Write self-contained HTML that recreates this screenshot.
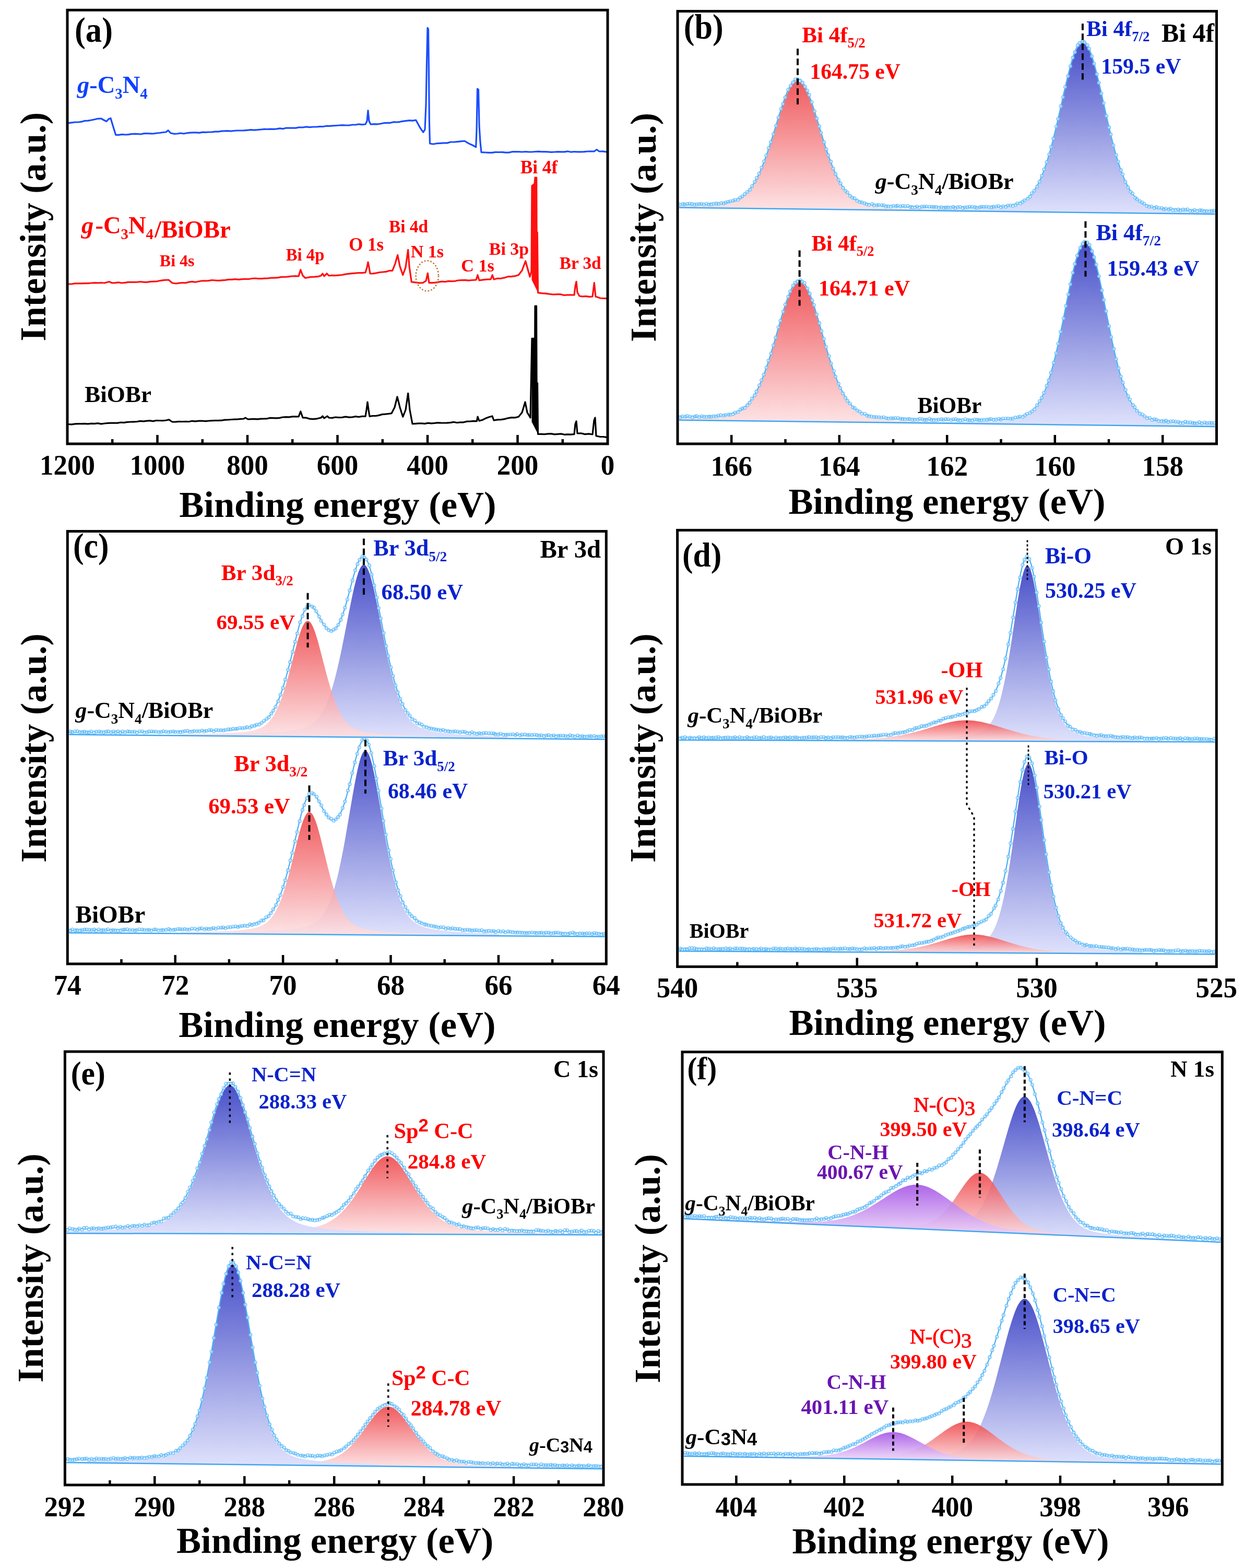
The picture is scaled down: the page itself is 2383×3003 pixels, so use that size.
<!DOCTYPE html><html><head><meta charset="utf-8"><style>html,body{margin:0;padding:0;background:#fff;}svg{display:block;} text{font-family:"Liberation Serif","Times New Roman",serif;font-weight:bold;}</style></head><body><svg width="2383" height="3003" viewBox="0 0 2383 3003"><rect width="2383" height="3003" fill="#fff"/><defs><linearGradient id="g1" x1="0" y1="0" x2="0" y2="1"><stop offset="0" stop-color="#3f47c6"/><stop offset="1" stop-color="#dde0fb"/></linearGradient><linearGradient id="g2" x1="0" y1="0" x2="0" y2="1"><stop offset="0" stop-color="#ee4448"/><stop offset="1" stop-color="#fde0e2"/></linearGradient><linearGradient id="g3" x1="0" y1="0" x2="0" y2="1"><stop offset="0" stop-color="#ee4448"/><stop offset="1" stop-color="#fde0e2"/></linearGradient><linearGradient id="g4" x1="0" y1="0" x2="0" y2="1"><stop offset="0" stop-color="#3f47c6"/><stop offset="1" stop-color="#dde0fb"/></linearGradient><linearGradient id="g5" x1="0" y1="0" x2="0" y2="1"><stop offset="0" stop-color="#3f47c6"/><stop offset="1" stop-color="#dde0fb"/></linearGradient><linearGradient id="g6" x1="0" y1="0" x2="0" y2="1"><stop offset="0" stop-color="#ee4448"/><stop offset="1" stop-color="#fde0e2"/></linearGradient><linearGradient id="g7" x1="0" y1="0" x2="0" y2="1"><stop offset="0" stop-color="#3f47c6"/><stop offset="1" stop-color="#dde0fb"/></linearGradient><linearGradient id="g8" x1="0" y1="0" x2="0" y2="1"><stop offset="0" stop-color="#ee4448"/><stop offset="1" stop-color="#fde0e2"/></linearGradient><linearGradient id="g9" x1="0" y1="0" x2="0" y2="1"><stop offset="0" stop-color="#3f47c6"/><stop offset="1" stop-color="#dde0fb"/></linearGradient><linearGradient id="g10" x1="0" y1="0" x2="0" y2="1"><stop offset="0" stop-color="#ee4448"/><stop offset="1" stop-color="#fde0e2"/></linearGradient><linearGradient id="g11" x1="0" y1="0" x2="0" y2="1"><stop offset="0" stop-color="#3f47c6"/><stop offset="1" stop-color="#dde0fb"/></linearGradient><linearGradient id="g12" x1="0" y1="0" x2="0" y2="1"><stop offset="0" stop-color="#ee4448"/><stop offset="1" stop-color="#fde0e2"/></linearGradient><linearGradient id="g13" x1="0" y1="0" x2="0" y2="1"><stop offset="0" stop-color="#ee4448"/><stop offset="1" stop-color="#fde0e2"/></linearGradient><linearGradient id="g14" x1="0" y1="0" x2="0" y2="1"><stop offset="0" stop-color="#3f47c6"/><stop offset="1" stop-color="#dde0fb"/></linearGradient><linearGradient id="g15" x1="0" y1="0" x2="0" y2="1"><stop offset="0" stop-color="#ee4448"/><stop offset="1" stop-color="#fde0e2"/></linearGradient><linearGradient id="g16" x1="0" y1="0" x2="0" y2="1"><stop offset="0" stop-color="#3f47c6"/><stop offset="1" stop-color="#dde0fb"/></linearGradient><linearGradient id="g17" x1="0" y1="0" x2="0" y2="1"><stop offset="0" stop-color="#3f47c6"/><stop offset="1" stop-color="#dde0fb"/></linearGradient><linearGradient id="g18" x1="0" y1="0" x2="0" y2="1"><stop offset="0" stop-color="#ee4448"/><stop offset="1" stop-color="#fde0e2"/></linearGradient><linearGradient id="g19" x1="0" y1="0" x2="0" y2="1"><stop offset="0" stop-color="#a655e6"/><stop offset="1" stop-color="#f3e2fb"/></linearGradient><linearGradient id="g20" x1="0" y1="0" x2="0" y2="1"><stop offset="0" stop-color="#3f47c6"/><stop offset="1" stop-color="#dde0fb"/></linearGradient><linearGradient id="g21" x1="0" y1="0" x2="0" y2="1"><stop offset="0" stop-color="#ee4448"/><stop offset="1" stop-color="#fde0e2"/></linearGradient><linearGradient id="g22" x1="0" y1="0" x2="0" y2="1"><stop offset="0" stop-color="#a655e6"/><stop offset="1" stop-color="#f3e2fb"/></linearGradient></defs><path d="M1018.5,536 L1019,356 L1024,352 L1025,340 L1027.7,340 L1028,445 L1029.3,445 L1030.5,560.6 Z" fill="#ff1010"/>
<path d="M1018.5,808 L1019,648.3 L1024.7,648.3 L1025,586 L1027.5,586 L1028,733.5 L1029.5,733.5 L1030.5,831.3 Z" fill="#000"/>
<path d="M131.0,235.6 L137.3,234.8 L143.7,234.0 L150.0,234.0 L156.2,233.2 L162.5,231.3 L168.8,231.1 L175.0,230.0 L181.2,228.8 L187.4,227.3 L193.6,227.0 L199.0,230.0 L204.0,232.5 L208.0,228.0 L212.0,226.5 L216.0,240.0 L221.7,258.4 L227.8,258.3 L233.9,257.4 L240.0,258.0 L246.0,257.6 L252.0,256.7 L258.0,256.4 L264.0,256.7 L270.0,257.0 L276.0,255.6 L282.0,255.5 L288.0,255.8 L294.0,256.0 L300.0,255.0 L306.0,254.5 L312.0,253.5 L318.0,253.0 L322.0,249.7 L327.0,255.0 L333.5,256.3 L340.0,256.0 L346.0,255.0 L352.0,256.0 L358.0,254.8 L364.0,254.2 L370.0,253.9 L376.0,253.9 L382.0,254.4 L388.0,253.1 L394.0,253.4 L400.0,253.0 L406.0,252.9 L412.0,252.2 L418.0,252.2 L424.0,251.1 L430.0,250.8 L436.0,250.7 L442.0,251.2 L448.0,250.5 L454.0,250.0 L460.0,250.0 L466.7,249.8 L473.3,249.3 L480.0,248.7 L486.7,249.1 L493.3,248.7 L500.0,248.0 L506.0,247.3 L512.0,247.5 L518.0,247.1 L524.0,247.4 L530.0,246.9 L536.0,245.9 L542.0,246.7 L548.0,245.0 L554.0,245.2 L560.0,245.0 L566.7,245.1 L573.3,243.8 L580.0,244.0 L586.7,242.9 L593.3,243.6 L600.0,243.0 L606.2,243.0 L612.5,242.4 L618.8,242.5 L625.0,241.2 L631.2,241.4 L637.5,240.9 L643.8,240.5 L650.0,240.0 L656.2,239.7 L662.5,240.0 L668.8,240.0 L675.0,239.0 L681.2,239.0 L687.5,237.8 L693.8,238.6 L700.0,238.0 L703.0,232.0 L705.0,211.7 L707.0,232.0 L710.0,238.0 L716.2,237.7 L722.5,237.8 L728.8,237.0 L735.0,235.7 L741.2,235.3 L747.5,235.3 L753.8,233.7 L760.0,234.0 L766.1,233.3 L772.2,232.1 L778.4,231.4 L784.5,230.6 L790.6,231.1 L796.7,230.0 L805.0,245.0 L810.7,253.3 L814.0,248.0 L816.0,200.0 L817.5,120.0 L819.0,53.3 L820.5,56.0 L821.5,140.0 L822.3,230.0 L823.5,275.0 L830.0,276.0 L836.7,274.7 L843.3,274.3 L850.0,273.8 L856.7,273.9 L863.3,272.0 L870.0,272.0 L876.7,271.3 L883.3,270.7 L890.0,270.0 L897.5,274.6 L905.0,278.0 L911.7,281.7 L913.0,250.0 L914.5,170.0 L916.5,172.0 L918.0,240.0 L920.0,272.0 L922.0,291.7 L930.0,292.0 L936.4,292.4 L942.7,292.4 L949.1,291.4 L955.5,291.5 L961.8,291.3 L968.2,292.1 L974.5,292.1 L980.9,290.7 L987.3,290.7 L993.6,290.7 L1000.0,291.0 L1006.2,290.5 L1012.5,290.9 L1018.8,291.0 L1025.0,290.5 L1031.2,290.1 L1037.5,290.7 L1043.8,290.6 L1050.0,290.9 L1056.2,291.4 L1062.5,291.0 L1068.8,290.7 L1075.0,290.8 L1081.2,290.9 L1087.5,289.8 L1093.8,291.2 L1100.0,290.5 L1106.3,290.9 L1112.7,290.9 L1119.0,290.7 L1125.3,290.0 L1131.7,289.9 L1138.0,290.0 L1143.0,286.5 L1148.0,290.0 L1155.0,289.9 L1162.0,291.0" fill="none" stroke="#1a4cff" stroke-width="3.2" stroke-linejoin="round"/>
<path d="M131.0,544.0 L137.3,544.0 L143.5,542.9 L149.8,542.8 L156.1,542.8 L162.4,542.6 L168.6,542.7 L174.9,542.0 L181.2,541.7 L187.5,541.8 L193.7,541.5 L200.0,542.0 L209.0,539.5 L215.0,542.0 L221.1,541.6 L227.1,540.8 L233.2,542.0 L239.3,541.3 L245.4,540.4 L251.4,540.3 L257.5,540.3 L263.6,540.1 L269.6,539.5 L275.7,540.4 L281.8,540.4 L287.9,539.4 L293.9,539.2 L300.0,539.0 L307.7,537.3 L315.3,536.4 L323.0,536.0 L330.0,542.0 L337.0,543.0 L343.2,542.2 L349.4,541.5 L355.7,541.8 L361.9,540.1 L368.1,539.3 L374.3,540.3 L380.6,539.0 L386.8,537.8 L393.0,537.8 L399.4,537.6 L405.8,536.5 L412.2,537.0 L418.7,537.4 L425.1,536.9 L431.5,536.4 L437.9,535.4 L444.3,535.3 L450.8,534.6 L457.2,535.3 L463.6,534.6 L470.0,534.3 L476.2,534.5 L482.5,533.5 L488.8,533.0 L495.0,533.6 L501.2,533.6 L507.5,533.1 L513.8,532.8 L520.0,532.0 L526.5,532.1 L533.0,531.6 L539.5,530.4 L546.0,530.5 L552.5,529.9 L559.0,529.0 L565.5,528.6 L572.0,529.0 L575.8,516.7 L580.0,528.0 L585.0,532.5 L591.0,531.2 L597.0,530.3 L603.0,530.1 L609.0,529.6 L615.0,528.0 L618.0,524.0 L621.0,529.0 L626.0,523.8 L630.0,528.0 L636.4,527.4 L642.7,527.6 L649.1,527.1 L655.5,526.5 L661.8,525.1 L668.2,524.3 L674.5,523.7 L680.9,523.2 L687.3,522.6 L693.6,522.7 L700.0,522.0 L703.0,512.0 L705.0,502.0 L707.0,512.0 L709.0,524.0 L715.1,523.8 L721.2,522.9 L727.3,521.5 L733.4,521.0 L739.5,520.4 L745.6,518.4 L751.7,518.3 L757.0,505.0 L761.7,488.3 L766.0,510.0 L771.7,526.7 L777.0,512.0 L781.7,478.3 L784.0,510.0 L788.3,540.0 L795.5,540.8 L802.8,541.8 L810.0,541.7 L816.0,538.0 L819.3,523.3 L822.0,541.7 L828.1,541.7 L834.3,541.1 L840.4,540.2 L846.5,539.2 L852.6,539.7 L858.8,538.4 L864.9,538.7 L871.0,538.5 L877.2,537.0 L883.3,536.7 L890.5,536.4 L897.6,537.1 L904.8,536.5 L912.0,536.0 L915.0,526.7 L918.0,537.0 L925.3,535.8 L932.7,535.1 L940.0,535.0 L943.3,526.7 L946.0,535.0 L952.8,533.3 L959.5,533.3 L966.3,531.9 L973.0,529.7 L979.8,529.6 L986.5,528.7 L993.3,526.7 L1000.0,518.0 L1006.7,500.0 L1010.0,512.0 L1015.0,530.0 L1018.0,520.0 L1019.0,356.0 L1024.0,352.0 L1025.0,340.0 L1027.7,340.0 L1028.0,445.0 L1029.3,445.0 L1030.5,560.6 L1037.9,561.7 L1045.2,562.1 L1052.6,563.2 L1060.0,564.0 L1066.7,563.6 L1073.3,563.6 L1080.0,565.3 L1086.7,564.9 L1093.3,564.9 L1100.0,565.0 L1102.0,548.0 L1104.0,539.3 L1106.0,560.0 L1110.0,567.0 L1116.2,567.9 L1122.5,567.4 L1128.8,568.3 L1135.0,568.0 L1138.3,541.7 L1141.0,568.0 L1150.0,571.0 L1162.0,571.7" fill="none" stroke="#ff1010" stroke-width="3.2" stroke-linejoin="round"/>
<path d="M131.0,812.5 L137.3,812.9 L143.5,811.8 L149.8,811.7 L156.1,811.6 L162.4,811.4 L168.6,811.8 L174.9,811.2 L181.2,811.3 L187.5,810.7 L193.7,811.8 L200.0,811.0 L206.2,810.4 L212.5,810.2 L218.8,810.0 L225.0,810.1 L231.2,809.0 L237.5,809.4 L243.8,808.4 L250.0,808.0 L256.2,807.8 L262.4,807.5 L268.5,806.4 L274.7,806.8 L280.9,806.1 L287.1,805.6 L293.3,806.6 L299.5,805.3 L305.6,805.5 L311.8,805.6 L318.0,805.0 L323.4,803.7 L330.0,808.0 L336.4,807.9 L342.7,807.4 L349.1,807.5 L355.5,807.4 L361.8,807.5 L368.2,806.3 L374.5,806.8 L380.9,806.1 L387.3,806.0 L393.6,806.6 L400.0,806.0 L406.1,805.6 L412.2,805.4 L418.3,805.3 L424.4,805.2 L430.5,804.1 L436.5,804.0 L442.6,803.5 L448.7,803.1 L454.8,803.0 L460.9,802.3 L467.0,802.0 L470.0,800.0 L475.0,803.0 L481.1,802.7 L487.1,802.3 L493.2,802.8 L499.2,802.1 L505.3,802.0 L511.4,801.8 L517.4,800.4 L523.5,800.6 L529.6,800.9 L535.6,800.4 L541.7,799.0 L547.8,798.6 L553.8,798.8 L559.9,797.9 L565.9,797.9 L572.0,798.0 L575.8,788.0 L580.0,800.0 L586.7,800.2 L593.3,802.1 L600.0,802.7 L607.5,801.8 L615.0,800.0 L618.0,797.0 L621.0,801.0 L627.0,797.0 L630.0,800.0 L636.4,800.4 L642.7,799.0 L649.1,799.6 L655.5,799.3 L661.8,798.2 L668.2,799.1 L674.5,799.0 L680.9,797.6 L687.3,798.5 L693.6,797.4 L700.0,797.3 L702.0,785.0 L704.0,770.0 L706.0,785.0 L708.0,797.3 L714.0,796.5 L720.0,796.5 L726.0,795.4 L732.0,793.6 L738.0,793.2 L744.0,792.5 L750.0,791.7 L756.0,780.0 L761.0,760.0 L766.0,780.0 L771.7,798.3 L777.0,785.0 L781.7,753.3 L785.0,785.0 L790.0,811.7 L796.0,811.3 L802.0,810.9 L808.0,810.9 L814.0,811.4 L820.0,810.1 L826.0,810.8 L832.0,810.4 L838.0,809.6 L844.0,809.9 L850.0,810.0 L856.3,809.9 L862.7,809.4 L869.0,808.3 L875.3,809.5 L881.6,808.8 L888.0,808.8 L894.3,807.1 L900.6,807.0 L907.0,806.3 L913.3,806.7 L915.0,798.0 L918.0,806.0 L924.2,804.2 L930.5,801.1 L936.8,798.7 L943.0,797.0 L946.0,805.0 L952.8,803.9 L959.5,803.7 L966.3,802.6 L973.0,800.8 L979.8,799.7 L986.5,799.9 L993.3,798.3 L1000.0,790.0 L1006.0,770.0 L1010.0,790.0 L1016.0,800.0 L1019.0,648.3 L1024.7,648.3 L1025.0,586.0 L1027.5,586.0 L1028.0,733.5 L1029.5,733.5 L1030.5,831.3 L1036.8,831.4 L1043.1,831.7 L1049.5,830.8 L1055.8,830.7 L1062.1,831.8 L1068.4,831.4 L1074.7,830.9 L1081.0,832.3 L1087.4,831.8 L1093.7,832.1 L1100.0,831.7 L1102.0,812.0 L1104.0,806.7 L1106.0,830.0 L1113.2,829.8 L1120.5,831.6 L1127.8,830.8 L1135.0,832.0 L1138.0,805.0 L1140.0,800.0 L1142.0,835.0 L1148.7,836.3 L1155.3,836.5 L1162.0,837.3" fill="none" stroke="#000" stroke-width="3.2" stroke-linejoin="round"/>
<ellipse cx="818.3" cy="528.3" rx="21.7" ry="29" fill="none" stroke="#b8732c" stroke-width="2.6" stroke-dasharray="2.6 3.4"/>
<text transform="translate(148.0,178.0)" x="0.0" y="0" font-size="46.5" fill="#1040ff"><tspan font-style="italic">g</tspan><tspan>-C</tspan><tspan dy="11.2" font-size="28.8">3</tspan><tspan dy="-11.2">N</tspan><tspan dy="11.2" font-size="28.8">4</tspan></text>
<text transform="translate(155.9,447.0)" x="0.0" y="0" font-size="46.5" fill="#ff0000"><tspan font-style="italic">g</tspan></text>
<text transform="translate(182.5,447.0)" x="0.0" y="0" font-size="46.5" fill="#ff0000"><tspan>-C</tspan><tspan dy="11.2" font-size="28.8">3</tspan><tspan dy="-11.2">N</tspan><tspan dy="11.2" font-size="28.8">4</tspan></text>
<text transform="translate(296.0,455.0)" x="0.0" y="0" font-size="46.9" fill="#ff0000"><tspan>/BiOBr</tspan></text>
<text transform="translate(305.8,509.7)" x="0.0" y="0" font-size="32.0" fill="#ff0000"><tspan>Bi 4s</tspan></text>
<text transform="translate(547.8,499.2)" x="0.0" y="0" font-size="32.7" fill="#ff0000"><tspan>Bi 4p</tspan></text>
<text transform="translate(668.3,480.0)" x="0.0" y="0" font-size="34.8" fill="#ff0000"><tspan>O 1s</tspan></text>
<text transform="translate(745.0,445.0)" x="0.0" y="0" font-size="33.3" fill="#ff0000"><tspan>Bi 4d</tspan></text>
<text transform="translate(786.7,493.3)" x="0.0" y="0" font-size="34.0" fill="#ff0000"><tspan>N 1s</tspan></text>
<text transform="translate(883.3,520.0)" x="0.0" y="0" font-size="34.1" fill="#ff0000"><tspan>C 1s</tspan></text>
<text transform="translate(936.7,488.3)" x="0.0" y="0" font-size="34.0" fill="#ff0000"><tspan>Bi 3p</tspan></text>
<text transform="translate(1071.7,515.0)" x="0.0" y="0" font-size="33.3" fill="#ff0000"><tspan>Br 3d</tspan></text>
<text transform="translate(996.7,331.7)" x="0.0" y="0" font-size="35.3" fill="#ff0000"><tspan>Bi 4f</tspan></text>
<text transform="translate(162.0,769.7)" x="0.0" y="0" font-size="45.2" fill="#000"><tspan>BiOBr</tspan></text>
<text transform="translate(143.0,79.5) scale(1,1.080)" x="0.0" y="0" font-size="62.6" fill="#000"><tspan>(a)</tspan></text>
<path d="M1753.9,402.0 L1753.9,400.9 L1755.9,400.9 L1757.9,400.9 L1759.9,400.9 L1761.9,400.9 L1763.9,400.9 L1765.9,400.9 L1767.9,400.9 L1769.9,400.9 L1771.9,400.9 L1773.9,400.9 L1775.9,400.9 L1777.9,401.0 L1779.9,401.0 L1781.9,401.0 L1783.9,401.0 L1785.9,401.0 L1787.9,401.0 L1789.9,401.0 L1791.9,401.0 L1793.9,401.0 L1795.9,401.0 L1797.9,401.0 L1799.9,401.0 L1801.9,401.0 L1803.9,401.0 L1805.9,401.0 L1807.9,401.0 L1809.9,401.0 L1811.9,401.0 L1813.9,401.0 L1815.9,401.0 L1817.9,401.0 L1819.9,401.0 L1821.9,401.0 L1823.9,401.0 L1825.8,401.0 L1827.8,401.0 L1829.8,401.0 L1831.8,401.0 L1833.8,401.0 L1835.8,401.0 L1837.8,400.9 L1839.8,400.9 L1841.8,400.9 L1843.8,400.9 L1845.8,400.9 L1847.8,400.9 L1849.8,400.9 L1851.8,400.9 L1853.8,400.8 L1855.8,400.8 L1857.8,400.8 L1859.8,400.8 L1861.8,400.8 L1863.8,400.7 L1865.8,400.7 L1867.8,400.7 L1869.8,400.7 L1871.8,400.6 L1873.8,400.6 L1875.8,400.6 L1877.8,400.5 L1879.8,400.5 L1881.8,400.5 L1883.8,400.4 L1885.8,400.4 L1887.8,400.3 L1889.8,400.3 L1891.8,400.3 L1893.8,400.2 L1895.8,400.1 L1897.8,400.1 L1899.8,400.0 L1901.8,400.0 L1903.8,399.9 L1905.8,399.8 L1907.8,399.7 L1909.8,399.6 L1911.8,399.5 L1913.8,399.4 L1915.8,399.3 L1917.8,399.2 L1919.8,399.0 L1921.8,398.9 L1923.8,398.7 L1925.8,398.5 L1927.8,398.3 L1929.8,398.1 L1931.8,397.8 L1933.8,397.5 L1935.8,397.2 L1937.8,396.9 L1939.8,396.5 L1941.8,396.0 L1943.8,395.6 L1945.8,395.0 L1947.8,394.4 L1949.8,393.8 L1951.8,393.0 L1953.8,392.2 L1955.8,391.4 L1957.8,390.4 L1959.8,389.3 L1961.8,388.1 L1963.8,386.7 L1965.8,385.3 L1967.8,383.7 L1969.7,382.0 L1971.7,380.0 L1973.7,378.0 L1975.7,375.7 L1977.7,373.2 L1979.7,370.5 L1981.7,367.6 L1983.7,364.5 L1985.7,361.1 L1987.7,357.5 L1989.7,353.6 L1991.7,349.5 L1993.7,345.0 L1995.7,340.3 L1997.7,335.3 L1999.7,330.0 L2001.7,324.4 L2003.7,318.5 L2005.7,312.3 L2007.7,305.8 L2009.7,299.0 L2011.7,291.9 L2013.7,284.6 L2015.7,277.0 L2017.7,269.2 L2019.7,261.1 L2021.7,252.8 L2023.7,244.3 L2025.7,235.7 L2027.7,227.0 L2029.7,218.1 L2031.7,209.2 L2033.7,200.2 L2035.7,191.3 L2037.7,182.4 L2039.7,173.6 L2041.7,164.9 L2043.7,156.4 L2045.7,148.2 L2047.7,140.2 L2049.7,132.5 L2051.7,125.3 L2053.7,118.4 L2055.7,112.0 L2057.7,106.1 L2059.7,100.8 L2061.7,96.1 L2063.7,92.1 L2065.7,88.7 L2067.7,86.0 L2069.7,84.0 L2071.7,82.8 L2073.7,82.4 L2075.7,82.7 L2077.7,83.8 L2079.7,85.6 L2081.7,88.2 L2083.7,91.5 L2085.7,95.4 L2087.7,100.1 L2089.7,105.3 L2091.7,111.1 L2093.7,117.4 L2095.7,124.2 L2097.7,131.5 L2099.7,139.1 L2101.7,147.1 L2103.7,155.3 L2105.7,163.8 L2107.7,172.5 L2109.7,181.3 L2111.7,190.2 L2113.6,199.2 L2115.6,208.2 L2117.6,217.2 L2119.6,226.1 L2121.6,234.9 L2123.6,243.6 L2125.6,252.2 L2127.6,260.6 L2129.6,268.7 L2131.6,276.7 L2133.6,284.4 L2135.6,291.8 L2137.6,299.0 L2139.6,305.9 L2141.6,312.5 L2143.6,318.8 L2145.6,324.9 L2147.6,330.6 L2149.6,336.0 L2151.6,341.1 L2153.6,346.0 L2155.6,350.5 L2157.6,354.8 L2159.6,358.8 L2161.6,362.5 L2163.6,366.0 L2165.6,369.2 L2167.6,372.2 L2169.6,375.0 L2171.6,377.5 L2173.6,379.9 L2175.6,382.1 L2177.6,384.1 L2179.6,385.9 L2181.6,387.6 L2183.6,389.1 L2185.6,390.5 L2187.6,391.8 L2189.6,392.9 L2191.6,394.0 L2193.6,395.0 L2195.6,395.8 L2197.6,396.6 L2199.6,397.3 L2201.6,398.0 L2203.6,398.6 L2205.6,399.1 L2207.6,399.6 L2209.6,400.1 L2211.6,400.5 L2213.6,400.8 L2215.6,401.2 L2217.6,401.5 L2219.6,401.8 L2221.6,402.0 L2223.6,402.3 L2225.6,402.5 L2227.6,402.7 L2229.6,402.9 L2231.6,403.1 L2233.6,403.3 L2235.6,403.4 L2237.6,403.6 L2239.6,403.7 L2241.6,403.9 L2243.6,404.0 L2245.6,404.1 L2247.6,404.2 L2249.6,404.3 L2251.6,404.4 L2253.6,404.5 L2255.6,404.6 L2257.5,404.7 L2259.5,404.8 L2261.5,404.9 L2263.5,405.0 L2265.5,405.1 L2267.5,405.2 L2269.5,405.3 L2271.5,405.4 L2273.5,405.4 L2275.5,405.5 L2277.5,405.6 L2279.5,405.7 L2281.5,405.8 L2283.5,405.8 L2285.5,405.9 L2287.5,406.0 L2289.5,406.0 L2291.5,406.1 L2293.5,406.2 L2295.5,406.2 L2297.5,406.3 L2299.5,406.4 L2301.5,406.4 L2303.5,406.5 L2305.5,406.5 L2307.5,406.6 L2309.5,406.7 L2311.5,406.7 L2313.5,406.8 L2315.5,406.8 L2317.5,406.9 L2319.5,406.9 L2321.5,407.0 L2323.5,407.0 L2325.5,407.1 L2327.5,407.2 L2327.5,409.0Z" fill="url(#g1)" fill-opacity="0.95"/>
<path d="M1301.0,396.5 L1301.0,394.7 L1303.0,394.7 L1305.0,394.7 L1307.0,394.7 L1309.0,394.7 L1311.0,394.7 L1313.0,394.7 L1315.0,394.7 L1317.0,394.6 L1318.9,394.6 L1320.9,394.6 L1322.9,394.6 L1324.9,394.6 L1326.9,394.6 L1328.9,394.5 L1330.9,394.5 L1332.9,394.5 L1334.9,394.5 L1336.9,394.4 L1338.9,394.4 L1340.9,394.4 L1342.9,394.4 L1344.9,394.3 L1346.9,394.3 L1348.9,394.2 L1350.8,394.2 L1352.8,394.1 L1354.8,394.1 L1356.8,394.0 L1358.8,394.0 L1360.8,393.9 L1362.8,393.8 L1364.8,393.8 L1366.8,393.7 L1368.8,393.6 L1370.8,393.5 L1372.8,393.3 L1374.8,393.2 L1376.8,393.1 L1378.8,392.9 L1380.8,392.7 L1382.8,392.5 L1384.7,392.3 L1386.7,392.1 L1388.7,391.8 L1390.7,391.5 L1392.7,391.2 L1394.7,390.8 L1396.7,390.4 L1398.7,390.0 L1400.7,389.5 L1402.7,388.9 L1404.7,388.3 L1406.7,387.7 L1408.7,386.9 L1410.7,386.1 L1412.7,385.2 L1414.7,384.3 L1416.6,383.2 L1418.6,382.0 L1420.6,380.7 L1422.6,379.3 L1424.6,377.8 L1426.6,376.1 L1428.6,374.3 L1430.6,372.4 L1432.6,370.3 L1434.6,368.0 L1436.6,365.6 L1438.6,363.0 L1440.6,360.2 L1442.6,357.2 L1444.6,354.0 L1446.6,350.7 L1448.5,347.1 L1450.5,343.3 L1452.5,339.3 L1454.5,335.1 L1456.5,330.6 L1458.5,326.0 L1460.5,321.2 L1462.5,316.1 L1464.5,310.9 L1466.5,305.4 L1468.5,299.8 L1470.5,294.0 L1472.5,288.1 L1474.5,282.0 L1476.5,275.8 L1478.5,269.5 L1480.5,263.1 L1482.4,256.6 L1484.4,250.1 L1486.4,243.6 L1488.4,237.0 L1490.4,230.6 L1492.4,224.1 L1494.4,217.8 L1496.4,211.6 L1498.4,205.5 L1500.4,199.7 L1502.4,194.1 L1504.4,188.7 L1506.4,183.6 L1508.4,178.9 L1510.4,174.5 L1512.4,170.4 L1514.3,166.8 L1516.3,163.7 L1518.3,161.0 L1520.3,158.8 L1522.3,157.2 L1524.3,156.0 L1526.3,155.4 L1528.3,155.3 L1530.3,155.8 L1532.3,156.7 L1534.3,158.3 L1536.3,160.3 L1538.3,162.8 L1540.3,165.9 L1542.3,169.3 L1544.3,173.2 L1546.3,177.5 L1548.2,182.2 L1550.2,187.2 L1552.2,192.5 L1554.2,198.1 L1556.2,203.9 L1558.2,209.9 L1560.2,216.1 L1562.2,222.5 L1564.2,228.9 L1566.2,235.4 L1568.2,242.0 L1570.2,248.6 L1572.2,255.1 L1574.2,261.7 L1576.2,268.2 L1578.2,274.6 L1580.1,280.9 L1582.1,287.0 L1584.1,293.1 L1586.1,299.0 L1588.1,304.7 L1590.1,310.3 L1592.1,315.6 L1594.1,320.8 L1596.1,325.8 L1598.1,330.5 L1600.1,335.1 L1602.1,339.5 L1604.1,343.6 L1606.1,347.5 L1608.1,351.2 L1610.1,354.7 L1612.0,358.0 L1614.0,361.2 L1616.0,364.1 L1618.0,366.8 L1620.0,369.3 L1622.0,371.7 L1624.0,373.9 L1626.0,376.0 L1628.0,377.9 L1630.0,379.6 L1632.0,381.3 L1634.0,382.8 L1636.0,384.1 L1638.0,385.4 L1640.0,386.6 L1642.0,387.6 L1644.0,388.6 L1645.9,389.5 L1647.9,390.3 L1649.9,391.1 L1651.9,391.7 L1653.9,392.3 L1655.9,392.9 L1657.9,393.4 L1659.9,393.9 L1661.9,394.3 L1663.9,394.7 L1665.9,395.1 L1667.9,395.4 L1669.9,395.7 L1671.9,396.0 L1673.9,396.2 L1675.9,396.4 L1677.8,396.7 L1679.8,396.9 L1681.8,397.0 L1683.8,397.2 L1685.8,397.4 L1687.8,397.5 L1689.8,397.7 L1691.8,397.8 L1693.8,397.9 L1695.8,398.0 L1697.8,398.1 L1699.8,398.3 L1701.8,398.4 L1703.8,398.5 L1705.8,398.5 L1707.8,398.6 L1709.8,398.7 L1711.7,398.8 L1713.7,398.9 L1715.7,399.0 L1717.7,399.0 L1719.7,399.1 L1721.7,399.2 L1723.7,399.3 L1725.7,399.3 L1727.7,399.4 L1729.7,399.5 L1731.7,399.5 L1733.7,399.6 L1735.7,399.7 L1737.7,399.7 L1739.7,399.8 L1741.7,399.9 L1743.6,399.9 L1745.6,400.0 L1747.6,400.0 L1749.6,400.1 L1751.6,400.1 L1753.6,400.2 L1755.6,400.3 L1757.6,400.3 L1759.6,400.4 L1761.6,400.4 L1763.6,400.5 L1765.6,400.5 L1767.6,400.6 L1769.6,400.6 L1771.6,400.7 L1773.6,400.7 L1775.5,400.8 L1777.5,400.8 L1779.5,400.9 L1781.5,400.9 L1783.5,400.9 L1785.5,401.0 L1787.5,401.0 L1789.5,401.1 L1791.5,401.1 L1793.5,401.2 L1795.5,401.2 L1797.5,401.3 L1799.5,401.3 L1801.5,401.3 L1803.5,401.4 L1805.5,401.4 L1807.5,401.5 L1809.4,401.5 L1811.4,401.5 L1813.4,401.6 L1815.4,401.6 L1817.4,401.7 L1819.4,401.7 L1821.4,401.7 L1823.4,401.8 L1825.4,401.8 L1827.4,401.9 L1829.4,401.9 L1831.4,401.9 L1833.4,402.0 L1835.4,402.0 L1837.4,402.0 L1839.4,402.1 L1841.3,402.1 L1843.3,402.1 L1845.3,402.2 L1847.3,402.2 L1849.3,402.3 L1851.3,402.3 L1853.3,402.3 L1855.3,402.4 L1857.3,402.4 L1857.3,403.3Z" fill="url(#g2)" fill-opacity="0.88"/>
<path d="M1301.0,397.5 L2327.5,410.0" stroke="#3ea6f2" stroke-width="2.5"/>
<path d="M1301.0,391.5 L1303.0,391.5 L1305.0,391.5 L1307.0,391.5 L1309.0,391.5 L1311.0,391.5 L1313.0,391.5 L1315.0,391.4 L1317.0,391.4 L1319.0,391.4 L1321.0,391.4 L1323.0,391.4 L1325.0,391.4 L1327.0,391.3 L1329.0,391.3 L1331.0,391.3 L1333.0,391.3 L1335.0,391.3 L1337.0,391.2 L1339.0,391.2 L1341.0,391.2 L1343.0,391.1 L1345.0,391.1 L1347.0,391.1 L1349.0,391.0 L1351.0,391.0 L1353.0,390.9 L1355.0,390.9 L1357.0,390.8 L1359.0,390.7 L1361.0,390.7 L1363.0,390.6 L1365.0,390.5 L1367.0,390.4 L1369.0,390.3 L1371.0,390.2 L1373.0,390.1 L1375.0,390.0 L1377.0,389.8 L1379.0,389.6 L1381.0,389.5 L1383.0,389.3 L1385.0,389.0 L1387.0,388.8 L1389.0,388.5 L1391.0,388.2 L1393.0,387.9 L1395.0,387.5 L1397.0,387.1 L1399.0,386.6 L1401.0,386.1 L1403.0,385.6 L1405.1,385.0 L1407.1,384.3 L1409.1,383.5 L1411.1,382.7 L1413.1,381.8 L1415.1,380.8 L1417.1,379.7 L1419.1,378.5 L1421.1,377.1 L1423.1,375.7 L1425.1,374.2 L1427.1,372.5 L1429.1,370.6 L1431.1,368.6 L1433.1,366.5 L1435.1,364.2 L1437.1,361.7 L1439.1,359.0 L1441.1,356.2 L1443.1,353.1 L1445.1,349.9 L1447.1,346.4 L1449.1,342.8 L1451.1,338.9 L1453.1,334.9 L1455.1,330.6 L1457.1,326.1 L1459.1,321.3 L1461.1,316.4 L1463.1,311.3 L1465.1,306.0 L1467.1,300.5 L1469.1,294.8 L1471.1,288.9 L1473.1,282.9 L1475.1,276.8 L1477.1,270.5 L1479.1,264.1 L1481.1,257.7 L1483.1,251.2 L1485.1,244.6 L1487.1,238.1 L1489.1,231.5 L1491.1,225.0 L1493.1,218.6 L1495.1,212.3 L1497.1,206.1 L1499.1,200.1 L1501.1,194.3 L1503.1,188.7 L1505.1,183.4 L1507.1,178.5 L1509.1,173.8 L1511.1,169.5 L1513.1,165.7 L1515.1,162.2 L1517.1,159.2 L1519.1,156.7 L1521.1,154.7 L1523.1,153.2 L1525.1,152.3 L1527.1,151.9 L1529.1,152.0 L1531.1,152.7 L1533.1,153.9 L1535.1,155.6 L1537.1,157.9 L1539.1,160.6 L1541.1,163.9 L1543.1,167.5 L1545.1,171.6 L1547.1,176.1 L1549.1,180.9 L1551.1,186.1 L1553.1,191.5 L1555.1,197.2 L1557.1,203.2 L1559.1,209.3 L1561.1,215.6 L1563.1,222.0 L1565.1,228.5 L1567.1,235.0 L1569.1,241.6 L1571.1,248.2 L1573.1,254.8 L1575.1,261.4 L1577.1,267.8 L1579.1,274.2 L1581.1,280.5 L1583.1,286.6 L1585.1,292.6 L1587.1,298.4 L1589.1,304.1 L1591.1,309.5 L1593.1,314.8 L1595.1,319.9 L1597.1,324.8 L1599.1,329.5 L1601.1,333.9 L1603.1,338.2 L1605.1,342.2 L1607.1,346.0 L1609.2,349.6 L1611.2,353.0 L1613.2,356.2 L1615.2,359.2 L1617.2,362.0 L1619.2,364.7 L1621.2,367.1 L1623.2,369.4 L1625.2,371.5 L1627.2,373.5 L1629.2,375.3 L1631.2,377.0 L1633.2,378.5 L1635.2,380.0 L1637.2,381.3 L1639.2,382.5 L1641.2,383.6 L1643.2,384.6 L1645.2,385.5 L1647.2,386.3 L1649.2,387.1 L1651.2,387.8 L1653.2,388.4 L1655.2,389.0 L1657.2,389.6 L1659.2,390.0 L1661.2,390.5 L1663.2,390.9 L1665.2,391.2 L1667.2,391.6 L1669.2,391.9 L1671.2,392.1 L1673.2,392.4 L1675.2,392.6 L1677.2,392.8 L1679.2,393.0 L1681.2,393.2 L1683.2,393.4 L1685.2,393.5 L1687.2,393.7 L1689.2,393.8 L1691.2,393.9 L1693.2,394.1 L1695.2,394.2 L1697.2,394.3 L1699.2,394.4 L1701.2,394.5 L1703.2,394.6 L1705.2,394.6 L1707.2,394.7 L1709.2,394.8 L1711.2,394.9 L1713.2,395.0 L1715.2,395.0 L1717.2,395.1 L1719.2,395.2 L1721.2,395.2 L1723.2,395.3 L1725.2,395.3 L1727.2,395.4 L1729.2,395.5 L1731.2,395.5 L1733.2,395.6 L1735.2,395.6 L1737.2,395.7 L1739.2,395.7 L1741.2,395.8 L1743.2,395.8 L1745.2,395.9 L1747.2,395.9 L1749.2,396.0 L1751.2,396.0 L1753.2,396.0 L1755.2,396.1 L1757.2,396.1 L1759.2,396.2 L1761.2,396.2 L1763.2,396.2 L1765.2,396.3 L1767.2,396.3 L1769.2,396.3 L1771.2,396.4 L1773.2,396.4 L1775.2,396.4 L1777.2,396.5 L1779.2,396.5 L1781.2,396.5 L1783.2,396.5 L1785.2,396.6 L1787.2,396.6 L1789.2,396.6 L1791.2,396.6 L1793.2,396.7 L1795.2,396.7 L1797.2,396.7 L1799.2,396.7 L1801.2,396.8 L1803.2,396.8 L1805.2,396.8 L1807.2,396.8 L1809.2,396.8 L1811.2,396.8 L1813.2,396.9 L1815.3,396.9 L1817.3,396.9 L1819.3,396.9 L1821.3,396.9 L1823.3,396.9 L1825.3,396.9 L1827.3,396.9 L1829.3,396.9 L1831.3,396.9 L1833.3,397.0 L1835.3,397.0 L1837.3,397.0 L1839.3,397.0 L1841.3,397.0 L1843.3,397.0 L1845.3,397.0 L1847.3,397.0 L1849.3,397.0 L1851.3,397.0 L1853.3,397.0 L1855.3,396.9 L1857.3,396.9 L1859.3,396.9 L1861.3,396.9 L1863.3,396.9 L1865.3,396.9 L1867.3,396.9 L1869.3,396.9 L1871.3,396.8 L1873.3,396.8 L1875.3,396.8 L1877.3,396.8 L1879.3,396.7 L1881.3,396.7 L1883.3,396.7 L1885.3,396.7 L1887.3,396.6 L1889.3,396.6 L1891.3,396.5 L1893.3,396.5 L1895.3,396.5 L1897.3,396.4 L1899.3,396.3 L1901.3,396.3 L1903.3,396.2 L1905.3,396.2 L1907.3,396.1 L1909.3,396.0 L1911.3,395.9 L1913.3,395.8 L1915.3,395.7 L1917.3,395.6 L1919.3,395.4 L1921.3,395.3 L1923.3,395.1 L1925.3,394.9 L1927.3,394.7 L1929.3,394.5 L1931.3,394.3 L1933.3,394.0 L1935.3,393.7 L1937.3,393.4 L1939.3,393.0 L1941.3,392.6 L1943.3,392.1 L1945.3,391.6 L1947.3,391.0 L1949.3,390.4 L1951.3,389.7 L1953.3,388.9 L1955.3,388.0 L1957.3,387.1 L1959.3,386.0 L1961.3,384.8 L1963.3,383.5 L1965.3,382.1 L1967.3,380.6 L1969.3,378.8 L1971.3,377.0 L1973.3,374.9 L1975.3,372.7 L1977.3,370.3 L1979.3,367.6 L1981.3,364.8 L1983.3,361.7 L1985.3,358.4 L1987.3,354.8 L1989.3,351.0 L1991.3,346.9 L1993.3,342.5 L1995.3,337.8 L1997.3,332.9 L1999.3,327.6 L2001.3,322.1 L2003.3,316.2 L2005.3,310.1 L2007.3,303.6 L2009.3,296.9 L2011.3,289.9 L2013.3,282.6 L2015.3,275.0 L2017.3,267.2 L2019.3,259.2 L2021.4,250.9 L2023.4,242.5 L2025.4,233.9 L2027.4,225.1 L2029.4,216.3 L2031.4,207.4 L2033.4,198.4 L2035.4,189.5 L2037.4,180.6 L2039.4,171.7 L2041.4,163.0 L2043.4,154.5 L2045.4,146.2 L2047.4,138.1 L2049.4,130.4 L2051.4,123.1 L2053.4,116.1 L2055.4,109.7 L2057.4,103.7 L2059.4,98.3 L2061.4,93.5 L2063.4,89.3 L2065.4,85.8 L2067.4,83.0 L2069.4,81.0 L2071.4,79.6 L2073.4,79.1 L2075.4,79.3 L2077.4,80.3 L2079.4,82.0 L2081.4,84.5 L2083.4,87.6 L2085.4,91.5 L2087.4,96.1 L2089.4,101.2 L2091.4,106.9 L2093.4,113.2 L2095.4,120.0 L2097.4,127.2 L2099.4,134.7 L2101.4,142.7 L2103.4,150.9 L2105.4,159.4 L2107.4,168.0 L2109.4,176.9 L2111.4,185.8 L2113.4,194.8 L2115.4,203.8 L2117.4,212.8 L2119.4,221.7 L2121.4,230.6 L2123.4,239.3 L2125.4,247.9 L2127.4,256.3 L2129.4,264.5 L2131.4,272.5 L2133.4,280.2 L2135.4,287.7 L2137.4,295.0 L2139.4,301.9 L2141.4,308.5 L2143.4,314.9 L2145.4,321.0 L2147.4,326.7 L2149.4,332.2 L2151.4,337.4 L2153.4,342.2 L2155.4,346.8 L2157.4,351.1 L2159.4,355.1 L2161.4,358.9 L2163.4,362.4 L2165.4,365.7 L2167.4,368.7 L2169.4,371.5 L2171.4,374.1 L2173.4,376.4 L2175.4,378.6 L2177.4,380.7 L2179.4,382.5 L2181.4,384.2 L2183.4,385.7 L2185.4,387.2 L2187.4,388.5 L2189.4,389.6 L2191.4,390.7 L2193.4,391.7 L2195.4,392.5 L2197.4,393.3 L2199.4,394.1 L2201.4,394.7 L2203.4,395.3 L2205.4,395.9 L2207.4,396.4 L2209.4,396.8 L2211.4,397.2 L2213.4,397.6 L2215.4,398.0 L2217.4,398.3 L2219.4,398.6 L2221.4,398.8 L2223.4,399.1 L2225.5,399.3 L2227.5,399.5 L2229.5,399.7 L2231.5,399.9 L2233.5,400.1 L2235.5,400.2 L2237.5,400.4 L2239.5,400.5 L2241.5,400.7 L2243.5,400.8 L2245.5,400.9 L2247.5,401.0 L2249.5,401.1 L2251.5,401.3 L2253.5,401.4 L2255.5,401.5 L2257.5,401.6 L2259.5,401.7 L2261.5,401.8 L2263.5,401.8 L2265.5,401.9 L2267.5,402.0 L2269.5,402.1 L2271.5,402.2 L2273.5,402.3 L2275.5,402.3 L2277.5,402.4 L2279.5,402.5 L2281.5,402.6 L2283.5,402.7 L2285.5,402.7 L2287.5,402.8 L2289.5,402.9 L2291.5,402.9 L2293.5,403.0 L2295.5,403.1 L2297.5,403.1 L2299.5,403.2 L2301.5,403.3 L2303.5,403.3 L2305.5,403.4 L2307.5,403.4 L2309.5,403.5 L2311.5,403.6 L2313.5,403.6 L2315.5,403.7 L2317.5,403.7 L2319.5,403.8 L2321.5,403.8 L2323.5,403.9 L2325.5,403.9 L2327.5,404.0" fill="none" stroke="#4aaef5" stroke-width="2.2" stroke-linejoin="round"/>
<path d="M1299.8,391.6a2.9,2.9 0 1,0 5.8,0a2.9,2.9 0 1,0 -5.8,0M1305.4,390.9a2.9,2.9 0 1,0 5.8,0a2.9,2.9 0 1,0 -5.8,0M1308.7,391.5a2.9,2.9 0 1,0 5.8,0a2.9,2.9 0 1,0 -5.8,0M1313.4,390.5a2.9,2.9 0 1,0 5.8,0a2.9,2.9 0 1,0 -5.8,0M1317.9,390.3a2.9,2.9 0 1,0 5.8,0a2.9,2.9 0 1,0 -5.8,0M1322.5,390.9a2.9,2.9 0 1,0 5.8,0a2.9,2.9 0 1,0 -5.8,0M1327.3,391.9a2.9,2.9 0 1,0 5.8,0a2.9,2.9 0 1,0 -5.8,0M1331.9,391.3a2.9,2.9 0 1,0 5.8,0a2.9,2.9 0 1,0 -5.8,0M1336.3,390.8a2.9,2.9 0 1,0 5.8,0a2.9,2.9 0 1,0 -5.8,0M1340.6,390.5a2.9,2.9 0 1,0 5.8,0a2.9,2.9 0 1,0 -5.8,0M1345.2,391.6a2.9,2.9 0 1,0 5.8,0a2.9,2.9 0 1,0 -5.8,0M1350.6,390.2a2.9,2.9 0 1,0 5.8,0a2.9,2.9 0 1,0 -5.8,0M1355.1,391.8a2.9,2.9 0 1,0 5.8,0a2.9,2.9 0 1,0 -5.8,0M1359.1,391.4a2.9,2.9 0 1,0 5.8,0a2.9,2.9 0 1,0 -5.8,0M1364.2,390.4a2.9,2.9 0 1,0 5.8,0a2.9,2.9 0 1,0 -5.8,0M1369.4,389.9a2.9,2.9 0 1,0 5.8,0a2.9,2.9 0 1,0 -5.8,0M1373.5,390.3a2.9,2.9 0 1,0 5.8,0a2.9,2.9 0 1,0 -5.8,0M1378.8,389.0a2.9,2.9 0 1,0 5.8,0a2.9,2.9 0 1,0 -5.8,0M1383.2,389.4a2.9,2.9 0 1,0 5.8,0a2.9,2.9 0 1,0 -5.8,0M1387.4,388.1a2.9,2.9 0 1,0 5.8,0a2.9,2.9 0 1,0 -5.8,0M1391.6,386.6a2.9,2.9 0 1,0 5.8,0a2.9,2.9 0 1,0 -5.8,0M1395.8,385.7a2.9,2.9 0 1,0 5.8,0a2.9,2.9 0 1,0 -5.8,0M1401.4,384.6a2.9,2.9 0 1,0 5.8,0a2.9,2.9 0 1,0 -5.8,0M1405.0,383.0a2.9,2.9 0 1,0 5.8,0a2.9,2.9 0 1,0 -5.8,0M1410.7,382.4a2.9,2.9 0 1,0 5.8,0a2.9,2.9 0 1,0 -5.8,0M1415.0,378.6a2.9,2.9 0 1,0 5.8,0a2.9,2.9 0 1,0 -5.8,0M1418.9,376.1a2.9,2.9 0 1,0 5.8,0a2.9,2.9 0 1,0 -5.8,0M1423.8,371.9a2.9,2.9 0 1,0 5.8,0a2.9,2.9 0 1,0 -5.8,0M1428.4,367.8a2.9,2.9 0 1,0 5.8,0a2.9,2.9 0 1,0 -5.8,0M1433.8,363.3a2.9,2.9 0 1,0 5.8,0a2.9,2.9 0 1,0 -5.8,0M1437.7,356.2a2.9,2.9 0 1,0 5.8,0a2.9,2.9 0 1,0 -5.8,0M1443.0,348.1a2.9,2.9 0 1,0 5.8,0a2.9,2.9 0 1,0 -5.8,0M1446.6,340.8a2.9,2.9 0 1,0 5.8,0a2.9,2.9 0 1,0 -5.8,0M1451.2,332.6a2.9,2.9 0 1,0 5.8,0a2.9,2.9 0 1,0 -5.8,0M1456.0,321.1a2.9,2.9 0 1,0 5.8,0a2.9,2.9 0 1,0 -5.8,0M1460.6,309.0a2.9,2.9 0 1,0 5.8,0a2.9,2.9 0 1,0 -5.8,0M1464.8,297.8a2.9,2.9 0 1,0 5.8,0a2.9,2.9 0 1,0 -5.8,0M1469.6,283.6a2.9,2.9 0 1,0 5.8,0a2.9,2.9 0 1,0 -5.8,0M1473.6,272.0a2.9,2.9 0 1,0 5.8,0a2.9,2.9 0 1,0 -5.8,0M1478.5,256.9a2.9,2.9 0 1,0 5.8,0a2.9,2.9 0 1,0 -5.8,0M1483.6,240.8a2.9,2.9 0 1,0 5.8,0a2.9,2.9 0 1,0 -5.8,0M1488.3,225.1a2.9,2.9 0 1,0 5.8,0a2.9,2.9 0 1,0 -5.8,0M1493.3,208.6a2.9,2.9 0 1,0 5.8,0a2.9,2.9 0 1,0 -5.8,0M1497.0,199.0a2.9,2.9 0 1,0 5.8,0a2.9,2.9 0 1,0 -5.8,0M1501.3,186.4a2.9,2.9 0 1,0 5.8,0a2.9,2.9 0 1,0 -5.8,0M1506.7,171.7a2.9,2.9 0 1,0 5.8,0a2.9,2.9 0 1,0 -5.8,0M1511.6,164.2a2.9,2.9 0 1,0 5.8,0a2.9,2.9 0 1,0 -5.8,0M1515.8,157.7a2.9,2.9 0 1,0 5.8,0a2.9,2.9 0 1,0 -5.8,0M1520.7,152.1a2.9,2.9 0 1,0 5.8,0a2.9,2.9 0 1,0 -5.8,0M1524.8,151.9a2.9,2.9 0 1,0 5.8,0a2.9,2.9 0 1,0 -5.8,0M1529.9,154.4a2.9,2.9 0 1,0 5.8,0a2.9,2.9 0 1,0 -5.8,0M1534.5,158.4a2.9,2.9 0 1,0 5.8,0a2.9,2.9 0 1,0 -5.8,0M1539.2,166.0a2.9,2.9 0 1,0 5.8,0a2.9,2.9 0 1,0 -5.8,0M1543.4,173.6a2.9,2.9 0 1,0 5.8,0a2.9,2.9 0 1,0 -5.8,0M1547.0,181.9a2.9,2.9 0 1,0 5.8,0a2.9,2.9 0 1,0 -5.8,0M1552.1,195.8a2.9,2.9 0 1,0 5.8,0a2.9,2.9 0 1,0 -5.8,0M1557.4,213.1a2.9,2.9 0 1,0 5.8,0a2.9,2.9 0 1,0 -5.8,0M1561.7,226.9a2.9,2.9 0 1,0 5.8,0a2.9,2.9 0 1,0 -5.8,0M1566.3,241.9a2.9,2.9 0 1,0 5.8,0a2.9,2.9 0 1,0 -5.8,0M1569.8,254.2a2.9,2.9 0 1,0 5.8,0a2.9,2.9 0 1,0 -5.8,0M1575.6,272.2a2.9,2.9 0 1,0 5.8,0a2.9,2.9 0 1,0 -5.8,0M1579.9,285.8a2.9,2.9 0 1,0 5.8,0a2.9,2.9 0 1,0 -5.8,0M1583.7,297.4a2.9,2.9 0 1,0 5.8,0a2.9,2.9 0 1,0 -5.8,0M1588.6,309.4a2.9,2.9 0 1,0 5.8,0a2.9,2.9 0 1,0 -5.8,0M1593.2,322.8a2.9,2.9 0 1,0 5.8,0a2.9,2.9 0 1,0 -5.8,0M1597.7,333.2a2.9,2.9 0 1,0 5.8,0a2.9,2.9 0 1,0 -5.8,0M1603.5,344.6a2.9,2.9 0 1,0 5.8,0a2.9,2.9 0 1,0 -5.8,0M1607.1,351.1a2.9,2.9 0 1,0 5.8,0a2.9,2.9 0 1,0 -5.8,0M1612.2,359.8a2.9,2.9 0 1,0 5.8,0a2.9,2.9 0 1,0 -5.8,0M1616.7,365.5a2.9,2.9 0 1,0 5.8,0a2.9,2.9 0 1,0 -5.8,0M1620.4,368.7a2.9,2.9 0 1,0 5.8,0a2.9,2.9 0 1,0 -5.8,0M1625.3,375.0a2.9,2.9 0 1,0 5.8,0a2.9,2.9 0 1,0 -5.8,0M1629.9,378.5a2.9,2.9 0 1,0 5.8,0a2.9,2.9 0 1,0 -5.8,0M1634.0,380.1a2.9,2.9 0 1,0 5.8,0a2.9,2.9 0 1,0 -5.8,0M1639.0,384.4a2.9,2.9 0 1,0 5.8,0a2.9,2.9 0 1,0 -5.8,0M1644.3,386.8a2.9,2.9 0 1,0 5.8,0a2.9,2.9 0 1,0 -5.8,0M1648.2,387.8a2.9,2.9 0 1,0 5.8,0a2.9,2.9 0 1,0 -5.8,0M1653.1,389.2a2.9,2.9 0 1,0 5.8,0a2.9,2.9 0 1,0 -5.8,0M1657.1,391.2a2.9,2.9 0 1,0 5.8,0a2.9,2.9 0 1,0 -5.8,0M1661.8,392.3a2.9,2.9 0 1,0 5.8,0a2.9,2.9 0 1,0 -5.8,0M1667.6,390.9a2.9,2.9 0 1,0 5.8,0a2.9,2.9 0 1,0 -5.8,0M1671.4,393.3a2.9,2.9 0 1,0 5.8,0a2.9,2.9 0 1,0 -5.8,0M1676.8,393.0a2.9,2.9 0 1,0 5.8,0a2.9,2.9 0 1,0 -5.8,0M1680.3,392.7a2.9,2.9 0 1,0 5.8,0a2.9,2.9 0 1,0 -5.8,0M1686.0,393.1a2.9,2.9 0 1,0 5.8,0a2.9,2.9 0 1,0 -5.8,0M1690.0,393.2a2.9,2.9 0 1,0 5.8,0a2.9,2.9 0 1,0 -5.8,0M1694.5,395.4a2.9,2.9 0 1,0 5.8,0a2.9,2.9 0 1,0 -5.8,0M1698.4,395.2a2.9,2.9 0 1,0 5.8,0a2.9,2.9 0 1,0 -5.8,0M1703.6,395.6a2.9,2.9 0 1,0 5.8,0a2.9,2.9 0 1,0 -5.8,0M1708.5,394.2a2.9,2.9 0 1,0 5.8,0a2.9,2.9 0 1,0 -5.8,0M1713.4,395.0a2.9,2.9 0 1,0 5.8,0a2.9,2.9 0 1,0 -5.8,0M1716.6,394.0a2.9,2.9 0 1,0 5.8,0a2.9,2.9 0 1,0 -5.8,0M1721.9,395.2a2.9,2.9 0 1,0 5.8,0a2.9,2.9 0 1,0 -5.8,0M1726.2,394.6a2.9,2.9 0 1,0 5.8,0a2.9,2.9 0 1,0 -5.8,0M1730.9,395.1a2.9,2.9 0 1,0 5.8,0a2.9,2.9 0 1,0 -5.8,0M1736.2,394.5a2.9,2.9 0 1,0 5.8,0a2.9,2.9 0 1,0 -5.8,0M1740.7,396.6a2.9,2.9 0 1,0 5.8,0a2.9,2.9 0 1,0 -5.8,0M1744.3,396.9a2.9,2.9 0 1,0 5.8,0a2.9,2.9 0 1,0 -5.8,0M1749.8,397.0a2.9,2.9 0 1,0 5.8,0a2.9,2.9 0 1,0 -5.8,0M1753.7,395.8a2.9,2.9 0 1,0 5.8,0a2.9,2.9 0 1,0 -5.8,0M1758.4,397.4a2.9,2.9 0 1,0 5.8,0a2.9,2.9 0 1,0 -5.8,0M1763.3,395.9a2.9,2.9 0 1,0 5.8,0a2.9,2.9 0 1,0 -5.8,0M1767.7,395.8a2.9,2.9 0 1,0 5.8,0a2.9,2.9 0 1,0 -5.8,0M1771.7,395.5a2.9,2.9 0 1,0 5.8,0a2.9,2.9 0 1,0 -5.8,0M1777.5,396.0a2.9,2.9 0 1,0 5.8,0a2.9,2.9 0 1,0 -5.8,0M1782.2,396.0a2.9,2.9 0 1,0 5.8,0a2.9,2.9 0 1,0 -5.8,0M1785.8,396.6a2.9,2.9 0 1,0 5.8,0a2.9,2.9 0 1,0 -5.8,0M1790.2,396.4a2.9,2.9 0 1,0 5.8,0a2.9,2.9 0 1,0 -5.8,0M1796.0,397.7a2.9,2.9 0 1,0 5.8,0a2.9,2.9 0 1,0 -5.8,0M1800.4,397.1a2.9,2.9 0 1,0 5.8,0a2.9,2.9 0 1,0 -5.8,0M1805.1,397.9a2.9,2.9 0 1,0 5.8,0a2.9,2.9 0 1,0 -5.8,0M1809.1,397.4a2.9,2.9 0 1,0 5.8,0a2.9,2.9 0 1,0 -5.8,0M1812.9,397.4a2.9,2.9 0 1,0 5.8,0a2.9,2.9 0 1,0 -5.8,0M1818.1,397.5a2.9,2.9 0 1,0 5.8,0a2.9,2.9 0 1,0 -5.8,0M1823.0,396.4a2.9,2.9 0 1,0 5.8,0a2.9,2.9 0 1,0 -5.8,0M1826.7,398.0a2.9,2.9 0 1,0 5.8,0a2.9,2.9 0 1,0 -5.8,0M1831.4,396.9a2.9,2.9 0 1,0 5.8,0a2.9,2.9 0 1,0 -5.8,0M1836.3,396.5a2.9,2.9 0 1,0 5.8,0a2.9,2.9 0 1,0 -5.8,0M1841.5,398.1a2.9,2.9 0 1,0 5.8,0a2.9,2.9 0 1,0 -5.8,0M1845.4,397.3a2.9,2.9 0 1,0 5.8,0a2.9,2.9 0 1,0 -5.8,0M1850.0,397.1a2.9,2.9 0 1,0 5.8,0a2.9,2.9 0 1,0 -5.8,0M1854.7,396.1a2.9,2.9 0 1,0 5.8,0a2.9,2.9 0 1,0 -5.8,0M1859.0,396.2a2.9,2.9 0 1,0 5.8,0a2.9,2.9 0 1,0 -5.8,0M1864.7,396.9a2.9,2.9 0 1,0 5.8,0a2.9,2.9 0 1,0 -5.8,0M1868.2,397.8a2.9,2.9 0 1,0 5.8,0a2.9,2.9 0 1,0 -5.8,0M1874.0,396.7a2.9,2.9 0 1,0 5.8,0a2.9,2.9 0 1,0 -5.8,0M1877.3,396.0a2.9,2.9 0 1,0 5.8,0a2.9,2.9 0 1,0 -5.8,0M1881.8,396.3a2.9,2.9 0 1,0 5.8,0a2.9,2.9 0 1,0 -5.8,0M1886.4,396.0a2.9,2.9 0 1,0 5.8,0a2.9,2.9 0 1,0 -5.8,0M1891.2,396.6a2.9,2.9 0 1,0 5.8,0a2.9,2.9 0 1,0 -5.8,0M1896.8,396.9a2.9,2.9 0 1,0 5.8,0a2.9,2.9 0 1,0 -5.8,0M1900.6,396.0a2.9,2.9 0 1,0 5.8,0a2.9,2.9 0 1,0 -5.8,0M1905.4,395.7a2.9,2.9 0 1,0 5.8,0a2.9,2.9 0 1,0 -5.8,0M1909.7,394.8a2.9,2.9 0 1,0 5.8,0a2.9,2.9 0 1,0 -5.8,0M1914.2,396.7a2.9,2.9 0 1,0 5.8,0a2.9,2.9 0 1,0 -5.8,0M1918.5,395.3a2.9,2.9 0 1,0 5.8,0a2.9,2.9 0 1,0 -5.8,0M1923.9,395.7a2.9,2.9 0 1,0 5.8,0a2.9,2.9 0 1,0 -5.8,0M1927.8,393.8a2.9,2.9 0 1,0 5.8,0a2.9,2.9 0 1,0 -5.8,0M1932.5,393.5a2.9,2.9 0 1,0 5.8,0a2.9,2.9 0 1,0 -5.8,0M1937.4,393.9a2.9,2.9 0 1,0 5.8,0a2.9,2.9 0 1,0 -5.8,0M1942.6,392.5a2.9,2.9 0 1,0 5.8,0a2.9,2.9 0 1,0 -5.8,0M1945.8,389.5a2.9,2.9 0 1,0 5.8,0a2.9,2.9 0 1,0 -5.8,0M1951.5,389.4a2.9,2.9 0 1,0 5.8,0a2.9,2.9 0 1,0 -5.8,0M1955.7,386.6a2.9,2.9 0 1,0 5.8,0a2.9,2.9 0 1,0 -5.8,0M1959.6,383.8a2.9,2.9 0 1,0 5.8,0a2.9,2.9 0 1,0 -5.8,0M1965.6,380.3a2.9,2.9 0 1,0 5.8,0a2.9,2.9 0 1,0 -5.8,0M1970.1,376.4a2.9,2.9 0 1,0 5.8,0a2.9,2.9 0 1,0 -5.8,0M1973.7,370.2a2.9,2.9 0 1,0 5.8,0a2.9,2.9 0 1,0 -5.8,0M1978.2,365.2a2.9,2.9 0 1,0 5.8,0a2.9,2.9 0 1,0 -5.8,0M1983.6,357.4a2.9,2.9 0 1,0 5.8,0a2.9,2.9 0 1,0 -5.8,0M1988.2,347.7a2.9,2.9 0 1,0 5.8,0a2.9,2.9 0 1,0 -5.8,0M1992.9,336.6a2.9,2.9 0 1,0 5.8,0a2.9,2.9 0 1,0 -5.8,0M1997.1,324.6a2.9,2.9 0 1,0 5.8,0a2.9,2.9 0 1,0 -5.8,0M2002.1,310.6a2.9,2.9 0 1,0 5.8,0a2.9,2.9 0 1,0 -5.8,0M2006.9,295.7a2.9,2.9 0 1,0 5.8,0a2.9,2.9 0 1,0 -5.8,0M2010.5,281.5a2.9,2.9 0 1,0 5.8,0a2.9,2.9 0 1,0 -5.8,0M2015.0,265.4a2.9,2.9 0 1,0 5.8,0a2.9,2.9 0 1,0 -5.8,0M2020.3,242.2a2.9,2.9 0 1,0 5.8,0a2.9,2.9 0 1,0 -5.8,0M2023.9,227.7a2.9,2.9 0 1,0 5.8,0a2.9,2.9 0 1,0 -5.8,0M2029.3,203.4a2.9,2.9 0 1,0 5.8,0a2.9,2.9 0 1,0 -5.8,0M2033.3,186.0a2.9,2.9 0 1,0 5.8,0a2.9,2.9 0 1,0 -5.8,0M2037.5,166.6a2.9,2.9 0 1,0 5.8,0a2.9,2.9 0 1,0 -5.8,0M2042.8,145.8a2.9,2.9 0 1,0 5.8,0a2.9,2.9 0 1,0 -5.8,0M2047.7,126.7a2.9,2.9 0 1,0 5.8,0a2.9,2.9 0 1,0 -5.8,0M2052.0,110.4a2.9,2.9 0 1,0 5.8,0a2.9,2.9 0 1,0 -5.8,0M2056.3,99.9a2.9,2.9 0 1,0 5.8,0a2.9,2.9 0 1,0 -5.8,0M2061.6,86.8a2.9,2.9 0 1,0 5.8,0a2.9,2.9 0 1,0 -5.8,0M2065.1,82.3a2.9,2.9 0 1,0 5.8,0a2.9,2.9 0 1,0 -5.8,0M2070.7,78.9a2.9,2.9 0 1,0 5.8,0a2.9,2.9 0 1,0 -5.8,0M2074.6,80.8a2.9,2.9 0 1,0 5.8,0a2.9,2.9 0 1,0 -5.8,0M2080.3,86.6a2.9,2.9 0 1,0 5.8,0a2.9,2.9 0 1,0 -5.8,0M2083.4,93.2a2.9,2.9 0 1,0 5.8,0a2.9,2.9 0 1,0 -5.8,0M2088.6,107.8a2.9,2.9 0 1,0 5.8,0a2.9,2.9 0 1,0 -5.8,0M2092.9,122.0a2.9,2.9 0 1,0 5.8,0a2.9,2.9 0 1,0 -5.8,0M2098.3,142.0a2.9,2.9 0 1,0 5.8,0a2.9,2.9 0 1,0 -5.8,0M2102.0,158.6a2.9,2.9 0 1,0 5.8,0a2.9,2.9 0 1,0 -5.8,0M2106.8,179.0a2.9,2.9 0 1,0 5.8,0a2.9,2.9 0 1,0 -5.8,0M2111.3,197.5a2.9,2.9 0 1,0 5.8,0a2.9,2.9 0 1,0 -5.8,0M2116.7,222.1a2.9,2.9 0 1,0 5.8,0a2.9,2.9 0 1,0 -5.8,0M2121.6,243.9a2.9,2.9 0 1,0 5.8,0a2.9,2.9 0 1,0 -5.8,0M2124.9,257.4a2.9,2.9 0 1,0 5.8,0a2.9,2.9 0 1,0 -5.8,0M2129.9,278.3a2.9,2.9 0 1,0 5.8,0a2.9,2.9 0 1,0 -5.8,0M2135.3,297.0a2.9,2.9 0 1,0 5.8,0a2.9,2.9 0 1,0 -5.8,0M2139.0,309.5a2.9,2.9 0 1,0 5.8,0a2.9,2.9 0 1,0 -5.8,0M2144.5,325.9a2.9,2.9 0 1,0 5.8,0a2.9,2.9 0 1,0 -5.8,0M2147.6,334.1a2.9,2.9 0 1,0 5.8,0a2.9,2.9 0 1,0 -5.8,0M2152.8,348.3a2.9,2.9 0 1,0 5.8,0a2.9,2.9 0 1,0 -5.8,0M2158.1,358.8a2.9,2.9 0 1,0 5.8,0a2.9,2.9 0 1,0 -5.8,0M2162.9,367.3a2.9,2.9 0 1,0 5.8,0a2.9,2.9 0 1,0 -5.8,0M2166.4,370.6a2.9,2.9 0 1,0 5.8,0a2.9,2.9 0 1,0 -5.8,0M2172.0,378.7a2.9,2.9 0 1,0 5.8,0a2.9,2.9 0 1,0 -5.8,0M2175.1,381.6a2.9,2.9 0 1,0 5.8,0a2.9,2.9 0 1,0 -5.8,0M2180.3,385.2a2.9,2.9 0 1,0 5.8,0a2.9,2.9 0 1,0 -5.8,0M2184.8,387.8a2.9,2.9 0 1,0 5.8,0a2.9,2.9 0 1,0 -5.8,0M2188.8,390.3a2.9,2.9 0 1,0 5.8,0a2.9,2.9 0 1,0 -5.8,0M2194.0,394.2a2.9,2.9 0 1,0 5.8,0a2.9,2.9 0 1,0 -5.8,0M2198.2,395.7a2.9,2.9 0 1,0 5.8,0a2.9,2.9 0 1,0 -5.8,0M2202.9,395.6a2.9,2.9 0 1,0 5.8,0a2.9,2.9 0 1,0 -5.8,0M2208.5,398.0a2.9,2.9 0 1,0 5.8,0a2.9,2.9 0 1,0 -5.8,0M2212.4,396.9a2.9,2.9 0 1,0 5.8,0a2.9,2.9 0 1,0 -5.8,0M2217.1,398.3a2.9,2.9 0 1,0 5.8,0a2.9,2.9 0 1,0 -5.8,0M2222.4,398.5a2.9,2.9 0 1,0 5.8,0a2.9,2.9 0 1,0 -5.8,0M2226.1,400.6a2.9,2.9 0 1,0 5.8,0a2.9,2.9 0 1,0 -5.8,0M2230.1,399.8a2.9,2.9 0 1,0 5.8,0a2.9,2.9 0 1,0 -5.8,0M2236.0,401.1a2.9,2.9 0 1,0 5.8,0a2.9,2.9 0 1,0 -5.8,0M2239.3,399.6a2.9,2.9 0 1,0 5.8,0a2.9,2.9 0 1,0 -5.8,0M2244.0,402.0a2.9,2.9 0 1,0 5.8,0a2.9,2.9 0 1,0 -5.8,0M2248.8,401.9a2.9,2.9 0 1,0 5.8,0a2.9,2.9 0 1,0 -5.8,0M2254.5,401.2a2.9,2.9 0 1,0 5.8,0a2.9,2.9 0 1,0 -5.8,0M2258.0,402.8a2.9,2.9 0 1,0 5.8,0a2.9,2.9 0 1,0 -5.8,0M2263.2,401.4a2.9,2.9 0 1,0 5.8,0a2.9,2.9 0 1,0 -5.8,0M2267.9,401.7a2.9,2.9 0 1,0 5.8,0a2.9,2.9 0 1,0 -5.8,0M2271.8,401.1a2.9,2.9 0 1,0 5.8,0a2.9,2.9 0 1,0 -5.8,0M2277.2,403.5a2.9,2.9 0 1,0 5.8,0a2.9,2.9 0 1,0 -5.8,0M2281.5,403.8a2.9,2.9 0 1,0 5.8,0a2.9,2.9 0 1,0 -5.8,0M2285.2,402.2a2.9,2.9 0 1,0 5.8,0a2.9,2.9 0 1,0 -5.8,0M2290.5,404.1a2.9,2.9 0 1,0 5.8,0a2.9,2.9 0 1,0 -5.8,0M2295.8,402.9a2.9,2.9 0 1,0 5.8,0a2.9,2.9 0 1,0 -5.8,0M2299.3,403.1a2.9,2.9 0 1,0 5.8,0a2.9,2.9 0 1,0 -5.8,0M2304.2,404.5a2.9,2.9 0 1,0 5.8,0a2.9,2.9 0 1,0 -5.8,0M2308.3,404.3a2.9,2.9 0 1,0 5.8,0a2.9,2.9 0 1,0 -5.8,0M2313.8,404.5a2.9,2.9 0 1,0 5.8,0a2.9,2.9 0 1,0 -5.8,0M2318.5,404.1a2.9,2.9 0 1,0 5.8,0a2.9,2.9 0 1,0 -5.8,0M2322.3,403.5a2.9,2.9 0 1,0 5.8,0a2.9,2.9 0 1,0 -5.8,0" fill="#fff" fill-opacity="0.5" stroke="#62bcf8" stroke-width="1.3"/>
<path d="M1301.0,803.5 L1301.0,801.5 L1303.0,801.5 L1305.0,801.5 L1307.0,801.5 L1309.0,801.5 L1311.0,801.5 L1313.0,801.5 L1315.0,801.5 L1317.0,801.5 L1319.0,801.4 L1321.0,801.4 L1322.9,801.4 L1324.9,801.4 L1326.9,801.4 L1328.9,801.3 L1330.9,801.3 L1332.9,801.3 L1334.9,801.3 L1336.9,801.2 L1338.9,801.2 L1340.9,801.2 L1342.9,801.1 L1344.9,801.1 L1346.9,801.0 L1348.9,801.0 L1350.9,801.0 L1352.9,800.9 L1354.9,800.8 L1356.9,800.8 L1358.9,800.7 L1360.9,800.6 L1362.8,800.6 L1364.8,800.5 L1366.8,800.4 L1368.8,800.3 L1370.8,800.2 L1372.8,800.1 L1374.8,799.9 L1376.8,799.8 L1378.8,799.6 L1380.8,799.4 L1382.8,799.2 L1384.8,799.0 L1386.8,798.8 L1388.8,798.5 L1390.8,798.2 L1392.8,797.9 L1394.8,797.5 L1396.8,797.1 L1398.8,796.6 L1400.8,796.1 L1402.7,795.6 L1404.7,795.0 L1406.7,794.3 L1408.7,793.6 L1410.7,792.8 L1412.7,791.9 L1414.7,790.9 L1416.7,789.8 L1418.7,788.7 L1420.7,787.4 L1422.7,786.0 L1424.7,784.5 L1426.7,782.8 L1428.7,781.1 L1430.7,779.1 L1432.7,777.0 L1434.7,774.8 L1436.7,772.4 L1438.7,769.8 L1440.7,767.0 L1442.7,764.0 L1444.6,760.8 L1446.6,757.4 L1448.6,753.9 L1450.6,750.0 L1452.6,746.0 L1454.6,741.8 L1456.6,737.3 L1458.6,732.6 L1460.6,727.7 L1462.6,722.6 L1464.6,717.2 L1466.6,711.7 L1468.6,705.9 L1470.6,700.0 L1472.6,693.8 L1474.6,687.5 L1476.6,681.1 L1478.6,674.5 L1480.6,667.8 L1482.6,660.9 L1484.5,654.0 L1486.5,647.1 L1488.5,640.1 L1490.5,633.1 L1492.5,626.1 L1494.5,619.2 L1496.5,612.4 L1498.5,605.7 L1500.5,599.1 L1502.5,592.7 L1504.5,586.5 L1506.5,580.6 L1508.5,574.9 L1510.5,569.6 L1512.5,564.6 L1514.5,560.0 L1516.5,555.8 L1518.5,552.1 L1520.5,548.8 L1522.5,546.1 L1524.4,543.8 L1526.4,542.1 L1528.4,541.0 L1530.4,540.4 L1532.4,540.4 L1534.4,540.9 L1536.4,542.0 L1538.4,543.7 L1540.4,545.9 L1542.4,548.6 L1544.4,551.8 L1546.4,555.5 L1548.4,559.7 L1550.4,564.3 L1552.4,569.2 L1554.4,574.6 L1556.4,580.2 L1558.4,586.1 L1560.4,592.3 L1562.4,598.7 L1564.3,605.3 L1566.3,612.1 L1568.3,619.0 L1570.3,625.9 L1572.3,632.9 L1574.3,640.0 L1576.3,647.0 L1578.3,654.0 L1580.3,661.0 L1582.3,667.8 L1584.3,674.6 L1586.3,681.3 L1588.3,687.8 L1590.3,694.2 L1592.3,700.4 L1594.3,706.4 L1596.3,712.3 L1598.3,717.9 L1600.3,723.3 L1602.3,728.5 L1604.3,733.5 L1606.2,738.3 L1608.2,742.9 L1610.2,747.2 L1612.2,751.3 L1614.2,755.2 L1616.2,758.9 L1618.2,762.4 L1620.2,765.6 L1622.2,768.7 L1624.2,771.6 L1626.2,774.2 L1628.2,776.7 L1630.2,779.1 L1632.2,781.2 L1634.2,783.2 L1636.2,785.1 L1638.2,786.8 L1640.2,788.4 L1642.2,789.9 L1644.2,791.2 L1646.1,792.4 L1648.1,793.6 L1650.1,794.6 L1652.1,795.6 L1654.1,796.4 L1656.1,797.2 L1658.1,797.9 L1660.1,798.6 L1662.1,799.2 L1664.1,799.8 L1666.1,800.3 L1668.1,800.7 L1670.1,801.2 L1672.1,801.5 L1674.1,801.9 L1676.1,802.2 L1678.1,802.5 L1680.1,802.8 L1682.1,803.0 L1684.1,803.3 L1686.0,803.5 L1688.0,803.7 L1690.0,803.9 L1692.0,804.0 L1694.0,804.2 L1696.0,804.4 L1698.0,804.5 L1700.0,804.6 L1702.0,804.8 L1704.0,804.9 L1706.0,805.0 L1708.0,805.1 L1710.0,805.2 L1712.0,805.3 L1714.0,805.4 L1716.0,805.5 L1718.0,805.6 L1720.0,805.7 L1722.0,805.8 L1724.0,805.9 L1725.9,805.9 L1727.9,806.0 L1729.9,806.1 L1731.9,806.2 L1733.9,806.2 L1735.9,806.3 L1737.9,806.4 L1739.9,806.5 L1741.9,806.5 L1743.9,806.6 L1745.9,806.7 L1747.9,806.7 L1749.9,806.8 L1751.9,806.8 L1753.9,806.9 L1755.9,807.0 L1757.9,807.0 L1759.9,807.1 L1761.9,807.1 L1763.9,807.2 L1765.9,807.2 L1767.8,807.3 L1769.8,807.4 L1771.8,807.4 L1773.8,807.5 L1775.8,807.5 L1777.8,807.6 L1779.8,807.6 L1781.8,807.7 L1783.8,807.7 L1785.8,807.8 L1787.8,807.8 L1789.8,807.9 L1791.8,807.9 L1793.8,808.0 L1795.8,808.0 L1797.8,808.0 L1799.8,808.1 L1801.8,808.1 L1803.8,808.2 L1805.8,808.2 L1807.7,808.3 L1809.7,808.3 L1811.7,808.4 L1813.7,808.4 L1815.7,808.4 L1817.7,808.5 L1819.7,808.5 L1821.7,808.6 L1823.7,808.6 L1825.7,808.6 L1827.7,808.7 L1829.7,808.7 L1831.7,808.8 L1833.7,808.8 L1835.7,808.8 L1837.7,808.9 L1839.7,808.9 L1841.7,809.0 L1843.7,809.0 L1845.7,809.0 L1847.6,809.1 L1849.6,809.1 L1851.6,809.1 L1853.6,809.2 L1855.6,809.2 L1857.6,809.3 L1859.6,809.3 L1861.6,809.3 L1863.6,809.4 L1865.6,809.4 L1867.6,809.4 L1867.6,810.4Z" fill="url(#g3)" fill-opacity="0.88"/>
<path d="M1775.4,809.3 L1775.4,808.0 L1777.4,808.0 L1779.4,808.0 L1781.4,808.1 L1783.4,808.1 L1785.4,808.1 L1787.4,808.1 L1789.4,808.1 L1791.3,808.1 L1793.3,808.1 L1795.3,808.1 L1797.3,808.1 L1799.3,808.1 L1801.3,808.1 L1803.3,808.1 L1805.3,808.1 L1807.3,808.1 L1809.3,808.1 L1811.3,808.1 L1813.3,808.1 L1815.3,808.1 L1817.3,808.1 L1819.2,808.1 L1821.2,808.1 L1823.2,808.1 L1825.2,808.1 L1827.2,808.1 L1829.2,808.1 L1831.2,808.1 L1833.2,808.1 L1835.2,808.1 L1837.2,808.1 L1839.2,808.1 L1841.2,808.1 L1843.2,808.1 L1845.2,808.1 L1847.2,808.1 L1849.1,808.0 L1851.1,808.0 L1853.1,808.0 L1855.1,808.0 L1857.1,808.0 L1859.1,808.0 L1861.1,808.0 L1863.1,807.9 L1865.1,807.9 L1867.1,807.9 L1869.1,807.9 L1871.1,807.9 L1873.1,807.8 L1875.1,807.8 L1877.1,807.8 L1879.0,807.8 L1881.0,807.7 L1883.0,807.7 L1885.0,807.7 L1887.0,807.6 L1889.0,807.6 L1891.0,807.6 L1893.0,807.5 L1895.0,807.5 L1897.0,807.4 L1899.0,807.4 L1901.0,807.3 L1903.0,807.3 L1905.0,807.2 L1906.9,807.2 L1908.9,807.1 L1910.9,807.0 L1912.9,807.0 L1914.9,806.9 L1916.9,806.8 L1918.9,806.7 L1920.9,806.6 L1922.9,806.5 L1924.9,806.4 L1926.9,806.3 L1928.9,806.1 L1930.9,806.0 L1932.9,805.8 L1934.9,805.7 L1936.8,805.5 L1938.8,805.2 L1940.8,805.0 L1942.8,804.7 L1944.8,804.4 L1946.8,804.1 L1948.8,803.7 L1950.8,803.3 L1952.8,802.9 L1954.8,802.3 L1956.8,801.8 L1958.8,801.1 L1960.8,800.4 L1962.8,799.6 L1964.7,798.7 L1966.7,797.8 L1968.7,796.7 L1970.7,795.5 L1972.7,794.1 L1974.7,792.6 L1976.7,791.0 L1978.7,789.2 L1980.7,787.2 L1982.7,785.0 L1984.7,782.6 L1986.7,780.0 L1988.7,777.1 L1990.7,774.0 L1992.7,770.7 L1994.6,767.0 L1996.6,763.1 L1998.6,758.8 L2000.6,754.3 L2002.6,749.4 L2004.6,744.2 L2006.6,738.6 L2008.6,732.7 L2010.6,726.5 L2012.6,719.8 L2014.6,712.9 L2016.6,705.6 L2018.6,697.9 L2020.6,689.9 L2022.5,681.6 L2024.5,673.0 L2026.5,664.1 L2028.5,654.9 L2030.5,645.5 L2032.5,635.9 L2034.5,626.1 L2036.5,616.2 L2038.5,606.2 L2040.5,596.1 L2042.5,586.0 L2044.5,576.0 L2046.5,566.0 L2048.5,556.2 L2050.5,546.6 L2052.4,537.3 L2054.4,528.3 L2056.4,519.7 L2058.4,511.5 L2060.4,503.8 L2062.4,496.7 L2064.4,490.2 L2066.4,484.4 L2068.4,479.3 L2070.4,474.9 L2072.4,471.4 L2074.4,468.8 L2076.4,467.0 L2078.4,466.1 L2080.4,466.1 L2082.3,467.0 L2084.3,468.8 L2086.3,471.4 L2088.3,475.0 L2090.3,479.3 L2092.3,484.4 L2094.3,490.3 L2096.3,496.8 L2098.3,503.9 L2100.3,511.6 L2102.3,519.8 L2104.3,528.5 L2106.3,537.5 L2108.3,546.9 L2110.2,556.5 L2112.2,566.4 L2114.2,576.4 L2116.2,586.5 L2118.2,596.6 L2120.2,606.7 L2122.2,616.8 L2124.2,626.7 L2126.2,636.6 L2128.2,646.3 L2130.2,655.7 L2132.2,664.9 L2134.2,673.9 L2136.2,682.6 L2138.2,691.0 L2140.1,699.0 L2142.1,706.7 L2144.1,714.1 L2146.1,721.1 L2148.1,727.8 L2150.1,734.2 L2152.1,740.1 L2154.1,745.8 L2156.1,751.0 L2158.1,756.0 L2160.1,760.6 L2162.1,764.9 L2164.1,768.9 L2166.1,772.6 L2168.0,776.0 L2170.0,779.2 L2172.0,782.1 L2174.0,784.8 L2176.0,787.2 L2178.0,789.5 L2180.0,791.5 L2182.0,793.4 L2184.0,795.1 L2186.0,796.6 L2188.0,798.0 L2190.0,799.3 L2192.0,800.4 L2194.0,801.5 L2196.0,802.4 L2197.9,803.3 L2199.9,804.0 L2201.9,804.7 L2203.9,805.3 L2205.9,805.9 L2207.9,806.4 L2209.9,806.9 L2211.9,807.3 L2213.9,807.7 L2215.9,808.0 L2217.9,808.3 L2219.9,808.6 L2221.9,808.9 L2223.9,809.1 L2225.8,809.4 L2227.8,809.6 L2229.8,809.8 L2231.8,810.0 L2233.8,810.1 L2235.8,810.3 L2237.8,810.5 L2239.8,810.6 L2241.8,810.7 L2243.8,810.9 L2245.8,811.0 L2247.8,811.1 L2249.8,811.2 L2251.8,811.3 L2253.8,811.5 L2255.7,811.6 L2257.7,811.7 L2259.7,811.8 L2261.7,811.9 L2263.7,811.9 L2265.7,812.0 L2267.7,812.1 L2269.7,812.2 L2271.7,812.3 L2273.7,812.4 L2275.7,812.5 L2277.7,812.5 L2279.7,812.6 L2281.7,812.7 L2283.7,812.8 L2285.6,812.8 L2287.6,812.9 L2289.6,813.0 L2291.6,813.1 L2293.6,813.1 L2295.6,813.2 L2297.6,813.3 L2299.6,813.3 L2301.6,813.4 L2303.6,813.4 L2305.6,813.5 L2307.6,813.6 L2309.6,813.6 L2311.6,813.7 L2313.5,813.7 L2315.5,813.8 L2317.5,813.9 L2319.5,813.9 L2321.5,814.0 L2323.5,814.0 L2325.5,814.1 L2327.5,814.1 L2327.5,816.0Z" fill="url(#g4)" fill-opacity="0.95"/>
<path d="M1301.0,804.5 L2327.5,817.0" stroke="#3ea6f2" stroke-width="2.5"/>
<path d="M1301.0,798.4 L1303.0,798.3 L1305.0,798.3 L1307.0,798.3 L1309.0,798.3 L1311.0,798.3 L1313.0,798.3 L1315.0,798.3 L1317.0,798.2 L1319.0,798.2 L1321.0,798.2 L1323.0,798.2 L1325.0,798.2 L1327.0,798.2 L1329.0,798.1 L1331.0,798.1 L1333.0,798.1 L1335.0,798.0 L1337.0,798.0 L1339.0,798.0 L1341.0,797.9 L1343.0,797.9 L1345.0,797.9 L1347.0,797.8 L1349.0,797.8 L1351.0,797.7 L1353.0,797.7 L1355.0,797.6 L1357.0,797.6 L1359.0,797.5 L1361.0,797.4 L1363.0,797.3 L1365.0,797.2 L1367.0,797.1 L1369.0,797.0 L1371.0,796.9 L1373.0,796.8 L1375.0,796.7 L1377.0,796.5 L1379.0,796.3 L1381.0,796.2 L1383.0,796.0 L1385.0,795.7 L1387.0,795.5 L1389.0,795.2 L1391.0,794.9 L1393.0,794.6 L1395.0,794.2 L1397.0,793.8 L1399.0,793.3 L1401.0,792.8 L1403.0,792.2 L1405.1,791.6 L1407.1,790.9 L1409.1,790.2 L1411.1,789.4 L1413.1,788.5 L1415.1,787.5 L1417.1,786.4 L1419.1,785.2 L1421.1,783.9 L1423.1,782.5 L1425.1,780.9 L1427.1,779.3 L1429.1,777.4 L1431.1,775.5 L1433.1,773.3 L1435.1,771.0 L1437.1,768.6 L1439.1,765.9 L1441.1,763.1 L1443.1,760.1 L1445.1,756.8 L1447.1,753.4 L1449.1,749.7 L1451.1,745.9 L1453.1,741.8 L1455.1,737.5 L1457.1,732.9 L1459.1,728.2 L1461.1,723.2 L1463.1,718.0 L1465.1,712.6 L1467.1,707.0 L1469.1,701.1 L1471.1,695.1 L1473.1,688.9 L1475.1,682.6 L1477.1,676.0 L1479.1,669.4 L1481.1,662.6 L1483.1,655.8 L1485.1,648.8 L1487.1,641.8 L1489.1,634.8 L1491.1,627.8 L1493.1,620.8 L1495.1,613.9 L1497.1,607.1 L1499.1,600.4 L1501.1,593.8 L1503.1,587.5 L1505.1,581.3 L1507.1,575.5 L1509.1,569.9 L1511.1,564.6 L1513.1,559.8 L1515.1,555.3 L1517.1,551.2 L1519.1,547.6 L1521.1,544.5 L1523.1,541.9 L1525.1,539.8 L1527.1,538.3 L1529.1,537.3 L1531.1,536.9 L1533.1,537.1 L1535.1,537.8 L1537.1,539.1 L1539.1,541.0 L1541.1,543.4 L1543.1,546.3 L1545.1,549.7 L1547.1,553.6 L1549.1,557.9 L1551.1,562.6 L1553.1,567.8 L1555.1,573.2 L1557.1,579.0 L1559.1,585.0 L1561.1,591.3 L1563.1,597.8 L1565.1,604.5 L1567.1,611.3 L1569.1,618.3 L1571.1,625.3 L1573.1,632.3 L1575.1,639.4 L1577.1,646.4 L1579.1,653.4 L1581.1,660.4 L1583.1,667.2 L1585.1,674.0 L1587.1,680.6 L1589.1,687.1 L1591.1,693.4 L1593.1,699.5 L1595.1,705.5 L1597.1,711.3 L1599.1,716.8 L1601.1,722.2 L1603.1,727.3 L1605.1,732.2 L1607.1,736.9 L1609.2,741.4 L1611.2,745.6 L1613.2,749.6 L1615.2,753.4 L1617.2,757.0 L1619.2,760.4 L1621.2,763.6 L1623.2,766.5 L1625.2,769.3 L1627.2,771.9 L1629.2,774.3 L1631.2,776.6 L1633.2,778.7 L1635.2,780.6 L1637.2,782.4 L1639.2,784.0 L1641.2,785.5 L1643.2,786.9 L1645.2,788.2 L1647.2,789.4 L1649.2,790.5 L1651.2,791.5 L1653.2,792.4 L1655.2,793.2 L1657.2,794.0 L1659.2,794.7 L1661.2,795.3 L1663.2,795.9 L1665.2,796.4 L1667.2,796.8 L1669.2,797.3 L1671.2,797.7 L1673.2,798.0 L1675.2,798.4 L1677.2,798.7 L1679.2,799.0 L1681.2,799.2 L1683.2,799.4 L1685.2,799.7 L1687.2,799.9 L1689.2,800.0 L1691.2,800.2 L1693.2,800.4 L1695.2,800.5 L1697.2,800.7 L1699.2,800.8 L1701.2,800.9 L1703.2,801.0 L1705.2,801.1 L1707.2,801.2 L1709.2,801.3 L1711.2,801.4 L1713.2,801.5 L1715.2,801.6 L1717.2,801.7 L1719.2,801.8 L1721.2,801.8 L1723.2,801.9 L1725.2,802.0 L1727.2,802.1 L1729.2,802.1 L1731.2,802.2 L1733.2,802.3 L1735.2,802.3 L1737.2,802.4 L1739.2,802.4 L1741.2,802.5 L1743.2,802.5 L1745.2,802.6 L1747.2,802.6 L1749.2,802.7 L1751.2,802.7 L1753.2,802.8 L1755.2,802.8 L1757.2,802.9 L1759.2,802.9 L1761.2,803.0 L1763.2,803.0 L1765.2,803.1 L1767.2,803.1 L1769.2,803.1 L1771.2,803.2 L1773.2,803.2 L1775.2,803.3 L1777.2,803.3 L1779.2,803.3 L1781.2,803.4 L1783.2,803.4 L1785.2,803.4 L1787.2,803.5 L1789.2,803.5 L1791.2,803.5 L1793.2,803.5 L1795.2,803.6 L1797.2,803.6 L1799.2,803.6 L1801.2,803.7 L1803.2,803.7 L1805.2,803.7 L1807.2,803.7 L1809.2,803.7 L1811.2,803.8 L1813.2,803.8 L1815.3,803.8 L1817.3,803.8 L1819.3,803.8 L1821.3,803.9 L1823.3,803.9 L1825.3,803.9 L1827.3,803.9 L1829.3,803.9 L1831.3,803.9 L1833.3,803.9 L1835.3,803.9 L1837.3,803.9 L1839.3,804.0 L1841.3,804.0 L1843.3,804.0 L1845.3,804.0 L1847.3,804.0 L1849.3,804.0 L1851.3,804.0 L1853.3,804.0 L1855.3,804.0 L1857.3,804.0 L1859.3,804.0 L1861.3,804.0 L1863.3,804.0 L1865.3,804.0 L1867.3,803.9 L1869.3,803.9 L1871.3,803.9 L1873.3,803.9 L1875.3,803.9 L1877.3,803.9 L1879.3,803.9 L1881.3,803.8 L1883.3,803.8 L1885.3,803.8 L1887.3,803.8 L1889.3,803.7 L1891.3,803.7 L1893.3,803.7 L1895.3,803.7 L1897.3,803.6 L1899.3,803.6 L1901.3,803.5 L1903.3,803.5 L1905.3,803.4 L1907.3,803.4 L1909.3,803.3 L1911.3,803.3 L1913.3,803.2 L1915.3,803.1 L1917.3,803.1 L1919.3,803.0 L1921.3,802.9 L1923.3,802.8 L1925.3,802.7 L1927.3,802.6 L1929.3,802.4 L1931.3,802.3 L1933.3,802.1 L1935.3,801.9 L1937.3,801.7 L1939.3,801.5 L1941.3,801.3 L1943.3,801.0 L1945.3,800.7 L1947.3,800.4 L1949.3,800.0 L1951.3,799.6 L1953.3,799.1 L1955.3,798.6 L1957.3,798.0 L1959.3,797.4 L1961.3,796.6 L1963.3,795.8 L1965.3,794.9 L1967.3,793.9 L1969.3,792.8 L1971.3,791.5 L1973.3,790.1 L1975.3,788.6 L1977.3,786.9 L1979.3,785.0 L1981.3,783.0 L1983.3,780.7 L1985.3,778.3 L1987.3,775.6 L1989.3,772.6 L1991.3,769.4 L1993.3,765.9 L1995.3,762.2 L1997.3,758.1 L1999.3,753.8 L2001.3,749.1 L2003.3,744.1 L2005.3,738.7 L2007.3,733.0 L2009.3,726.9 L2011.3,720.5 L2013.3,713.7 L2015.3,706.6 L2017.3,699.1 L2019.3,691.3 L2021.4,683.2 L2023.4,674.7 L2025.4,665.9 L2027.4,656.9 L2029.4,647.6 L2031.4,638.1 L2033.4,628.4 L2035.4,618.5 L2037.4,608.5 L2039.4,598.4 L2041.4,588.3 L2043.4,578.2 L2045.4,568.1 L2047.4,558.2 L2049.4,548.4 L2051.4,538.9 L2053.4,529.7 L2055.4,520.8 L2057.4,512.4 L2059.4,504.4 L2061.4,496.9 L2063.4,490.1 L2065.4,483.9 L2067.4,478.4 L2069.4,473.6 L2071.4,469.7 L2073.4,466.6 L2075.4,464.4 L2077.4,463.0 L2079.4,462.6 L2081.4,463.1 L2083.4,464.4 L2085.4,466.7 L2087.4,469.9 L2089.4,473.8 L2091.4,478.6 L2093.4,484.1 L2095.4,490.4 L2097.4,497.3 L2099.4,504.8 L2101.4,512.8 L2103.4,521.3 L2105.4,530.2 L2107.4,539.5 L2109.4,549.1 L2111.4,558.9 L2113.4,568.8 L2115.4,578.9 L2117.4,589.1 L2119.4,599.3 L2121.4,609.4 L2123.4,619.4 L2125.4,629.4 L2127.4,639.2 L2129.4,648.8 L2131.4,658.1 L2133.4,667.2 L2135.4,676.0 L2137.4,684.6 L2139.4,692.8 L2141.4,700.7 L2143.4,708.2 L2145.4,715.4 L2147.4,722.2 L2149.4,728.7 L2151.4,734.8 L2153.4,740.6 L2155.4,746.0 L2157.4,751.1 L2159.4,755.8 L2161.4,760.3 L2163.4,764.4 L2165.4,768.2 L2167.4,771.7 L2169.4,775.0 L2171.4,778.0 L2173.4,780.7 L2175.4,783.3 L2177.4,785.6 L2179.4,787.7 L2181.4,789.6 L2183.4,791.4 L2185.4,793.0 L2187.4,794.4 L2189.4,795.7 L2191.4,796.9 L2193.4,798.0 L2195.4,798.9 L2197.4,799.8 L2199.4,800.6 L2201.4,801.3 L2203.4,802.0 L2205.4,802.5 L2207.4,803.1 L2209.4,803.5 L2211.4,804.0 L2213.4,804.4 L2215.4,804.7 L2217.4,805.0 L2219.4,805.3 L2221.4,805.6 L2223.4,805.9 L2225.5,806.1 L2227.5,806.3 L2229.5,806.5 L2231.5,806.7 L2233.5,806.9 L2235.5,807.1 L2237.5,807.2 L2239.5,807.4 L2241.5,807.5 L2243.5,807.6 L2245.5,807.8 L2247.5,807.9 L2249.5,808.0 L2251.5,808.1 L2253.5,808.2 L2255.5,808.3 L2257.5,808.4 L2259.5,808.5 L2261.5,808.6 L2263.5,808.7 L2265.5,808.8 L2267.5,808.9 L2269.5,809.0 L2271.5,809.1 L2273.5,809.2 L2275.5,809.3 L2277.5,809.3 L2279.5,809.4 L2281.5,809.5 L2283.5,809.6 L2285.5,809.6 L2287.5,809.7 L2289.5,809.8 L2291.5,809.9 L2293.5,809.9 L2295.5,810.0 L2297.5,810.1 L2299.5,810.1 L2301.5,810.2 L2303.5,810.3 L2305.5,810.3 L2307.5,810.4 L2309.5,810.4 L2311.5,810.5 L2313.5,810.6 L2315.5,810.6 L2317.5,810.7 L2319.5,810.7 L2321.5,810.8 L2323.5,810.8 L2325.5,810.9 L2327.5,811.0" fill="none" stroke="#4aaef5" stroke-width="2.2" stroke-linejoin="round"/>
<path d="M1299.9,799.0a2.9,2.9 0 1,0 5.8,0a2.9,2.9 0 1,0 -5.8,0M1304.0,797.6a2.9,2.9 0 1,0 5.8,0a2.9,2.9 0 1,0 -5.8,0M1309.7,797.7a2.9,2.9 0 1,0 5.8,0a2.9,2.9 0 1,0 -5.8,0M1313.2,797.1a2.9,2.9 0 1,0 5.8,0a2.9,2.9 0 1,0 -5.8,0M1318.5,797.8a2.9,2.9 0 1,0 5.8,0a2.9,2.9 0 1,0 -5.8,0M1323.8,799.1a2.9,2.9 0 1,0 5.8,0a2.9,2.9 0 1,0 -5.8,0M1328.4,797.5a2.9,2.9 0 1,0 5.8,0a2.9,2.9 0 1,0 -5.8,0M1331.5,797.1a2.9,2.9 0 1,0 5.8,0a2.9,2.9 0 1,0 -5.8,0M1336.8,798.5a2.9,2.9 0 1,0 5.8,0a2.9,2.9 0 1,0 -5.8,0M1341.3,797.2a2.9,2.9 0 1,0 5.8,0a2.9,2.9 0 1,0 -5.8,0M1345.8,798.1a2.9,2.9 0 1,0 5.8,0a2.9,2.9 0 1,0 -5.8,0M1350.8,798.2a2.9,2.9 0 1,0 5.8,0a2.9,2.9 0 1,0 -5.8,0M1355.7,797.9a2.9,2.9 0 1,0 5.8,0a2.9,2.9 0 1,0 -5.8,0M1359.1,798.2a2.9,2.9 0 1,0 5.8,0a2.9,2.9 0 1,0 -5.8,0M1364.0,797.3a2.9,2.9 0 1,0 5.8,0a2.9,2.9 0 1,0 -5.8,0M1368.7,797.5a2.9,2.9 0 1,0 5.8,0a2.9,2.9 0 1,0 -5.8,0M1373.0,796.0a2.9,2.9 0 1,0 5.8,0a2.9,2.9 0 1,0 -5.8,0M1377.6,795.4a2.9,2.9 0 1,0 5.8,0a2.9,2.9 0 1,0 -5.8,0M1383.2,795.8a2.9,2.9 0 1,0 5.8,0a2.9,2.9 0 1,0 -5.8,0M1386.9,794.8a2.9,2.9 0 1,0 5.8,0a2.9,2.9 0 1,0 -5.8,0M1392.6,794.1a2.9,2.9 0 1,0 5.8,0a2.9,2.9 0 1,0 -5.8,0M1396.0,794.1a2.9,2.9 0 1,0 5.8,0a2.9,2.9 0 1,0 -5.8,0M1401.2,793.1a2.9,2.9 0 1,0 5.8,0a2.9,2.9 0 1,0 -5.8,0M1404.9,790.6a2.9,2.9 0 1,0 5.8,0a2.9,2.9 0 1,0 -5.8,0M1410.7,789.0a2.9,2.9 0 1,0 5.8,0a2.9,2.9 0 1,0 -5.8,0M1415.4,784.6a2.9,2.9 0 1,0 5.8,0a2.9,2.9 0 1,0 -5.8,0M1419.0,782.4a2.9,2.9 0 1,0 5.8,0a2.9,2.9 0 1,0 -5.8,0M1423.4,781.0a2.9,2.9 0 1,0 5.8,0a2.9,2.9 0 1,0 -5.8,0M1428.6,776.0a2.9,2.9 0 1,0 5.8,0a2.9,2.9 0 1,0 -5.8,0M1432.9,771.1a2.9,2.9 0 1,0 5.8,0a2.9,2.9 0 1,0 -5.8,0M1437.6,763.4a2.9,2.9 0 1,0 5.8,0a2.9,2.9 0 1,0 -5.8,0M1442.7,757.0a2.9,2.9 0 1,0 5.8,0a2.9,2.9 0 1,0 -5.8,0M1446.2,749.9a2.9,2.9 0 1,0 5.8,0a2.9,2.9 0 1,0 -5.8,0M1451.6,738.0a2.9,2.9 0 1,0 5.8,0a2.9,2.9 0 1,0 -5.8,0M1455.8,728.3a2.9,2.9 0 1,0 5.8,0a2.9,2.9 0 1,0 -5.8,0M1460.1,717.6a2.9,2.9 0 1,0 5.8,0a2.9,2.9 0 1,0 -5.8,0M1465.3,704.0a2.9,2.9 0 1,0 5.8,0a2.9,2.9 0 1,0 -5.8,0M1469.3,690.6a2.9,2.9 0 1,0 5.8,0a2.9,2.9 0 1,0 -5.8,0M1474.1,676.9a2.9,2.9 0 1,0 5.8,0a2.9,2.9 0 1,0 -5.8,0M1478.4,661.4a2.9,2.9 0 1,0 5.8,0a2.9,2.9 0 1,0 -5.8,0M1483.0,646.6a2.9,2.9 0 1,0 5.8,0a2.9,2.9 0 1,0 -5.8,0M1488.2,626.8a2.9,2.9 0 1,0 5.8,0a2.9,2.9 0 1,0 -5.8,0M1492.0,614.2a2.9,2.9 0 1,0 5.8,0a2.9,2.9 0 1,0 -5.8,0M1497.3,596.9a2.9,2.9 0 1,0 5.8,0a2.9,2.9 0 1,0 -5.8,0M1501.2,583.6a2.9,2.9 0 1,0 5.8,0a2.9,2.9 0 1,0 -5.8,0M1506.7,568.2a2.9,2.9 0 1,0 5.8,0a2.9,2.9 0 1,0 -5.8,0M1510.7,558.2a2.9,2.9 0 1,0 5.8,0a2.9,2.9 0 1,0 -5.8,0M1516.3,547.0a2.9,2.9 0 1,0 5.8,0a2.9,2.9 0 1,0 -5.8,0M1520.3,541.5a2.9,2.9 0 1,0 5.8,0a2.9,2.9 0 1,0 -5.8,0M1524.6,538.9a2.9,2.9 0 1,0 5.8,0a2.9,2.9 0 1,0 -5.8,0M1530.2,536.8a2.9,2.9 0 1,0 5.8,0a2.9,2.9 0 1,0 -5.8,0M1533.5,539.1a2.9,2.9 0 1,0 5.8,0a2.9,2.9 0 1,0 -5.8,0M1538.1,542.0a2.9,2.9 0 1,0 5.8,0a2.9,2.9 0 1,0 -5.8,0M1543.8,552.5a2.9,2.9 0 1,0 5.8,0a2.9,2.9 0 1,0 -5.8,0M1548.2,562.4a2.9,2.9 0 1,0 5.8,0a2.9,2.9 0 1,0 -5.8,0M1552.9,575.0a2.9,2.9 0 1,0 5.8,0a2.9,2.9 0 1,0 -5.8,0M1556.3,584.2a2.9,2.9 0 1,0 5.8,0a2.9,2.9 0 1,0 -5.8,0M1561.5,602.5a2.9,2.9 0 1,0 5.8,0a2.9,2.9 0 1,0 -5.8,0M1566.7,618.9a2.9,2.9 0 1,0 5.8,0a2.9,2.9 0 1,0 -5.8,0M1570.8,634.1a2.9,2.9 0 1,0 5.8,0a2.9,2.9 0 1,0 -5.8,0M1575.2,649.0a2.9,2.9 0 1,0 5.8,0a2.9,2.9 0 1,0 -5.8,0M1579.5,664.6a2.9,2.9 0 1,0 5.8,0a2.9,2.9 0 1,0 -5.8,0M1585.1,682.3a2.9,2.9 0 1,0 5.8,0a2.9,2.9 0 1,0 -5.8,0M1589.0,696.3a2.9,2.9 0 1,0 5.8,0a2.9,2.9 0 1,0 -5.8,0M1594.3,710.7a2.9,2.9 0 1,0 5.8,0a2.9,2.9 0 1,0 -5.8,0M1597.5,721.4a2.9,2.9 0 1,0 5.8,0a2.9,2.9 0 1,0 -5.8,0M1603.5,735.1a2.9,2.9 0 1,0 5.8,0a2.9,2.9 0 1,0 -5.8,0M1606.6,743.1a2.9,2.9 0 1,0 5.8,0a2.9,2.9 0 1,0 -5.8,0M1611.7,753.4a2.9,2.9 0 1,0 5.8,0a2.9,2.9 0 1,0 -5.8,0M1616.7,761.8a2.9,2.9 0 1,0 5.8,0a2.9,2.9 0 1,0 -5.8,0M1620.5,767.6a2.9,2.9 0 1,0 5.8,0a2.9,2.9 0 1,0 -5.8,0M1625.2,772.8a2.9,2.9 0 1,0 5.8,0a2.9,2.9 0 1,0 -5.8,0M1630.8,780.0a2.9,2.9 0 1,0 5.8,0a2.9,2.9 0 1,0 -5.8,0M1634.3,781.7a2.9,2.9 0 1,0 5.8,0a2.9,2.9 0 1,0 -5.8,0M1639.2,786.3a2.9,2.9 0 1,0 5.8,0a2.9,2.9 0 1,0 -5.8,0M1643.8,788.2a2.9,2.9 0 1,0 5.8,0a2.9,2.9 0 1,0 -5.8,0M1648.2,792.0a2.9,2.9 0 1,0 5.8,0a2.9,2.9 0 1,0 -5.8,0M1653.8,792.7a2.9,2.9 0 1,0 5.8,0a2.9,2.9 0 1,0 -5.8,0M1657.8,795.8a2.9,2.9 0 1,0 5.8,0a2.9,2.9 0 1,0 -5.8,0M1661.6,797.0a2.9,2.9 0 1,0 5.8,0a2.9,2.9 0 1,0 -5.8,0M1666.3,797.5a2.9,2.9 0 1,0 5.8,0a2.9,2.9 0 1,0 -5.8,0M1671.6,798.6a2.9,2.9 0 1,0 5.8,0a2.9,2.9 0 1,0 -5.8,0M1675.8,798.7a2.9,2.9 0 1,0 5.8,0a2.9,2.9 0 1,0 -5.8,0M1680.8,799.3a2.9,2.9 0 1,0 5.8,0a2.9,2.9 0 1,0 -5.8,0M1685.5,799.8a2.9,2.9 0 1,0 5.8,0a2.9,2.9 0 1,0 -5.8,0M1689.7,799.2a2.9,2.9 0 1,0 5.8,0a2.9,2.9 0 1,0 -5.8,0M1694.6,800.7a2.9,2.9 0 1,0 5.8,0a2.9,2.9 0 1,0 -5.8,0M1698.6,801.6a2.9,2.9 0 1,0 5.8,0a2.9,2.9 0 1,0 -5.8,0M1704.0,801.1a2.9,2.9 0 1,0 5.8,0a2.9,2.9 0 1,0 -5.8,0M1707.7,801.3a2.9,2.9 0 1,0 5.8,0a2.9,2.9 0 1,0 -5.8,0M1712.1,800.7a2.9,2.9 0 1,0 5.8,0a2.9,2.9 0 1,0 -5.8,0M1717.2,800.8a2.9,2.9 0 1,0 5.8,0a2.9,2.9 0 1,0 -5.8,0M1721.8,802.0a2.9,2.9 0 1,0 5.8,0a2.9,2.9 0 1,0 -5.8,0M1725.8,802.4a2.9,2.9 0 1,0 5.8,0a2.9,2.9 0 1,0 -5.8,0M1730.4,802.8a2.9,2.9 0 1,0 5.8,0a2.9,2.9 0 1,0 -5.8,0M1736.1,802.5a2.9,2.9 0 1,0 5.8,0a2.9,2.9 0 1,0 -5.8,0M1739.6,802.5a2.9,2.9 0 1,0 5.8,0a2.9,2.9 0 1,0 -5.8,0M1744.7,803.7a2.9,2.9 0 1,0 5.8,0a2.9,2.9 0 1,0 -5.8,0M1748.9,803.6a2.9,2.9 0 1,0 5.8,0a2.9,2.9 0 1,0 -5.8,0M1754.8,803.5a2.9,2.9 0 1,0 5.8,0a2.9,2.9 0 1,0 -5.8,0M1759.1,802.3a2.9,2.9 0 1,0 5.8,0a2.9,2.9 0 1,0 -5.8,0M1764.0,803.1a2.9,2.9 0 1,0 5.8,0a2.9,2.9 0 1,0 -5.8,0M1768.5,804.2a2.9,2.9 0 1,0 5.8,0a2.9,2.9 0 1,0 -5.8,0M1771.8,803.9a2.9,2.9 0 1,0 5.8,0a2.9,2.9 0 1,0 -5.8,0M1777.6,802.3a2.9,2.9 0 1,0 5.8,0a2.9,2.9 0 1,0 -5.8,0M1781.3,804.0a2.9,2.9 0 1,0 5.8,0a2.9,2.9 0 1,0 -5.8,0M1785.6,804.4a2.9,2.9 0 1,0 5.8,0a2.9,2.9 0 1,0 -5.8,0M1790.4,804.3a2.9,2.9 0 1,0 5.8,0a2.9,2.9 0 1,0 -5.8,0M1794.7,803.6a2.9,2.9 0 1,0 5.8,0a2.9,2.9 0 1,0 -5.8,0M1800.6,803.0a2.9,2.9 0 1,0 5.8,0a2.9,2.9 0 1,0 -5.8,0M1804.1,803.7a2.9,2.9 0 1,0 5.8,0a2.9,2.9 0 1,0 -5.8,0M1808.8,802.7a2.9,2.9 0 1,0 5.8,0a2.9,2.9 0 1,0 -5.8,0M1813.1,803.0a2.9,2.9 0 1,0 5.8,0a2.9,2.9 0 1,0 -5.8,0M1818.9,804.3a2.9,2.9 0 1,0 5.8,0a2.9,2.9 0 1,0 -5.8,0M1823.4,803.1a2.9,2.9 0 1,0 5.8,0a2.9,2.9 0 1,0 -5.8,0M1827.9,803.0a2.9,2.9 0 1,0 5.8,0a2.9,2.9 0 1,0 -5.8,0M1832.0,804.3a2.9,2.9 0 1,0 5.8,0a2.9,2.9 0 1,0 -5.8,0M1836.3,804.9a2.9,2.9 0 1,0 5.8,0a2.9,2.9 0 1,0 -5.8,0M1841.2,804.2a2.9,2.9 0 1,0 5.8,0a2.9,2.9 0 1,0 -5.8,0M1846.4,803.0a2.9,2.9 0 1,0 5.8,0a2.9,2.9 0 1,0 -5.8,0M1851.1,804.3a2.9,2.9 0 1,0 5.8,0a2.9,2.9 0 1,0 -5.8,0M1854.7,804.7a2.9,2.9 0 1,0 5.8,0a2.9,2.9 0 1,0 -5.8,0M1859.1,805.1a2.9,2.9 0 1,0 5.8,0a2.9,2.9 0 1,0 -5.8,0M1864.2,803.6a2.9,2.9 0 1,0 5.8,0a2.9,2.9 0 1,0 -5.8,0M1869.1,803.8a2.9,2.9 0 1,0 5.8,0a2.9,2.9 0 1,0 -5.8,0M1872.7,804.5a2.9,2.9 0 1,0 5.8,0a2.9,2.9 0 1,0 -5.8,0M1877.1,804.6a2.9,2.9 0 1,0 5.8,0a2.9,2.9 0 1,0 -5.8,0M1882.0,804.1a2.9,2.9 0 1,0 5.8,0a2.9,2.9 0 1,0 -5.8,0M1887.8,803.9a2.9,2.9 0 1,0 5.8,0a2.9,2.9 0 1,0 -5.8,0M1891.9,803.2a2.9,2.9 0 1,0 5.8,0a2.9,2.9 0 1,0 -5.8,0M1895.4,802.5a2.9,2.9 0 1,0 5.8,0a2.9,2.9 0 1,0 -5.8,0M1900.2,803.8a2.9,2.9 0 1,0 5.8,0a2.9,2.9 0 1,0 -5.8,0M1905.2,803.4a2.9,2.9 0 1,0 5.8,0a2.9,2.9 0 1,0 -5.8,0M1910.6,802.3a2.9,2.9 0 1,0 5.8,0a2.9,2.9 0 1,0 -5.8,0M1914.1,803.4a2.9,2.9 0 1,0 5.8,0a2.9,2.9 0 1,0 -5.8,0M1918.3,801.7a2.9,2.9 0 1,0 5.8,0a2.9,2.9 0 1,0 -5.8,0M1923.5,801.7a2.9,2.9 0 1,0 5.8,0a2.9,2.9 0 1,0 -5.8,0M1928.0,801.6a2.9,2.9 0 1,0 5.8,0a2.9,2.9 0 1,0 -5.8,0M1933.0,802.1a2.9,2.9 0 1,0 5.8,0a2.9,2.9 0 1,0 -5.8,0M1937.0,801.8a2.9,2.9 0 1,0 5.8,0a2.9,2.9 0 1,0 -5.8,0M1942.0,799.9a2.9,2.9 0 1,0 5.8,0a2.9,2.9 0 1,0 -5.8,0M1947.3,799.2a2.9,2.9 0 1,0 5.8,0a2.9,2.9 0 1,0 -5.8,0M1950.6,798.1a2.9,2.9 0 1,0 5.8,0a2.9,2.9 0 1,0 -5.8,0M1956.0,798.4a2.9,2.9 0 1,0 5.8,0a2.9,2.9 0 1,0 -5.8,0M1960.8,795.4a2.9,2.9 0 1,0 5.8,0a2.9,2.9 0 1,0 -5.8,0M1964.6,792.6a2.9,2.9 0 1,0 5.8,0a2.9,2.9 0 1,0 -5.8,0M1969.8,790.7a2.9,2.9 0 1,0 5.8,0a2.9,2.9 0 1,0 -5.8,0M1973.9,787.7a2.9,2.9 0 1,0 5.8,0a2.9,2.9 0 1,0 -5.8,0M1978.6,783.8a2.9,2.9 0 1,0 5.8,0a2.9,2.9 0 1,0 -5.8,0M1983.7,776.0a2.9,2.9 0 1,0 5.8,0a2.9,2.9 0 1,0 -5.8,0M1988.5,768.2a2.9,2.9 0 1,0 5.8,0a2.9,2.9 0 1,0 -5.8,0M1992.5,761.8a2.9,2.9 0 1,0 5.8,0a2.9,2.9 0 1,0 -5.8,0M1996.6,752.3a2.9,2.9 0 1,0 5.8,0a2.9,2.9 0 1,0 -5.8,0M2002.1,738.5a2.9,2.9 0 1,0 5.8,0a2.9,2.9 0 1,0 -5.8,0M2006.3,728.4a2.9,2.9 0 1,0 5.8,0a2.9,2.9 0 1,0 -5.8,0M2010.2,713.8a2.9,2.9 0 1,0 5.8,0a2.9,2.9 0 1,0 -5.8,0M2015.6,694.8a2.9,2.9 0 1,0 5.8,0a2.9,2.9 0 1,0 -5.8,0M2020.2,676.5a2.9,2.9 0 1,0 5.8,0a2.9,2.9 0 1,0 -5.8,0M2024.0,658.3a2.9,2.9 0 1,0 5.8,0a2.9,2.9 0 1,0 -5.8,0M2028.8,635.2a2.9,2.9 0 1,0 5.8,0a2.9,2.9 0 1,0 -5.8,0M2034.4,609.7a2.9,2.9 0 1,0 5.8,0a2.9,2.9 0 1,0 -5.8,0M2038.7,586.1a2.9,2.9 0 1,0 5.8,0a2.9,2.9 0 1,0 -5.8,0M2043.5,563.8a2.9,2.9 0 1,0 5.8,0a2.9,2.9 0 1,0 -5.8,0M2047.4,544.4a2.9,2.9 0 1,0 5.8,0a2.9,2.9 0 1,0 -5.8,0M2052.0,522.2a2.9,2.9 0 1,0 5.8,0a2.9,2.9 0 1,0 -5.8,0M2056.0,505.5a2.9,2.9 0 1,0 5.8,0a2.9,2.9 0 1,0 -5.8,0M2060.5,489.6a2.9,2.9 0 1,0 5.8,0a2.9,2.9 0 1,0 -5.8,0M2066.2,474.7a2.9,2.9 0 1,0 5.8,0a2.9,2.9 0 1,0 -5.8,0M2071.0,466.5a2.9,2.9 0 1,0 5.8,0a2.9,2.9 0 1,0 -5.8,0M2074.6,463.1a2.9,2.9 0 1,0 5.8,0a2.9,2.9 0 1,0 -5.8,0M2079.5,464.3a2.9,2.9 0 1,0 5.8,0a2.9,2.9 0 1,0 -5.8,0M2084.2,468.8a2.9,2.9 0 1,0 5.8,0a2.9,2.9 0 1,0 -5.8,0M2089.0,481.0a2.9,2.9 0 1,0 5.8,0a2.9,2.9 0 1,0 -5.8,0M2092.9,492.6a2.9,2.9 0 1,0 5.8,0a2.9,2.9 0 1,0 -5.8,0M2097.1,506.8a2.9,2.9 0 1,0 5.8,0a2.9,2.9 0 1,0 -5.8,0M2102.1,529.0a2.9,2.9 0 1,0 5.8,0a2.9,2.9 0 1,0 -5.8,0M2107.8,556.1a2.9,2.9 0 1,0 5.8,0a2.9,2.9 0 1,0 -5.8,0M2111.4,574.3a2.9,2.9 0 1,0 5.8,0a2.9,2.9 0 1,0 -5.8,0M2116.0,596.0a2.9,2.9 0 1,0 5.8,0a2.9,2.9 0 1,0 -5.8,0M2121.5,624.8a2.9,2.9 0 1,0 5.8,0a2.9,2.9 0 1,0 -5.8,0M2125.7,645.5a2.9,2.9 0 1,0 5.8,0a2.9,2.9 0 1,0 -5.8,0M2130.8,668.4a2.9,2.9 0 1,0 5.8,0a2.9,2.9 0 1,0 -5.8,0M2135.2,687.7a2.9,2.9 0 1,0 5.8,0a2.9,2.9 0 1,0 -5.8,0M2139.8,705.3a2.9,2.9 0 1,0 5.8,0a2.9,2.9 0 1,0 -5.8,0M2144.1,721.1a2.9,2.9 0 1,0 5.8,0a2.9,2.9 0 1,0 -5.8,0M2148.1,732.7a2.9,2.9 0 1,0 5.8,0a2.9,2.9 0 1,0 -5.8,0M2153.1,746.6a2.9,2.9 0 1,0 5.8,0a2.9,2.9 0 1,0 -5.8,0M2158.2,758.7a2.9,2.9 0 1,0 5.8,0a2.9,2.9 0 1,0 -5.8,0M2161.4,765.1a2.9,2.9 0 1,0 5.8,0a2.9,2.9 0 1,0 -5.8,0M2167.4,775.9a2.9,2.9 0 1,0 5.8,0a2.9,2.9 0 1,0 -5.8,0M2170.7,779.9a2.9,2.9 0 1,0 5.8,0a2.9,2.9 0 1,0 -5.8,0M2175.1,786.7a2.9,2.9 0 1,0 5.8,0a2.9,2.9 0 1,0 -5.8,0M2180.7,792.0a2.9,2.9 0 1,0 5.8,0a2.9,2.9 0 1,0 -5.8,0M2185.4,794.0a2.9,2.9 0 1,0 5.8,0a2.9,2.9 0 1,0 -5.8,0M2189.8,797.2a2.9,2.9 0 1,0 5.8,0a2.9,2.9 0 1,0 -5.8,0M2194.7,800.7a2.9,2.9 0 1,0 5.8,0a2.9,2.9 0 1,0 -5.8,0M2199.4,800.6a2.9,2.9 0 1,0 5.8,0a2.9,2.9 0 1,0 -5.8,0M2204.0,803.9a2.9,2.9 0 1,0 5.8,0a2.9,2.9 0 1,0 -5.8,0M2208.7,803.1a2.9,2.9 0 1,0 5.8,0a2.9,2.9 0 1,0 -5.8,0M2212.1,803.7a2.9,2.9 0 1,0 5.8,0a2.9,2.9 0 1,0 -5.8,0M2216.4,806.2a2.9,2.9 0 1,0 5.8,0a2.9,2.9 0 1,0 -5.8,0M2222.2,806.4a2.9,2.9 0 1,0 5.8,0a2.9,2.9 0 1,0 -5.8,0M2226.8,806.9a2.9,2.9 0 1,0 5.8,0a2.9,2.9 0 1,0 -5.8,0M2230.6,805.9a2.9,2.9 0 1,0 5.8,0a2.9,2.9 0 1,0 -5.8,0M2234.8,807.8a2.9,2.9 0 1,0 5.8,0a2.9,2.9 0 1,0 -5.8,0M2239.6,807.1a2.9,2.9 0 1,0 5.8,0a2.9,2.9 0 1,0 -5.8,0M2244.5,806.7a2.9,2.9 0 1,0 5.8,0a2.9,2.9 0 1,0 -5.8,0M2248.8,807.6a2.9,2.9 0 1,0 5.8,0a2.9,2.9 0 1,0 -5.8,0M2254.2,808.1a2.9,2.9 0 1,0 5.8,0a2.9,2.9 0 1,0 -5.8,0M2258.1,809.7a2.9,2.9 0 1,0 5.8,0a2.9,2.9 0 1,0 -5.8,0M2263.0,809.7a2.9,2.9 0 1,0 5.8,0a2.9,2.9 0 1,0 -5.8,0M2267.8,807.9a2.9,2.9 0 1,0 5.8,0a2.9,2.9 0 1,0 -5.8,0M2272.0,809.1a2.9,2.9 0 1,0 5.8,0a2.9,2.9 0 1,0 -5.8,0M2277.2,809.1a2.9,2.9 0 1,0 5.8,0a2.9,2.9 0 1,0 -5.8,0M2281.7,809.7a2.9,2.9 0 1,0 5.8,0a2.9,2.9 0 1,0 -5.8,0M2285.5,810.6a2.9,2.9 0 1,0 5.8,0a2.9,2.9 0 1,0 -5.8,0M2289.8,810.7a2.9,2.9 0 1,0 5.8,0a2.9,2.9 0 1,0 -5.8,0M2294.6,808.9a2.9,2.9 0 1,0 5.8,0a2.9,2.9 0 1,0 -5.8,0M2299.2,810.8a2.9,2.9 0 1,0 5.8,0a2.9,2.9 0 1,0 -5.8,0M2305.0,809.2a2.9,2.9 0 1,0 5.8,0a2.9,2.9 0 1,0 -5.8,0M2308.8,810.5a2.9,2.9 0 1,0 5.8,0a2.9,2.9 0 1,0 -5.8,0M2313.9,809.9a2.9,2.9 0 1,0 5.8,0a2.9,2.9 0 1,0 -5.8,0M2318.0,810.4a2.9,2.9 0 1,0 5.8,0a2.9,2.9 0 1,0 -5.8,0M2323.1,810.3a2.9,2.9 0 1,0 5.8,0a2.9,2.9 0 1,0 -5.8,0" fill="#fff" fill-opacity="0.5" stroke="#62bcf8" stroke-width="1.3"/>
<path d="M1528.0,93.3V200.0" stroke="#000" stroke-width="4.0" stroke-dasharray="12.5 6.5"/>
<path d="M2073.9,45.2V152.5" stroke="#000" stroke-width="4.0" stroke-dasharray="12.5 6.5"/>
<path d="M1531.6,479.6V585.4" stroke="#000" stroke-width="4.0" stroke-dasharray="12.5 6.5"/>
<path d="M2079.4,423.8V529.7" stroke="#000" stroke-width="4.0" stroke-dasharray="12.5 6.5"/>
<text transform="translate(1309.8,74.1) scale(1,1.080)" x="0.0" y="0" font-size="62.1" fill="#000"><tspan>(b)</tspan></text>
<text transform="translate(2225.0,80.0)" x="0.0" y="0" font-size="49.8" fill="#000"><tspan>Bi 4f</tspan></text>
<text transform="translate(2080.9,68.9)" x="0.0" y="0" font-size="43.1" fill="#0a22cc"><tspan>Bi 4f</tspan><tspan dy="10.3" font-size="26.7">7/2</tspan></text>
<text transform="translate(2109.3,141.2)" x="0.0" y="0" font-size="41.8" fill="#0a22cc"><tspan>159.5 eV</tspan></text>
<text transform="translate(1536.2,80.8)" x="0.0" y="0" font-size="43.1" fill="#ff0000"><tspan>Bi 4f</tspan><tspan dy="10.3" font-size="26.7">5/2</tspan></text>
<text transform="translate(1551.4,150.7)" x="0.0" y="0" font-size="41.6" fill="#ff0000"><tspan>164.75 eV</tspan></text>
<text transform="translate(1676.7,362.0)" x="0.0" y="0" font-size="44.1" fill="#000"><tspan font-style="italic">g</tspan><tspan>-C</tspan><tspan dy="10.6" font-size="27.3">3</tspan><tspan dy="-10.6">N</tspan><tspan dy="10.6" font-size="27.3">4</tspan><tspan dy="-10.6">/BiOBr</tspan></text>
<text transform="translate(1554.4,479.6)" x="0.0" y="0" font-size="42.6" fill="#ff0000"><tspan>Bi 4f</tspan><tspan dy="10.2" font-size="26.4">5/2</tspan></text>
<text transform="translate(1568.1,565.7)" x="0.0" y="0" font-size="42.0" fill="#ff0000"><tspan>164.71 eV</tspan></text>
<text transform="translate(2099.4,459.6)" x="0.0" y="0" font-size="44.1" fill="#0a22cc"><tspan>Bi 4f</tspan><tspan dy="10.6" font-size="27.4">7/2</tspan></text>
<text transform="translate(2120.4,528.0)" x="0.0" y="0" font-size="42.5" fill="#0a22cc"><tspan>159.43 eV</tspan></text>
<text transform="translate(1757.5,791.0)" x="0.0" y="0" font-size="43.3" fill="#000"><tspan>BiOBr</tspan></text>
<path d="M422.0,1408.4 L422.0,1405.7 L424.0,1405.6 L426.0,1405.6 L428.0,1405.6 L430.0,1405.6 L432.0,1405.5 L434.0,1405.5 L436.0,1405.5 L438.0,1405.5 L440.0,1405.4 L442.0,1405.4 L444.0,1405.4 L446.0,1405.3 L448.0,1405.3 L450.0,1405.3 L452.0,1405.2 L454.0,1405.2 L456.0,1405.2 L458.0,1405.1 L460.0,1405.1 L462.0,1405.0 L464.0,1405.0 L466.0,1404.9 L468.0,1404.9 L470.0,1404.8 L472.0,1404.8 L474.0,1404.7 L476.0,1404.7 L478.0,1404.6 L480.0,1404.6 L482.0,1404.5 L484.0,1404.4 L486.0,1404.4 L488.0,1404.3 L490.0,1404.2 L492.0,1404.2 L494.0,1404.1 L496.0,1404.0 L498.0,1403.9 L500.0,1403.9 L502.0,1403.8 L504.0,1403.7 L506.0,1403.6 L508.0,1403.5 L510.0,1403.4 L512.0,1403.3 L514.0,1403.2 L516.0,1403.1 L518.0,1403.0 L520.0,1402.9 L522.0,1402.7 L524.0,1402.6 L526.0,1402.5 L528.0,1402.3 L530.0,1402.2 L532.0,1402.1 L534.0,1401.9 L536.0,1401.7 L538.0,1401.6 L540.0,1401.4 L542.0,1401.2 L544.0,1401.0 L546.0,1400.8 L548.0,1400.6 L550.0,1400.4 L552.0,1400.2 L554.0,1399.9 L556.0,1399.7 L558.0,1399.4 L560.0,1399.1 L562.0,1398.8 L564.0,1398.5 L566.0,1398.1 L568.0,1397.8 L570.0,1397.4 L572.0,1396.9 L574.0,1396.5 L576.0,1396.0 L578.0,1395.4 L580.0,1394.9 L582.0,1394.2 L583.9,1393.5 L585.9,1392.7 L587.9,1391.9 L589.9,1391.0 L591.9,1390.0 L593.9,1388.9 L595.9,1387.6 L597.9,1386.3 L599.9,1384.8 L601.9,1383.2 L603.9,1381.4 L605.9,1379.5 L607.9,1377.3 L609.9,1375.0 L611.9,1372.4 L613.9,1369.6 L615.9,1366.6 L617.9,1363.3 L619.9,1359.7 L621.9,1355.8 L623.9,1351.6 L625.9,1347.0 L627.9,1342.2 L629.9,1337.0 L631.9,1331.4 L633.9,1325.4 L635.9,1319.1 L637.9,1312.4 L639.9,1305.3 L641.9,1297.9 L643.9,1290.1 L645.9,1281.9 L647.9,1273.4 L649.9,1264.5 L651.9,1255.4 L653.9,1245.9 L655.9,1236.2 L657.9,1226.3 L659.9,1216.3 L661.9,1206.1 L663.9,1195.8 L665.9,1185.5 L667.9,1175.2 L669.9,1165.1 L671.9,1155.2 L673.9,1145.5 L675.9,1136.2 L677.9,1127.3 L679.9,1118.9 L681.9,1111.2 L683.9,1104.2 L685.9,1098.0 L687.9,1092.6 L689.9,1088.3 L691.9,1085.0 L693.9,1082.7 L695.9,1081.6 L697.9,1081.6 L699.9,1082.8 L701.9,1085.0 L703.9,1088.4 L705.9,1092.8 L707.9,1098.2 L709.9,1104.4 L711.9,1111.5 L713.9,1119.2 L715.9,1127.6 L717.9,1136.5 L719.9,1145.9 L721.9,1155.6 L723.9,1165.6 L725.9,1175.8 L727.9,1186.0 L729.9,1196.4 L731.9,1206.7 L733.9,1216.9 L735.9,1227.0 L737.9,1237.0 L739.9,1246.7 L741.9,1256.2 L743.9,1265.4 L745.9,1274.2 L747.9,1282.8 L749.9,1291.0 L751.9,1298.9 L753.9,1306.4 L755.9,1313.5 L757.9,1320.2 L759.9,1326.6 L761.9,1332.5 L763.9,1338.2 L765.9,1343.4 L767.9,1348.3 L769.9,1352.9 L771.9,1357.1 L773.9,1361.0 L775.9,1364.7 L777.9,1368.0 L779.9,1371.1 L781.9,1373.9 L783.9,1376.5 L785.9,1378.9 L787.9,1381.1 L789.9,1383.1 L791.9,1384.9 L793.9,1386.5 L795.9,1388.1 L797.9,1389.4 L799.9,1390.7 L801.9,1391.8 L803.9,1392.9 L805.9,1393.8 L807.9,1394.7 L809.9,1395.5 L811.8,1396.3 L813.8,1396.9 L815.8,1397.6 L817.8,1398.1 L819.8,1398.7 L821.8,1399.2 L823.8,1399.6 L825.8,1400.1 L827.8,1400.5 L829.8,1400.9 L831.8,1401.2 L833.8,1401.6 L835.8,1401.9 L837.8,1402.2 L839.8,1402.5 L841.8,1402.8 L843.8,1403.0 L845.8,1403.3 L847.8,1403.5 L849.8,1403.8 L851.8,1404.0 L853.8,1404.2 L855.8,1404.4 L857.8,1404.6 L859.8,1404.8 L861.8,1405.0 L863.8,1405.2 L865.8,1405.4 L867.8,1405.5 L869.8,1405.7 L871.8,1405.9 L873.8,1406.0 L875.8,1406.2 L877.8,1406.3 L879.8,1406.5 L881.8,1406.6 L883.8,1406.7 L885.8,1406.9 L887.8,1407.0 L889.8,1407.1 L891.8,1407.3 L893.8,1407.4 L895.8,1407.5 L897.8,1407.6 L899.8,1407.7 L901.8,1407.8 L903.8,1407.9 L905.8,1408.0 L907.8,1408.1 L909.8,1408.2 L911.8,1408.3 L913.8,1408.4 L915.8,1408.5 L917.8,1408.6 L919.8,1408.7 L921.8,1408.8 L923.8,1408.9 L925.8,1409.0 L927.8,1409.1 L929.8,1409.1 L931.8,1409.2 L933.8,1409.3 L935.8,1409.4 L937.8,1409.5 L939.8,1409.5 L941.8,1409.6 L943.8,1409.7 L945.8,1409.7 L947.8,1409.8 L949.8,1409.9 L951.8,1409.9 L953.8,1410.0 L955.8,1410.1 L957.8,1410.1 L959.8,1410.2 L961.8,1410.3 L963.8,1410.3 L965.8,1410.4 L967.8,1410.4 L969.8,1410.5 L971.8,1410.6 L971.8,1413.3Z" fill="url(#g5)" fill-opacity="0.95"/>
<path d="M344.1,1407.7 L344.1,1405.9 L346.1,1405.8 L348.1,1405.8 L350.0,1405.8 L352.0,1405.8 L354.0,1405.8 L356.0,1405.8 L358.0,1405.8 L360.0,1405.7 L362.0,1405.7 L364.0,1405.7 L366.0,1405.7 L368.0,1405.7 L370.0,1405.6 L372.0,1405.6 L374.0,1405.6 L376.0,1405.6 L378.0,1405.5 L380.0,1405.5 L382.0,1405.5 L384.0,1405.5 L386.0,1405.4 L388.0,1405.4 L390.0,1405.4 L392.0,1405.3 L393.9,1405.3 L395.9,1405.2 L397.9,1405.2 L399.9,1405.2 L401.9,1405.1 L403.9,1405.1 L405.9,1405.0 L407.9,1405.0 L409.9,1404.9 L411.9,1404.9 L413.9,1404.8 L415.9,1404.7 L417.9,1404.7 L419.9,1404.6 L421.9,1404.6 L423.9,1404.5 L425.9,1404.4 L427.9,1404.3 L429.9,1404.2 L431.9,1404.2 L433.9,1404.1 L435.9,1404.0 L437.8,1403.9 L439.8,1403.8 L441.8,1403.7 L443.8,1403.6 L445.8,1403.5 L447.8,1403.3 L449.8,1403.2 L451.8,1403.1 L453.8,1402.9 L455.8,1402.8 L457.8,1402.6 L459.8,1402.5 L461.8,1402.3 L463.8,1402.1 L465.8,1401.9 L467.8,1401.7 L469.8,1401.5 L471.8,1401.2 L473.8,1400.9 L475.8,1400.7 L477.8,1400.3 L479.8,1400.0 L481.7,1399.6 L483.7,1399.2 L485.7,1398.8 L487.7,1398.3 L489.7,1397.7 L491.7,1397.1 L493.7,1396.4 L495.7,1395.7 L497.7,1394.9 L499.7,1393.9 L501.7,1392.9 L503.7,1391.8 L505.7,1390.5 L507.7,1389.1 L509.7,1387.5 L511.7,1385.8 L513.7,1383.9 L515.7,1381.8 L517.7,1379.5 L519.7,1376.9 L521.7,1374.1 L523.7,1371.1 L525.6,1367.8 L527.6,1364.2 L529.6,1360.3 L531.6,1356.1 L533.6,1351.6 L535.6,1346.8 L537.6,1341.7 L539.6,1336.3 L541.6,1330.5 L543.6,1324.5 L545.6,1318.1 L547.6,1311.5 L549.6,1304.6 L551.6,1297.5 L553.6,1290.2 L555.6,1282.7 L557.6,1275.1 L559.6,1267.4 L561.6,1259.7 L563.6,1252.0 L565.6,1244.4 L567.6,1237.0 L569.5,1229.8 L571.5,1222.9 L573.5,1216.4 L575.5,1210.5 L577.5,1205.0 L579.5,1200.3 L581.5,1196.3 L583.5,1193.1 L585.5,1190.8 L587.5,1189.4 L589.5,1188.9 L591.5,1189.4 L593.5,1190.8 L595.5,1193.2 L597.5,1196.4 L599.5,1200.5 L601.5,1205.3 L603.5,1210.7 L605.5,1216.7 L607.5,1223.2 L609.5,1230.1 L611.4,1237.4 L613.4,1244.8 L615.4,1252.4 L617.4,1260.2 L619.4,1267.9 L621.4,1275.6 L623.4,1283.3 L625.4,1290.8 L627.4,1298.2 L629.4,1305.3 L631.4,1312.2 L633.4,1318.9 L635.4,1325.3 L637.4,1331.4 L639.4,1337.2 L641.4,1342.6 L643.4,1347.8 L645.4,1352.6 L647.4,1357.2 L649.4,1361.4 L651.4,1365.3 L653.4,1368.9 L655.3,1372.3 L657.3,1375.4 L659.3,1378.2 L661.3,1380.8 L663.3,1383.1 L665.3,1385.3 L667.3,1387.2 L669.3,1389.0 L671.3,1390.6 L673.3,1392.0 L675.3,1393.3 L677.3,1394.5 L679.3,1395.6 L681.3,1396.5 L683.3,1397.4 L685.3,1398.2 L687.3,1398.9 L689.3,1399.5 L691.3,1400.1 L693.3,1400.6 L695.3,1401.1 L697.3,1401.6 L699.2,1402.0 L701.2,1402.3 L703.2,1402.7 L705.2,1403.0 L707.2,1403.3 L709.2,1403.6 L711.2,1403.9 L713.2,1404.1 L715.2,1404.3 L717.2,1404.6 L719.2,1404.8 L721.2,1405.0 L723.2,1405.2 L725.2,1405.4 L727.2,1405.5 L729.2,1405.7 L731.2,1405.9 L733.2,1406.0 L735.2,1406.2 L737.2,1406.3 L739.2,1406.5 L741.2,1406.6 L743.1,1406.7 L745.1,1406.9 L747.1,1407.0 L749.1,1407.1 L751.1,1407.2 L753.1,1407.3 L755.1,1407.4 L757.1,1407.5 L759.1,1407.6 L761.1,1407.7 L763.1,1407.8 L765.1,1407.9 L767.1,1408.0 L769.1,1408.1 L771.1,1408.2 L773.1,1408.3 L775.1,1408.4 L777.1,1408.5 L779.1,1408.5 L781.1,1408.6 L783.1,1408.7 L785.1,1408.8 L787.0,1408.9 L789.0,1408.9 L791.0,1409.0 L793.0,1409.1 L795.0,1409.1 L797.0,1409.2 L799.0,1409.3 L801.0,1409.3 L803.0,1409.4 L805.0,1409.4 L807.0,1409.5 L809.0,1409.6 L811.0,1409.6 L813.0,1409.7 L815.0,1409.7 L817.0,1409.8 L819.0,1409.8 L821.0,1409.9 L823.0,1409.9 L825.0,1410.0 L827.0,1410.1 L829.0,1410.1 L830.9,1410.1 L832.9,1410.2 L834.9,1410.2 L834.9,1412.1Z" fill="url(#g6)" fill-opacity="0.88"/>
<path d="M132.3,1406.8 L1158.3,1416.0" stroke="#3ea6f2" stroke-width="2.5"/>
<path d="M132.3,1401.6 L134.3,1401.6 L136.3,1401.6 L138.3,1401.6 L140.3,1401.6 L142.3,1401.6 L144.3,1401.6 L146.3,1401.6 L148.3,1401.6 L150.3,1401.6 L152.3,1401.6 L154.3,1401.6 L156.3,1401.7 L158.3,1401.7 L160.3,1401.7 L162.3,1401.7 L164.3,1401.7 L166.3,1401.7 L168.3,1401.7 L170.3,1401.7 L172.3,1401.7 L174.3,1401.7 L176.3,1401.7 L178.3,1401.7 L180.3,1401.7 L182.3,1401.7 L184.3,1401.7 L186.3,1401.7 L188.3,1401.7 L190.3,1401.7 L192.3,1401.7 L194.3,1401.8 L196.3,1401.8 L198.3,1401.8 L200.3,1401.8 L202.3,1401.8 L204.3,1401.8 L206.3,1401.8 L208.3,1401.8 L210.3,1401.8 L212.3,1401.8 L214.3,1401.8 L216.3,1401.8 L218.3,1401.8 L220.3,1401.8 L222.3,1401.8 L224.3,1401.8 L226.3,1401.8 L228.3,1401.8 L230.3,1401.8 L232.3,1401.8 L234.3,1401.8 L236.3,1401.8 L238.3,1401.8 L240.3,1401.8 L242.3,1401.8 L244.3,1401.8 L246.3,1401.8 L248.3,1401.8 L250.3,1401.8 L252.3,1401.8 L254.3,1401.7 L256.3,1401.7 L258.3,1401.7 L260.3,1401.7 L262.3,1401.7 L264.3,1401.7 L266.3,1401.7 L268.3,1401.7 L270.3,1401.7 L272.3,1401.7 L274.3,1401.7 L276.3,1401.7 L278.3,1401.7 L280.3,1401.7 L282.3,1401.7 L284.3,1401.6 L286.3,1401.6 L288.3,1401.6 L290.3,1401.6 L292.3,1401.6 L294.3,1401.6 L296.3,1401.6 L298.3,1401.6 L300.3,1401.5 L302.3,1401.5 L304.3,1401.5 L306.3,1401.5 L308.3,1401.5 L310.3,1401.5 L312.3,1401.4 L314.3,1401.4 L316.3,1401.4 L318.3,1401.4 L320.3,1401.4 L322.3,1401.3 L324.3,1401.3 L326.3,1401.3 L328.3,1401.3 L330.3,1401.2 L332.3,1401.2 L334.3,1401.2 L336.3,1401.2 L338.3,1401.1 L340.3,1401.1 L342.3,1401.1 L344.3,1401.0 L346.3,1401.0 L348.3,1401.0 L350.3,1400.9 L352.3,1400.9 L354.3,1400.9 L356.3,1400.8 L358.3,1400.8 L360.3,1400.7 L362.3,1400.7 L364.3,1400.7 L366.3,1400.6 L368.3,1400.6 L370.3,1400.5 L372.3,1400.5 L374.3,1400.4 L376.3,1400.4 L378.3,1400.3 L380.3,1400.3 L382.3,1400.2 L384.3,1400.1 L386.3,1400.1 L388.3,1400.0 L390.3,1399.9 L392.3,1399.9 L394.3,1399.8 L396.3,1399.7 L398.3,1399.7 L400.3,1399.6 L402.3,1399.5 L404.3,1399.4 L406.3,1399.3 L408.3,1399.2 L410.3,1399.2 L412.3,1399.1 L414.3,1399.0 L416.3,1398.9 L418.3,1398.8 L420.3,1398.7 L422.3,1398.5 L424.3,1398.4 L426.3,1398.3 L428.3,1398.2 L430.3,1398.1 L432.3,1397.9 L434.3,1397.8 L436.3,1397.6 L438.3,1397.5 L440.3,1397.3 L442.3,1397.2 L444.3,1397.0 L446.3,1396.8 L448.3,1396.7 L450.3,1396.5 L452.3,1396.3 L454.3,1396.1 L456.3,1395.8 L458.3,1395.6 L460.3,1395.4 L462.3,1395.1 L464.3,1394.9 L466.3,1394.6 L468.3,1394.3 L470.3,1394.0 L472.3,1393.7 L474.3,1393.3 L476.3,1392.9 L478.3,1392.5 L480.3,1392.1 L482.3,1391.6 L484.3,1391.1 L486.3,1390.5 L488.3,1389.9 L490.3,1389.3 L492.3,1388.5 L494.3,1387.7 L496.3,1386.9 L498.3,1385.9 L500.3,1384.8 L502.3,1383.6 L504.3,1382.3 L506.3,1380.9 L508.3,1379.3 L510.3,1377.5 L512.3,1375.6 L514.3,1373.5 L516.3,1371.2 L518.3,1368.6 L520.3,1365.8 L522.3,1362.8 L524.3,1359.5 L526.3,1355.9 L528.3,1352.0 L530.3,1347.8 L532.3,1343.3 L534.3,1338.5 L536.3,1333.4 L538.3,1327.9 L540.3,1322.1 L542.3,1316.0 L544.3,1309.5 L546.3,1302.8 L548.3,1295.8 L550.3,1288.5 L552.3,1280.9 L554.3,1273.2 L556.3,1265.3 L558.3,1257.2 L560.3,1249.1 L562.3,1240.9 L564.3,1232.7 L566.3,1224.7 L568.3,1216.7 L570.3,1209.0 L572.3,1201.6 L574.3,1194.5 L576.3,1187.9 L578.3,1181.9 L580.3,1176.4 L582.3,1171.7 L584.3,1167.6 L586.3,1164.4 L588.3,1161.9 L590.3,1160.3 L592.3,1159.5 L594.3,1159.5 L596.3,1160.2 L598.3,1161.6 L600.3,1163.6 L602.3,1166.1 L604.3,1169.0 L606.3,1172.3 L608.3,1175.8 L610.3,1179.3 L612.3,1183.0 L614.3,1186.6 L616.3,1190.1 L618.3,1193.4 L620.3,1196.4 L622.3,1199.2 L624.3,1201.6 L626.3,1203.7 L628.3,1205.4 L630.3,1206.6 L632.3,1207.4 L634.3,1207.8 L636.3,1207.7 L638.3,1207.1 L640.3,1206.0 L642.3,1204.3 L644.3,1202.1 L646.3,1199.4 L648.3,1196.1 L650.3,1192.3 L652.3,1187.9 L654.3,1182.9 L656.3,1177.5 L658.3,1171.6 L660.3,1165.3 L662.3,1158.6 L664.3,1151.6 L666.3,1144.3 L668.3,1136.8 L670.3,1129.3 L672.3,1121.7 L674.3,1114.3 L676.3,1107.0 L678.3,1099.9 L680.3,1093.3 L682.3,1087.2 L684.3,1081.6 L686.3,1076.8 L688.3,1072.7 L690.3,1069.5 L692.3,1067.3 L694.3,1066.1 L696.3,1065.9 L698.3,1066.8 L700.3,1068.8 L702.3,1071.8 L704.3,1075.9 L706.3,1080.9 L708.3,1086.9 L710.3,1093.7 L712.3,1101.2 L714.3,1109.5 L716.3,1118.3 L718.3,1127.6 L720.3,1137.3 L722.3,1147.3 L724.3,1157.6 L726.3,1168.0 L728.3,1178.5 L730.3,1189.0 L732.3,1199.5 L734.3,1209.9 L736.3,1220.2 L738.3,1230.2 L740.3,1240.1 L742.3,1249.6 L744.3,1258.9 L746.3,1267.9 L748.3,1276.5 L750.3,1284.8 L752.3,1292.7 L754.3,1300.2 L756.3,1307.3 L758.3,1314.1 L760.3,1320.5 L762.3,1326.5 L764.3,1332.1 L766.3,1337.4 L768.3,1342.3 L770.3,1346.9 L772.3,1351.2 L774.3,1355.1 L776.3,1358.8 L778.3,1362.1 L780.3,1365.2 L782.3,1368.1 L784.3,1370.7 L786.3,1373.1 L788.3,1375.3 L790.3,1377.3 L792.3,1379.2 L794.3,1380.8 L796.3,1382.4 L798.3,1383.8 L800.3,1385.1 L802.3,1386.3 L804.3,1387.3 L806.3,1388.3 L808.3,1389.2 L810.3,1390.1 L812.3,1390.8 L814.3,1391.6 L816.3,1392.2 L818.3,1392.8 L820.3,1393.4 L822.3,1393.9 L824.3,1394.4 L826.3,1394.9 L828.3,1395.3 L830.3,1395.7 L832.3,1396.1 L834.3,1396.5 L836.3,1396.9 L838.3,1397.2 L840.3,1397.5 L842.3,1397.8 L844.3,1398.1 L846.3,1398.4 L848.3,1398.7 L850.3,1398.9 L852.3,1399.2 L854.3,1399.4 L856.3,1399.7 L858.3,1399.9 L860.3,1400.1 L862.3,1400.3 L864.3,1400.5 L866.3,1400.7 L868.3,1400.9 L870.3,1401.1 L872.3,1401.3 L874.3,1401.5 L876.3,1401.7 L878.3,1401.8 L880.3,1402.0 L882.3,1402.2 L884.3,1402.3 L886.3,1402.5 L888.3,1402.6 L890.3,1402.8 L892.3,1402.9 L894.3,1403.0 L896.3,1403.2 L898.3,1403.3 L900.3,1403.4 L902.3,1403.6 L904.3,1403.7 L906.3,1403.8 L908.3,1403.9 L910.3,1404.0 L912.3,1404.1 L914.3,1404.3 L916.3,1404.4 L918.3,1404.5 L920.3,1404.6 L922.3,1404.7 L924.3,1404.8 L926.3,1404.9 L928.3,1405.0 L930.3,1405.1 L932.3,1405.2 L934.3,1405.3 L936.3,1405.3 L938.3,1405.4 L940.3,1405.5 L942.3,1405.6 L944.3,1405.7 L946.3,1405.8 L948.3,1405.8 L950.3,1405.9 L952.3,1406.0 L954.3,1406.1 L956.3,1406.2 L958.3,1406.2 L960.3,1406.3 L962.3,1406.4 L964.3,1406.4 L966.3,1406.5 L968.3,1406.6 L970.3,1406.6 L972.3,1406.7 L974.3,1406.8 L976.3,1406.8 L978.3,1406.9 L980.3,1407.0 L982.3,1407.0 L984.3,1407.1 L986.3,1407.1 L988.3,1407.2 L990.3,1407.3 L992.3,1407.3 L994.3,1407.4 L996.3,1407.4 L998.3,1407.5 L1000.3,1407.5 L1002.3,1407.6 L1004.3,1407.7 L1006.3,1407.7 L1008.3,1407.8 L1010.3,1407.8 L1012.3,1407.9 L1014.3,1407.9 L1016.3,1408.0 L1018.3,1408.0 L1020.3,1408.1 L1022.3,1408.1 L1024.3,1408.2 L1026.3,1408.2 L1028.3,1408.3 L1030.3,1408.3 L1032.3,1408.3 L1034.3,1408.4 L1036.3,1408.4 L1038.3,1408.5 L1040.3,1408.5 L1042.3,1408.6 L1044.3,1408.6 L1046.3,1408.7 L1048.3,1408.7 L1050.3,1408.7 L1052.3,1408.8 L1054.3,1408.8 L1056.3,1408.9 L1058.3,1408.9 L1060.3,1408.9 L1062.3,1409.0 L1064.3,1409.0 L1066.3,1409.1 L1068.3,1409.1 L1070.3,1409.1 L1072.3,1409.2 L1074.3,1409.2 L1076.3,1409.3 L1078.3,1409.3 L1080.3,1409.3 L1082.3,1409.4 L1084.3,1409.4 L1086.3,1409.4 L1088.3,1409.5 L1090.3,1409.5 L1092.3,1409.5 L1094.3,1409.6 L1096.3,1409.6 L1098.3,1409.6 L1100.3,1409.7 L1102.3,1409.7 L1104.3,1409.7 L1106.3,1409.8 L1108.3,1409.8 L1110.3,1409.8 L1112.3,1409.9 L1114.3,1409.9 L1116.3,1409.9 L1118.3,1410.0 L1120.3,1410.0 L1122.3,1410.0 L1124.3,1410.1 L1126.3,1410.1 L1128.3,1410.1 L1130.3,1410.2 L1132.3,1410.2 L1134.3,1410.2 L1136.3,1410.3 L1138.3,1410.3 L1140.3,1410.3 L1142.3,1410.4 L1144.3,1410.4 L1146.3,1410.4 L1148.3,1410.4 L1150.3,1410.5 L1152.3,1410.5 L1154.3,1410.5 L1156.3,1410.6 L1158.3,1410.6" fill="none" stroke="#4aaef5" stroke-width="2.2" stroke-linejoin="round"/>
<path d="M132.1,1401.1a2.9,2.9 0 1,0 5.8,0a2.9,2.9 0 1,0 -5.8,0M135.5,1402.1a2.9,2.9 0 1,0 5.8,0a2.9,2.9 0 1,0 -5.8,0M140.6,1400.7a2.9,2.9 0 1,0 5.8,0a2.9,2.9 0 1,0 -5.8,0M145.4,1400.6a2.9,2.9 0 1,0 5.8,0a2.9,2.9 0 1,0 -5.8,0M150.2,1402.1a2.9,2.9 0 1,0 5.8,0a2.9,2.9 0 1,0 -5.8,0M154.8,1402.0a2.9,2.9 0 1,0 5.8,0a2.9,2.9 0 1,0 -5.8,0M158.7,1401.4a2.9,2.9 0 1,0 5.8,0a2.9,2.9 0 1,0 -5.8,0M163.3,1402.6a2.9,2.9 0 1,0 5.8,0a2.9,2.9 0 1,0 -5.8,0M167.4,1402.6a2.9,2.9 0 1,0 5.8,0a2.9,2.9 0 1,0 -5.8,0M171.9,1401.0a2.9,2.9 0 1,0 5.8,0a2.9,2.9 0 1,0 -5.8,0M176.9,1402.7a2.9,2.9 0 1,0 5.8,0a2.9,2.9 0 1,0 -5.8,0M181.8,1401.4a2.9,2.9 0 1,0 5.8,0a2.9,2.9 0 1,0 -5.8,0M187.0,1401.1a2.9,2.9 0 1,0 5.8,0a2.9,2.9 0 1,0 -5.8,0M190.9,1401.8a2.9,2.9 0 1,0 5.8,0a2.9,2.9 0 1,0 -5.8,0M196.0,1402.4a2.9,2.9 0 1,0 5.8,0a2.9,2.9 0 1,0 -5.8,0M200.4,1401.4a2.9,2.9 0 1,0 5.8,0a2.9,2.9 0 1,0 -5.8,0M204.5,1400.9a2.9,2.9 0 1,0 5.8,0a2.9,2.9 0 1,0 -5.8,0M209.9,1402.2a2.9,2.9 0 1,0 5.8,0a2.9,2.9 0 1,0 -5.8,0M214.3,1401.0a2.9,2.9 0 1,0 5.8,0a2.9,2.9 0 1,0 -5.8,0M218.4,1402.4a2.9,2.9 0 1,0 5.8,0a2.9,2.9 0 1,0 -5.8,0M223.2,1400.9a2.9,2.9 0 1,0 5.8,0a2.9,2.9 0 1,0 -5.8,0M227.6,1402.7a2.9,2.9 0 1,0 5.8,0a2.9,2.9 0 1,0 -5.8,0M231.8,1401.0a2.9,2.9 0 1,0 5.8,0a2.9,2.9 0 1,0 -5.8,0M236.5,1402.3a2.9,2.9 0 1,0 5.8,0a2.9,2.9 0 1,0 -5.8,0M241.9,1400.9a2.9,2.9 0 1,0 5.8,0a2.9,2.9 0 1,0 -5.8,0M245.4,1401.2a2.9,2.9 0 1,0 5.8,0a2.9,2.9 0 1,0 -5.8,0M250.3,1401.8a2.9,2.9 0 1,0 5.8,0a2.9,2.9 0 1,0 -5.8,0M254.6,1401.3a2.9,2.9 0 1,0 5.8,0a2.9,2.9 0 1,0 -5.8,0M259.2,1402.9a2.9,2.9 0 1,0 5.8,0a2.9,2.9 0 1,0 -5.8,0M264.7,1400.8a2.9,2.9 0 1,0 5.8,0a2.9,2.9 0 1,0 -5.8,0M269.6,1400.7a2.9,2.9 0 1,0 5.8,0a2.9,2.9 0 1,0 -5.8,0M273.3,1402.8a2.9,2.9 0 1,0 5.8,0a2.9,2.9 0 1,0 -5.8,0M278.5,1402.2a2.9,2.9 0 1,0 5.8,0a2.9,2.9 0 1,0 -5.8,0M282.5,1400.9a2.9,2.9 0 1,0 5.8,0a2.9,2.9 0 1,0 -5.8,0M287.4,1400.7a2.9,2.9 0 1,0 5.8,0a2.9,2.9 0 1,0 -5.8,0M291.3,1401.3a2.9,2.9 0 1,0 5.8,0a2.9,2.9 0 1,0 -5.8,0M295.6,1401.3a2.9,2.9 0 1,0 5.8,0a2.9,2.9 0 1,0 -5.8,0M301.4,1402.0a2.9,2.9 0 1,0 5.8,0a2.9,2.9 0 1,0 -5.8,0M305.6,1401.8a2.9,2.9 0 1,0 5.8,0a2.9,2.9 0 1,0 -5.8,0M310.1,1400.6a2.9,2.9 0 1,0 5.8,0a2.9,2.9 0 1,0 -5.8,0M314.9,1401.2a2.9,2.9 0 1,0 5.8,0a2.9,2.9 0 1,0 -5.8,0M319.7,1402.3a2.9,2.9 0 1,0 5.8,0a2.9,2.9 0 1,0 -5.8,0M323.8,1401.5a2.9,2.9 0 1,0 5.8,0a2.9,2.9 0 1,0 -5.8,0M328.9,1401.0a2.9,2.9 0 1,0 5.8,0a2.9,2.9 0 1,0 -5.8,0M332.6,1401.7a2.9,2.9 0 1,0 5.8,0a2.9,2.9 0 1,0 -5.8,0M338.2,1401.7a2.9,2.9 0 1,0 5.8,0a2.9,2.9 0 1,0 -5.8,0M342.5,1401.9a2.9,2.9 0 1,0 5.8,0a2.9,2.9 0 1,0 -5.8,0M347.1,1401.3a2.9,2.9 0 1,0 5.8,0a2.9,2.9 0 1,0 -5.8,0M351.3,1400.4a2.9,2.9 0 1,0 5.8,0a2.9,2.9 0 1,0 -5.8,0M356.2,1399.8a2.9,2.9 0 1,0 5.8,0a2.9,2.9 0 1,0 -5.8,0M360.4,1401.4a2.9,2.9 0 1,0 5.8,0a2.9,2.9 0 1,0 -5.8,0M365.5,1400.9a2.9,2.9 0 1,0 5.8,0a2.9,2.9 0 1,0 -5.8,0M369.3,1400.3a2.9,2.9 0 1,0 5.8,0a2.9,2.9 0 1,0 -5.8,0M374.2,1400.6a2.9,2.9 0 1,0 5.8,0a2.9,2.9 0 1,0 -5.8,0M378.7,1400.6a2.9,2.9 0 1,0 5.8,0a2.9,2.9 0 1,0 -5.8,0M384.2,1399.3a2.9,2.9 0 1,0 5.8,0a2.9,2.9 0 1,0 -5.8,0M388.3,1400.6a2.9,2.9 0 1,0 5.8,0a2.9,2.9 0 1,0 -5.8,0M392.5,1399.7a2.9,2.9 0 1,0 5.8,0a2.9,2.9 0 1,0 -5.8,0M398.0,1398.5a2.9,2.9 0 1,0 5.8,0a2.9,2.9 0 1,0 -5.8,0M401.9,1398.6a2.9,2.9 0 1,0 5.8,0a2.9,2.9 0 1,0 -5.8,0M406.8,1400.2a2.9,2.9 0 1,0 5.8,0a2.9,2.9 0 1,0 -5.8,0M411.0,1398.0a2.9,2.9 0 1,0 5.8,0a2.9,2.9 0 1,0 -5.8,0M415.7,1398.8a2.9,2.9 0 1,0 5.8,0a2.9,2.9 0 1,0 -5.8,0M420.5,1398.5a2.9,2.9 0 1,0 5.8,0a2.9,2.9 0 1,0 -5.8,0M424.9,1399.0a2.9,2.9 0 1,0 5.8,0a2.9,2.9 0 1,0 -5.8,0M429.3,1397.7a2.9,2.9 0 1,0 5.8,0a2.9,2.9 0 1,0 -5.8,0M434.6,1396.9a2.9,2.9 0 1,0 5.8,0a2.9,2.9 0 1,0 -5.8,0M438.8,1397.0a2.9,2.9 0 1,0 5.8,0a2.9,2.9 0 1,0 -5.8,0M443.5,1395.9a2.9,2.9 0 1,0 5.8,0a2.9,2.9 0 1,0 -5.8,0M448.4,1396.0a2.9,2.9 0 1,0 5.8,0a2.9,2.9 0 1,0 -5.8,0M451.5,1395.5a2.9,2.9 0 1,0 5.8,0a2.9,2.9 0 1,0 -5.8,0M456.6,1394.3a2.9,2.9 0 1,0 5.8,0a2.9,2.9 0 1,0 -5.8,0M461.2,1394.7a2.9,2.9 0 1,0 5.8,0a2.9,2.9 0 1,0 -5.8,0M466.3,1393.8a2.9,2.9 0 1,0 5.8,0a2.9,2.9 0 1,0 -5.8,0M470.2,1392.9a2.9,2.9 0 1,0 5.8,0a2.9,2.9 0 1,0 -5.8,0M475.5,1393.6a2.9,2.9 0 1,0 5.8,0a2.9,2.9 0 1,0 -5.8,0M479.7,1390.9a2.9,2.9 0 1,0 5.8,0a2.9,2.9 0 1,0 -5.8,0M484.8,1389.9a2.9,2.9 0 1,0 5.8,0a2.9,2.9 0 1,0 -5.8,0M488.4,1388.0a2.9,2.9 0 1,0 5.8,0a2.9,2.9 0 1,0 -5.8,0M493.9,1387.4a2.9,2.9 0 1,0 5.8,0a2.9,2.9 0 1,0 -5.8,0M498.3,1384.2a2.9,2.9 0 1,0 5.8,0a2.9,2.9 0 1,0 -5.8,0M502.7,1380.7a2.9,2.9 0 1,0 5.8,0a2.9,2.9 0 1,0 -5.8,0M507.9,1376.7a2.9,2.9 0 1,0 5.8,0a2.9,2.9 0 1,0 -5.8,0M512.0,1373.6a2.9,2.9 0 1,0 5.8,0a2.9,2.9 0 1,0 -5.8,0M516.9,1366.5a2.9,2.9 0 1,0 5.8,0a2.9,2.9 0 1,0 -5.8,0M520.6,1360.9a2.9,2.9 0 1,0 5.8,0a2.9,2.9 0 1,0 -5.8,0M524.9,1353.7a2.9,2.9 0 1,0 5.8,0a2.9,2.9 0 1,0 -5.8,0M529.9,1343.0a2.9,2.9 0 1,0 5.8,0a2.9,2.9 0 1,0 -5.8,0M534.3,1330.6a2.9,2.9 0 1,0 5.8,0a2.9,2.9 0 1,0 -5.8,0M538.9,1317.4a2.9,2.9 0 1,0 5.8,0a2.9,2.9 0 1,0 -5.8,0M543.4,1301.7a2.9,2.9 0 1,0 5.8,0a2.9,2.9 0 1,0 -5.8,0M548.8,1282.7a2.9,2.9 0 1,0 5.8,0a2.9,2.9 0 1,0 -5.8,0M552.6,1267.9a2.9,2.9 0 1,0 5.8,0a2.9,2.9 0 1,0 -5.8,0M557.6,1248.2a2.9,2.9 0 1,0 5.8,0a2.9,2.9 0 1,0 -5.8,0M562.4,1229.0a2.9,2.9 0 1,0 5.8,0a2.9,2.9 0 1,0 -5.8,0M566.6,1213.2a2.9,2.9 0 1,0 5.8,0a2.9,2.9 0 1,0 -5.8,0M571.9,1191.7a2.9,2.9 0 1,0 5.8,0a2.9,2.9 0 1,0 -5.8,0M576.5,1179.9a2.9,2.9 0 1,0 5.8,0a2.9,2.9 0 1,0 -5.8,0M581.0,1167.5a2.9,2.9 0 1,0 5.8,0a2.9,2.9 0 1,0 -5.8,0M585.6,1162.0a2.9,2.9 0 1,0 5.8,0a2.9,2.9 0 1,0 -5.8,0M588.9,1158.5a2.9,2.9 0 1,0 5.8,0a2.9,2.9 0 1,0 -5.8,0M595.0,1161.7a2.9,2.9 0 1,0 5.8,0a2.9,2.9 0 1,0 -5.8,0M598.5,1163.9a2.9,2.9 0 1,0 5.8,0a2.9,2.9 0 1,0 -5.8,0M602.9,1170.8a2.9,2.9 0 1,0 5.8,0a2.9,2.9 0 1,0 -5.8,0M608.5,1180.9a2.9,2.9 0 1,0 5.8,0a2.9,2.9 0 1,0 -5.8,0M612.1,1188.7a2.9,2.9 0 1,0 5.8,0a2.9,2.9 0 1,0 -5.8,0M617.7,1196.0a2.9,2.9 0 1,0 5.8,0a2.9,2.9 0 1,0 -5.8,0M622.4,1203.0a2.9,2.9 0 1,0 5.8,0a2.9,2.9 0 1,0 -5.8,0M626.8,1206.7a2.9,2.9 0 1,0 5.8,0a2.9,2.9 0 1,0 -5.8,0M631.6,1208.5a2.9,2.9 0 1,0 5.8,0a2.9,2.9 0 1,0 -5.8,0M636.1,1206.0a2.9,2.9 0 1,0 5.8,0a2.9,2.9 0 1,0 -5.8,0M640.4,1203.4a2.9,2.9 0 1,0 5.8,0a2.9,2.9 0 1,0 -5.8,0M645.1,1196.5a2.9,2.9 0 1,0 5.8,0a2.9,2.9 0 1,0 -5.8,0M649.9,1186.9a2.9,2.9 0 1,0 5.8,0a2.9,2.9 0 1,0 -5.8,0M653.5,1176.7a2.9,2.9 0 1,0 5.8,0a2.9,2.9 0 1,0 -5.8,0M657.9,1163.8a2.9,2.9 0 1,0 5.8,0a2.9,2.9 0 1,0 -5.8,0M662.3,1148.2a2.9,2.9 0 1,0 5.8,0a2.9,2.9 0 1,0 -5.8,0M667.0,1130.6a2.9,2.9 0 1,0 5.8,0a2.9,2.9 0 1,0 -5.8,0M672.2,1111.5a2.9,2.9 0 1,0 5.8,0a2.9,2.9 0 1,0 -5.8,0M677.4,1092.3a2.9,2.9 0 1,0 5.8,0a2.9,2.9 0 1,0 -5.8,0M681.9,1080.3a2.9,2.9 0 1,0 5.8,0a2.9,2.9 0 1,0 -5.8,0M686.0,1072.0a2.9,2.9 0 1,0 5.8,0a2.9,2.9 0 1,0 -5.8,0M691.1,1065.9a2.9,2.9 0 1,0 5.8,0a2.9,2.9 0 1,0 -5.8,0M695.0,1067.6a2.9,2.9 0 1,0 5.8,0a2.9,2.9 0 1,0 -5.8,0M699.0,1071.5a2.9,2.9 0 1,0 5.8,0a2.9,2.9 0 1,0 -5.8,0M704.5,1082.9a2.9,2.9 0 1,0 5.8,0a2.9,2.9 0 1,0 -5.8,0M709.0,1100.2a2.9,2.9 0 1,0 5.8,0a2.9,2.9 0 1,0 -5.8,0M714.1,1121.2a2.9,2.9 0 1,0 5.8,0a2.9,2.9 0 1,0 -5.8,0M718.8,1144.2a2.9,2.9 0 1,0 5.8,0a2.9,2.9 0 1,0 -5.8,0M722.6,1164.6a2.9,2.9 0 1,0 5.8,0a2.9,2.9 0 1,0 -5.8,0M726.4,1184.5a2.9,2.9 0 1,0 5.8,0a2.9,2.9 0 1,0 -5.8,0M732.0,1212.4a2.9,2.9 0 1,0 5.8,0a2.9,2.9 0 1,0 -5.8,0M736.9,1237.4a2.9,2.9 0 1,0 5.8,0a2.9,2.9 0 1,0 -5.8,0M740.9,1256.6a2.9,2.9 0 1,0 5.8,0a2.9,2.9 0 1,0 -5.8,0M745.9,1278.1a2.9,2.9 0 1,0 5.8,0a2.9,2.9 0 1,0 -5.8,0M750.0,1294.8a2.9,2.9 0 1,0 5.8,0a2.9,2.9 0 1,0 -5.8,0M754.8,1312.8a2.9,2.9 0 1,0 5.8,0a2.9,2.9 0 1,0 -5.8,0M758.9,1325.9a2.9,2.9 0 1,0 5.8,0a2.9,2.9 0 1,0 -5.8,0M763.7,1338.2a2.9,2.9 0 1,0 5.8,0a2.9,2.9 0 1,0 -5.8,0M768.1,1348.4a2.9,2.9 0 1,0 5.8,0a2.9,2.9 0 1,0 -5.8,0M773.8,1359.8a2.9,2.9 0 1,0 5.8,0a2.9,2.9 0 1,0 -5.8,0M778.1,1365.8a2.9,2.9 0 1,0 5.8,0a2.9,2.9 0 1,0 -5.8,0M781.9,1370.8a2.9,2.9 0 1,0 5.8,0a2.9,2.9 0 1,0 -5.8,0M786.9,1377.2a2.9,2.9 0 1,0 5.8,0a2.9,2.9 0 1,0 -5.8,0M791.8,1380.1a2.9,2.9 0 1,0 5.8,0a2.9,2.9 0 1,0 -5.8,0M796.3,1385.3a2.9,2.9 0 1,0 5.8,0a2.9,2.9 0 1,0 -5.8,0M800.6,1385.8a2.9,2.9 0 1,0 5.8,0a2.9,2.9 0 1,0 -5.8,0M804.8,1387.8a2.9,2.9 0 1,0 5.8,0a2.9,2.9 0 1,0 -5.8,0M809.2,1391.8a2.9,2.9 0 1,0 5.8,0a2.9,2.9 0 1,0 -5.8,0M814.4,1392.9a2.9,2.9 0 1,0 5.8,0a2.9,2.9 0 1,0 -5.8,0M819.3,1394.9a2.9,2.9 0 1,0 5.8,0a2.9,2.9 0 1,0 -5.8,0M823.6,1395.2a2.9,2.9 0 1,0 5.8,0a2.9,2.9 0 1,0 -5.8,0M828.2,1396.4a2.9,2.9 0 1,0 5.8,0a2.9,2.9 0 1,0 -5.8,0M832.7,1397.2a2.9,2.9 0 1,0 5.8,0a2.9,2.9 0 1,0 -5.8,0M836.7,1397.8a2.9,2.9 0 1,0 5.8,0a2.9,2.9 0 1,0 -5.8,0M841.7,1398.8a2.9,2.9 0 1,0 5.8,0a2.9,2.9 0 1,0 -5.8,0M845.7,1398.0a2.9,2.9 0 1,0 5.8,0a2.9,2.9 0 1,0 -5.8,0M850.2,1399.9a2.9,2.9 0 1,0 5.8,0a2.9,2.9 0 1,0 -5.8,0M856.2,1400.4a2.9,2.9 0 1,0 5.8,0a2.9,2.9 0 1,0 -5.8,0M859.9,1401.2a2.9,2.9 0 1,0 5.8,0a2.9,2.9 0 1,0 -5.8,0M865.1,1401.1a2.9,2.9 0 1,0 5.8,0a2.9,2.9 0 1,0 -5.8,0M868.9,1400.8a2.9,2.9 0 1,0 5.8,0a2.9,2.9 0 1,0 -5.8,0M873.7,1401.2a2.9,2.9 0 1,0 5.8,0a2.9,2.9 0 1,0 -5.8,0M878.3,1402.4a2.9,2.9 0 1,0 5.8,0a2.9,2.9 0 1,0 -5.8,0M883.7,1401.4a2.9,2.9 0 1,0 5.8,0a2.9,2.9 0 1,0 -5.8,0M887.7,1401.7a2.9,2.9 0 1,0 5.8,0a2.9,2.9 0 1,0 -5.8,0M891.6,1403.8a2.9,2.9 0 1,0 5.8,0a2.9,2.9 0 1,0 -5.8,0M896.9,1404.4a2.9,2.9 0 1,0 5.8,0a2.9,2.9 0 1,0 -5.8,0M901.3,1402.5a2.9,2.9 0 1,0 5.8,0a2.9,2.9 0 1,0 -5.8,0M905.7,1404.2a2.9,2.9 0 1,0 5.8,0a2.9,2.9 0 1,0 -5.8,0M911.2,1405.4a2.9,2.9 0 1,0 5.8,0a2.9,2.9 0 1,0 -5.8,0M915.0,1404.2a2.9,2.9 0 1,0 5.8,0a2.9,2.9 0 1,0 -5.8,0M919.0,1405.0a2.9,2.9 0 1,0 5.8,0a2.9,2.9 0 1,0 -5.8,0M923.8,1404.1a2.9,2.9 0 1,0 5.8,0a2.9,2.9 0 1,0 -5.8,0M928.1,1403.9a2.9,2.9 0 1,0 5.8,0a2.9,2.9 0 1,0 -5.8,0M933.7,1404.4a2.9,2.9 0 1,0 5.8,0a2.9,2.9 0 1,0 -5.8,0M938.7,1404.6a2.9,2.9 0 1,0 5.8,0a2.9,2.9 0 1,0 -5.8,0M943.2,1404.9a2.9,2.9 0 1,0 5.8,0a2.9,2.9 0 1,0 -5.8,0M946.4,1406.4a2.9,2.9 0 1,0 5.8,0a2.9,2.9 0 1,0 -5.8,0M951.3,1406.6a2.9,2.9 0 1,0 5.8,0a2.9,2.9 0 1,0 -5.8,0M955.8,1405.2a2.9,2.9 0 1,0 5.8,0a2.9,2.9 0 1,0 -5.8,0M961.4,1407.0a2.9,2.9 0 1,0 5.8,0a2.9,2.9 0 1,0 -5.8,0M966.1,1407.2a2.9,2.9 0 1,0 5.8,0a2.9,2.9 0 1,0 -5.8,0M969.4,1407.0a2.9,2.9 0 1,0 5.8,0a2.9,2.9 0 1,0 -5.8,0M975.0,1406.8a2.9,2.9 0 1,0 5.8,0a2.9,2.9 0 1,0 -5.8,0M979.9,1406.5a2.9,2.9 0 1,0 5.8,0a2.9,2.9 0 1,0 -5.8,0M984.6,1407.7a2.9,2.9 0 1,0 5.8,0a2.9,2.9 0 1,0 -5.8,0M987.6,1406.1a2.9,2.9 0 1,0 5.8,0a2.9,2.9 0 1,0 -5.8,0M993.2,1408.2a2.9,2.9 0 1,0 5.8,0a2.9,2.9 0 1,0 -5.8,0M996.9,1407.1a2.9,2.9 0 1,0 5.8,0a2.9,2.9 0 1,0 -5.8,0M1002.5,1406.9a2.9,2.9 0 1,0 5.8,0a2.9,2.9 0 1,0 -5.8,0M1007.3,1407.8a2.9,2.9 0 1,0 5.8,0a2.9,2.9 0 1,0 -5.8,0M1010.6,1407.6a2.9,2.9 0 1,0 5.8,0a2.9,2.9 0 1,0 -5.8,0M1016.0,1407.9a2.9,2.9 0 1,0 5.8,0a2.9,2.9 0 1,0 -5.8,0M1020.8,1407.3a2.9,2.9 0 1,0 5.8,0a2.9,2.9 0 1,0 -5.8,0M1025.6,1407.9a2.9,2.9 0 1,0 5.8,0a2.9,2.9 0 1,0 -5.8,0M1029.9,1408.7a2.9,2.9 0 1,0 5.8,0a2.9,2.9 0 1,0 -5.8,0M1034.1,1408.2a2.9,2.9 0 1,0 5.8,0a2.9,2.9 0 1,0 -5.8,0M1039.3,1409.6a2.9,2.9 0 1,0 5.8,0a2.9,2.9 0 1,0 -5.8,0M1043.9,1408.8a2.9,2.9 0 1,0 5.8,0a2.9,2.9 0 1,0 -5.8,0M1047.7,1407.7a2.9,2.9 0 1,0 5.8,0a2.9,2.9 0 1,0 -5.8,0M1053.3,1409.3a2.9,2.9 0 1,0 5.8,0a2.9,2.9 0 1,0 -5.8,0M1057.7,1408.5a2.9,2.9 0 1,0 5.8,0a2.9,2.9 0 1,0 -5.8,0M1061.9,1410.2a2.9,2.9 0 1,0 5.8,0a2.9,2.9 0 1,0 -5.8,0M1066.9,1409.4a2.9,2.9 0 1,0 5.8,0a2.9,2.9 0 1,0 -5.8,0M1070.6,1409.0a2.9,2.9 0 1,0 5.8,0a2.9,2.9 0 1,0 -5.8,0M1076.1,1409.0a2.9,2.9 0 1,0 5.8,0a2.9,2.9 0 1,0 -5.8,0M1080.4,1409.6a2.9,2.9 0 1,0 5.8,0a2.9,2.9 0 1,0 -5.8,0M1085.3,1410.2a2.9,2.9 0 1,0 5.8,0a2.9,2.9 0 1,0 -5.8,0M1088.9,1408.3a2.9,2.9 0 1,0 5.8,0a2.9,2.9 0 1,0 -5.8,0M1093.4,1409.4a2.9,2.9 0 1,0 5.8,0a2.9,2.9 0 1,0 -5.8,0M1098.5,1410.5a2.9,2.9 0 1,0 5.8,0a2.9,2.9 0 1,0 -5.8,0M1103.6,1408.7a2.9,2.9 0 1,0 5.8,0a2.9,2.9 0 1,0 -5.8,0M1108.1,1410.6a2.9,2.9 0 1,0 5.8,0a2.9,2.9 0 1,0 -5.8,0M1112.7,1410.1a2.9,2.9 0 1,0 5.8,0a2.9,2.9 0 1,0 -5.8,0M1116.4,1410.8a2.9,2.9 0 1,0 5.8,0a2.9,2.9 0 1,0 -5.8,0M1121.8,1410.5a2.9,2.9 0 1,0 5.8,0a2.9,2.9 0 1,0 -5.8,0M1126.6,1409.8a2.9,2.9 0 1,0 5.8,0a2.9,2.9 0 1,0 -5.8,0M1129.8,1410.3a2.9,2.9 0 1,0 5.8,0a2.9,2.9 0 1,0 -5.8,0M1135.5,1409.6a2.9,2.9 0 1,0 5.8,0a2.9,2.9 0 1,0 -5.8,0M1140.1,1411.4a2.9,2.9 0 1,0 5.8,0a2.9,2.9 0 1,0 -5.8,0M1143.8,1410.7a2.9,2.9 0 1,0 5.8,0a2.9,2.9 0 1,0 -5.8,0M1149.1,1410.4a2.9,2.9 0 1,0 5.8,0a2.9,2.9 0 1,0 -5.8,0M1152.9,1410.0a2.9,2.9 0 1,0 5.8,0a2.9,2.9 0 1,0 -5.8,0" fill="#fff" fill-opacity="0.5" stroke="#62bcf8" stroke-width="1.3"/>
<path d="M444.0,1787.6 L444.0,1784.7 L446.0,1784.7 L448.0,1784.6 L450.0,1784.6 L452.0,1784.6 L454.0,1784.5 L456.0,1784.5 L457.9,1784.5 L459.9,1784.4 L461.9,1784.4 L463.9,1784.4 L465.9,1784.3 L467.9,1784.3 L469.9,1784.2 L471.9,1784.2 L473.9,1784.1 L475.9,1784.1 L477.9,1784.0 L479.9,1784.0 L481.9,1783.9 L483.8,1783.9 L485.8,1783.8 L487.8,1783.7 L489.8,1783.7 L491.8,1783.6 L493.8,1783.5 L495.8,1783.5 L497.8,1783.4 L499.8,1783.3 L501.8,1783.2 L503.8,1783.2 L505.8,1783.1 L507.8,1783.0 L509.7,1782.9 L511.7,1782.8 L513.7,1782.7 L515.7,1782.6 L517.7,1782.5 L519.7,1782.4 L521.7,1782.3 L523.7,1782.2 L525.7,1782.1 L527.7,1782.0 L529.7,1781.8 L531.7,1781.7 L533.6,1781.6 L535.6,1781.4 L537.6,1781.3 L539.6,1781.1 L541.6,1781.0 L543.6,1780.8 L545.6,1780.6 L547.6,1780.4 L549.6,1780.3 L551.6,1780.1 L553.6,1779.9 L555.6,1779.6 L557.6,1779.4 L559.5,1779.2 L561.5,1778.9 L563.5,1778.7 L565.5,1778.4 L567.5,1778.1 L569.5,1777.8 L571.5,1777.5 L573.5,1777.2 L575.5,1776.8 L577.5,1776.4 L579.5,1776.0 L581.5,1775.5 L583.5,1775.0 L585.4,1774.5 L587.4,1773.9 L589.4,1773.3 L591.4,1772.6 L593.4,1771.8 L595.4,1771.0 L597.4,1770.1 L599.4,1769.1 L601.4,1768.0 L603.4,1766.8 L605.4,1765.4 L607.4,1763.9 L609.4,1762.2 L611.3,1760.4 L613.3,1758.4 L615.3,1756.2 L617.3,1753.7 L619.3,1751.0 L621.3,1748.0 L623.3,1744.7 L625.3,1741.1 L627.3,1737.2 L629.3,1732.9 L631.3,1728.3 L633.3,1723.2 L635.3,1717.8 L637.2,1711.9 L639.2,1705.6 L641.2,1698.8 L643.2,1691.6 L645.2,1683.9 L647.2,1675.8 L649.2,1667.2 L651.2,1658.1 L653.2,1648.6 L655.2,1638.7 L657.2,1628.4 L659.2,1617.8 L661.2,1606.8 L663.1,1595.6 L665.1,1584.1 L667.1,1572.4 L669.1,1560.7 L671.1,1548.9 L673.1,1537.2 L675.1,1525.6 L677.1,1514.3 L679.1,1503.3 L681.1,1492.8 L683.1,1482.8 L685.1,1473.6 L687.1,1465.1 L689.0,1457.6 L691.0,1451.1 L693.0,1445.8 L695.0,1441.8 L697.0,1439.0 L699.0,1437.7 L701.0,1437.7 L703.0,1439.1 L705.0,1441.9 L707.0,1445.9 L709.0,1451.3 L711.0,1457.8 L712.9,1465.3 L714.9,1473.8 L716.9,1483.1 L718.9,1493.0 L720.9,1503.6 L722.9,1514.6 L724.9,1526.0 L726.9,1537.6 L728.9,1549.3 L730.9,1561.1 L732.9,1572.9 L734.9,1584.6 L736.9,1596.1 L738.8,1607.4 L740.8,1618.4 L742.8,1629.1 L744.8,1639.4 L746.8,1649.3 L748.8,1658.8 L750.8,1667.9 L752.8,1676.5 L754.8,1684.7 L756.8,1692.4 L758.8,1699.7 L760.8,1706.5 L762.8,1712.8 L764.7,1718.7 L766.7,1724.2 L768.7,1729.3 L770.7,1733.9 L772.7,1738.2 L774.7,1742.2 L776.7,1745.8 L778.7,1749.1 L780.7,1752.1 L782.7,1754.9 L784.7,1757.4 L786.7,1759.6 L788.7,1761.7 L790.6,1763.5 L792.6,1765.2 L794.6,1766.8 L796.6,1768.1 L798.6,1769.4 L800.6,1770.5 L802.6,1771.6 L804.6,1772.5 L806.6,1773.4 L808.6,1774.2 L810.6,1774.9 L812.6,1775.5 L814.6,1776.1 L816.5,1776.7 L818.5,1777.2 L820.5,1777.7 L822.5,1778.2 L824.5,1778.6 L826.5,1779.0 L828.5,1779.3 L830.5,1779.7 L832.5,1780.0 L834.5,1780.3 L836.5,1780.6 L838.5,1780.9 L840.5,1781.2 L842.4,1781.5 L844.4,1781.7 L846.4,1782.0 L848.4,1782.2 L850.4,1782.4 L852.4,1782.6 L854.4,1782.8 L856.4,1783.0 L858.4,1783.2 L860.4,1783.4 L862.4,1783.6 L864.4,1783.8 L866.4,1783.9 L868.3,1784.1 L870.3,1784.3 L872.3,1784.4 L874.3,1784.6 L876.3,1784.7 L878.3,1784.9 L880.3,1785.0 L882.3,1785.1 L884.3,1785.3 L886.3,1785.4 L888.3,1785.5 L890.3,1785.6 L892.2,1785.8 L894.2,1785.9 L896.2,1786.0 L898.2,1786.1 L900.2,1786.2 L902.2,1786.3 L904.2,1786.4 L906.2,1786.5 L908.2,1786.6 L910.2,1786.7 L912.2,1786.8 L914.2,1786.9 L916.2,1787.0 L918.1,1787.0 L920.1,1787.1 L922.1,1787.2 L924.1,1787.3 L926.1,1787.4 L928.1,1787.5 L930.1,1787.5 L932.1,1787.6 L934.1,1787.7 L936.1,1787.7 L938.1,1787.8 L940.1,1787.9 L942.1,1788.0 L944.0,1788.0 L946.0,1788.1 L948.0,1788.1 L950.0,1788.2 L952.0,1788.3 L954.0,1788.3 L956.0,1788.4 L956.0,1791.3Z" fill="url(#g7)" fill-opacity="0.95"/>
<path d="M347.1,1787.0 L347.1,1785.0 L349.1,1785.0 L351.1,1785.0 L353.0,1785.0 L355.0,1784.9 L357.0,1784.9 L359.0,1784.9 L361.0,1784.9 L363.0,1784.8 L365.0,1784.8 L367.0,1784.8 L369.0,1784.8 L371.0,1784.7 L373.0,1784.7 L375.0,1784.7 L377.0,1784.7 L379.0,1784.6 L381.0,1784.6 L383.0,1784.6 L385.0,1784.5 L387.0,1784.5 L389.0,1784.5 L391.0,1784.4 L393.0,1784.4 L395.0,1784.3 L396.9,1784.3 L398.9,1784.2 L400.9,1784.2 L402.9,1784.1 L404.9,1784.1 L406.9,1784.0 L408.9,1784.0 L410.9,1783.9 L412.9,1783.9 L414.9,1783.8 L416.9,1783.7 L418.9,1783.7 L420.9,1783.6 L422.9,1783.5 L424.9,1783.4 L426.9,1783.4 L428.9,1783.3 L430.9,1783.2 L432.9,1783.1 L434.9,1783.0 L436.9,1782.9 L438.9,1782.8 L440.8,1782.7 L442.8,1782.6 L444.8,1782.5 L446.8,1782.4 L448.8,1782.2 L450.8,1782.1 L452.8,1782.0 L454.8,1781.8 L456.8,1781.7 L458.8,1781.5 L460.8,1781.3 L462.8,1781.2 L464.8,1781.0 L466.8,1780.8 L468.8,1780.5 L470.8,1780.3 L472.8,1780.1 L474.8,1779.8 L476.8,1779.5 L478.8,1779.2 L480.8,1778.9 L482.8,1778.5 L484.7,1778.1 L486.7,1777.7 L488.7,1777.2 L490.7,1776.7 L492.7,1776.1 L494.7,1775.4 L496.7,1774.7 L498.7,1773.9 L500.7,1773.0 L502.7,1772.1 L504.7,1771.0 L506.7,1769.8 L508.7,1768.4 L510.7,1766.9 L512.7,1765.3 L514.7,1763.4 L516.7,1761.4 L518.7,1759.2 L520.7,1756.7 L522.7,1754.0 L524.7,1751.1 L526.7,1747.9 L528.6,1744.4 L530.6,1740.6 L532.6,1736.4 L534.6,1732.0 L536.6,1727.3 L538.6,1722.2 L540.6,1716.8 L542.6,1711.0 L544.6,1704.9 L546.6,1698.5 L548.6,1691.8 L550.6,1684.8 L552.6,1677.5 L554.6,1670.0 L556.6,1662.2 L558.6,1654.3 L560.6,1646.3 L562.6,1638.1 L564.6,1630.0 L566.6,1621.9 L568.6,1613.8 L570.6,1606.0 L572.5,1598.4 L574.5,1591.1 L576.5,1584.3 L578.5,1577.9 L580.5,1572.2 L582.5,1567.2 L584.5,1562.9 L586.5,1559.6 L588.5,1557.1 L590.5,1555.6 L592.5,1555.1 L594.5,1555.6 L596.5,1557.2 L598.5,1559.6 L600.5,1563.1 L602.5,1567.3 L604.5,1572.4 L606.5,1578.1 L608.5,1584.5 L610.5,1591.4 L612.5,1598.7 L614.4,1606.3 L616.4,1614.2 L618.4,1622.2 L620.4,1630.4 L622.4,1638.6 L624.4,1646.7 L626.4,1654.8 L628.4,1662.8 L630.4,1670.5 L632.4,1678.1 L634.4,1685.4 L636.4,1692.4 L638.4,1699.2 L640.4,1705.6 L642.4,1711.7 L644.4,1717.5 L646.4,1722.9 L648.4,1728.1 L650.4,1732.9 L652.4,1737.3 L654.4,1741.4 L656.4,1745.3 L658.3,1748.8 L660.3,1752.1 L662.3,1755.0 L664.3,1757.8 L666.3,1760.2 L668.3,1762.5 L670.3,1764.6 L672.3,1766.4 L674.3,1768.1 L676.3,1769.6 L678.3,1771.0 L680.3,1772.2 L682.3,1773.4 L684.3,1774.4 L686.3,1775.3 L688.3,1776.1 L690.3,1776.8 L692.3,1777.5 L694.3,1778.1 L696.3,1778.7 L698.3,1779.2 L700.3,1779.7 L702.2,1780.1 L704.2,1780.5 L706.2,1780.8 L708.2,1781.2 L710.2,1781.5 L712.2,1781.8 L714.2,1782.1 L716.2,1782.3 L718.2,1782.6 L720.2,1782.8 L722.2,1783.0 L724.2,1783.2 L726.2,1783.4 L728.2,1783.6 L730.2,1783.8 L732.2,1784.0 L734.2,1784.1 L736.2,1784.3 L738.2,1784.5 L740.2,1784.6 L742.2,1784.7 L744.2,1784.9 L746.1,1785.0 L748.1,1785.2 L750.1,1785.3 L752.1,1785.4 L754.1,1785.5 L756.1,1785.6 L758.1,1785.7 L760.1,1785.9 L762.1,1786.0 L764.1,1786.1 L766.1,1786.2 L768.1,1786.3 L770.1,1786.3 L772.1,1786.4 L774.1,1786.5 L776.1,1786.6 L778.1,1786.7 L780.1,1786.8 L782.1,1786.9 L784.1,1786.9 L786.1,1787.0 L788.1,1787.1 L790.0,1787.2 L792.0,1787.2 L794.0,1787.3 L796.0,1787.4 L798.0,1787.4 L800.0,1787.5 L802.0,1787.6 L804.0,1787.6 L806.0,1787.7 L808.0,1787.8 L810.0,1787.8 L812.0,1787.9 L814.0,1787.9 L816.0,1788.0 L818.0,1788.0 L820.0,1788.1 L822.0,1788.1 L824.0,1788.2 L826.0,1788.2 L828.0,1788.3 L830.0,1788.3 L832.0,1788.4 L833.9,1788.4 L835.9,1788.5 L837.9,1788.5 L837.9,1790.5Z" fill="url(#g8)" fill-opacity="0.88"/>
<path d="M132.3,1786.4 L1158.3,1793.8" stroke="#3ea6f2" stroke-width="2.5"/>
<path d="M132.3,1781.1 L134.3,1781.1 L136.3,1781.1 L138.3,1781.1 L140.3,1781.1 L142.3,1781.2 L144.3,1781.2 L146.3,1781.2 L148.3,1781.2 L150.3,1781.2 L152.3,1781.2 L154.3,1781.2 L156.3,1781.2 L158.3,1781.2 L160.3,1781.2 L162.3,1781.2 L164.3,1781.2 L166.3,1781.2 L168.3,1781.2 L170.3,1781.2 L172.3,1781.2 L174.3,1781.2 L176.3,1781.2 L178.3,1781.2 L180.3,1781.2 L182.3,1781.2 L184.3,1781.2 L186.3,1781.2 L188.3,1781.2 L190.3,1781.2 L192.3,1781.2 L194.3,1781.2 L196.3,1781.2 L198.3,1781.2 L200.3,1781.2 L202.3,1781.2 L204.3,1781.2 L206.3,1781.2 L208.3,1781.2 L210.3,1781.2 L212.3,1781.2 L214.3,1781.2 L216.3,1781.2 L218.3,1781.2 L220.3,1781.2 L222.3,1781.2 L224.3,1781.2 L226.3,1781.2 L228.3,1781.2 L230.3,1781.2 L232.3,1781.2 L234.3,1781.1 L236.3,1781.1 L238.3,1781.1 L240.3,1781.1 L242.3,1781.1 L244.3,1781.1 L246.3,1781.1 L248.3,1781.1 L250.3,1781.1 L252.3,1781.1 L254.3,1781.1 L256.3,1781.1 L258.3,1781.1 L260.3,1781.1 L262.3,1781.0 L264.3,1781.0 L266.3,1781.0 L268.3,1781.0 L270.3,1781.0 L272.3,1781.0 L274.3,1781.0 L276.3,1781.0 L278.3,1781.0 L280.3,1780.9 L282.3,1780.9 L284.3,1780.9 L286.3,1780.9 L288.3,1780.9 L290.3,1780.9 L292.3,1780.8 L294.3,1780.8 L296.3,1780.8 L298.3,1780.8 L300.3,1780.8 L302.3,1780.8 L304.3,1780.7 L306.3,1780.7 L308.3,1780.7 L310.3,1780.7 L312.3,1780.6 L314.3,1780.6 L316.3,1780.6 L318.3,1780.6 L320.3,1780.5 L322.3,1780.5 L324.3,1780.5 L326.3,1780.5 L328.3,1780.4 L330.3,1780.4 L332.3,1780.4 L334.3,1780.3 L336.3,1780.3 L338.3,1780.3 L340.3,1780.2 L342.3,1780.2 L344.3,1780.2 L346.3,1780.1 L348.3,1780.1 L350.3,1780.1 L352.3,1780.0 L354.3,1780.0 L356.3,1779.9 L358.3,1779.9 L360.3,1779.8 L362.3,1779.8 L364.3,1779.7 L366.3,1779.7 L368.3,1779.6 L370.3,1779.6 L372.3,1779.5 L374.3,1779.5 L376.3,1779.4 L378.3,1779.4 L380.3,1779.3 L382.3,1779.2 L384.3,1779.2 L386.3,1779.1 L388.3,1779.0 L390.3,1779.0 L392.3,1778.9 L394.3,1778.8 L396.3,1778.7 L398.3,1778.7 L400.3,1778.6 L402.3,1778.5 L404.3,1778.4 L406.3,1778.3 L408.3,1778.2 L410.3,1778.1 L412.3,1778.0 L414.3,1777.9 L416.3,1777.8 L418.3,1777.7 L420.3,1777.6 L422.3,1777.5 L424.3,1777.3 L426.3,1777.2 L428.3,1777.1 L430.3,1777.0 L432.3,1776.8 L434.3,1776.7 L436.3,1776.5 L438.3,1776.4 L440.3,1776.2 L442.3,1776.0 L444.3,1775.9 L446.3,1775.7 L448.3,1775.5 L450.3,1775.3 L452.3,1775.1 L454.3,1774.9 L456.3,1774.7 L458.3,1774.5 L460.3,1774.2 L462.3,1774.0 L464.3,1773.7 L466.3,1773.4 L468.3,1773.1 L470.3,1772.8 L472.3,1772.5 L474.3,1772.2 L476.3,1771.8 L478.3,1771.4 L480.3,1771.0 L482.3,1770.5 L484.3,1770.0 L486.3,1769.5 L488.3,1768.9 L490.3,1768.3 L492.3,1767.6 L494.3,1766.9 L496.3,1766.0 L498.3,1765.1 L500.3,1764.1 L502.3,1763.1 L504.3,1761.9 L506.3,1760.5 L508.3,1759.1 L510.3,1757.5 L512.3,1755.7 L514.3,1753.7 L516.3,1751.6 L518.3,1749.2 L520.3,1746.6 L522.3,1743.8 L524.3,1740.7 L526.3,1737.3 L528.3,1733.6 L530.3,1729.6 L532.3,1725.3 L534.3,1720.7 L536.3,1715.8 L538.3,1710.5 L540.3,1704.8 L542.3,1698.8 L544.3,1692.5 L546.3,1685.8 L548.3,1678.7 L550.3,1671.4 L552.3,1663.8 L554.3,1655.8 L556.3,1647.7 L558.3,1639.3 L560.3,1630.7 L562.3,1622.1 L564.3,1613.3 L566.3,1604.5 L568.3,1595.8 L570.3,1587.1 L572.3,1578.7 L574.3,1570.5 L576.3,1562.6 L578.3,1555.2 L580.3,1548.2 L582.3,1541.9 L584.3,1536.3 L586.3,1531.4 L588.3,1527.3 L590.3,1524.0 L592.3,1521.6 L594.3,1520.1 L596.3,1519.4 L598.3,1519.6 L600.3,1520.5 L602.3,1522.1 L604.3,1524.3 L606.3,1527.0 L608.3,1530.2 L610.3,1533.6 L612.3,1537.3 L614.3,1541.1 L616.3,1544.9 L618.3,1548.7 L620.3,1552.3 L622.3,1555.7 L624.3,1558.9 L626.3,1561.8 L628.3,1564.3 L630.3,1566.4 L632.3,1568.2 L634.3,1569.4 L636.3,1570.2 L638.3,1570.5 L640.3,1570.3 L642.3,1569.5 L644.3,1568.3 L646.3,1566.4 L648.3,1563.9 L650.3,1560.9 L652.3,1557.2 L654.3,1553.0 L656.3,1548.1 L658.3,1542.7 L660.3,1536.7 L662.3,1530.1 L664.3,1523.1 L666.3,1515.7 L668.3,1507.8 L670.3,1499.7 L672.3,1491.4 L674.3,1483.0 L676.3,1474.5 L678.3,1466.2 L680.3,1458.0 L682.3,1450.2 L684.3,1442.9 L686.3,1436.2 L688.3,1430.2 L690.3,1425.1 L692.3,1421.0 L694.3,1417.9 L696.3,1416.1 L698.3,1415.5 L700.3,1416.1 L702.3,1418.1 L704.3,1421.4 L706.3,1426.0 L708.3,1431.7 L710.3,1438.6 L712.3,1446.5 L714.3,1455.4 L716.3,1465.0 L718.3,1475.4 L720.3,1486.3 L722.3,1497.7 L724.3,1509.4 L726.3,1521.4 L728.3,1533.5 L730.3,1545.6 L732.3,1557.8 L734.3,1569.8 L736.3,1581.7 L738.3,1593.4 L740.3,1604.7 L742.3,1615.8 L744.3,1626.5 L746.3,1636.7 L748.3,1646.6 L750.3,1656.0 L752.3,1665.0 L754.3,1673.5 L756.3,1681.5 L758.3,1689.0 L760.3,1696.1 L762.3,1702.7 L764.3,1708.9 L766.3,1714.6 L768.3,1719.9 L770.3,1724.8 L772.3,1729.3 L774.3,1733.5 L776.3,1737.3 L778.3,1740.8 L780.3,1744.0 L782.3,1746.9 L784.3,1749.5 L786.3,1751.9 L788.3,1754.1 L790.3,1756.1 L792.3,1757.9 L794.3,1759.6 L796.3,1761.1 L798.3,1762.4 L800.3,1763.7 L802.3,1764.8 L804.3,1765.8 L806.3,1766.8 L808.3,1767.6 L810.3,1768.4 L812.3,1769.1 L814.3,1769.8 L816.3,1770.5 L818.3,1771.0 L820.3,1771.6 L822.3,1772.1 L824.3,1772.6 L826.3,1773.0 L828.3,1773.5 L830.3,1773.9 L832.3,1774.2 L834.3,1774.6 L836.3,1775.0 L838.3,1775.3 L840.3,1775.6 L842.3,1775.9 L844.3,1776.2 L846.3,1776.5 L848.3,1776.8 L850.3,1777.0 L852.3,1777.3 L854.3,1777.5 L856.3,1777.8 L858.3,1778.0 L860.3,1778.2 L862.3,1778.4 L864.3,1778.6 L866.3,1778.8 L868.3,1779.0 L870.3,1779.2 L872.3,1779.4 L874.3,1779.6 L876.3,1779.8 L878.3,1779.9 L880.3,1780.1 L882.3,1780.3 L884.3,1780.4 L886.3,1780.6 L888.3,1780.7 L890.3,1780.9 L892.3,1781.0 L894.3,1781.2 L896.3,1781.3 L898.3,1781.4 L900.3,1781.6 L902.3,1781.7 L904.3,1781.8 L906.3,1781.9 L908.3,1782.0 L910.3,1782.2 L912.3,1782.3 L914.3,1782.4 L916.3,1782.5 L918.3,1782.6 L920.3,1782.7 L922.3,1782.8 L924.3,1782.9 L926.3,1783.0 L928.3,1783.1 L930.3,1783.2 L932.3,1783.3 L934.3,1783.4 L936.3,1783.4 L938.3,1783.5 L940.3,1783.6 L942.3,1783.7 L944.3,1783.8 L946.3,1783.9 L948.3,1783.9 L950.3,1784.0 L952.3,1784.1 L954.3,1784.2 L956.3,1784.2 L958.3,1784.3 L960.3,1784.4 L962.3,1784.4 L964.3,1784.5 L966.3,1784.6 L968.3,1784.6 L970.3,1784.7 L972.3,1784.8 L974.3,1784.8 L976.3,1784.9 L978.3,1785.0 L980.3,1785.0 L982.3,1785.1 L984.3,1785.1 L986.3,1785.2 L988.3,1785.2 L990.3,1785.3 L992.3,1785.4 L994.3,1785.4 L996.3,1785.5 L998.3,1785.5 L1000.3,1785.6 L1002.3,1785.6 L1004.3,1785.7 L1006.3,1785.7 L1008.3,1785.8 L1010.3,1785.8 L1012.3,1785.9 L1014.3,1785.9 L1016.3,1786.0 L1018.3,1786.0 L1020.3,1786.1 L1022.3,1786.1 L1024.3,1786.1 L1026.3,1786.2 L1028.3,1786.2 L1030.3,1786.3 L1032.3,1786.3 L1034.3,1786.4 L1036.3,1786.4 L1038.3,1786.4 L1040.3,1786.5 L1042.3,1786.5 L1044.3,1786.6 L1046.3,1786.6 L1048.3,1786.6 L1050.3,1786.7 L1052.3,1786.7 L1054.3,1786.8 L1056.3,1786.8 L1058.3,1786.8 L1060.3,1786.9 L1062.3,1786.9 L1064.3,1786.9 L1066.3,1787.0 L1068.3,1787.0 L1070.3,1787.1 L1072.3,1787.1 L1074.3,1787.1 L1076.3,1787.2 L1078.3,1787.2 L1080.3,1787.2 L1082.3,1787.3 L1084.3,1787.3 L1086.3,1787.3 L1088.3,1787.4 L1090.3,1787.4 L1092.3,1787.4 L1094.3,1787.5 L1096.3,1787.5 L1098.3,1787.5 L1100.3,1787.6 L1102.3,1787.6 L1104.3,1787.6 L1106.3,1787.6 L1108.3,1787.7 L1110.3,1787.7 L1112.3,1787.7 L1114.3,1787.8 L1116.3,1787.8 L1118.3,1787.8 L1120.3,1787.9 L1122.3,1787.9 L1124.3,1787.9 L1126.3,1787.9 L1128.3,1788.0 L1130.3,1788.0 L1132.3,1788.0 L1134.3,1788.1 L1136.3,1788.1 L1138.3,1788.1 L1140.3,1788.1 L1142.3,1788.2 L1144.3,1788.2 L1146.3,1788.2 L1148.3,1788.2 L1150.3,1788.3 L1152.3,1788.3 L1154.3,1788.3 L1156.3,1788.3 L1158.3,1788.4" fill="none" stroke="#4aaef5" stroke-width="2.2" stroke-linejoin="round"/>
<path d="M131.8,1781.8a2.9,2.9 0 1,0 5.8,0a2.9,2.9 0 1,0 -5.8,0M135.9,1780.2a2.9,2.9 0 1,0 5.8,0a2.9,2.9 0 1,0 -5.8,0M141.1,1781.8a2.9,2.9 0 1,0 5.8,0a2.9,2.9 0 1,0 -5.8,0M144.7,1781.4a2.9,2.9 0 1,0 5.8,0a2.9,2.9 0 1,0 -5.8,0M150.4,1782.1a2.9,2.9 0 1,0 5.8,0a2.9,2.9 0 1,0 -5.8,0M154.3,1781.1a2.9,2.9 0 1,0 5.8,0a2.9,2.9 0 1,0 -5.8,0M159.0,1780.4a2.9,2.9 0 1,0 5.8,0a2.9,2.9 0 1,0 -5.8,0M163.0,1780.4a2.9,2.9 0 1,0 5.8,0a2.9,2.9 0 1,0 -5.8,0M168.4,1780.9a2.9,2.9 0 1,0 5.8,0a2.9,2.9 0 1,0 -5.8,0M172.7,1781.0a2.9,2.9 0 1,0 5.8,0a2.9,2.9 0 1,0 -5.8,0M177.3,1780.4a2.9,2.9 0 1,0 5.8,0a2.9,2.9 0 1,0 -5.8,0M181.1,1782.4a2.9,2.9 0 1,0 5.8,0a2.9,2.9 0 1,0 -5.8,0M186.2,1780.3a2.9,2.9 0 1,0 5.8,0a2.9,2.9 0 1,0 -5.8,0M191.2,1781.9a2.9,2.9 0 1,0 5.8,0a2.9,2.9 0 1,0 -5.8,0M195.0,1781.4a2.9,2.9 0 1,0 5.8,0a2.9,2.9 0 1,0 -5.8,0M199.9,1781.2a2.9,2.9 0 1,0 5.8,0a2.9,2.9 0 1,0 -5.8,0M204.0,1780.1a2.9,2.9 0 1,0 5.8,0a2.9,2.9 0 1,0 -5.8,0M210.1,1782.1a2.9,2.9 0 1,0 5.8,0a2.9,2.9 0 1,0 -5.8,0M213.9,1781.3a2.9,2.9 0 1,0 5.8,0a2.9,2.9 0 1,0 -5.8,0M218.1,1781.8a2.9,2.9 0 1,0 5.8,0a2.9,2.9 0 1,0 -5.8,0M222.9,1782.2a2.9,2.9 0 1,0 5.8,0a2.9,2.9 0 1,0 -5.8,0M228.1,1781.9a2.9,2.9 0 1,0 5.8,0a2.9,2.9 0 1,0 -5.8,0M233.0,1780.6a2.9,2.9 0 1,0 5.8,0a2.9,2.9 0 1,0 -5.8,0M236.1,1780.4a2.9,2.9 0 1,0 5.8,0a2.9,2.9 0 1,0 -5.8,0M240.9,1780.1a2.9,2.9 0 1,0 5.8,0a2.9,2.9 0 1,0 -5.8,0M245.3,1781.2a2.9,2.9 0 1,0 5.8,0a2.9,2.9 0 1,0 -5.8,0M251.2,1781.0a2.9,2.9 0 1,0 5.8,0a2.9,2.9 0 1,0 -5.8,0M255.9,1782.0a2.9,2.9 0 1,0 5.8,0a2.9,2.9 0 1,0 -5.8,0M259.0,1781.3a2.9,2.9 0 1,0 5.8,0a2.9,2.9 0 1,0 -5.8,0M264.1,1780.1a2.9,2.9 0 1,0 5.8,0a2.9,2.9 0 1,0 -5.8,0M269.6,1780.4a2.9,2.9 0 1,0 5.8,0a2.9,2.9 0 1,0 -5.8,0M273.6,1781.3a2.9,2.9 0 1,0 5.8,0a2.9,2.9 0 1,0 -5.8,0M278.8,1781.3a2.9,2.9 0 1,0 5.8,0a2.9,2.9 0 1,0 -5.8,0M282.5,1780.8a2.9,2.9 0 1,0 5.8,0a2.9,2.9 0 1,0 -5.8,0M286.7,1782.0a2.9,2.9 0 1,0 5.8,0a2.9,2.9 0 1,0 -5.8,0M292.6,1780.2a2.9,2.9 0 1,0 5.8,0a2.9,2.9 0 1,0 -5.8,0M295.6,1780.2a2.9,2.9 0 1,0 5.8,0a2.9,2.9 0 1,0 -5.8,0M300.7,1781.7a2.9,2.9 0 1,0 5.8,0a2.9,2.9 0 1,0 -5.8,0M306.2,1781.5a2.9,2.9 0 1,0 5.8,0a2.9,2.9 0 1,0 -5.8,0M309.4,1781.3a2.9,2.9 0 1,0 5.8,0a2.9,2.9 0 1,0 -5.8,0M315.1,1780.9a2.9,2.9 0 1,0 5.8,0a2.9,2.9 0 1,0 -5.8,0M320.1,1779.4a2.9,2.9 0 1,0 5.8,0a2.9,2.9 0 1,0 -5.8,0M323.3,1781.1a2.9,2.9 0 1,0 5.8,0a2.9,2.9 0 1,0 -5.8,0M329.2,1780.8a2.9,2.9 0 1,0 5.8,0a2.9,2.9 0 1,0 -5.8,0M332.7,1780.5a2.9,2.9 0 1,0 5.8,0a2.9,2.9 0 1,0 -5.8,0M338.0,1779.3a2.9,2.9 0 1,0 5.8,0a2.9,2.9 0 1,0 -5.8,0M341.9,1779.6a2.9,2.9 0 1,0 5.8,0a2.9,2.9 0 1,0 -5.8,0M346.2,1780.0a2.9,2.9 0 1,0 5.8,0a2.9,2.9 0 1,0 -5.8,0M350.9,1779.4a2.9,2.9 0 1,0 5.8,0a2.9,2.9 0 1,0 -5.8,0M355.4,1780.3a2.9,2.9 0 1,0 5.8,0a2.9,2.9 0 1,0 -5.8,0M359.8,1780.3a2.9,2.9 0 1,0 5.8,0a2.9,2.9 0 1,0 -5.8,0M364.6,1778.6a2.9,2.9 0 1,0 5.8,0a2.9,2.9 0 1,0 -5.8,0M370.4,1778.8a2.9,2.9 0 1,0 5.8,0a2.9,2.9 0 1,0 -5.8,0M375.0,1780.3a2.9,2.9 0 1,0 5.8,0a2.9,2.9 0 1,0 -5.8,0M379.5,1778.4a2.9,2.9 0 1,0 5.8,0a2.9,2.9 0 1,0 -5.8,0M383.4,1778.1a2.9,2.9 0 1,0 5.8,0a2.9,2.9 0 1,0 -5.8,0M388.7,1779.7a2.9,2.9 0 1,0 5.8,0a2.9,2.9 0 1,0 -5.8,0M392.8,1778.6a2.9,2.9 0 1,0 5.8,0a2.9,2.9 0 1,0 -5.8,0M397.0,1779.4a2.9,2.9 0 1,0 5.8,0a2.9,2.9 0 1,0 -5.8,0M401.8,1778.7a2.9,2.9 0 1,0 5.8,0a2.9,2.9 0 1,0 -5.8,0M405.8,1777.5a2.9,2.9 0 1,0 5.8,0a2.9,2.9 0 1,0 -5.8,0M410.3,1778.5a2.9,2.9 0 1,0 5.8,0a2.9,2.9 0 1,0 -5.8,0M415.6,1776.8a2.9,2.9 0 1,0 5.8,0a2.9,2.9 0 1,0 -5.8,0M420.7,1776.8a2.9,2.9 0 1,0 5.8,0a2.9,2.9 0 1,0 -5.8,0M424.6,1776.3a2.9,2.9 0 1,0 5.8,0a2.9,2.9 0 1,0 -5.8,0M428.9,1777.7a2.9,2.9 0 1,0 5.8,0a2.9,2.9 0 1,0 -5.8,0M433.6,1775.7a2.9,2.9 0 1,0 5.8,0a2.9,2.9 0 1,0 -5.8,0M438.4,1775.7a2.9,2.9 0 1,0 5.8,0a2.9,2.9 0 1,0 -5.8,0M443.7,1774.7a2.9,2.9 0 1,0 5.8,0a2.9,2.9 0 1,0 -5.8,0M448.4,1774.2a2.9,2.9 0 1,0 5.8,0a2.9,2.9 0 1,0 -5.8,0M452.8,1775.2a2.9,2.9 0 1,0 5.8,0a2.9,2.9 0 1,0 -5.8,0M456.3,1774.3a2.9,2.9 0 1,0 5.8,0a2.9,2.9 0 1,0 -5.8,0M461.0,1773.2a2.9,2.9 0 1,0 5.8,0a2.9,2.9 0 1,0 -5.8,0M465.5,1772.8a2.9,2.9 0 1,0 5.8,0a2.9,2.9 0 1,0 -5.8,0M471.3,1773.4a2.9,2.9 0 1,0 5.8,0a2.9,2.9 0 1,0 -5.8,0M475.8,1770.3a2.9,2.9 0 1,0 5.8,0a2.9,2.9 0 1,0 -5.8,0M479.4,1771.5a2.9,2.9 0 1,0 5.8,0a2.9,2.9 0 1,0 -5.8,0M483.6,1770.0a2.9,2.9 0 1,0 5.8,0a2.9,2.9 0 1,0 -5.8,0M488.5,1769.1a2.9,2.9 0 1,0 5.8,0a2.9,2.9 0 1,0 -5.8,0M492.7,1767.1a2.9,2.9 0 1,0 5.8,0a2.9,2.9 0 1,0 -5.8,0M497.8,1763.1a2.9,2.9 0 1,0 5.8,0a2.9,2.9 0 1,0 -5.8,0M501.8,1762.4a2.9,2.9 0 1,0 5.8,0a2.9,2.9 0 1,0 -5.8,0M507.2,1756.8a2.9,2.9 0 1,0 5.8,0a2.9,2.9 0 1,0 -5.8,0M511.7,1754.4a2.9,2.9 0 1,0 5.8,0a2.9,2.9 0 1,0 -5.8,0M515.9,1748.7a2.9,2.9 0 1,0 5.8,0a2.9,2.9 0 1,0 -5.8,0M520.4,1741.5a2.9,2.9 0 1,0 5.8,0a2.9,2.9 0 1,0 -5.8,0M526.0,1733.0a2.9,2.9 0 1,0 5.8,0a2.9,2.9 0 1,0 -5.8,0M529.6,1723.8a2.9,2.9 0 1,0 5.8,0a2.9,2.9 0 1,0 -5.8,0M534.0,1714.4a2.9,2.9 0 1,0 5.8,0a2.9,2.9 0 1,0 -5.8,0M539.3,1698.7a2.9,2.9 0 1,0 5.8,0a2.9,2.9 0 1,0 -5.8,0M543.4,1686.1a2.9,2.9 0 1,0 5.8,0a2.9,2.9 0 1,0 -5.8,0M548.8,1666.9a2.9,2.9 0 1,0 5.8,0a2.9,2.9 0 1,0 -5.8,0M553.2,1647.9a2.9,2.9 0 1,0 5.8,0a2.9,2.9 0 1,0 -5.8,0M556.9,1633.4a2.9,2.9 0 1,0 5.8,0a2.9,2.9 0 1,0 -5.8,0M562.1,1611.0a2.9,2.9 0 1,0 5.8,0a2.9,2.9 0 1,0 -5.8,0M566.1,1593.6a2.9,2.9 0 1,0 5.8,0a2.9,2.9 0 1,0 -5.8,0M571.1,1572.5a2.9,2.9 0 1,0 5.8,0a2.9,2.9 0 1,0 -5.8,0M576.5,1551.2a2.9,2.9 0 1,0 5.8,0a2.9,2.9 0 1,0 -5.8,0M579.8,1541.8a2.9,2.9 0 1,0 5.8,0a2.9,2.9 0 1,0 -5.8,0M585.1,1528.8a2.9,2.9 0 1,0 5.8,0a2.9,2.9 0 1,0 -5.8,0M589.3,1520.9a2.9,2.9 0 1,0 5.8,0a2.9,2.9 0 1,0 -5.8,0M594.8,1519.1a2.9,2.9 0 1,0 5.8,0a2.9,2.9 0 1,0 -5.8,0M598.3,1520.8a2.9,2.9 0 1,0 5.8,0a2.9,2.9 0 1,0 -5.8,0M603.6,1526.1a2.9,2.9 0 1,0 5.8,0a2.9,2.9 0 1,0 -5.8,0M608.1,1534.7a2.9,2.9 0 1,0 5.8,0a2.9,2.9 0 1,0 -5.8,0M612.6,1542.5a2.9,2.9 0 1,0 5.8,0a2.9,2.9 0 1,0 -5.8,0M617.5,1553.3a2.9,2.9 0 1,0 5.8,0a2.9,2.9 0 1,0 -5.8,0M622.4,1559.9a2.9,2.9 0 1,0 5.8,0a2.9,2.9 0 1,0 -5.8,0M626.7,1565.5a2.9,2.9 0 1,0 5.8,0a2.9,2.9 0 1,0 -5.8,0M631.3,1568.3a2.9,2.9 0 1,0 5.8,0a2.9,2.9 0 1,0 -5.8,0M636.1,1571.6a2.9,2.9 0 1,0 5.8,0a2.9,2.9 0 1,0 -5.8,0M640.1,1569.2a2.9,2.9 0 1,0 5.8,0a2.9,2.9 0 1,0 -5.8,0M644.7,1564.9a2.9,2.9 0 1,0 5.8,0a2.9,2.9 0 1,0 -5.8,0M648.5,1560.1a2.9,2.9 0 1,0 5.8,0a2.9,2.9 0 1,0 -5.8,0M653.4,1547.3a2.9,2.9 0 1,0 5.8,0a2.9,2.9 0 1,0 -5.8,0M657.8,1534.8a2.9,2.9 0 1,0 5.8,0a2.9,2.9 0 1,0 -5.8,0M663.5,1514.0a2.9,2.9 0 1,0 5.8,0a2.9,2.9 0 1,0 -5.8,0M667.0,1502.0a2.9,2.9 0 1,0 5.8,0a2.9,2.9 0 1,0 -5.8,0M671.7,1480.5a2.9,2.9 0 1,0 5.8,0a2.9,2.9 0 1,0 -5.8,0M676.9,1460.1a2.9,2.9 0 1,0 5.8,0a2.9,2.9 0 1,0 -5.8,0M681.4,1443.4a2.9,2.9 0 1,0 5.8,0a2.9,2.9 0 1,0 -5.8,0M685.3,1431.4a2.9,2.9 0 1,0 5.8,0a2.9,2.9 0 1,0 -5.8,0M690.9,1417.5a2.9,2.9 0 1,0 5.8,0a2.9,2.9 0 1,0 -5.8,0M694.5,1415.6a2.9,2.9 0 1,0 5.8,0a2.9,2.9 0 1,0 -5.8,0M699.7,1418.0a2.9,2.9 0 1,0 5.8,0a2.9,2.9 0 1,0 -5.8,0M703.7,1426.4a2.9,2.9 0 1,0 5.8,0a2.9,2.9 0 1,0 -5.8,0M708.3,1442.2a2.9,2.9 0 1,0 5.8,0a2.9,2.9 0 1,0 -5.8,0M714.0,1467.3a2.9,2.9 0 1,0 5.8,0a2.9,2.9 0 1,0 -5.8,0M718.1,1491.0a2.9,2.9 0 1,0 5.8,0a2.9,2.9 0 1,0 -5.8,0M722.1,1514.1a2.9,2.9 0 1,0 5.8,0a2.9,2.9 0 1,0 -5.8,0M727.9,1548.3a2.9,2.9 0 1,0 5.8,0a2.9,2.9 0 1,0 -5.8,0M731.6,1572.1a2.9,2.9 0 1,0 5.8,0a2.9,2.9 0 1,0 -5.8,0M736.4,1598.8a2.9,2.9 0 1,0 5.8,0a2.9,2.9 0 1,0 -5.8,0M741.6,1628.4a2.9,2.9 0 1,0 5.8,0a2.9,2.9 0 1,0 -5.8,0M745.3,1645.3a2.9,2.9 0 1,0 5.8,0a2.9,2.9 0 1,0 -5.8,0M749.8,1666.7a2.9,2.9 0 1,0 5.8,0a2.9,2.9 0 1,0 -5.8,0M755.5,1689.9a2.9,2.9 0 1,0 5.8,0a2.9,2.9 0 1,0 -5.8,0M759.9,1705.1a2.9,2.9 0 1,0 5.8,0a2.9,2.9 0 1,0 -5.8,0M764.4,1716.3a2.9,2.9 0 1,0 5.8,0a2.9,2.9 0 1,0 -5.8,0M768.5,1728.4a2.9,2.9 0 1,0 5.8,0a2.9,2.9 0 1,0 -5.8,0M773.7,1737.3a2.9,2.9 0 1,0 5.8,0a2.9,2.9 0 1,0 -5.8,0M777.5,1744.4a2.9,2.9 0 1,0 5.8,0a2.9,2.9 0 1,0 -5.8,0M782.0,1750.3a2.9,2.9 0 1,0 5.8,0a2.9,2.9 0 1,0 -5.8,0M786.1,1754.7a2.9,2.9 0 1,0 5.8,0a2.9,2.9 0 1,0 -5.8,0M791.4,1758.4a2.9,2.9 0 1,0 5.8,0a2.9,2.9 0 1,0 -5.8,0M795.4,1763.5a2.9,2.9 0 1,0 5.8,0a2.9,2.9 0 1,0 -5.8,0M801.0,1766.6a2.9,2.9 0 1,0 5.8,0a2.9,2.9 0 1,0 -5.8,0M805.3,1768.3a2.9,2.9 0 1,0 5.8,0a2.9,2.9 0 1,0 -5.8,0M810.3,1770.4a2.9,2.9 0 1,0 5.8,0a2.9,2.9 0 1,0 -5.8,0M813.5,1770.8a2.9,2.9 0 1,0 5.8,0a2.9,2.9 0 1,0 -5.8,0M818.5,1772.3a2.9,2.9 0 1,0 5.8,0a2.9,2.9 0 1,0 -5.8,0M823.1,1773.1a2.9,2.9 0 1,0 5.8,0a2.9,2.9 0 1,0 -5.8,0M828.7,1774.4a2.9,2.9 0 1,0 5.8,0a2.9,2.9 0 1,0 -5.8,0M832.2,1774.8a2.9,2.9 0 1,0 5.8,0a2.9,2.9 0 1,0 -5.8,0M837.1,1776.6a2.9,2.9 0 1,0 5.8,0a2.9,2.9 0 1,0 -5.8,0M841.4,1775.7a2.9,2.9 0 1,0 5.8,0a2.9,2.9 0 1,0 -5.8,0M846.6,1776.0a2.9,2.9 0 1,0 5.8,0a2.9,2.9 0 1,0 -5.8,0M851.1,1778.6a2.9,2.9 0 1,0 5.8,0a2.9,2.9 0 1,0 -5.8,0M855.5,1777.5a2.9,2.9 0 1,0 5.8,0a2.9,2.9 0 1,0 -5.8,0M860.0,1778.6a2.9,2.9 0 1,0 5.8,0a2.9,2.9 0 1,0 -5.8,0M864.1,1778.0a2.9,2.9 0 1,0 5.8,0a2.9,2.9 0 1,0 -5.8,0M868.7,1778.9a2.9,2.9 0 1,0 5.8,0a2.9,2.9 0 1,0 -5.8,0M873.7,1779.3a2.9,2.9 0 1,0 5.8,0a2.9,2.9 0 1,0 -5.8,0M878.0,1779.2a2.9,2.9 0 1,0 5.8,0a2.9,2.9 0 1,0 -5.8,0M883.1,1781.4a2.9,2.9 0 1,0 5.8,0a2.9,2.9 0 1,0 -5.8,0M887.8,1781.1a2.9,2.9 0 1,0 5.8,0a2.9,2.9 0 1,0 -5.8,0M892.4,1780.5a2.9,2.9 0 1,0 5.8,0a2.9,2.9 0 1,0 -5.8,0M897.1,1781.4a2.9,2.9 0 1,0 5.8,0a2.9,2.9 0 1,0 -5.8,0M901.4,1782.1a2.9,2.9 0 1,0 5.8,0a2.9,2.9 0 1,0 -5.8,0M905.9,1781.6a2.9,2.9 0 1,0 5.8,0a2.9,2.9 0 1,0 -5.8,0M910.1,1781.6a2.9,2.9 0 1,0 5.8,0a2.9,2.9 0 1,0 -5.8,0M915.1,1782.3a2.9,2.9 0 1,0 5.8,0a2.9,2.9 0 1,0 -5.8,0M919.8,1781.6a2.9,2.9 0 1,0 5.8,0a2.9,2.9 0 1,0 -5.8,0M924.0,1783.9a2.9,2.9 0 1,0 5.8,0a2.9,2.9 0 1,0 -5.8,0M928.4,1783.4a2.9,2.9 0 1,0 5.8,0a2.9,2.9 0 1,0 -5.8,0M933.4,1782.9a2.9,2.9 0 1,0 5.8,0a2.9,2.9 0 1,0 -5.8,0M938.8,1783.2a2.9,2.9 0 1,0 5.8,0a2.9,2.9 0 1,0 -5.8,0M943.0,1783.0a2.9,2.9 0 1,0 5.8,0a2.9,2.9 0 1,0 -5.8,0M946.5,1784.9a2.9,2.9 0 1,0 5.8,0a2.9,2.9 0 1,0 -5.8,0M951.7,1783.1a2.9,2.9 0 1,0 5.8,0a2.9,2.9 0 1,0 -5.8,0M956.2,1784.2a2.9,2.9 0 1,0 5.8,0a2.9,2.9 0 1,0 -5.8,0M961.3,1783.6a2.9,2.9 0 1,0 5.8,0a2.9,2.9 0 1,0 -5.8,0M965.1,1785.7a2.9,2.9 0 1,0 5.8,0a2.9,2.9 0 1,0 -5.8,0M970.5,1784.0a2.9,2.9 0 1,0 5.8,0a2.9,2.9 0 1,0 -5.8,0M974.4,1784.6a2.9,2.9 0 1,0 5.8,0a2.9,2.9 0 1,0 -5.8,0M979.5,1785.4a2.9,2.9 0 1,0 5.8,0a2.9,2.9 0 1,0 -5.8,0M984.4,1786.0a2.9,2.9 0 1,0 5.8,0a2.9,2.9 0 1,0 -5.8,0M988.4,1785.9a2.9,2.9 0 1,0 5.8,0a2.9,2.9 0 1,0 -5.8,0M993.4,1786.1a2.9,2.9 0 1,0 5.8,0a2.9,2.9 0 1,0 -5.8,0M997.5,1786.3a2.9,2.9 0 1,0 5.8,0a2.9,2.9 0 1,0 -5.8,0M1002.5,1786.7a2.9,2.9 0 1,0 5.8,0a2.9,2.9 0 1,0 -5.8,0M1006.1,1786.7a2.9,2.9 0 1,0 5.8,0a2.9,2.9 0 1,0 -5.8,0M1010.5,1786.5a2.9,2.9 0 1,0 5.8,0a2.9,2.9 0 1,0 -5.8,0M1016.0,1786.0a2.9,2.9 0 1,0 5.8,0a2.9,2.9 0 1,0 -5.8,0M1021.2,1786.3a2.9,2.9 0 1,0 5.8,0a2.9,2.9 0 1,0 -5.8,0M1024.9,1786.9a2.9,2.9 0 1,0 5.8,0a2.9,2.9 0 1,0 -5.8,0M1030.3,1786.6a2.9,2.9 0 1,0 5.8,0a2.9,2.9 0 1,0 -5.8,0M1034.1,1786.3a2.9,2.9 0 1,0 5.8,0a2.9,2.9 0 1,0 -5.8,0M1038.8,1787.1a2.9,2.9 0 1,0 5.8,0a2.9,2.9 0 1,0 -5.8,0M1043.1,1786.3a2.9,2.9 0 1,0 5.8,0a2.9,2.9 0 1,0 -5.8,0M1048.1,1786.4a2.9,2.9 0 1,0 5.8,0a2.9,2.9 0 1,0 -5.8,0M1052.3,1787.5a2.9,2.9 0 1,0 5.8,0a2.9,2.9 0 1,0 -5.8,0M1057.7,1786.9a2.9,2.9 0 1,0 5.8,0a2.9,2.9 0 1,0 -5.8,0M1061.7,1786.2a2.9,2.9 0 1,0 5.8,0a2.9,2.9 0 1,0 -5.8,0M1066.0,1786.2a2.9,2.9 0 1,0 5.8,0a2.9,2.9 0 1,0 -5.8,0M1071.0,1787.3a2.9,2.9 0 1,0 5.8,0a2.9,2.9 0 1,0 -5.8,0M1074.8,1788.2a2.9,2.9 0 1,0 5.8,0a2.9,2.9 0 1,0 -5.8,0M1079.8,1788.1a2.9,2.9 0 1,0 5.8,0a2.9,2.9 0 1,0 -5.8,0M1085.2,1788.5a2.9,2.9 0 1,0 5.8,0a2.9,2.9 0 1,0 -5.8,0M1088.8,1787.2a2.9,2.9 0 1,0 5.8,0a2.9,2.9 0 1,0 -5.8,0M1094.5,1786.3a2.9,2.9 0 1,0 5.8,0a2.9,2.9 0 1,0 -5.8,0M1097.7,1787.7a2.9,2.9 0 1,0 5.8,0a2.9,2.9 0 1,0 -5.8,0M1103.0,1788.6a2.9,2.9 0 1,0 5.8,0a2.9,2.9 0 1,0 -5.8,0M1108.0,1787.8a2.9,2.9 0 1,0 5.8,0a2.9,2.9 0 1,0 -5.8,0M1113.0,1787.8a2.9,2.9 0 1,0 5.8,0a2.9,2.9 0 1,0 -5.8,0M1116.8,1788.3a2.9,2.9 0 1,0 5.8,0a2.9,2.9 0 1,0 -5.8,0M1121.1,1787.6a2.9,2.9 0 1,0 5.8,0a2.9,2.9 0 1,0 -5.8,0M1126.1,1787.6a2.9,2.9 0 1,0 5.8,0a2.9,2.9 0 1,0 -5.8,0M1131.2,1788.5a2.9,2.9 0 1,0 5.8,0a2.9,2.9 0 1,0 -5.8,0M1135.1,1787.1a2.9,2.9 0 1,0 5.8,0a2.9,2.9 0 1,0 -5.8,0M1139.5,1787.9a2.9,2.9 0 1,0 5.8,0a2.9,2.9 0 1,0 -5.8,0M1144.3,1788.4a2.9,2.9 0 1,0 5.8,0a2.9,2.9 0 1,0 -5.8,0M1149.4,1789.4a2.9,2.9 0 1,0 5.8,0a2.9,2.9 0 1,0 -5.8,0M1153.4,1788.2a2.9,2.9 0 1,0 5.8,0a2.9,2.9 0 1,0 -5.8,0" fill="#fff" fill-opacity="0.5" stroke="#62bcf8" stroke-width="1.3"/>
<path d="M696.9,1031.5V1138.9" stroke="#000" stroke-width="4.0" stroke-dasharray="12.5 6.5"/>
<path d="M589.5,1135.8V1240.0" stroke="#000" stroke-width="4.0" stroke-dasharray="12.5 6.5"/>
<path d="M700.0,1417.0V1519.7" stroke="#000" stroke-width="4.0" stroke-dasharray="12.5 6.5"/>
<path d="M592.5,1504.3V1608.6" stroke="#000" stroke-width="4.0" stroke-dasharray="12.5 6.5"/>
<text transform="translate(140.0,1068.0) scale(1,1.080)" x="0.0" y="0" font-size="61.8" fill="#000"><tspan>(c)</tspan></text>
<text transform="translate(1034.4,1068.3)" x="0.0" y="0" font-size="48.6" fill="#000"><tspan>Br 3d</tspan></text>
<text transform="translate(715.3,1064.0)" x="0.0" y="0" font-size="44.2" fill="#0a22cc"><tspan>Br 3d</tspan><tspan dy="10.6" font-size="27.4">5/2</tspan></text>
<text transform="translate(730.6,1148.0)" x="0.0" y="0" font-size="42.7" fill="#0a22cc"><tspan>68.50 eV</tspan></text>
<text transform="translate(423.8,1111.0)" x="0.0" y="0" font-size="43.2" fill="#ff0000"><tspan>Br 3d</tspan><tspan dy="10.4" font-size="26.8">3/2</tspan></text>
<text transform="translate(414.6,1205.0)" x="0.0" y="0" font-size="41.0" fill="#ff0000"><tspan>69.55 eV</tspan></text>
<text transform="translate(144.5,1375.0)" x="0.0" y="0" font-size="43.9" fill="#000"><tspan font-style="italic">g</tspan><tspan>-C</tspan><tspan dy="10.5" font-size="27.2">3</tspan><tspan dy="-10.5">N</tspan><tspan dy="10.5" font-size="27.2">4</tspan><tspan dy="-10.5">/BiOBr</tspan></text>
<text transform="translate(448.3,1476.7)" x="0.0" y="0" font-size="44.2" fill="#ff0000"><tspan>Br 3d</tspan><tspan dy="10.6" font-size="27.4">3/2</tspan></text>
<text transform="translate(399.2,1558.3)" x="0.0" y="0" font-size="42.7" fill="#ff0000"><tspan>69.53 eV</tspan></text>
<text transform="translate(733.7,1466.3)" x="0.0" y="0" font-size="43.2" fill="#0a22cc"><tspan>Br 3d</tspan><tspan dy="10.4" font-size="26.8">5/2</tspan></text>
<text transform="translate(742.9,1528.8)" x="0.0" y="0" font-size="41.8" fill="#0a22cc"><tspan>68.46 eV</tspan></text>
<text transform="translate(144.5,1767.0)" x="0.0" y="0" font-size="47.2" fill="#000"><tspan>BiOBr</tspan></text>
<path d="M1750.4,1417.9 L1750.4,1415.1 L1752.4,1415.1 L1754.4,1415.0 L1756.4,1415.0 L1758.4,1414.9 L1760.4,1414.9 L1762.4,1414.8 L1764.4,1414.8 L1766.4,1414.7 L1768.4,1414.7 L1770.4,1414.6 L1772.4,1414.6 L1774.4,1414.5 L1776.4,1414.4 L1778.3,1414.4 L1780.3,1414.3 L1782.3,1414.2 L1784.3,1414.1 L1786.3,1414.1 L1788.3,1414.0 L1790.3,1413.9 L1792.3,1413.8 L1794.3,1413.7 L1796.3,1413.7 L1798.3,1413.6 L1800.3,1413.5 L1802.3,1413.4 L1804.3,1413.3 L1806.3,1413.1 L1808.3,1413.0 L1810.3,1412.9 L1812.3,1412.8 L1814.3,1412.7 L1816.3,1412.5 L1818.3,1412.4 L1820.3,1412.3 L1822.3,1412.1 L1824.3,1412.0 L1826.3,1411.8 L1828.3,1411.6 L1830.3,1411.5 L1832.2,1411.3 L1834.2,1411.1 L1836.2,1410.9 L1838.2,1410.7 L1840.2,1410.5 L1842.2,1410.2 L1844.2,1410.0 L1846.2,1409.7 L1848.2,1409.5 L1850.2,1409.2 L1852.2,1408.9 L1854.2,1408.6 L1856.2,1408.2 L1858.2,1407.9 L1860.2,1407.5 L1862.2,1407.1 L1864.2,1406.6 L1866.2,1406.1 L1868.2,1405.6 L1870.2,1405.0 L1872.2,1404.3 L1874.2,1403.6 L1876.2,1402.8 L1878.2,1401.9 L1880.2,1400.9 L1882.2,1399.8 L1884.2,1398.6 L1886.2,1397.2 L1888.1,1395.6 L1890.1,1393.8 L1892.1,1391.9 L1894.1,1389.6 L1896.1,1387.1 L1898.1,1384.3 L1900.1,1381.1 L1902.1,1377.6 L1904.1,1373.7 L1906.1,1369.3 L1908.1,1364.5 L1910.1,1359.1 L1912.1,1353.3 L1914.1,1346.9 L1916.1,1339.9 L1918.1,1332.3 L1920.1,1324.1 L1922.1,1315.3 L1924.1,1305.9 L1926.1,1295.9 L1928.1,1285.3 L1930.1,1274.2 L1932.1,1262.5 L1934.1,1250.4 L1936.1,1237.9 L1938.1,1225.0 L1940.1,1211.9 L1942.0,1198.7 L1944.0,1185.5 L1946.0,1172.4 L1948.0,1159.5 L1950.0,1147.1 L1952.0,1135.2 L1954.0,1124.1 L1956.0,1114.0 L1958.0,1105.0 L1960.0,1097.4 L1962.0,1091.3 L1964.0,1086.8 L1966.0,1084.0 L1968.0,1083.1 L1970.0,1084.0 L1972.0,1086.8 L1974.0,1091.3 L1976.0,1097.5 L1978.0,1105.1 L1980.0,1114.1 L1982.0,1124.2 L1984.0,1135.3 L1986.0,1147.2 L1988.0,1159.7 L1990.0,1172.5 L1992.0,1185.7 L1994.0,1198.9 L1995.9,1212.1 L1997.9,1225.2 L1999.9,1238.1 L2001.9,1250.6 L2003.9,1262.8 L2005.9,1274.4 L2007.9,1285.6 L2009.9,1296.2 L2011.9,1306.2 L2013.9,1315.6 L2015.9,1324.5 L2017.9,1332.7 L2019.9,1340.2 L2021.9,1347.3 L2023.9,1353.7 L2025.9,1359.5 L2027.9,1364.9 L2029.9,1369.7 L2031.9,1374.1 L2033.9,1378.1 L2035.9,1381.6 L2037.9,1384.8 L2039.9,1387.6 L2041.9,1390.1 L2043.9,1392.4 L2045.9,1394.4 L2047.9,1396.2 L2049.8,1397.8 L2051.8,1399.2 L2053.8,1400.5 L2055.8,1401.6 L2057.8,1402.6 L2059.8,1403.5 L2061.8,1404.3 L2063.8,1405.0 L2065.8,1405.7 L2067.8,1406.3 L2069.8,1406.8 L2071.8,1407.4 L2073.8,1407.8 L2075.8,1408.3 L2077.8,1408.7 L2079.8,1409.0 L2081.8,1409.4 L2083.8,1409.7 L2085.8,1410.0 L2087.8,1410.3 L2089.8,1410.6 L2091.8,1410.9 L2093.8,1411.1 L2095.8,1411.4 L2097.8,1411.6 L2099.8,1411.8 L2101.8,1412.0 L2103.8,1412.3 L2105.7,1412.4 L2107.7,1412.6 L2109.7,1412.8 L2111.7,1413.0 L2113.7,1413.2 L2115.7,1413.3 L2117.7,1413.5 L2119.7,1413.6 L2121.7,1413.8 L2123.7,1413.9 L2125.7,1414.0 L2127.7,1414.2 L2129.7,1414.3 L2131.7,1414.4 L2133.7,1414.5 L2135.7,1414.7 L2137.7,1414.8 L2139.7,1414.9 L2141.7,1415.0 L2143.7,1415.1 L2145.7,1415.2 L2147.7,1415.3 L2149.7,1415.4 L2151.7,1415.5 L2153.7,1415.6 L2155.7,1415.6 L2157.7,1415.7 L2159.6,1415.8 L2161.6,1415.9 L2163.6,1416.0 L2165.6,1416.0 L2167.6,1416.1 L2169.6,1416.2 L2171.6,1416.2 L2173.6,1416.3 L2175.6,1416.4 L2177.6,1416.4 L2179.6,1416.5 L2181.6,1416.6 L2183.6,1416.6 L2185.6,1416.7 L2185.6,1419.5Z" fill="url(#g9)" fill-opacity="0.95"/>
<path d="M1301.1,1416.3 L1301.1,1416.1 L1303.1,1416.1 L1305.1,1416.1 L1307.1,1416.1 L1309.1,1416.1 L1311.1,1416.1 L1313.1,1416.2 L1315.1,1416.2 L1317.1,1416.2 L1319.1,1416.2 L1321.1,1416.2 L1323.1,1416.2 L1325.1,1416.2 L1327.1,1416.2 L1329.1,1416.2 L1331.0,1416.2 L1333.0,1416.2 L1335.0,1416.2 L1337.0,1416.2 L1339.0,1416.2 L1341.0,1416.2 L1343.0,1416.2 L1345.0,1416.2 L1347.0,1416.2 L1349.0,1416.3 L1351.0,1416.3 L1353.0,1416.3 L1355.0,1416.3 L1357.0,1416.3 L1359.0,1416.3 L1361.0,1416.3 L1363.0,1416.3 L1365.0,1416.3 L1367.0,1416.3 L1369.0,1416.3 L1371.0,1416.3 L1373.0,1416.3 L1375.0,1416.3 L1377.0,1416.3 L1379.0,1416.3 L1381.0,1416.3 L1383.0,1416.3 L1385.0,1416.4 L1386.9,1416.4 L1388.9,1416.4 L1390.9,1416.4 L1392.9,1416.4 L1394.9,1416.4 L1396.9,1416.4 L1398.9,1416.4 L1400.9,1416.4 L1402.9,1416.4 L1404.9,1416.4 L1406.9,1416.4 L1408.9,1416.4 L1410.9,1416.4 L1412.9,1416.4 L1414.9,1416.4 L1416.9,1416.4 L1418.9,1416.4 L1420.9,1416.4 L1422.9,1416.4 L1424.9,1416.4 L1426.9,1416.5 L1428.9,1416.5 L1430.9,1416.5 L1432.9,1416.5 L1434.9,1416.5 L1436.9,1416.5 L1438.9,1416.5 L1440.9,1416.5 L1442.9,1416.5 L1444.8,1416.5 L1446.8,1416.5 L1448.8,1416.5 L1450.8,1416.5 L1452.8,1416.5 L1454.8,1416.5 L1456.8,1416.5 L1458.8,1416.5 L1460.8,1416.5 L1462.8,1416.5 L1464.8,1416.5 L1466.8,1416.5 L1468.8,1416.5 L1470.8,1416.5 L1472.8,1416.5 L1474.8,1416.5 L1476.8,1416.5 L1478.8,1416.5 L1480.8,1416.6 L1482.8,1416.6 L1484.8,1416.6 L1486.8,1416.6 L1488.8,1416.6 L1490.8,1416.6 L1492.8,1416.6 L1494.8,1416.6 L1496.8,1416.6 L1498.8,1416.6 L1500.7,1416.6 L1502.7,1416.6 L1504.7,1416.6 L1506.7,1416.6 L1508.7,1416.6 L1510.7,1416.6 L1512.7,1416.6 L1514.7,1416.6 L1516.7,1416.6 L1518.7,1416.6 L1520.7,1416.6 L1522.7,1416.6 L1524.7,1416.6 L1526.7,1416.6 L1528.7,1416.6 L1530.7,1416.6 L1532.7,1416.6 L1534.7,1416.6 L1536.7,1416.6 L1538.7,1416.6 L1540.7,1416.6 L1542.7,1416.6 L1544.7,1416.6 L1546.7,1416.6 L1548.7,1416.6 L1550.7,1416.6 L1552.7,1416.6 L1554.7,1416.6 L1556.7,1416.6 L1558.6,1416.6 L1560.6,1416.6 L1562.6,1416.6 L1564.6,1416.6 L1566.6,1416.6 L1568.6,1416.6 L1570.6,1416.6 L1572.6,1416.6 L1574.6,1416.6 L1576.6,1416.6 L1578.6,1416.6 L1580.6,1416.6 L1582.6,1416.6 L1584.6,1416.6 L1586.6,1416.5 L1588.6,1416.5 L1590.6,1416.5 L1592.6,1416.5 L1594.6,1416.5 L1596.6,1416.5 L1598.6,1416.5 L1600.6,1416.5 L1602.6,1416.5 L1604.6,1416.5 L1606.6,1416.4 L1608.6,1416.4 L1610.6,1416.4 L1612.6,1416.4 L1614.6,1416.4 L1616.5,1416.3 L1618.5,1416.3 L1620.5,1416.3 L1622.5,1416.3 L1624.5,1416.2 L1626.5,1416.2 L1628.5,1416.2 L1630.5,1416.1 L1632.5,1416.1 L1634.5,1416.1 L1636.5,1416.0 L1638.5,1416.0 L1640.5,1415.9 L1642.5,1415.9 L1644.5,1415.8 L1646.5,1415.8 L1648.5,1415.7 L1650.5,1415.7 L1652.5,1415.6 L1654.5,1415.5 L1656.5,1415.4 L1658.5,1415.4 L1660.5,1415.3 L1662.5,1415.2 L1664.5,1415.1 L1666.5,1415.0 L1668.5,1414.9 L1670.5,1414.8 L1672.4,1414.6 L1674.4,1414.5 L1676.4,1414.4 L1678.4,1414.2 L1680.4,1414.1 L1682.4,1413.9 L1684.4,1413.8 L1686.4,1413.6 L1688.4,1413.4 L1690.4,1413.3 L1692.4,1413.1 L1694.4,1412.9 L1696.4,1412.6 L1698.4,1412.4 L1700.4,1412.2 L1702.4,1411.9 L1704.4,1411.7 L1706.4,1411.4 L1708.4,1411.2 L1710.4,1410.9 L1712.4,1410.6 L1714.4,1410.3 L1716.4,1410.0 L1718.4,1409.6 L1720.4,1409.3 L1722.4,1408.9 L1724.4,1408.6 L1726.4,1408.2 L1728.4,1407.8 L1730.3,1407.4 L1732.3,1407.0 L1734.3,1406.6 L1736.3,1406.1 L1738.3,1405.7 L1740.3,1405.2 L1742.3,1404.8 L1744.3,1404.3 L1746.3,1403.8 L1748.3,1403.3 L1750.3,1402.8 L1752.3,1402.3 L1754.3,1401.7 L1756.3,1401.2 L1758.3,1400.6 L1760.3,1400.1 L1762.3,1399.5 L1764.3,1398.9 L1766.3,1398.3 L1768.3,1397.8 L1770.3,1397.2 L1772.3,1396.6 L1774.3,1396.0 L1776.3,1395.4 L1778.3,1394.7 L1780.3,1394.1 L1782.3,1393.5 L1784.3,1392.9 L1786.2,1392.3 L1788.2,1391.7 L1790.2,1391.1 L1792.2,1390.5 L1794.2,1389.9 L1796.2,1389.3 L1798.2,1388.7 L1800.2,1388.1 L1802.2,1387.5 L1804.2,1387.0 L1806.2,1386.4 L1808.2,1385.9 L1810.2,1385.4 L1812.2,1384.9 L1814.2,1384.4 L1816.2,1383.9 L1818.2,1383.4 L1820.2,1383.0 L1822.2,1382.6 L1824.2,1382.2 L1826.2,1381.8 L1828.2,1381.5 L1830.2,1381.1 L1832.2,1380.9 L1834.2,1380.6 L1836.2,1380.3 L1838.2,1380.1 L1840.2,1379.9 L1842.2,1379.8 L1844.1,1379.7 L1846.1,1379.6 L1848.1,1379.5 L1850.1,1379.5 L1852.1,1379.5 L1854.1,1379.5 L1856.1,1379.6 L1858.1,1379.7 L1860.1,1379.8 L1862.1,1380.0 L1864.1,1380.1 L1866.1,1380.4 L1868.1,1380.6 L1870.1,1380.9 L1872.1,1381.2 L1874.1,1381.5 L1876.1,1381.9 L1878.1,1382.2 L1880.1,1382.6 L1882.1,1383.1 L1884.1,1383.5 L1886.1,1384.0 L1888.1,1384.5 L1890.1,1385.0 L1892.1,1385.5 L1894.1,1386.0 L1896.1,1386.6 L1898.1,1387.1 L1900.0,1387.7 L1902.0,1388.3 L1904.0,1388.9 L1906.0,1389.5 L1908.0,1390.1 L1910.0,1390.7 L1912.0,1391.3 L1914.0,1391.9 L1916.0,1392.5 L1918.0,1393.2 L1920.0,1393.8 L1922.0,1394.4 L1924.0,1395.0 L1926.0,1395.7 L1928.0,1396.3 L1930.0,1396.9 L1932.0,1397.5 L1934.0,1398.1 L1936.0,1398.7 L1938.0,1399.3 L1940.0,1399.9 L1942.0,1400.5 L1944.0,1401.1 L1946.0,1401.7 L1948.0,1402.2 L1950.0,1402.8 L1952.0,1403.3 L1954.0,1403.8 L1956.0,1404.4 L1957.9,1404.9 L1959.9,1405.4 L1961.9,1405.9 L1963.9,1406.3 L1965.9,1406.8 L1967.9,1407.2 L1969.9,1407.7 L1971.9,1408.1 L1973.9,1408.5 L1975.9,1408.9 L1977.9,1409.3 L1979.9,1409.7 L1981.9,1410.1 L1983.9,1410.5 L1985.9,1410.8 L1987.9,1411.1 L1989.9,1411.5 L1991.9,1411.8 L1993.9,1412.1 L1995.9,1412.4 L1997.9,1412.6 L1999.9,1412.9 L2001.9,1413.2 L2003.9,1413.4 L2005.9,1413.7 L2007.9,1413.9 L2009.9,1414.1 L2011.9,1414.3 L2013.8,1414.5 L2015.8,1414.7 L2017.8,1414.9 L2019.8,1415.1 L2021.8,1415.3 L2023.8,1415.4 L2025.8,1415.6 L2027.8,1415.7 L2029.8,1415.9 L2031.8,1416.0 L2033.8,1416.1 L2035.8,1416.3 L2037.8,1416.4 L2039.8,1416.5 L2041.8,1416.6 L2043.8,1416.7 L2045.8,1416.8 L2047.8,1416.9 L2049.8,1417.0 L2051.8,1417.1 L2053.8,1417.1 L2055.8,1417.2 L2057.8,1417.3 L2059.8,1417.4 L2061.8,1417.4 L2063.8,1417.5 L2065.8,1417.6 L2067.8,1417.6 L2069.8,1417.7 L2071.7,1417.7 L2073.7,1417.8 L2075.7,1417.8 L2077.7,1417.9 L2079.7,1417.9 L2081.7,1417.9 L2083.7,1418.0 L2085.7,1418.0 L2087.7,1418.1 L2089.7,1418.1 L2091.7,1418.1 L2093.7,1418.2 L2095.7,1418.2 L2097.7,1418.2 L2099.7,1418.2 L2101.7,1418.3 L2103.7,1418.3 L2105.7,1418.3 L2107.7,1418.3 L2109.7,1418.4 L2111.7,1418.4 L2113.7,1418.4 L2115.7,1418.4 L2117.7,1418.5 L2119.7,1418.5 L2121.7,1418.5 L2123.7,1418.5 L2125.7,1418.5 L2127.7,1418.6 L2129.6,1418.6 L2131.6,1418.6 L2133.6,1418.6 L2135.6,1418.6 L2137.6,1418.7 L2139.6,1418.7 L2141.6,1418.7 L2143.6,1418.7 L2145.6,1418.7 L2147.6,1418.7 L2149.6,1418.7 L2151.6,1418.8 L2153.6,1418.8 L2155.6,1418.8 L2157.6,1418.8 L2159.6,1418.8 L2161.6,1418.8 L2163.6,1418.9 L2165.6,1418.9 L2167.6,1418.9 L2169.6,1418.9 L2171.6,1418.9 L2173.6,1418.9 L2175.6,1418.9 L2177.6,1418.9 L2179.6,1419.0 L2181.6,1419.0 L2183.6,1419.0 L2185.5,1419.0 L2187.5,1419.0 L2189.5,1419.0 L2191.5,1419.0 L2193.5,1419.0 L2195.5,1419.1 L2197.5,1419.1 L2199.5,1419.1 L2201.5,1419.1 L2203.5,1419.1 L2205.5,1419.1 L2207.5,1419.1 L2209.5,1419.1 L2211.5,1419.2 L2213.5,1419.2 L2215.5,1419.2 L2217.5,1419.2 L2219.5,1419.2 L2221.5,1419.2 L2223.5,1419.2 L2225.5,1419.2 L2227.5,1419.2 L2229.5,1419.3 L2231.5,1419.3 L2233.5,1419.3 L2235.5,1419.3 L2237.5,1419.3 L2239.5,1419.3 L2241.5,1419.3 L2243.4,1419.3 L2245.4,1419.3 L2247.4,1419.4 L2249.4,1419.4 L2251.4,1419.4 L2253.4,1419.4 L2255.4,1419.4 L2257.4,1419.4 L2259.4,1419.4 L2261.4,1419.4 L2263.4,1419.4 L2265.4,1419.4 L2267.4,1419.5 L2269.4,1419.5 L2271.4,1419.5 L2273.4,1419.5 L2275.4,1419.5 L2277.4,1419.5 L2279.4,1419.5 L2281.4,1419.5 L2283.4,1419.5 L2285.4,1419.5 L2287.4,1419.6 L2289.4,1419.6 L2291.4,1419.6 L2293.4,1419.6 L2295.4,1419.6 L2297.4,1419.6 L2299.3,1419.6 L2301.3,1419.6 L2303.3,1419.6 L2305.3,1419.6 L2307.3,1419.7 L2309.3,1419.7 L2311.3,1419.7 L2313.3,1419.7 L2315.3,1419.7 L2317.3,1419.7 L2319.3,1419.7 L2321.3,1419.7 L2323.3,1419.7 L2325.3,1419.7 L2327.3,1419.7 L2327.3,1420.0Z" fill="url(#g10)" fill-opacity="0.88"/>
<path d="M1300.6,1417.3 L2327.3,1421.0" stroke="#3ea6f2" stroke-width="2.5"/>
<path d="M1300.6,1412.8 L1302.6,1412.8 L1304.6,1412.8 L1306.6,1412.8 L1308.6,1412.8 L1310.6,1412.8 L1312.6,1412.8 L1314.6,1412.8 L1316.6,1412.8 L1318.6,1412.8 L1320.6,1412.8 L1322.6,1412.8 L1324.6,1412.8 L1326.6,1412.8 L1328.6,1412.9 L1330.6,1412.9 L1332.6,1412.9 L1334.6,1412.9 L1336.6,1412.9 L1338.6,1412.9 L1340.6,1412.9 L1342.6,1412.9 L1344.6,1412.9 L1346.6,1412.9 L1348.6,1412.9 L1350.6,1412.9 L1352.6,1412.9 L1354.6,1412.9 L1356.6,1412.9 L1358.6,1412.9 L1360.6,1412.9 L1362.6,1412.9 L1364.6,1412.9 L1366.6,1412.9 L1368.6,1412.9 L1370.6,1412.9 L1372.6,1412.9 L1374.7,1412.9 L1376.7,1412.9 L1378.7,1412.9 L1380.7,1412.9 L1382.7,1412.9 L1384.7,1412.9 L1386.7,1412.9 L1388.7,1412.9 L1390.7,1412.9 L1392.7,1412.9 L1394.7,1412.9 L1396.7,1412.9 L1398.7,1412.9 L1400.7,1412.9 L1402.7,1412.9 L1404.7,1413.0 L1406.7,1413.0 L1408.7,1413.0 L1410.7,1413.0 L1412.7,1413.0 L1414.7,1413.0 L1416.7,1413.0 L1418.7,1413.0 L1420.7,1413.0 L1422.7,1413.0 L1424.7,1413.0 L1426.7,1413.0 L1428.7,1413.0 L1430.7,1413.0 L1432.7,1413.0 L1434.7,1413.0 L1436.7,1413.0 L1438.7,1413.0 L1440.7,1413.0 L1442.7,1413.0 L1444.7,1413.0 L1446.7,1413.0 L1448.7,1413.0 L1450.7,1413.0 L1452.7,1413.0 L1454.7,1413.0 L1456.7,1413.0 L1458.7,1413.0 L1460.7,1413.0 L1462.7,1413.0 L1464.7,1413.0 L1466.7,1413.0 L1468.7,1413.0 L1470.7,1413.0 L1472.7,1413.0 L1474.7,1413.0 L1476.7,1413.0 L1478.7,1413.0 L1480.7,1413.0 L1482.7,1413.0 L1484.7,1413.0 L1486.7,1412.9 L1488.7,1412.9 L1490.7,1412.9 L1492.7,1412.9 L1494.7,1412.9 L1496.7,1412.9 L1498.7,1412.9 L1500.7,1412.9 L1502.7,1412.9 L1504.7,1412.9 L1506.7,1412.9 L1508.7,1412.9 L1510.7,1412.9 L1512.7,1412.9 L1514.7,1412.9 L1516.7,1412.9 L1518.7,1412.9 L1520.8,1412.9 L1522.8,1412.9 L1524.8,1412.9 L1526.8,1412.9 L1528.8,1412.9 L1530.8,1412.9 L1532.8,1412.9 L1534.8,1412.8 L1536.8,1412.8 L1538.8,1412.8 L1540.8,1412.8 L1542.8,1412.8 L1544.8,1412.8 L1546.8,1412.8 L1548.8,1412.8 L1550.8,1412.8 L1552.8,1412.8 L1554.8,1412.8 L1556.8,1412.8 L1558.8,1412.8 L1560.8,1412.7 L1562.8,1412.7 L1564.8,1412.7 L1566.8,1412.7 L1568.8,1412.7 L1570.8,1412.7 L1572.8,1412.7 L1574.8,1412.7 L1576.8,1412.6 L1578.8,1412.6 L1580.8,1412.6 L1582.8,1412.6 L1584.8,1412.6 L1586.8,1412.6 L1588.8,1412.5 L1590.8,1412.5 L1592.8,1412.5 L1594.8,1412.5 L1596.8,1412.5 L1598.8,1412.4 L1600.8,1412.4 L1602.8,1412.4 L1604.8,1412.4 L1606.8,1412.3 L1608.8,1412.3 L1610.8,1412.3 L1612.8,1412.3 L1614.8,1412.2 L1616.8,1412.2 L1618.8,1412.2 L1620.8,1412.1 L1622.8,1412.1 L1624.8,1412.0 L1626.8,1412.0 L1628.8,1411.9 L1630.8,1411.9 L1632.8,1411.8 L1634.8,1411.8 L1636.8,1411.7 L1638.8,1411.7 L1640.8,1411.6 L1642.8,1411.5 L1644.8,1411.5 L1646.8,1411.4 L1648.8,1411.3 L1650.8,1411.2 L1652.8,1411.1 L1654.8,1411.0 L1656.8,1411.0 L1658.8,1410.9 L1660.8,1410.7 L1662.8,1410.6 L1664.8,1410.5 L1666.8,1410.4 L1668.9,1410.3 L1670.9,1410.1 L1672.9,1410.0 L1674.9,1409.8 L1676.9,1409.7 L1678.9,1409.5 L1680.9,1409.3 L1682.9,1409.2 L1684.9,1409.0 L1686.9,1408.8 L1688.9,1408.6 L1690.9,1408.4 L1692.9,1408.1 L1694.9,1407.9 L1696.9,1407.7 L1698.9,1407.4 L1700.9,1407.1 L1702.9,1406.9 L1704.9,1406.6 L1706.9,1406.3 L1708.9,1406.0 L1710.9,1405.6 L1712.9,1405.3 L1714.9,1405.0 L1716.9,1404.6 L1718.9,1404.2 L1720.9,1403.9 L1722.9,1403.5 L1724.9,1403.1 L1726.9,1402.6 L1728.9,1402.2 L1730.9,1401.8 L1732.9,1401.3 L1734.9,1400.8 L1736.9,1400.3 L1738.9,1399.8 L1740.9,1399.3 L1742.9,1398.8 L1744.9,1398.3 L1746.9,1397.7 L1748.9,1397.2 L1750.9,1396.6 L1752.9,1396.0 L1754.9,1395.4 L1756.9,1394.8 L1758.9,1394.2 L1760.9,1393.6 L1762.9,1392.9 L1764.9,1392.3 L1766.9,1391.6 L1768.9,1391.0 L1770.9,1390.3 L1772.9,1389.6 L1774.9,1388.9 L1776.9,1388.2 L1778.9,1387.5 L1780.9,1386.8 L1782.9,1386.1 L1784.9,1385.4 L1786.9,1384.7 L1788.9,1384.0 L1790.9,1383.3 L1792.9,1382.6 L1794.9,1381.9 L1796.9,1381.2 L1798.9,1380.5 L1800.9,1379.8 L1802.9,1379.1 L1804.9,1378.4 L1806.9,1377.7 L1808.9,1377.0 L1810.9,1376.4 L1812.9,1375.7 L1815.0,1375.1 L1817.0,1374.4 L1819.0,1373.8 L1821.0,1373.2 L1823.0,1372.6 L1825.0,1372.0 L1827.0,1371.4 L1829.0,1370.8 L1831.0,1370.3 L1833.0,1369.7 L1835.0,1369.2 L1837.0,1368.7 L1839.0,1368.2 L1841.0,1367.7 L1843.0,1367.2 L1845.0,1366.7 L1847.0,1366.2 L1849.0,1365.7 L1851.0,1365.2 L1853.0,1364.7 L1855.0,1364.2 L1857.0,1363.7 L1859.0,1363.2 L1861.0,1362.6 L1863.0,1362.0 L1865.0,1361.4 L1867.0,1360.8 L1869.0,1360.1 L1871.0,1359.3 L1873.0,1358.5 L1875.0,1357.6 L1877.0,1356.6 L1879.0,1355.6 L1881.0,1354.4 L1883.0,1353.2 L1885.0,1351.8 L1887.0,1350.2 L1889.0,1348.6 L1891.0,1346.7 L1893.0,1344.7 L1895.0,1342.4 L1897.0,1340.0 L1899.0,1337.3 L1901.0,1334.3 L1903.0,1331.0 L1905.0,1327.4 L1907.0,1323.5 L1909.0,1319.2 L1911.0,1314.4 L1913.0,1309.2 L1915.0,1303.5 L1917.0,1297.2 L1919.0,1290.4 L1921.0,1283.1 L1923.0,1275.1 L1925.0,1266.5 L1927.0,1257.3 L1929.0,1247.6 L1931.0,1237.3 L1933.0,1226.5 L1935.0,1215.2 L1937.0,1203.6 L1939.0,1191.6 L1941.0,1179.4 L1943.0,1167.1 L1945.0,1154.8 L1947.0,1142.7 L1949.0,1130.8 L1951.0,1119.4 L1953.0,1108.7 L1955.0,1098.8 L1957.0,1090.0 L1959.0,1082.3 L1961.1,1076.1 L1963.1,1071.4 L1965.1,1068.4 L1967.1,1067.2 L1969.1,1067.8 L1971.1,1070.3 L1973.1,1074.5 L1975.1,1080.4 L1977.1,1087.8 L1979.1,1096.7 L1981.1,1106.8 L1983.1,1117.9 L1985.1,1129.9 L1987.1,1142.5 L1989.1,1155.6 L1991.1,1169.0 L1993.1,1182.6 L1995.1,1196.2 L1997.1,1209.7 L1999.1,1223.0 L2001.1,1236.0 L2003.1,1248.6 L2005.1,1260.8 L2007.1,1272.4 L2009.1,1283.5 L2011.1,1294.1 L2013.1,1304.0 L2015.1,1313.3 L2017.1,1321.9 L2019.1,1330.0 L2021.1,1337.4 L2023.1,1344.3 L2025.1,1350.5 L2027.1,1356.3 L2029.1,1361.5 L2031.1,1366.2 L2033.1,1370.4 L2035.1,1374.3 L2037.1,1377.7 L2039.1,1380.8 L2041.1,1383.6 L2043.1,1386.0 L2045.1,1388.2 L2047.1,1390.2 L2049.1,1391.9 L2051.1,1393.5 L2053.1,1394.9 L2055.1,1396.1 L2057.1,1397.3 L2059.1,1398.3 L2061.1,1399.2 L2063.1,1400.0 L2065.1,1400.7 L2067.1,1401.4 L2069.1,1402.1 L2071.1,1402.6 L2073.1,1403.2 L2075.1,1403.6 L2077.1,1404.1 L2079.1,1404.5 L2081.1,1404.9 L2083.1,1405.3 L2085.1,1405.7 L2087.1,1406.0 L2089.1,1406.3 L2091.1,1406.6 L2093.1,1406.9 L2095.1,1407.2 L2097.1,1407.4 L2099.1,1407.7 L2101.1,1407.9 L2103.1,1408.2 L2105.1,1408.4 L2107.1,1408.6 L2109.2,1408.8 L2111.2,1409.0 L2113.2,1409.2 L2115.2,1409.4 L2117.2,1409.5 L2119.2,1409.7 L2121.2,1409.9 L2123.2,1410.0 L2125.2,1410.2 L2127.2,1410.3 L2129.2,1410.5 L2131.2,1410.6 L2133.2,1410.7 L2135.2,1410.9 L2137.2,1411.0 L2139.2,1411.1 L2141.2,1411.2 L2143.2,1411.3 L2145.2,1411.4 L2147.2,1411.6 L2149.2,1411.7 L2151.2,1411.8 L2153.2,1411.9 L2155.2,1412.0 L2157.2,1412.0 L2159.2,1412.1 L2161.2,1412.2 L2163.2,1412.3 L2165.2,1412.4 L2167.2,1412.5 L2169.2,1412.6 L2171.2,1412.6 L2173.2,1412.7 L2175.2,1412.8 L2177.2,1412.8 L2179.2,1412.9 L2181.2,1413.0 L2183.2,1413.1 L2185.2,1413.1 L2187.2,1413.2 L2189.2,1413.2 L2191.2,1413.3 L2193.2,1413.4 L2195.2,1413.4 L2197.2,1413.5 L2199.2,1413.5 L2201.2,1413.6 L2203.2,1413.6 L2205.2,1413.7 L2207.2,1413.7 L2209.2,1413.8 L2211.2,1413.8 L2213.2,1413.9 L2215.2,1413.9 L2217.2,1414.0 L2219.2,1414.0 L2221.2,1414.1 L2223.2,1414.1 L2225.2,1414.2 L2227.2,1414.2 L2229.2,1414.2 L2231.2,1414.3 L2233.2,1414.3 L2235.2,1414.4 L2237.2,1414.4 L2239.2,1414.4 L2241.2,1414.5 L2243.2,1414.5 L2245.2,1414.6 L2247.2,1414.6 L2249.2,1414.6 L2251.2,1414.7 L2253.2,1414.7 L2255.3,1414.7 L2257.3,1414.8 L2259.3,1414.8 L2261.3,1414.8 L2263.3,1414.9 L2265.3,1414.9 L2267.3,1414.9 L2269.3,1414.9 L2271.3,1415.0 L2273.3,1415.0 L2275.3,1415.0 L2277.3,1415.1 L2279.3,1415.1 L2281.3,1415.1 L2283.3,1415.1 L2285.3,1415.2 L2287.3,1415.2 L2289.3,1415.2 L2291.3,1415.3 L2293.3,1415.3 L2295.3,1415.3 L2297.3,1415.3 L2299.3,1415.4 L2301.3,1415.4 L2303.3,1415.4 L2305.3,1415.4 L2307.3,1415.5 L2309.3,1415.5 L2311.3,1415.5 L2313.3,1415.5 L2315.3,1415.5 L2317.3,1415.6 L2319.3,1415.6 L2321.3,1415.6 L2323.3,1415.6 L2325.3,1415.7 L2327.3,1415.7" fill="none" stroke="#4aaef5" stroke-width="2.2" stroke-linejoin="round"/>
<path d="M1299.9,1414.0a2.9,2.9 0 1,0 5.8,0a2.9,2.9 0 1,0 -5.8,0M1304.0,1412.9a2.9,2.9 0 1,0 5.8,0a2.9,2.9 0 1,0 -5.8,0M1309.4,1412.0a2.9,2.9 0 1,0 5.8,0a2.9,2.9 0 1,0 -5.8,0M1313.2,1414.0a2.9,2.9 0 1,0 5.8,0a2.9,2.9 0 1,0 -5.8,0M1318.6,1412.9a2.9,2.9 0 1,0 5.8,0a2.9,2.9 0 1,0 -5.8,0M1322.0,1413.8a2.9,2.9 0 1,0 5.8,0a2.9,2.9 0 1,0 -5.8,0M1327.5,1413.6a2.9,2.9 0 1,0 5.8,0a2.9,2.9 0 1,0 -5.8,0M1332.6,1413.8a2.9,2.9 0 1,0 5.8,0a2.9,2.9 0 1,0 -5.8,0M1336.3,1412.0a2.9,2.9 0 1,0 5.8,0a2.9,2.9 0 1,0 -5.8,0M1340.6,1412.9a2.9,2.9 0 1,0 5.8,0a2.9,2.9 0 1,0 -5.8,0M1345.6,1412.1a2.9,2.9 0 1,0 5.8,0a2.9,2.9 0 1,0 -5.8,0M1349.6,1413.2a2.9,2.9 0 1,0 5.8,0a2.9,2.9 0 1,0 -5.8,0M1354.9,1412.5a2.9,2.9 0 1,0 5.8,0a2.9,2.9 0 1,0 -5.8,0M1360.1,1413.2a2.9,2.9 0 1,0 5.8,0a2.9,2.9 0 1,0 -5.8,0M1363.2,1412.7a2.9,2.9 0 1,0 5.8,0a2.9,2.9 0 1,0 -5.8,0M1369.0,1412.5a2.9,2.9 0 1,0 5.8,0a2.9,2.9 0 1,0 -5.8,0M1373.4,1411.7a2.9,2.9 0 1,0 5.8,0a2.9,2.9 0 1,0 -5.8,0M1377.4,1413.7a2.9,2.9 0 1,0 5.8,0a2.9,2.9 0 1,0 -5.8,0M1382.4,1413.3a2.9,2.9 0 1,0 5.8,0a2.9,2.9 0 1,0 -5.8,0M1386.4,1412.9a2.9,2.9 0 1,0 5.8,0a2.9,2.9 0 1,0 -5.8,0M1391.5,1412.4a2.9,2.9 0 1,0 5.8,0a2.9,2.9 0 1,0 -5.8,0M1396.2,1413.0a2.9,2.9 0 1,0 5.8,0a2.9,2.9 0 1,0 -5.8,0M1401.4,1413.1a2.9,2.9 0 1,0 5.8,0a2.9,2.9 0 1,0 -5.8,0M1405.0,1412.0a2.9,2.9 0 1,0 5.8,0a2.9,2.9 0 1,0 -5.8,0M1409.2,1413.6a2.9,2.9 0 1,0 5.8,0a2.9,2.9 0 1,0 -5.8,0M1413.7,1412.0a2.9,2.9 0 1,0 5.8,0a2.9,2.9 0 1,0 -5.8,0M1418.4,1413.0a2.9,2.9 0 1,0 5.8,0a2.9,2.9 0 1,0 -5.8,0M1424.0,1413.2a2.9,2.9 0 1,0 5.8,0a2.9,2.9 0 1,0 -5.8,0M1428.6,1411.9a2.9,2.9 0 1,0 5.8,0a2.9,2.9 0 1,0 -5.8,0M1431.9,1413.6a2.9,2.9 0 1,0 5.8,0a2.9,2.9 0 1,0 -5.8,0M1437.0,1413.5a2.9,2.9 0 1,0 5.8,0a2.9,2.9 0 1,0 -5.8,0M1441.6,1412.2a2.9,2.9 0 1,0 5.8,0a2.9,2.9 0 1,0 -5.8,0M1446.1,1412.0a2.9,2.9 0 1,0 5.8,0a2.9,2.9 0 1,0 -5.8,0M1451.7,1413.2a2.9,2.9 0 1,0 5.8,0a2.9,2.9 0 1,0 -5.8,0M1455.4,1412.8a2.9,2.9 0 1,0 5.8,0a2.9,2.9 0 1,0 -5.8,0M1460.0,1411.9a2.9,2.9 0 1,0 5.8,0a2.9,2.9 0 1,0 -5.8,0M1465.4,1413.2a2.9,2.9 0 1,0 5.8,0a2.9,2.9 0 1,0 -5.8,0M1470.1,1412.8a2.9,2.9 0 1,0 5.8,0a2.9,2.9 0 1,0 -5.8,0M1474.2,1412.4a2.9,2.9 0 1,0 5.8,0a2.9,2.9 0 1,0 -5.8,0M1477.8,1414.0a2.9,2.9 0 1,0 5.8,0a2.9,2.9 0 1,0 -5.8,0M1483.7,1412.5a2.9,2.9 0 1,0 5.8,0a2.9,2.9 0 1,0 -5.8,0M1488.4,1413.7a2.9,2.9 0 1,0 5.8,0a2.9,2.9 0 1,0 -5.8,0M1492.0,1413.2a2.9,2.9 0 1,0 5.8,0a2.9,2.9 0 1,0 -5.8,0M1497.6,1412.9a2.9,2.9 0 1,0 5.8,0a2.9,2.9 0 1,0 -5.8,0M1502.2,1412.3a2.9,2.9 0 1,0 5.8,0a2.9,2.9 0 1,0 -5.8,0M1505.9,1413.4a2.9,2.9 0 1,0 5.8,0a2.9,2.9 0 1,0 -5.8,0M1510.2,1412.4a2.9,2.9 0 1,0 5.8,0a2.9,2.9 0 1,0 -5.8,0M1515.8,1412.9a2.9,2.9 0 1,0 5.8,0a2.9,2.9 0 1,0 -5.8,0M1520.3,1412.3a2.9,2.9 0 1,0 5.8,0a2.9,2.9 0 1,0 -5.8,0M1523.9,1412.5a2.9,2.9 0 1,0 5.8,0a2.9,2.9 0 1,0 -5.8,0M1528.5,1414.0a2.9,2.9 0 1,0 5.8,0a2.9,2.9 0 1,0 -5.8,0M1533.3,1413.0a2.9,2.9 0 1,0 5.8,0a2.9,2.9 0 1,0 -5.8,0M1537.6,1412.9a2.9,2.9 0 1,0 5.8,0a2.9,2.9 0 1,0 -5.8,0M1542.6,1412.6a2.9,2.9 0 1,0 5.8,0a2.9,2.9 0 1,0 -5.8,0M1546.7,1411.9a2.9,2.9 0 1,0 5.8,0a2.9,2.9 0 1,0 -5.8,0M1552.5,1412.4a2.9,2.9 0 1,0 5.8,0a2.9,2.9 0 1,0 -5.8,0M1556.1,1412.0a2.9,2.9 0 1,0 5.8,0a2.9,2.9 0 1,0 -5.8,0M1560.8,1412.1a2.9,2.9 0 1,0 5.8,0a2.9,2.9 0 1,0 -5.8,0M1564.9,1413.1a2.9,2.9 0 1,0 5.8,0a2.9,2.9 0 1,0 -5.8,0M1570.0,1411.8a2.9,2.9 0 1,0 5.8,0a2.9,2.9 0 1,0 -5.8,0M1575.2,1411.7a2.9,2.9 0 1,0 5.8,0a2.9,2.9 0 1,0 -5.8,0M1579.1,1413.4a2.9,2.9 0 1,0 5.8,0a2.9,2.9 0 1,0 -5.8,0M1583.4,1412.4a2.9,2.9 0 1,0 5.8,0a2.9,2.9 0 1,0 -5.8,0M1589.2,1413.2a2.9,2.9 0 1,0 5.8,0a2.9,2.9 0 1,0 -5.8,0M1592.7,1412.1a2.9,2.9 0 1,0 5.8,0a2.9,2.9 0 1,0 -5.8,0M1598.2,1412.1a2.9,2.9 0 1,0 5.8,0a2.9,2.9 0 1,0 -5.8,0M1603.1,1411.7a2.9,2.9 0 1,0 5.8,0a2.9,2.9 0 1,0 -5.8,0M1607.7,1412.3a2.9,2.9 0 1,0 5.8,0a2.9,2.9 0 1,0 -5.8,0M1611.1,1412.1a2.9,2.9 0 1,0 5.8,0a2.9,2.9 0 1,0 -5.8,0M1615.6,1412.7a2.9,2.9 0 1,0 5.8,0a2.9,2.9 0 1,0 -5.8,0M1620.3,1413.0a2.9,2.9 0 1,0 5.8,0a2.9,2.9 0 1,0 -5.8,0M1625.5,1411.6a2.9,2.9 0 1,0 5.8,0a2.9,2.9 0 1,0 -5.8,0M1629.5,1412.1a2.9,2.9 0 1,0 5.8,0a2.9,2.9 0 1,0 -5.8,0M1634.0,1412.6a2.9,2.9 0 1,0 5.8,0a2.9,2.9 0 1,0 -5.8,0M1638.5,1411.6a2.9,2.9 0 1,0 5.8,0a2.9,2.9 0 1,0 -5.8,0M1643.7,1410.8a2.9,2.9 0 1,0 5.8,0a2.9,2.9 0 1,0 -5.8,0M1648.7,1410.9a2.9,2.9 0 1,0 5.8,0a2.9,2.9 0 1,0 -5.8,0M1653.1,1411.2a2.9,2.9 0 1,0 5.8,0a2.9,2.9 0 1,0 -5.8,0M1657.1,1410.5a2.9,2.9 0 1,0 5.8,0a2.9,2.9 0 1,0 -5.8,0M1661.3,1409.8a2.9,2.9 0 1,0 5.8,0a2.9,2.9 0 1,0 -5.8,0M1667.1,1409.8a2.9,2.9 0 1,0 5.8,0a2.9,2.9 0 1,0 -5.8,0M1671.4,1408.9a2.9,2.9 0 1,0 5.8,0a2.9,2.9 0 1,0 -5.8,0M1675.9,1409.2a2.9,2.9 0 1,0 5.8,0a2.9,2.9 0 1,0 -5.8,0M1680.3,1408.6a2.9,2.9 0 1,0 5.8,0a2.9,2.9 0 1,0 -5.8,0M1684.2,1408.3a2.9,2.9 0 1,0 5.8,0a2.9,2.9 0 1,0 -5.8,0M1689.1,1407.3a2.9,2.9 0 1,0 5.8,0a2.9,2.9 0 1,0 -5.8,0M1694.5,1407.1a2.9,2.9 0 1,0 5.8,0a2.9,2.9 0 1,0 -5.8,0M1698.5,1408.0a2.9,2.9 0 1,0 5.8,0a2.9,2.9 0 1,0 -5.8,0M1703.7,1407.2a2.9,2.9 0 1,0 5.8,0a2.9,2.9 0 1,0 -5.8,0M1708.4,1404.7a2.9,2.9 0 1,0 5.8,0a2.9,2.9 0 1,0 -5.8,0M1712.1,1403.8a2.9,2.9 0 1,0 5.8,0a2.9,2.9 0 1,0 -5.8,0M1717.3,1404.4a2.9,2.9 0 1,0 5.8,0a2.9,2.9 0 1,0 -5.8,0M1721.4,1403.0a2.9,2.9 0 1,0 5.8,0a2.9,2.9 0 1,0 -5.8,0M1726.5,1402.6a2.9,2.9 0 1,0 5.8,0a2.9,2.9 0 1,0 -5.8,0M1730.4,1402.0a2.9,2.9 0 1,0 5.8,0a2.9,2.9 0 1,0 -5.8,0M1735.1,1400.4a2.9,2.9 0 1,0 5.8,0a2.9,2.9 0 1,0 -5.8,0M1739.5,1398.0a2.9,2.9 0 1,0 5.8,0a2.9,2.9 0 1,0 -5.8,0M1745.2,1397.9a2.9,2.9 0 1,0 5.8,0a2.9,2.9 0 1,0 -5.8,0M1749.5,1395.1a2.9,2.9 0 1,0 5.8,0a2.9,2.9 0 1,0 -5.8,0M1753.0,1394.3a2.9,2.9 0 1,0 5.8,0a2.9,2.9 0 1,0 -5.8,0M1757.8,1393.1a2.9,2.9 0 1,0 5.8,0a2.9,2.9 0 1,0 -5.8,0M1762.7,1390.9a2.9,2.9 0 1,0 5.8,0a2.9,2.9 0 1,0 -5.8,0M1767.2,1390.9a2.9,2.9 0 1,0 5.8,0a2.9,2.9 0 1,0 -5.8,0M1771.6,1389.9a2.9,2.9 0 1,0 5.8,0a2.9,2.9 0 1,0 -5.8,0M1776.8,1387.8a2.9,2.9 0 1,0 5.8,0a2.9,2.9 0 1,0 -5.8,0M1780.8,1385.7a2.9,2.9 0 1,0 5.8,0a2.9,2.9 0 1,0 -5.8,0M1786.1,1383.6a2.9,2.9 0 1,0 5.8,0a2.9,2.9 0 1,0 -5.8,0M1789.6,1383.5a2.9,2.9 0 1,0 5.8,0a2.9,2.9 0 1,0 -5.8,0M1795.4,1380.2a2.9,2.9 0 1,0 5.8,0a2.9,2.9 0 1,0 -5.8,0M1798.9,1380.3a2.9,2.9 0 1,0 5.8,0a2.9,2.9 0 1,0 -5.8,0M1804.3,1376.5a2.9,2.9 0 1,0 5.8,0a2.9,2.9 0 1,0 -5.8,0M1808.3,1375.3a2.9,2.9 0 1,0 5.8,0a2.9,2.9 0 1,0 -5.8,0M1813.8,1373.8a2.9,2.9 0 1,0 5.8,0a2.9,2.9 0 1,0 -5.8,0M1818.6,1373.6a2.9,2.9 0 1,0 5.8,0a2.9,2.9 0 1,0 -5.8,0M1821.9,1372.5a2.9,2.9 0 1,0 5.8,0a2.9,2.9 0 1,0 -5.8,0M1826.9,1371.2a2.9,2.9 0 1,0 5.8,0a2.9,2.9 0 1,0 -5.8,0M1832.2,1368.6a2.9,2.9 0 1,0 5.8,0a2.9,2.9 0 1,0 -5.8,0M1835.6,1369.4a2.9,2.9 0 1,0 5.8,0a2.9,2.9 0 1,0 -5.8,0M1840.7,1368.1a2.9,2.9 0 1,0 5.8,0a2.9,2.9 0 1,0 -5.8,0M1845.8,1366.4a2.9,2.9 0 1,0 5.8,0a2.9,2.9 0 1,0 -5.8,0M1850.6,1364.9a2.9,2.9 0 1,0 5.8,0a2.9,2.9 0 1,0 -5.8,0M1854.5,1362.5a2.9,2.9 0 1,0 5.8,0a2.9,2.9 0 1,0 -5.8,0M1859.5,1362.0a2.9,2.9 0 1,0 5.8,0a2.9,2.9 0 1,0 -5.8,0M1863.8,1361.9a2.9,2.9 0 1,0 5.8,0a2.9,2.9 0 1,0 -5.8,0M1867.8,1360.1a2.9,2.9 0 1,0 5.8,0a2.9,2.9 0 1,0 -5.8,0M1872.2,1358.0a2.9,2.9 0 1,0 5.8,0a2.9,2.9 0 1,0 -5.8,0M1878.0,1353.9a2.9,2.9 0 1,0 5.8,0a2.9,2.9 0 1,0 -5.8,0M1882.2,1352.8a2.9,2.9 0 1,0 5.8,0a2.9,2.9 0 1,0 -5.8,0M1886.9,1347.9a2.9,2.9 0 1,0 5.8,0a2.9,2.9 0 1,0 -5.8,0M1890.9,1342.7a2.9,2.9 0 1,0 5.8,0a2.9,2.9 0 1,0 -5.8,0M1895.7,1337.7a2.9,2.9 0 1,0 5.8,0a2.9,2.9 0 1,0 -5.8,0M1900.0,1330.8a2.9,2.9 0 1,0 5.8,0a2.9,2.9 0 1,0 -5.8,0M1904.5,1323.2a2.9,2.9 0 1,0 5.8,0a2.9,2.9 0 1,0 -5.8,0M1909.9,1309.1a2.9,2.9 0 1,0 5.8,0a2.9,2.9 0 1,0 -5.8,0M1913.8,1298.2a2.9,2.9 0 1,0 5.8,0a2.9,2.9 0 1,0 -5.8,0M1918.7,1281.7a2.9,2.9 0 1,0 5.8,0a2.9,2.9 0 1,0 -5.8,0M1923.2,1261.3a2.9,2.9 0 1,0 5.8,0a2.9,2.9 0 1,0 -5.8,0M1928.6,1233.9a2.9,2.9 0 1,0 5.8,0a2.9,2.9 0 1,0 -5.8,0M1932.7,1211.7a2.9,2.9 0 1,0 5.8,0a2.9,2.9 0 1,0 -5.8,0M1937.7,1182.4a2.9,2.9 0 1,0 5.8,0a2.9,2.9 0 1,0 -5.8,0M1942.2,1153.8a2.9,2.9 0 1,0 5.8,0a2.9,2.9 0 1,0 -5.8,0M1946.6,1128.4a2.9,2.9 0 1,0 5.8,0a2.9,2.9 0 1,0 -5.8,0M1950.9,1105.7a2.9,2.9 0 1,0 5.8,0a2.9,2.9 0 1,0 -5.8,0M1956.0,1081.8a2.9,2.9 0 1,0 5.8,0a2.9,2.9 0 1,0 -5.8,0M1959.8,1071.9a2.9,2.9 0 1,0 5.8,0a2.9,2.9 0 1,0 -5.8,0M1964.2,1066.1a2.9,2.9 0 1,0 5.8,0a2.9,2.9 0 1,0 -5.8,0M1968.9,1070.9a2.9,2.9 0 1,0 5.8,0a2.9,2.9 0 1,0 -5.8,0M1974.2,1087.8a2.9,2.9 0 1,0 5.8,0a2.9,2.9 0 1,0 -5.8,0M1977.8,1104.6a2.9,2.9 0 1,0 5.8,0a2.9,2.9 0 1,0 -5.8,0M1983.0,1134.6a2.9,2.9 0 1,0 5.8,0a2.9,2.9 0 1,0 -5.8,0M1987.1,1160.7a2.9,2.9 0 1,0 5.8,0a2.9,2.9 0 1,0 -5.8,0M1991.4,1192.2a2.9,2.9 0 1,0 5.8,0a2.9,2.9 0 1,0 -5.8,0M1997.2,1228.6a2.9,2.9 0 1,0 5.8,0a2.9,2.9 0 1,0 -5.8,0M2001.7,1259.2a2.9,2.9 0 1,0 5.8,0a2.9,2.9 0 1,0 -5.8,0M2006.1,1281.9a2.9,2.9 0 1,0 5.8,0a2.9,2.9 0 1,0 -5.8,0M2010.5,1305.4a2.9,2.9 0 1,0 5.8,0a2.9,2.9 0 1,0 -5.8,0M2014.6,1323.9a2.9,2.9 0 1,0 5.8,0a2.9,2.9 0 1,0 -5.8,0M2018.9,1341.0a2.9,2.9 0 1,0 5.8,0a2.9,2.9 0 1,0 -5.8,0M2024.5,1357.5a2.9,2.9 0 1,0 5.8,0a2.9,2.9 0 1,0 -5.8,0M2029.6,1369.5a2.9,2.9 0 1,0 5.8,0a2.9,2.9 0 1,0 -5.8,0M2033.1,1375.2a2.9,2.9 0 1,0 5.8,0a2.9,2.9 0 1,0 -5.8,0M2037.5,1381.5a2.9,2.9 0 1,0 5.8,0a2.9,2.9 0 1,0 -5.8,0M2043.1,1389.9a2.9,2.9 0 1,0 5.8,0a2.9,2.9 0 1,0 -5.8,0M2046.9,1391.7a2.9,2.9 0 1,0 5.8,0a2.9,2.9 0 1,0 -5.8,0M2052.0,1396.9a2.9,2.9 0 1,0 5.8,0a2.9,2.9 0 1,0 -5.8,0M2057.1,1397.9a2.9,2.9 0 1,0 5.8,0a2.9,2.9 0 1,0 -5.8,0M2061.4,1401.3a2.9,2.9 0 1,0 5.8,0a2.9,2.9 0 1,0 -5.8,0M2066.0,1401.6a2.9,2.9 0 1,0 5.8,0a2.9,2.9 0 1,0 -5.8,0M2069.7,1403.8a2.9,2.9 0 1,0 5.8,0a2.9,2.9 0 1,0 -5.8,0M2074.5,1403.8a2.9,2.9 0 1,0 5.8,0a2.9,2.9 0 1,0 -5.8,0M2079.4,1404.8a2.9,2.9 0 1,0 5.8,0a2.9,2.9 0 1,0 -5.8,0M2084.5,1405.4a2.9,2.9 0 1,0 5.8,0a2.9,2.9 0 1,0 -5.8,0M2087.8,1406.7a2.9,2.9 0 1,0 5.8,0a2.9,2.9 0 1,0 -5.8,0M2093.3,1408.1a2.9,2.9 0 1,0 5.8,0a2.9,2.9 0 1,0 -5.8,0M2098.0,1408.9a2.9,2.9 0 1,0 5.8,0a2.9,2.9 0 1,0 -5.8,0M2103.0,1408.4a2.9,2.9 0 1,0 5.8,0a2.9,2.9 0 1,0 -5.8,0M2106.9,1408.0a2.9,2.9 0 1,0 5.8,0a2.9,2.9 0 1,0 -5.8,0M2111.1,1409.5a2.9,2.9 0 1,0 5.8,0a2.9,2.9 0 1,0 -5.8,0M2115.4,1410.1a2.9,2.9 0 1,0 5.8,0a2.9,2.9 0 1,0 -5.8,0M2120.1,1409.9a2.9,2.9 0 1,0 5.8,0a2.9,2.9 0 1,0 -5.8,0M2125.9,1409.5a2.9,2.9 0 1,0 5.8,0a2.9,2.9 0 1,0 -5.8,0M2129.0,1410.5a2.9,2.9 0 1,0 5.8,0a2.9,2.9 0 1,0 -5.8,0M2133.9,1411.5a2.9,2.9 0 1,0 5.8,0a2.9,2.9 0 1,0 -5.8,0M2138.2,1412.0a2.9,2.9 0 1,0 5.8,0a2.9,2.9 0 1,0 -5.8,0M2144.1,1412.2a2.9,2.9 0 1,0 5.8,0a2.9,2.9 0 1,0 -5.8,0M2148.0,1411.2a2.9,2.9 0 1,0 5.8,0a2.9,2.9 0 1,0 -5.8,0M2153.0,1412.0a2.9,2.9 0 1,0 5.8,0a2.9,2.9 0 1,0 -5.8,0M2157.2,1411.8a2.9,2.9 0 1,0 5.8,0a2.9,2.9 0 1,0 -5.8,0M2161.8,1412.8a2.9,2.9 0 1,0 5.8,0a2.9,2.9 0 1,0 -5.8,0M2167.0,1413.5a2.9,2.9 0 1,0 5.8,0a2.9,2.9 0 1,0 -5.8,0M2170.5,1412.2a2.9,2.9 0 1,0 5.8,0a2.9,2.9 0 1,0 -5.8,0M2175.6,1413.0a2.9,2.9 0 1,0 5.8,0a2.9,2.9 0 1,0 -5.8,0M2180.0,1412.3a2.9,2.9 0 1,0 5.8,0a2.9,2.9 0 1,0 -5.8,0M2184.2,1412.8a2.9,2.9 0 1,0 5.8,0a2.9,2.9 0 1,0 -5.8,0M2189.3,1414.5a2.9,2.9 0 1,0 5.8,0a2.9,2.9 0 1,0 -5.8,0M2194.6,1414.4a2.9,2.9 0 1,0 5.8,0a2.9,2.9 0 1,0 -5.8,0M2199.3,1414.7a2.9,2.9 0 1,0 5.8,0a2.9,2.9 0 1,0 -5.8,0M2203.4,1414.5a2.9,2.9 0 1,0 5.8,0a2.9,2.9 0 1,0 -5.8,0M2207.0,1414.2a2.9,2.9 0 1,0 5.8,0a2.9,2.9 0 1,0 -5.8,0M2212.5,1413.5a2.9,2.9 0 1,0 5.8,0a2.9,2.9 0 1,0 -5.8,0M2217.0,1415.1a2.9,2.9 0 1,0 5.8,0a2.9,2.9 0 1,0 -5.8,0M2221.5,1414.5a2.9,2.9 0 1,0 5.8,0a2.9,2.9 0 1,0 -5.8,0M2225.8,1413.9a2.9,2.9 0 1,0 5.8,0a2.9,2.9 0 1,0 -5.8,0M2231.3,1413.2a2.9,2.9 0 1,0 5.8,0a2.9,2.9 0 1,0 -5.8,0M2234.8,1414.8a2.9,2.9 0 1,0 5.8,0a2.9,2.9 0 1,0 -5.8,0M2239.8,1413.5a2.9,2.9 0 1,0 5.8,0a2.9,2.9 0 1,0 -5.8,0M2244.7,1414.3a2.9,2.9 0 1,0 5.8,0a2.9,2.9 0 1,0 -5.8,0M2249.2,1414.5a2.9,2.9 0 1,0 5.8,0a2.9,2.9 0 1,0 -5.8,0M2253.7,1414.9a2.9,2.9 0 1,0 5.8,0a2.9,2.9 0 1,0 -5.8,0M2258.0,1413.9a2.9,2.9 0 1,0 5.8,0a2.9,2.9 0 1,0 -5.8,0M2262.3,1415.8a2.9,2.9 0 1,0 5.8,0a2.9,2.9 0 1,0 -5.8,0M2267.4,1414.0a2.9,2.9 0 1,0 5.8,0a2.9,2.9 0 1,0 -5.8,0M2272.5,1414.4a2.9,2.9 0 1,0 5.8,0a2.9,2.9 0 1,0 -5.8,0M2275.9,1415.2a2.9,2.9 0 1,0 5.8,0a2.9,2.9 0 1,0 -5.8,0M2280.7,1415.1a2.9,2.9 0 1,0 5.8,0a2.9,2.9 0 1,0 -5.8,0M2285.8,1414.6a2.9,2.9 0 1,0 5.8,0a2.9,2.9 0 1,0 -5.8,0M2290.4,1414.4a2.9,2.9 0 1,0 5.8,0a2.9,2.9 0 1,0 -5.8,0M2294.9,1415.5a2.9,2.9 0 1,0 5.8,0a2.9,2.9 0 1,0 -5.8,0M2298.8,1415.2a2.9,2.9 0 1,0 5.8,0a2.9,2.9 0 1,0 -5.8,0M2303.4,1415.3a2.9,2.9 0 1,0 5.8,0a2.9,2.9 0 1,0 -5.8,0M2309.2,1415.6a2.9,2.9 0 1,0 5.8,0a2.9,2.9 0 1,0 -5.8,0M2313.6,1416.2a2.9,2.9 0 1,0 5.8,0a2.9,2.9 0 1,0 -5.8,0M2317.2,1416.8a2.9,2.9 0 1,0 5.8,0a2.9,2.9 0 1,0 -5.8,0M2322.8,1414.7a2.9,2.9 0 1,0 5.8,0a2.9,2.9 0 1,0 -5.8,0" fill="#fff" fill-opacity="0.5" stroke="#62bcf8" stroke-width="1.3"/>
<path d="M1752.4,1823.1 L1752.4,1820.1 L1754.4,1820.0 L1756.4,1820.0 L1758.4,1819.9 L1760.4,1819.9 L1762.4,1819.8 L1764.4,1819.8 L1766.4,1819.7 L1768.4,1819.7 L1770.4,1819.6 L1772.4,1819.6 L1774.4,1819.5 L1776.4,1819.4 L1778.4,1819.4 L1780.3,1819.3 L1782.3,1819.2 L1784.3,1819.2 L1786.3,1819.1 L1788.3,1819.0 L1790.3,1818.9 L1792.3,1818.8 L1794.3,1818.8 L1796.3,1818.7 L1798.3,1818.6 L1800.3,1818.5 L1802.3,1818.4 L1804.3,1818.3 L1806.3,1818.2 L1808.3,1818.1 L1810.3,1817.9 L1812.3,1817.8 L1814.3,1817.7 L1816.3,1817.6 L1818.3,1817.4 L1820.3,1817.3 L1822.3,1817.1 L1824.3,1817.0 L1826.3,1816.8 L1828.3,1816.6 L1830.3,1816.5 L1832.3,1816.3 L1834.2,1816.1 L1836.2,1815.9 L1838.2,1815.7 L1840.2,1815.5 L1842.2,1815.2 L1844.2,1815.0 L1846.2,1814.7 L1848.2,1814.5 L1850.2,1814.2 L1852.2,1813.9 L1854.2,1813.6 L1856.2,1813.2 L1858.2,1812.9 L1860.2,1812.5 L1862.2,1812.1 L1864.2,1811.6 L1866.2,1811.1 L1868.2,1810.6 L1870.2,1810.0 L1872.2,1809.4 L1874.2,1808.7 L1876.2,1807.9 L1878.2,1807.1 L1880.2,1806.1 L1882.2,1805.1 L1884.2,1803.9 L1886.2,1802.5 L1888.2,1801.0 L1890.1,1799.3 L1892.1,1797.4 L1894.1,1795.3 L1896.1,1792.9 L1898.1,1790.2 L1900.1,1787.1 L1902.1,1783.7 L1904.1,1779.9 L1906.1,1775.7 L1908.1,1771.0 L1910.1,1765.8 L1912.1,1760.1 L1914.1,1753.8 L1916.1,1746.9 L1918.1,1739.3 L1920.1,1731.2 L1922.1,1722.4 L1924.1,1712.9 L1926.1,1702.7 L1928.1,1692.0 L1930.1,1680.6 L1932.1,1668.6 L1934.1,1656.0 L1936.1,1643.0 L1938.1,1629.5 L1940.1,1615.6 L1942.1,1601.5 L1944.0,1587.3 L1946.0,1573.0 L1948.0,1558.9 L1950.0,1545.1 L1952.0,1531.7 L1954.0,1518.9 L1956.0,1506.9 L1958.0,1496.0 L1960.0,1486.4 L1962.0,1478.2 L1964.0,1471.5 L1966.0,1466.7 L1968.0,1463.8 L1970.0,1462.8 L1972.0,1463.8 L1974.0,1466.7 L1976.0,1471.6 L1978.0,1478.2 L1980.0,1486.5 L1982.0,1496.2 L1984.0,1507.1 L1986.0,1519.1 L1988.0,1531.9 L1990.0,1545.3 L1992.0,1559.2 L1994.0,1573.3 L1996.0,1587.6 L1997.9,1601.9 L1999.9,1616.0 L2001.9,1629.8 L2003.9,1643.4 L2005.9,1656.4 L2007.9,1669.0 L2009.9,1681.0 L2011.9,1692.5 L2013.9,1703.3 L2015.9,1713.4 L2017.9,1722.9 L2019.9,1731.8 L2021.9,1739.9 L2023.9,1747.5 L2025.9,1754.4 L2027.9,1760.8 L2029.9,1766.5 L2031.9,1771.7 L2033.9,1776.5 L2035.9,1780.7 L2037.9,1784.5 L2039.9,1788.0 L2041.9,1791.0 L2043.9,1793.8 L2045.9,1796.2 L2047.9,1798.4 L2049.9,1800.3 L2051.8,1802.0 L2053.8,1803.5 L2055.8,1804.9 L2057.8,1806.1 L2059.8,1807.2 L2061.8,1808.2 L2063.8,1809.0 L2065.8,1809.8 L2067.8,1810.5 L2069.8,1811.2 L2071.8,1811.8 L2073.8,1812.4 L2075.8,1812.9 L2077.8,1813.3 L2079.8,1813.8 L2081.8,1814.2 L2083.8,1814.6 L2085.8,1814.9 L2087.8,1815.3 L2089.8,1815.6 L2091.8,1815.9 L2093.8,1816.2 L2095.8,1816.5 L2097.8,1816.7 L2099.8,1817.0 L2101.8,1817.2 L2103.8,1817.5 L2105.8,1817.7 L2107.7,1817.9 L2109.7,1818.1 L2111.7,1818.3 L2113.7,1818.5 L2115.7,1818.7 L2117.7,1818.9 L2119.7,1819.0 L2121.7,1819.2 L2123.7,1819.4 L2125.7,1819.5 L2127.7,1819.7 L2129.7,1819.8 L2131.7,1820.0 L2133.7,1820.1 L2135.7,1820.2 L2137.7,1820.4 L2139.7,1820.5 L2141.7,1820.6 L2143.7,1820.7 L2145.7,1820.8 L2147.7,1820.9 L2149.7,1821.1 L2151.7,1821.2 L2153.7,1821.3 L2155.7,1821.4 L2157.7,1821.5 L2159.7,1821.6 L2161.6,1821.6 L2163.6,1821.7 L2165.6,1821.8 L2167.6,1821.9 L2169.6,1822.0 L2171.6,1822.1 L2173.6,1822.1 L2175.6,1822.2 L2177.6,1822.3 L2179.6,1822.4 L2181.6,1822.4 L2183.6,1822.5 L2185.6,1822.6 L2187.6,1822.6 L2187.6,1825.7Z" fill="url(#g11)" fill-opacity="0.95"/>
<path d="M1385.6,1820.9 L1385.6,1820.7 L1387.6,1820.8 L1389.6,1820.8 L1391.6,1820.8 L1393.6,1820.8 L1395.6,1820.8 L1397.6,1820.8 L1399.6,1820.8 L1401.6,1820.8 L1403.6,1820.8 L1405.6,1820.8 L1407.6,1820.9 L1409.6,1820.9 L1411.6,1820.9 L1413.6,1820.9 L1415.6,1820.9 L1417.6,1820.9 L1419.6,1820.9 L1421.6,1820.9 L1423.6,1820.9 L1425.6,1821.0 L1427.6,1821.0 L1429.6,1821.0 L1431.6,1821.0 L1433.6,1821.0 L1435.6,1821.0 L1437.6,1821.0 L1439.6,1821.0 L1441.6,1821.0 L1443.6,1821.0 L1445.6,1821.1 L1447.6,1821.1 L1449.6,1821.1 L1451.6,1821.1 L1453.6,1821.1 L1455.6,1821.1 L1457.6,1821.1 L1459.6,1821.1 L1461.6,1821.1 L1463.6,1821.1 L1465.6,1821.1 L1467.6,1821.2 L1469.6,1821.2 L1471.6,1821.2 L1473.6,1821.2 L1475.6,1821.2 L1477.6,1821.2 L1479.6,1821.2 L1481.6,1821.2 L1483.6,1821.2 L1485.6,1821.2 L1487.6,1821.3 L1489.6,1821.3 L1491.6,1821.3 L1493.6,1821.3 L1495.6,1821.3 L1497.6,1821.3 L1499.6,1821.3 L1501.6,1821.3 L1503.6,1821.3 L1505.6,1821.3 L1507.6,1821.3 L1509.6,1821.4 L1511.6,1821.4 L1513.6,1821.4 L1515.6,1821.4 L1517.6,1821.4 L1519.6,1821.4 L1521.6,1821.4 L1523.6,1821.4 L1525.6,1821.4 L1527.6,1821.4 L1529.6,1821.4 L1531.6,1821.4 L1533.6,1821.5 L1535.6,1821.5 L1537.6,1821.5 L1539.6,1821.5 L1541.6,1821.5 L1543.5,1821.5 L1545.5,1821.5 L1547.5,1821.5 L1549.5,1821.5 L1551.5,1821.5 L1553.5,1821.5 L1555.5,1821.5 L1557.5,1821.5 L1559.5,1821.6 L1561.5,1821.6 L1563.5,1821.6 L1565.5,1821.6 L1567.5,1821.6 L1569.5,1821.6 L1571.5,1821.6 L1573.5,1821.6 L1575.5,1821.6 L1577.5,1821.6 L1579.5,1821.6 L1581.5,1821.6 L1583.5,1821.6 L1585.5,1821.6 L1587.5,1821.6 L1589.5,1821.6 L1591.5,1821.7 L1593.5,1821.7 L1595.5,1821.7 L1597.5,1821.7 L1599.5,1821.7 L1601.5,1821.7 L1603.5,1821.7 L1605.5,1821.7 L1607.5,1821.7 L1609.5,1821.7 L1611.5,1821.7 L1613.5,1821.7 L1615.5,1821.7 L1617.5,1821.7 L1619.5,1821.7 L1621.5,1821.7 L1623.5,1821.7 L1625.5,1821.7 L1627.5,1821.7 L1629.5,1821.7 L1631.5,1821.7 L1633.5,1821.7 L1635.5,1821.7 L1637.5,1821.7 L1639.5,1821.7 L1641.5,1821.7 L1643.5,1821.7 L1645.5,1821.7 L1647.5,1821.7 L1649.5,1821.7 L1651.5,1821.6 L1653.5,1821.6 L1655.5,1821.6 L1657.5,1821.6 L1659.5,1821.6 L1661.5,1821.6 L1663.5,1821.6 L1665.5,1821.5 L1667.5,1821.5 L1669.5,1821.5 L1671.5,1821.5 L1673.5,1821.4 L1675.5,1821.4 L1677.5,1821.4 L1679.5,1821.3 L1681.5,1821.3 L1683.5,1821.2 L1685.5,1821.2 L1687.5,1821.1 L1689.5,1821.1 L1691.5,1821.0 L1693.5,1820.9 L1695.5,1820.9 L1697.5,1820.8 L1699.5,1820.7 L1701.5,1820.6 L1703.5,1820.5 L1705.5,1820.4 L1707.5,1820.3 L1709.5,1820.2 L1711.5,1820.1 L1713.5,1819.9 L1715.5,1819.8 L1717.5,1819.7 L1719.5,1819.5 L1721.5,1819.3 L1723.5,1819.2 L1725.5,1819.0 L1727.5,1818.8 L1729.5,1818.6 L1731.5,1818.4 L1733.5,1818.1 L1735.5,1817.9 L1737.5,1817.7 L1739.5,1817.4 L1741.5,1817.1 L1743.5,1816.8 L1745.5,1816.5 L1747.5,1816.2 L1749.5,1815.9 L1751.5,1815.6 L1753.5,1815.2 L1755.5,1814.8 L1757.5,1814.5 L1759.5,1814.1 L1761.5,1813.7 L1763.5,1813.2 L1765.5,1812.8 L1767.5,1812.4 L1769.5,1811.9 L1771.5,1811.4 L1773.5,1810.9 L1775.5,1810.4 L1777.5,1809.9 L1779.5,1809.4 L1781.5,1808.9 L1783.5,1808.3 L1785.5,1807.8 L1787.5,1807.2 L1789.5,1806.6 L1791.5,1806.1 L1793.5,1805.5 L1795.5,1804.9 L1797.5,1804.3 L1799.5,1803.7 L1801.5,1803.1 L1803.5,1802.4 L1805.5,1801.8 L1807.5,1801.2 L1809.5,1800.6 L1811.5,1800.0 L1813.5,1799.4 L1815.5,1798.8 L1817.5,1798.2 L1819.5,1797.6 L1821.5,1797.0 L1823.5,1796.5 L1825.5,1795.9 L1827.5,1795.4 L1829.5,1794.9 L1831.5,1794.4 L1833.5,1793.9 L1835.5,1793.4 L1837.5,1793.0 L1839.5,1792.5 L1841.5,1792.1 L1843.5,1791.8 L1845.5,1791.4 L1847.5,1791.1 L1849.5,1790.8 L1851.5,1790.6 L1853.5,1790.3 L1855.5,1790.2 L1857.4,1790.0 L1859.4,1789.9 L1861.4,1789.8 L1863.4,1789.8 L1865.4,1789.7 L1867.4,1789.8 L1869.4,1789.8 L1871.4,1789.9 L1873.4,1790.1 L1875.4,1790.2 L1877.4,1790.5 L1879.4,1790.7 L1881.4,1791.0 L1883.4,1791.3 L1885.4,1791.6 L1887.4,1792.0 L1889.4,1792.4 L1891.4,1792.8 L1893.4,1793.2 L1895.4,1793.7 L1897.4,1794.2 L1899.4,1794.7 L1901.4,1795.2 L1903.4,1795.8 L1905.4,1796.3 L1907.4,1796.9 L1909.4,1797.5 L1911.4,1798.1 L1913.4,1798.7 L1915.4,1799.3 L1917.4,1799.9 L1919.4,1800.5 L1921.4,1801.2 L1923.4,1801.8 L1925.4,1802.4 L1927.4,1803.1 L1929.4,1803.7 L1931.4,1804.4 L1933.4,1805.0 L1935.4,1805.6 L1937.4,1806.2 L1939.4,1806.8 L1941.4,1807.4 L1943.4,1808.0 L1945.4,1808.6 L1947.4,1809.2 L1949.4,1809.8 L1951.4,1810.3 L1953.4,1810.9 L1955.4,1811.4 L1957.4,1811.9 L1959.4,1812.5 L1961.4,1813.0 L1963.4,1813.4 L1965.4,1813.9 L1967.4,1814.4 L1969.4,1814.8 L1971.4,1815.3 L1973.4,1815.7 L1975.4,1816.1 L1977.4,1816.5 L1979.4,1816.9 L1981.4,1817.2 L1983.4,1817.6 L1985.4,1817.9 L1987.4,1818.2 L1989.4,1818.5 L1991.4,1818.8 L1993.4,1819.1 L1995.4,1819.4 L1997.4,1819.7 L1999.4,1819.9 L2001.4,1820.2 L2003.4,1820.4 L2005.4,1820.6 L2007.4,1820.8 L2009.4,1821.0 L2011.4,1821.2 L2013.4,1821.4 L2015.4,1821.6 L2017.4,1821.7 L2019.4,1821.9 L2021.4,1822.0 L2023.4,1822.2 L2025.4,1822.3 L2027.4,1822.4 L2029.4,1822.5 L2031.4,1822.7 L2033.4,1822.8 L2035.4,1822.9 L2037.4,1823.0 L2039.4,1823.1 L2041.4,1823.1 L2043.4,1823.2 L2045.4,1823.3 L2047.4,1823.4 L2049.4,1823.4 L2051.4,1823.5 L2053.4,1823.6 L2055.4,1823.6 L2057.4,1823.7 L2059.4,1823.7 L2061.4,1823.8 L2063.4,1823.8 L2065.4,1823.9 L2067.4,1823.9 L2069.4,1824.0 L2071.4,1824.0 L2073.4,1824.1 L2075.4,1824.1 L2077.4,1824.1 L2079.4,1824.2 L2081.4,1824.2 L2083.4,1824.2 L2085.4,1824.3 L2087.4,1824.3 L2089.4,1824.3 L2091.4,1824.4 L2093.4,1824.4 L2095.4,1824.4 L2097.4,1824.4 L2099.4,1824.5 L2101.4,1824.5 L2103.4,1824.5 L2105.4,1824.5 L2107.4,1824.6 L2109.4,1824.6 L2111.4,1824.6 L2113.4,1824.6 L2115.4,1824.7 L2117.4,1824.7 L2119.4,1824.7 L2121.4,1824.7 L2123.4,1824.7 L2125.4,1824.8 L2127.4,1824.8 L2129.4,1824.8 L2131.4,1824.8 L2133.4,1824.8 L2135.4,1824.9 L2137.4,1824.9 L2139.4,1824.9 L2141.4,1824.9 L2143.4,1824.9 L2145.4,1824.9 L2147.4,1825.0 L2149.4,1825.0 L2151.4,1825.0 L2153.4,1825.0 L2155.4,1825.0 L2157.4,1825.1 L2159.4,1825.1 L2161.4,1825.1 L2163.4,1825.1 L2165.4,1825.1 L2167.4,1825.1 L2169.4,1825.2 L2171.3,1825.2 L2173.3,1825.2 L2175.3,1825.2 L2177.3,1825.2 L2179.3,1825.2 L2181.3,1825.3 L2183.3,1825.3 L2185.3,1825.3 L2187.3,1825.3 L2189.3,1825.3 L2191.3,1825.3 L2193.3,1825.4 L2195.3,1825.4 L2197.3,1825.4 L2199.3,1825.4 L2201.3,1825.4 L2203.3,1825.4 L2205.3,1825.4 L2207.3,1825.5 L2209.3,1825.5 L2211.3,1825.5 L2213.3,1825.5 L2215.3,1825.5 L2217.3,1825.5 L2219.3,1825.6 L2221.3,1825.6 L2223.3,1825.6 L2225.3,1825.6 L2227.3,1825.6 L2229.3,1825.6 L2231.3,1825.6 L2233.3,1825.7 L2235.3,1825.7 L2237.3,1825.7 L2239.3,1825.7 L2241.3,1825.7 L2243.3,1825.7 L2245.3,1825.7 L2247.3,1825.8 L2249.3,1825.8 L2251.3,1825.8 L2253.3,1825.8 L2255.3,1825.8 L2257.3,1825.8 L2259.3,1825.8 L2261.3,1825.9 L2263.3,1825.9 L2265.3,1825.9 L2267.3,1825.9 L2269.3,1825.9 L2271.3,1825.9 L2273.3,1825.9 L2275.3,1826.0 L2277.3,1826.0 L2279.3,1826.0 L2281.3,1826.0 L2283.3,1826.0 L2285.3,1826.0 L2287.3,1826.0 L2289.3,1826.1 L2291.3,1826.1 L2293.3,1826.1 L2295.3,1826.1 L2297.3,1826.1 L2299.3,1826.1 L2301.3,1826.1 L2303.3,1826.1 L2305.3,1826.2 L2307.3,1826.2 L2309.3,1826.2 L2311.3,1826.2 L2313.3,1826.2 L2315.3,1826.2 L2317.3,1826.2 L2319.3,1826.3 L2321.3,1826.3 L2323.3,1826.3 L2325.3,1826.3 L2327.3,1826.3 L2327.3,1826.5Z" fill="url(#g12)" fill-opacity="0.88"/>
<path d="M1300.6,1821.4 L2327.3,1827.5" stroke="#3ea6f2" stroke-width="2.5"/>
<path d="M1300.6,1816.9 L1302.6,1817.0 L1304.6,1817.0 L1306.6,1817.0 L1308.6,1817.0 L1310.6,1817.0 L1312.6,1817.0 L1314.6,1817.0 L1316.6,1817.0 L1318.6,1817.0 L1320.6,1817.0 L1322.6,1817.0 L1324.6,1817.1 L1326.6,1817.1 L1328.6,1817.1 L1330.6,1817.1 L1332.6,1817.1 L1334.6,1817.1 L1336.6,1817.1 L1338.6,1817.1 L1340.6,1817.1 L1342.6,1817.1 L1344.6,1817.1 L1346.6,1817.1 L1348.6,1817.2 L1350.6,1817.2 L1352.6,1817.2 L1354.6,1817.2 L1356.6,1817.2 L1358.6,1817.2 L1360.6,1817.2 L1362.6,1817.2 L1364.6,1817.2 L1366.6,1817.2 L1368.6,1817.2 L1370.6,1817.2 L1372.6,1817.3 L1374.7,1817.3 L1376.7,1817.3 L1378.7,1817.3 L1380.7,1817.3 L1382.7,1817.3 L1384.7,1817.3 L1386.7,1817.3 L1388.7,1817.3 L1390.7,1817.3 L1392.7,1817.3 L1394.7,1817.3 L1396.7,1817.3 L1398.7,1817.3 L1400.7,1817.4 L1402.7,1817.4 L1404.7,1817.4 L1406.7,1817.4 L1408.7,1817.4 L1410.7,1817.4 L1412.7,1817.4 L1414.7,1817.4 L1416.7,1817.4 L1418.7,1817.4 L1420.7,1817.4 L1422.7,1817.4 L1424.7,1817.4 L1426.7,1817.4 L1428.7,1817.5 L1430.7,1817.5 L1432.7,1817.5 L1434.7,1817.5 L1436.7,1817.5 L1438.7,1817.5 L1440.7,1817.5 L1442.7,1817.5 L1444.7,1817.5 L1446.7,1817.5 L1448.7,1817.5 L1450.7,1817.5 L1452.7,1817.5 L1454.7,1817.5 L1456.7,1817.5 L1458.7,1817.5 L1460.7,1817.5 L1462.7,1817.5 L1464.7,1817.6 L1466.7,1817.6 L1468.7,1817.6 L1470.7,1817.6 L1472.7,1817.6 L1474.7,1817.6 L1476.7,1817.6 L1478.7,1817.6 L1480.7,1817.6 L1482.7,1817.6 L1484.7,1817.6 L1486.7,1817.6 L1488.7,1817.6 L1490.7,1817.6 L1492.7,1817.6 L1494.7,1817.6 L1496.7,1817.6 L1498.7,1817.6 L1500.7,1817.6 L1502.7,1817.6 L1504.7,1817.6 L1506.7,1817.6 L1508.7,1817.6 L1510.7,1817.6 L1512.7,1817.6 L1514.7,1817.6 L1516.7,1817.6 L1518.7,1817.6 L1520.8,1817.7 L1522.8,1817.7 L1524.8,1817.7 L1526.8,1817.7 L1528.8,1817.7 L1530.8,1817.7 L1532.8,1817.7 L1534.8,1817.7 L1536.8,1817.7 L1538.8,1817.7 L1540.8,1817.7 L1542.8,1817.7 L1544.8,1817.7 L1546.8,1817.7 L1548.8,1817.7 L1550.8,1817.7 L1552.8,1817.7 L1554.8,1817.7 L1556.8,1817.7 L1558.8,1817.7 L1560.8,1817.7 L1562.8,1817.7 L1564.8,1817.6 L1566.8,1817.6 L1568.8,1817.6 L1570.8,1817.6 L1572.8,1817.6 L1574.8,1817.6 L1576.8,1817.6 L1578.8,1817.6 L1580.8,1817.6 L1582.8,1817.6 L1584.8,1817.6 L1586.8,1817.6 L1588.8,1817.6 L1590.8,1817.6 L1592.8,1817.6 L1594.8,1817.6 L1596.8,1817.6 L1598.8,1817.6 L1600.8,1817.6 L1602.8,1817.6 L1604.8,1817.5 L1606.8,1817.5 L1608.8,1817.5 L1610.8,1817.5 L1612.8,1817.5 L1614.8,1817.5 L1616.8,1817.5 L1618.8,1817.5 L1620.8,1817.5 L1622.8,1817.4 L1624.8,1817.4 L1626.8,1817.4 L1628.8,1817.4 L1630.8,1817.4 L1632.8,1817.4 L1634.8,1817.3 L1636.8,1817.3 L1638.8,1817.3 L1640.8,1817.3 L1642.8,1817.3 L1644.8,1817.2 L1646.8,1817.2 L1648.8,1817.2 L1650.8,1817.2 L1652.8,1817.1 L1654.8,1817.1 L1656.8,1817.1 L1658.8,1817.0 L1660.8,1817.0 L1662.8,1817.0 L1664.8,1816.9 L1666.8,1816.9 L1668.9,1816.8 L1670.9,1816.8 L1672.9,1816.7 L1674.9,1816.7 L1676.9,1816.6 L1678.9,1816.5 L1680.9,1816.5 L1682.9,1816.4 L1684.9,1816.3 L1686.9,1816.3 L1688.9,1816.2 L1690.9,1816.1 L1692.9,1816.0 L1694.9,1815.9 L1696.9,1815.8 L1698.9,1815.7 L1700.9,1815.6 L1702.9,1815.4 L1704.9,1815.3 L1706.9,1815.2 L1708.9,1815.0 L1710.9,1814.9 L1712.9,1814.7 L1714.9,1814.5 L1716.9,1814.4 L1718.9,1814.2 L1720.9,1814.0 L1722.9,1813.8 L1724.9,1813.5 L1726.9,1813.3 L1728.9,1813.1 L1730.9,1812.8 L1732.9,1812.5 L1734.9,1812.2 L1736.9,1812.0 L1738.9,1811.7 L1740.9,1811.3 L1742.9,1811.0 L1744.9,1810.6 L1746.9,1810.3 L1748.9,1809.9 L1750.9,1809.5 L1752.9,1809.1 L1754.9,1808.7 L1756.9,1808.3 L1758.9,1807.8 L1760.9,1807.3 L1762.9,1806.8 L1764.9,1806.3 L1766.9,1805.8 L1768.9,1805.3 L1770.9,1804.8 L1772.9,1804.2 L1774.9,1803.6 L1776.9,1803.0 L1778.9,1802.4 L1780.9,1801.8 L1782.9,1801.2 L1784.9,1800.5 L1786.9,1799.9 L1788.9,1799.2 L1790.9,1798.5 L1792.9,1797.8 L1794.9,1797.1 L1796.9,1796.4 L1798.9,1795.7 L1800.9,1795.0 L1802.9,1794.2 L1804.9,1793.5 L1806.9,1792.7 L1808.9,1792.0 L1810.9,1791.2 L1812.9,1790.5 L1815.0,1789.7 L1817.0,1789.0 L1819.0,1788.2 L1821.0,1787.5 L1823.0,1786.7 L1825.0,1786.0 L1827.0,1785.2 L1829.0,1784.5 L1831.0,1783.7 L1833.0,1783.0 L1835.0,1782.3 L1837.0,1781.6 L1839.0,1780.9 L1841.0,1780.2 L1843.0,1779.5 L1845.0,1778.9 L1847.0,1778.2 L1849.0,1777.6 L1851.0,1776.9 L1853.0,1776.3 L1855.0,1775.6 L1857.0,1775.0 L1859.0,1774.4 L1861.0,1773.7 L1863.0,1773.0 L1865.0,1772.4 L1867.0,1771.7 L1869.0,1771.0 L1871.0,1770.2 L1873.0,1769.4 L1875.0,1768.5 L1877.0,1767.6 L1879.0,1766.6 L1881.0,1765.5 L1883.0,1764.3 L1885.0,1763.0 L1887.0,1761.5 L1889.0,1759.9 L1891.0,1758.1 L1893.0,1756.0 L1895.0,1753.8 L1897.0,1751.3 L1899.0,1748.5 L1901.0,1745.4 L1903.0,1742.0 L1905.0,1738.2 L1907.0,1734.0 L1909.0,1729.4 L1911.0,1724.3 L1913.0,1718.8 L1915.0,1712.8 L1917.0,1706.2 L1919.0,1699.1 L1921.0,1691.4 L1923.0,1683.2 L1925.0,1674.3 L1927.0,1664.8 L1929.0,1654.7 L1931.0,1644.0 L1933.0,1632.7 L1935.0,1620.9 L1937.0,1608.7 L1939.0,1596.0 L1941.0,1583.0 L1943.0,1569.8 L1945.0,1556.5 L1947.0,1543.2 L1949.0,1530.1 L1951.0,1517.3 L1953.0,1505.0 L1955.0,1493.5 L1957.0,1482.8 L1959.0,1473.3 L1961.1,1465.0 L1963.1,1458.3 L1965.1,1453.2 L1967.1,1450.0 L1969.1,1448.7 L1971.1,1449.3 L1973.1,1451.9 L1975.1,1456.4 L1977.1,1462.8 L1979.1,1470.8 L1981.1,1480.3 L1983.1,1491.1 L1985.1,1503.0 L1987.1,1515.9 L1989.1,1529.4 L1991.1,1543.5 L1993.1,1557.9 L1995.1,1572.5 L1997.1,1587.1 L1999.1,1601.6 L2001.1,1615.9 L2003.1,1629.9 L2005.1,1643.4 L2007.1,1656.4 L2009.1,1668.9 L2011.1,1680.9 L2013.1,1692.1 L2015.1,1702.8 L2017.1,1712.7 L2019.1,1722.0 L2021.1,1730.7 L2023.1,1738.6 L2025.1,1745.9 L2027.1,1752.7 L2029.1,1758.8 L2031.1,1764.3 L2033.1,1769.4 L2035.1,1773.9 L2037.1,1778.0 L2039.1,1781.7 L2041.1,1785.0 L2043.1,1787.9 L2045.1,1790.5 L2047.1,1792.9 L2049.1,1795.0 L2051.1,1796.8 L2053.1,1798.5 L2055.1,1799.9 L2057.1,1801.3 L2059.1,1802.4 L2061.1,1803.5 L2063.1,1804.5 L2065.1,1805.3 L2067.1,1806.1 L2069.1,1806.8 L2071.1,1807.5 L2073.1,1808.1 L2075.1,1808.6 L2077.1,1809.1 L2079.1,1809.6 L2081.1,1810.1 L2083.1,1810.5 L2085.1,1810.9 L2087.1,1811.3 L2089.1,1811.6 L2091.1,1811.9 L2093.1,1812.3 L2095.1,1812.6 L2097.1,1812.8 L2099.1,1813.1 L2101.1,1813.4 L2103.1,1813.6 L2105.1,1813.9 L2107.1,1814.1 L2109.2,1814.3 L2111.2,1814.6 L2113.2,1814.8 L2115.2,1815.0 L2117.2,1815.2 L2119.2,1815.3 L2121.2,1815.5 L2123.2,1815.7 L2125.2,1815.9 L2127.2,1816.0 L2129.2,1816.2 L2131.2,1816.3 L2133.2,1816.5 L2135.2,1816.6 L2137.2,1816.8 L2139.2,1816.9 L2141.2,1817.0 L2143.2,1817.1 L2145.2,1817.3 L2147.2,1817.4 L2149.2,1817.5 L2151.2,1817.6 L2153.2,1817.7 L2155.2,1817.8 L2157.2,1817.9 L2159.2,1818.0 L2161.2,1818.1 L2163.2,1818.2 L2165.2,1818.3 L2167.2,1818.4 L2169.2,1818.5 L2171.2,1818.6 L2173.2,1818.7 L2175.2,1818.8 L2177.2,1818.8 L2179.2,1818.9 L2181.2,1819.0 L2183.2,1819.1 L2185.2,1819.1 L2187.2,1819.2 L2189.2,1819.3 L2191.2,1819.4 L2193.2,1819.4 L2195.2,1819.5 L2197.2,1819.6 L2199.2,1819.6 L2201.2,1819.7 L2203.2,1819.7 L2205.2,1819.8 L2207.2,1819.9 L2209.2,1819.9 L2211.2,1820.0 L2213.2,1820.0 L2215.2,1820.1 L2217.2,1820.1 L2219.2,1820.2 L2221.2,1820.2 L2223.2,1820.3 L2225.2,1820.3 L2227.2,1820.4 L2229.2,1820.4 L2231.2,1820.5 L2233.2,1820.5 L2235.2,1820.6 L2237.2,1820.6 L2239.2,1820.7 L2241.2,1820.7 L2243.2,1820.8 L2245.2,1820.8 L2247.2,1820.8 L2249.2,1820.9 L2251.2,1820.9 L2253.2,1821.0 L2255.3,1821.0 L2257.3,1821.0 L2259.3,1821.1 L2261.3,1821.1 L2263.3,1821.2 L2265.3,1821.2 L2267.3,1821.2 L2269.3,1821.3 L2271.3,1821.3 L2273.3,1821.3 L2275.3,1821.4 L2277.3,1821.4 L2279.3,1821.4 L2281.3,1821.5 L2283.3,1821.5 L2285.3,1821.5 L2287.3,1821.6 L2289.3,1821.6 L2291.3,1821.6 L2293.3,1821.7 L2295.3,1821.7 L2297.3,1821.7 L2299.3,1821.8 L2301.3,1821.8 L2303.3,1821.8 L2305.3,1821.8 L2307.3,1821.9 L2309.3,1821.9 L2311.3,1821.9 L2313.3,1822.0 L2315.3,1822.0 L2317.3,1822.0 L2319.3,1822.0 L2321.3,1822.1 L2323.3,1822.1 L2325.3,1822.1 L2327.3,1822.1" fill="none" stroke="#4aaef5" stroke-width="2.2" stroke-linejoin="round"/>
<path d="M1300.2,1816.7a2.9,2.9 0 1,0 5.8,0a2.9,2.9 0 1,0 -5.8,0M1303.8,1818.1a2.9,2.9 0 1,0 5.8,0a2.9,2.9 0 1,0 -5.8,0M1309.0,1817.7a2.9,2.9 0 1,0 5.8,0a2.9,2.9 0 1,0 -5.8,0M1312.9,1817.7a2.9,2.9 0 1,0 5.8,0a2.9,2.9 0 1,0 -5.8,0M1317.3,1816.4a2.9,2.9 0 1,0 5.8,0a2.9,2.9 0 1,0 -5.8,0M1322.4,1815.9a2.9,2.9 0 1,0 5.8,0a2.9,2.9 0 1,0 -5.8,0M1327.4,1816.4a2.9,2.9 0 1,0 5.8,0a2.9,2.9 0 1,0 -5.8,0M1331.5,1817.6a2.9,2.9 0 1,0 5.8,0a2.9,2.9 0 1,0 -5.8,0M1336.3,1818.0a2.9,2.9 0 1,0 5.8,0a2.9,2.9 0 1,0 -5.8,0M1341.2,1818.0a2.9,2.9 0 1,0 5.8,0a2.9,2.9 0 1,0 -5.8,0M1345.7,1818.2a2.9,2.9 0 1,0 5.8,0a2.9,2.9 0 1,0 -5.8,0M1350.7,1816.4a2.9,2.9 0 1,0 5.8,0a2.9,2.9 0 1,0 -5.8,0M1355.1,1816.8a2.9,2.9 0 1,0 5.8,0a2.9,2.9 0 1,0 -5.8,0M1359.7,1817.6a2.9,2.9 0 1,0 5.8,0a2.9,2.9 0 1,0 -5.8,0M1364.4,1816.3a2.9,2.9 0 1,0 5.8,0a2.9,2.9 0 1,0 -5.8,0M1368.3,1817.8a2.9,2.9 0 1,0 5.8,0a2.9,2.9 0 1,0 -5.8,0M1373.8,1817.8a2.9,2.9 0 1,0 5.8,0a2.9,2.9 0 1,0 -5.8,0M1376.9,1817.5a2.9,2.9 0 1,0 5.8,0a2.9,2.9 0 1,0 -5.8,0M1381.6,1817.4a2.9,2.9 0 1,0 5.8,0a2.9,2.9 0 1,0 -5.8,0M1387.3,1816.4a2.9,2.9 0 1,0 5.8,0a2.9,2.9 0 1,0 -5.8,0M1392.1,1817.8a2.9,2.9 0 1,0 5.8,0a2.9,2.9 0 1,0 -5.8,0M1395.6,1816.6a2.9,2.9 0 1,0 5.8,0a2.9,2.9 0 1,0 -5.8,0M1400.5,1818.2a2.9,2.9 0 1,0 5.8,0a2.9,2.9 0 1,0 -5.8,0M1405.3,1816.5a2.9,2.9 0 1,0 5.8,0a2.9,2.9 0 1,0 -5.8,0M1409.0,1816.5a2.9,2.9 0 1,0 5.8,0a2.9,2.9 0 1,0 -5.8,0M1414.8,1816.7a2.9,2.9 0 1,0 5.8,0a2.9,2.9 0 1,0 -5.8,0M1419.0,1816.9a2.9,2.9 0 1,0 5.8,0a2.9,2.9 0 1,0 -5.8,0M1423.8,1817.2a2.9,2.9 0 1,0 5.8,0a2.9,2.9 0 1,0 -5.8,0M1427.5,1818.4a2.9,2.9 0 1,0 5.8,0a2.9,2.9 0 1,0 -5.8,0M1432.8,1817.9a2.9,2.9 0 1,0 5.8,0a2.9,2.9 0 1,0 -5.8,0M1437.8,1818.6a2.9,2.9 0 1,0 5.8,0a2.9,2.9 0 1,0 -5.8,0M1441.1,1817.1a2.9,2.9 0 1,0 5.8,0a2.9,2.9 0 1,0 -5.8,0M1445.9,1817.5a2.9,2.9 0 1,0 5.8,0a2.9,2.9 0 1,0 -5.8,0M1451.6,1818.2a2.9,2.9 0 1,0 5.8,0a2.9,2.9 0 1,0 -5.8,0M1454.9,1816.8a2.9,2.9 0 1,0 5.8,0a2.9,2.9 0 1,0 -5.8,0M1460.7,1818.0a2.9,2.9 0 1,0 5.8,0a2.9,2.9 0 1,0 -5.8,0M1464.6,1817.5a2.9,2.9 0 1,0 5.8,0a2.9,2.9 0 1,0 -5.8,0M1468.8,1818.4a2.9,2.9 0 1,0 5.8,0a2.9,2.9 0 1,0 -5.8,0M1473.8,1818.5a2.9,2.9 0 1,0 5.8,0a2.9,2.9 0 1,0 -5.8,0M1478.7,1816.6a2.9,2.9 0 1,0 5.8,0a2.9,2.9 0 1,0 -5.8,0M1482.9,1816.9a2.9,2.9 0 1,0 5.8,0a2.9,2.9 0 1,0 -5.8,0M1488.4,1817.8a2.9,2.9 0 1,0 5.8,0a2.9,2.9 0 1,0 -5.8,0M1491.6,1816.8a2.9,2.9 0 1,0 5.8,0a2.9,2.9 0 1,0 -5.8,0M1496.7,1817.5a2.9,2.9 0 1,0 5.8,0a2.9,2.9 0 1,0 -5.8,0M1501.6,1817.4a2.9,2.9 0 1,0 5.8,0a2.9,2.9 0 1,0 -5.8,0M1505.8,1816.5a2.9,2.9 0 1,0 5.8,0a2.9,2.9 0 1,0 -5.8,0M1510.8,1817.2a2.9,2.9 0 1,0 5.8,0a2.9,2.9 0 1,0 -5.8,0M1514.5,1817.6a2.9,2.9 0 1,0 5.8,0a2.9,2.9 0 1,0 -5.8,0M1520.6,1816.6a2.9,2.9 0 1,0 5.8,0a2.9,2.9 0 1,0 -5.8,0M1523.9,1818.1a2.9,2.9 0 1,0 5.8,0a2.9,2.9 0 1,0 -5.8,0M1528.6,1817.1a2.9,2.9 0 1,0 5.8,0a2.9,2.9 0 1,0 -5.8,0M1533.6,1817.1a2.9,2.9 0 1,0 5.8,0a2.9,2.9 0 1,0 -5.8,0M1538.3,1817.7a2.9,2.9 0 1,0 5.8,0a2.9,2.9 0 1,0 -5.8,0M1543.5,1818.8a2.9,2.9 0 1,0 5.8,0a2.9,2.9 0 1,0 -5.8,0M1546.6,1817.8a2.9,2.9 0 1,0 5.8,0a2.9,2.9 0 1,0 -5.8,0M1552.4,1818.6a2.9,2.9 0 1,0 5.8,0a2.9,2.9 0 1,0 -5.8,0M1557.0,1818.0a2.9,2.9 0 1,0 5.8,0a2.9,2.9 0 1,0 -5.8,0M1561.3,1817.3a2.9,2.9 0 1,0 5.8,0a2.9,2.9 0 1,0 -5.8,0M1565.3,1818.4a2.9,2.9 0 1,0 5.8,0a2.9,2.9 0 1,0 -5.8,0M1570.9,1818.7a2.9,2.9 0 1,0 5.8,0a2.9,2.9 0 1,0 -5.8,0M1575.2,1817.2a2.9,2.9 0 1,0 5.8,0a2.9,2.9 0 1,0 -5.8,0M1579.9,1818.2a2.9,2.9 0 1,0 5.8,0a2.9,2.9 0 1,0 -5.8,0M1584.1,1817.9a2.9,2.9 0 1,0 5.8,0a2.9,2.9 0 1,0 -5.8,0M1588.4,1817.7a2.9,2.9 0 1,0 5.8,0a2.9,2.9 0 1,0 -5.8,0M1593.1,1816.5a2.9,2.9 0 1,0 5.8,0a2.9,2.9 0 1,0 -5.8,0M1597.5,1817.1a2.9,2.9 0 1,0 5.8,0a2.9,2.9 0 1,0 -5.8,0M1603.2,1817.5a2.9,2.9 0 1,0 5.8,0a2.9,2.9 0 1,0 -5.8,0M1606.8,1816.9a2.9,2.9 0 1,0 5.8,0a2.9,2.9 0 1,0 -5.8,0M1611.1,1817.1a2.9,2.9 0 1,0 5.8,0a2.9,2.9 0 1,0 -5.8,0M1615.6,1816.3a2.9,2.9 0 1,0 5.8,0a2.9,2.9 0 1,0 -5.8,0M1621.3,1817.3a2.9,2.9 0 1,0 5.8,0a2.9,2.9 0 1,0 -5.8,0M1625.2,1817.6a2.9,2.9 0 1,0 5.8,0a2.9,2.9 0 1,0 -5.8,0M1629.6,1816.6a2.9,2.9 0 1,0 5.8,0a2.9,2.9 0 1,0 -5.8,0M1633.8,1816.9a2.9,2.9 0 1,0 5.8,0a2.9,2.9 0 1,0 -5.8,0M1638.8,1817.8a2.9,2.9 0 1,0 5.8,0a2.9,2.9 0 1,0 -5.8,0M1643.7,1818.3a2.9,2.9 0 1,0 5.8,0a2.9,2.9 0 1,0 -5.8,0M1648.0,1818.2a2.9,2.9 0 1,0 5.8,0a2.9,2.9 0 1,0 -5.8,0M1653.0,1816.1a2.9,2.9 0 1,0 5.8,0a2.9,2.9 0 1,0 -5.8,0M1656.9,1817.2a2.9,2.9 0 1,0 5.8,0a2.9,2.9 0 1,0 -5.8,0M1662.8,1816.6a2.9,2.9 0 1,0 5.8,0a2.9,2.9 0 1,0 -5.8,0M1667.0,1816.6a2.9,2.9 0 1,0 5.8,0a2.9,2.9 0 1,0 -5.8,0M1671.8,1815.6a2.9,2.9 0 1,0 5.8,0a2.9,2.9 0 1,0 -5.8,0M1675.7,1817.5a2.9,2.9 0 1,0 5.8,0a2.9,2.9 0 1,0 -5.8,0M1680.0,1815.8a2.9,2.9 0 1,0 5.8,0a2.9,2.9 0 1,0 -5.8,0M1684.2,1815.4a2.9,2.9 0 1,0 5.8,0a2.9,2.9 0 1,0 -5.8,0M1689.1,1816.5a2.9,2.9 0 1,0 5.8,0a2.9,2.9 0 1,0 -5.8,0M1693.7,1815.6a2.9,2.9 0 1,0 5.8,0a2.9,2.9 0 1,0 -5.8,0M1698.2,1815.8a2.9,2.9 0 1,0 5.8,0a2.9,2.9 0 1,0 -5.8,0M1703.9,1815.5a2.9,2.9 0 1,0 5.8,0a2.9,2.9 0 1,0 -5.8,0M1707.4,1815.5a2.9,2.9 0 1,0 5.8,0a2.9,2.9 0 1,0 -5.8,0M1713.2,1814.7a2.9,2.9 0 1,0 5.8,0a2.9,2.9 0 1,0 -5.8,0M1716.4,1814.9a2.9,2.9 0 1,0 5.8,0a2.9,2.9 0 1,0 -5.8,0M1722.2,1813.1a2.9,2.9 0 1,0 5.8,0a2.9,2.9 0 1,0 -5.8,0M1725.6,1812.4a2.9,2.9 0 1,0 5.8,0a2.9,2.9 0 1,0 -5.8,0M1730.9,1813.3a2.9,2.9 0 1,0 5.8,0a2.9,2.9 0 1,0 -5.8,0M1735.6,1812.7a2.9,2.9 0 1,0 5.8,0a2.9,2.9 0 1,0 -5.8,0M1739.5,1810.7a2.9,2.9 0 1,0 5.8,0a2.9,2.9 0 1,0 -5.8,0M1745.0,1810.5a2.9,2.9 0 1,0 5.8,0a2.9,2.9 0 1,0 -5.8,0M1749.0,1809.8a2.9,2.9 0 1,0 5.8,0a2.9,2.9 0 1,0 -5.8,0M1753.5,1807.3a2.9,2.9 0 1,0 5.8,0a2.9,2.9 0 1,0 -5.8,0M1758.2,1806.2a2.9,2.9 0 1,0 5.8,0a2.9,2.9 0 1,0 -5.8,0M1763.1,1805.7a2.9,2.9 0 1,0 5.8,0a2.9,2.9 0 1,0 -5.8,0M1767.5,1805.1a2.9,2.9 0 1,0 5.8,0a2.9,2.9 0 1,0 -5.8,0M1771.7,1803.6a2.9,2.9 0 1,0 5.8,0a2.9,2.9 0 1,0 -5.8,0M1775.9,1803.5a2.9,2.9 0 1,0 5.8,0a2.9,2.9 0 1,0 -5.8,0M1781.3,1801.9a2.9,2.9 0 1,0 5.8,0a2.9,2.9 0 1,0 -5.8,0M1785.1,1799.8a2.9,2.9 0 1,0 5.8,0a2.9,2.9 0 1,0 -5.8,0M1790.8,1797.2a2.9,2.9 0 1,0 5.8,0a2.9,2.9 0 1,0 -5.8,0M1794.3,1795.5a2.9,2.9 0 1,0 5.8,0a2.9,2.9 0 1,0 -5.8,0M1799.0,1795.3a2.9,2.9 0 1,0 5.8,0a2.9,2.9 0 1,0 -5.8,0M1803.5,1793.7a2.9,2.9 0 1,0 5.8,0a2.9,2.9 0 1,0 -5.8,0M1808.6,1791.1a2.9,2.9 0 1,0 5.8,0a2.9,2.9 0 1,0 -5.8,0M1813.5,1789.3a2.9,2.9 0 1,0 5.8,0a2.9,2.9 0 1,0 -5.8,0M1818.2,1787.7a2.9,2.9 0 1,0 5.8,0a2.9,2.9 0 1,0 -5.8,0M1822.2,1786.5a2.9,2.9 0 1,0 5.8,0a2.9,2.9 0 1,0 -5.8,0M1826.7,1784.7a2.9,2.9 0 1,0 5.8,0a2.9,2.9 0 1,0 -5.8,0M1832.1,1783.0a2.9,2.9 0 1,0 5.8,0a2.9,2.9 0 1,0 -5.8,0M1836.0,1781.6a2.9,2.9 0 1,0 5.8,0a2.9,2.9 0 1,0 -5.8,0M1841.6,1778.9a2.9,2.9 0 1,0 5.8,0a2.9,2.9 0 1,0 -5.8,0M1845.1,1777.9a2.9,2.9 0 1,0 5.8,0a2.9,2.9 0 1,0 -5.8,0M1850.7,1775.2a2.9,2.9 0 1,0 5.8,0a2.9,2.9 0 1,0 -5.8,0M1853.8,1775.0a2.9,2.9 0 1,0 5.8,0a2.9,2.9 0 1,0 -5.8,0M1859.5,1773.9a2.9,2.9 0 1,0 5.8,0a2.9,2.9 0 1,0 -5.8,0M1863.6,1773.0a2.9,2.9 0 1,0 5.8,0a2.9,2.9 0 1,0 -5.8,0M1867.9,1770.9a2.9,2.9 0 1,0 5.8,0a2.9,2.9 0 1,0 -5.8,0M1872.3,1767.3a2.9,2.9 0 1,0 5.8,0a2.9,2.9 0 1,0 -5.8,0M1877.0,1765.1a2.9,2.9 0 1,0 5.8,0a2.9,2.9 0 1,0 -5.8,0M1882.1,1763.1a2.9,2.9 0 1,0 5.8,0a2.9,2.9 0 1,0 -5.8,0M1886.2,1760.8a2.9,2.9 0 1,0 5.8,0a2.9,2.9 0 1,0 -5.8,0M1891.1,1754.1a2.9,2.9 0 1,0 5.8,0a2.9,2.9 0 1,0 -5.8,0M1895.4,1750.1a2.9,2.9 0 1,0 5.8,0a2.9,2.9 0 1,0 -5.8,0M1901.2,1739.2a2.9,2.9 0 1,0 5.8,0a2.9,2.9 0 1,0 -5.8,0M1904.3,1734.2a2.9,2.9 0 1,0 5.8,0a2.9,2.9 0 1,0 -5.8,0M1909.2,1722.5a2.9,2.9 0 1,0 5.8,0a2.9,2.9 0 1,0 -5.8,0M1914.2,1706.2a2.9,2.9 0 1,0 5.8,0a2.9,2.9 0 1,0 -5.8,0M1918.6,1690.4a2.9,2.9 0 1,0 5.8,0a2.9,2.9 0 1,0 -5.8,0M1923.3,1668.1a2.9,2.9 0 1,0 5.8,0a2.9,2.9 0 1,0 -5.8,0M1928.6,1640.2a2.9,2.9 0 1,0 5.8,0a2.9,2.9 0 1,0 -5.8,0M1933.0,1614.9a2.9,2.9 0 1,0 5.8,0a2.9,2.9 0 1,0 -5.8,0M1937.4,1587.6a2.9,2.9 0 1,0 5.8,0a2.9,2.9 0 1,0 -5.8,0M1942.3,1554.1a2.9,2.9 0 1,0 5.8,0a2.9,2.9 0 1,0 -5.8,0M1946.4,1527.9a2.9,2.9 0 1,0 5.8,0a2.9,2.9 0 1,0 -5.8,0M1951.6,1497.6a2.9,2.9 0 1,0 5.8,0a2.9,2.9 0 1,0 -5.8,0M1955.7,1474.6a2.9,2.9 0 1,0 5.8,0a2.9,2.9 0 1,0 -5.8,0M1959.7,1459.1a2.9,2.9 0 1,0 5.8,0a2.9,2.9 0 1,0 -5.8,0M1964.6,1448.9a2.9,2.9 0 1,0 5.8,0a2.9,2.9 0 1,0 -5.8,0M1968.8,1450.5a2.9,2.9 0 1,0 5.8,0a2.9,2.9 0 1,0 -5.8,0M1974.1,1462.0a2.9,2.9 0 1,0 5.8,0a2.9,2.9 0 1,0 -5.8,0M1979.2,1485.2a2.9,2.9 0 1,0 5.8,0a2.9,2.9 0 1,0 -5.8,0M1983.1,1508.4a2.9,2.9 0 1,0 5.8,0a2.9,2.9 0 1,0 -5.8,0M1988.2,1544.6a2.9,2.9 0 1,0 5.8,0a2.9,2.9 0 1,0 -5.8,0M1991.8,1570.6a2.9,2.9 0 1,0 5.8,0a2.9,2.9 0 1,0 -5.8,0M1997.3,1609.2a2.9,2.9 0 1,0 5.8,0a2.9,2.9 0 1,0 -5.8,0M2001.1,1636.1a2.9,2.9 0 1,0 5.8,0a2.9,2.9 0 1,0 -5.8,0M2006.6,1670.6a2.9,2.9 0 1,0 5.8,0a2.9,2.9 0 1,0 -5.8,0M2010.8,1695.9a2.9,2.9 0 1,0 5.8,0a2.9,2.9 0 1,0 -5.8,0M2015.1,1717.0a2.9,2.9 0 1,0 5.8,0a2.9,2.9 0 1,0 -5.8,0M2020.3,1738.4a2.9,2.9 0 1,0 5.8,0a2.9,2.9 0 1,0 -5.8,0M2024.9,1754.6a2.9,2.9 0 1,0 5.8,0a2.9,2.9 0 1,0 -5.8,0M2029.3,1768.1a2.9,2.9 0 1,0 5.8,0a2.9,2.9 0 1,0 -5.8,0M2033.0,1776.4a2.9,2.9 0 1,0 5.8,0a2.9,2.9 0 1,0 -5.8,0M2038.9,1785.5a2.9,2.9 0 1,0 5.8,0a2.9,2.9 0 1,0 -5.8,0M2041.9,1789.2a2.9,2.9 0 1,0 5.8,0a2.9,2.9 0 1,0 -5.8,0M2048.0,1795.4a2.9,2.9 0 1,0 5.8,0a2.9,2.9 0 1,0 -5.8,0M2052.5,1799.3a2.9,2.9 0 1,0 5.8,0a2.9,2.9 0 1,0 -5.8,0M2056.8,1801.8a2.9,2.9 0 1,0 5.8,0a2.9,2.9 0 1,0 -5.8,0M2060.5,1805.0a2.9,2.9 0 1,0 5.8,0a2.9,2.9 0 1,0 -5.8,0M2064.9,1806.0a2.9,2.9 0 1,0 5.8,0a2.9,2.9 0 1,0 -5.8,0M2070.8,1808.8a2.9,2.9 0 1,0 5.8,0a2.9,2.9 0 1,0 -5.8,0M2075.4,1810.6a2.9,2.9 0 1,0 5.8,0a2.9,2.9 0 1,0 -5.8,0M2078.6,1809.5a2.9,2.9 0 1,0 5.8,0a2.9,2.9 0 1,0 -5.8,0M2084.4,1811.7a2.9,2.9 0 1,0 5.8,0a2.9,2.9 0 1,0 -5.8,0M2087.8,1811.9a2.9,2.9 0 1,0 5.8,0a2.9,2.9 0 1,0 -5.8,0M2092.7,1812.5a2.9,2.9 0 1,0 5.8,0a2.9,2.9 0 1,0 -5.8,0M2097.0,1812.1a2.9,2.9 0 1,0 5.8,0a2.9,2.9 0 1,0 -5.8,0M2103.1,1813.5a2.9,2.9 0 1,0 5.8,0a2.9,2.9 0 1,0 -5.8,0M2107.5,1813.6a2.9,2.9 0 1,0 5.8,0a2.9,2.9 0 1,0 -5.8,0M2111.4,1814.0a2.9,2.9 0 1,0 5.8,0a2.9,2.9 0 1,0 -5.8,0M2115.9,1814.5a2.9,2.9 0 1,0 5.8,0a2.9,2.9 0 1,0 -5.8,0M2120.9,1814.9a2.9,2.9 0 1,0 5.8,0a2.9,2.9 0 1,0 -5.8,0M2125.6,1816.1a2.9,2.9 0 1,0 5.8,0a2.9,2.9 0 1,0 -5.8,0M2129.2,1816.0a2.9,2.9 0 1,0 5.8,0a2.9,2.9 0 1,0 -5.8,0M2134.4,1817.8a2.9,2.9 0 1,0 5.8,0a2.9,2.9 0 1,0 -5.8,0M2138.7,1816.4a2.9,2.9 0 1,0 5.8,0a2.9,2.9 0 1,0 -5.8,0M2144.3,1818.3a2.9,2.9 0 1,0 5.8,0a2.9,2.9 0 1,0 -5.8,0M2148.5,1817.1a2.9,2.9 0 1,0 5.8,0a2.9,2.9 0 1,0 -5.8,0M2152.2,1817.3a2.9,2.9 0 1,0 5.8,0a2.9,2.9 0 1,0 -5.8,0M2156.6,1817.0a2.9,2.9 0 1,0 5.8,0a2.9,2.9 0 1,0 -5.8,0M2161.9,1818.1a2.9,2.9 0 1,0 5.8,0a2.9,2.9 0 1,0 -5.8,0M2166.6,1818.2a2.9,2.9 0 1,0 5.8,0a2.9,2.9 0 1,0 -5.8,0M2170.3,1819.1a2.9,2.9 0 1,0 5.8,0a2.9,2.9 0 1,0 -5.8,0M2175.9,1819.0a2.9,2.9 0 1,0 5.8,0a2.9,2.9 0 1,0 -5.8,0M2180.3,1819.5a2.9,2.9 0 1,0 5.8,0a2.9,2.9 0 1,0 -5.8,0M2185.6,1820.2a2.9,2.9 0 1,0 5.8,0a2.9,2.9 0 1,0 -5.8,0M2189.8,1819.2a2.9,2.9 0 1,0 5.8,0a2.9,2.9 0 1,0 -5.8,0M2193.7,1819.3a2.9,2.9 0 1,0 5.8,0a2.9,2.9 0 1,0 -5.8,0M2199.3,1819.4a2.9,2.9 0 1,0 5.8,0a2.9,2.9 0 1,0 -5.8,0M2203.0,1819.6a2.9,2.9 0 1,0 5.8,0a2.9,2.9 0 1,0 -5.8,0M2207.2,1821.1a2.9,2.9 0 1,0 5.8,0a2.9,2.9 0 1,0 -5.8,0M2211.5,1820.3a2.9,2.9 0 1,0 5.8,0a2.9,2.9 0 1,0 -5.8,0M2217.6,1819.6a2.9,2.9 0 1,0 5.8,0a2.9,2.9 0 1,0 -5.8,0M2221.7,1820.0a2.9,2.9 0 1,0 5.8,0a2.9,2.9 0 1,0 -5.8,0M2225.7,1819.7a2.9,2.9 0 1,0 5.8,0a2.9,2.9 0 1,0 -5.8,0M2230.1,1821.4a2.9,2.9 0 1,0 5.8,0a2.9,2.9 0 1,0 -5.8,0M2235.7,1821.6a2.9,2.9 0 1,0 5.8,0a2.9,2.9 0 1,0 -5.8,0M2239.1,1821.2a2.9,2.9 0 1,0 5.8,0a2.9,2.9 0 1,0 -5.8,0M2244.2,1821.2a2.9,2.9 0 1,0 5.8,0a2.9,2.9 0 1,0 -5.8,0M2249.1,1820.5a2.9,2.9 0 1,0 5.8,0a2.9,2.9 0 1,0 -5.8,0M2254.4,1819.8a2.9,2.9 0 1,0 5.8,0a2.9,2.9 0 1,0 -5.8,0M2258.6,1822.0a2.9,2.9 0 1,0 5.8,0a2.9,2.9 0 1,0 -5.8,0M2262.8,1821.4a2.9,2.9 0 1,0 5.8,0a2.9,2.9 0 1,0 -5.8,0M2268.2,1820.7a2.9,2.9 0 1,0 5.8,0a2.9,2.9 0 1,0 -5.8,0M2272.2,1822.0a2.9,2.9 0 1,0 5.8,0a2.9,2.9 0 1,0 -5.8,0M2276.3,1821.9a2.9,2.9 0 1,0 5.8,0a2.9,2.9 0 1,0 -5.8,0M2281.0,1821.6a2.9,2.9 0 1,0 5.8,0a2.9,2.9 0 1,0 -5.8,0M2285.9,1822.0a2.9,2.9 0 1,0 5.8,0a2.9,2.9 0 1,0 -5.8,0M2290.0,1822.0a2.9,2.9 0 1,0 5.8,0a2.9,2.9 0 1,0 -5.8,0M2295.0,1821.1a2.9,2.9 0 1,0 5.8,0a2.9,2.9 0 1,0 -5.8,0M2299.6,1821.2a2.9,2.9 0 1,0 5.8,0a2.9,2.9 0 1,0 -5.8,0M2304.7,1821.8a2.9,2.9 0 1,0 5.8,0a2.9,2.9 0 1,0 -5.8,0M2309.0,1822.0a2.9,2.9 0 1,0 5.8,0a2.9,2.9 0 1,0 -5.8,0M2313.2,1821.3a2.9,2.9 0 1,0 5.8,0a2.9,2.9 0 1,0 -5.8,0M2317.2,1823.1a2.9,2.9 0 1,0 5.8,0a2.9,2.9 0 1,0 -5.8,0M2322.4,1822.2a2.9,2.9 0 1,0 5.8,0a2.9,2.9 0 1,0 -5.8,0" fill="#fff" fill-opacity="0.5" stroke="#62bcf8" stroke-width="1.3"/>
<path d="M1968.0,1034.5V1114.3" stroke="#000" stroke-width="2.8" stroke-dasharray="4 4"/>
<path d="M1970.0,1427.6V1504.3" stroke="#000" stroke-width="2.8" stroke-dasharray="4 4"/>
<path d="M1852,1317 V1540.7 L1866,1564.3 V1811" fill="none" stroke="#000" stroke-width="3.2" stroke-dasharray="4.5 6"/>
<text transform="translate(1307.0,1085.4) scale(1,1.080)" x="0.0" y="0" font-size="61.6" fill="#000"><tspan>(d)</tspan></text>
<text transform="translate(2232.0,1062.2)" x="0.0" y="0" font-size="46.4" fill="#000"><tspan>O 1s</tspan></text>
<text transform="translate(2001.9,1078.7)" x="0.0" y="0" font-size="43.3" fill="#0a22cc"><tspan>Bi-O</tspan></text>
<text transform="translate(2001.9,1145.0)" x="0.0" y="0" font-size="42.0" fill="#0a22cc"><tspan>530.25 eV</tspan></text>
<text transform="translate(1802.4,1297.2)" x="0.0" y="0" font-size="42.3" fill="#ff0000"><tspan>-OH</tspan></text>
<text transform="translate(1676.6,1347.5)" x="0.0" y="0" font-size="40.5" fill="#ff0000"><tspan>531.96 eV</tspan></text>
<text transform="translate(1317.6,1384.3)" x="0.0" y="0" font-size="42.9" fill="#000"><tspan font-style="italic">g</tspan><tspan>-C</tspan><tspan dy="10.3" font-size="26.6">3</tspan><tspan dy="-10.3">N</tspan><tspan dy="10.3" font-size="26.6">4</tspan><tspan dy="-10.3">/BiOBr</tspan></text>
<text transform="translate(2000.6,1464.4)" x="0.0" y="0" font-size="40.9" fill="#0a22cc"><tspan>Bi-O</tspan></text>
<text transform="translate(1998.8,1528.8)" x="0.0" y="0" font-size="40.5" fill="#0a22cc"><tspan>530.21 eV</tspan></text>
<text transform="translate(1822.7,1716.0)" x="0.0" y="0" font-size="39.6" fill="#ff0000"><tspan>-OH</tspan></text>
<text transform="translate(1673.5,1775.5)" x="0.0" y="0" font-size="40.5" fill="#ff0000"><tspan>531.72 eV</tspan></text>
<text transform="translate(1320.7,1795.7)" x="0.0" y="0" font-size="40.1" fill="#000"><tspan>BiOBr</tspan></text>
<path d="M351.8,2361.7 L351.8,2360.2 L353.8,2360.2 L355.8,2360.2 L357.8,2360.2 L359.8,2360.2 L361.8,2360.2 L363.8,2360.2 L365.8,2360.2 L367.8,2360.2 L369.8,2360.2 L371.8,2360.1 L373.8,2360.1 L375.8,2360.1 L377.8,2360.1 L379.8,2360.1 L381.8,2360.1 L383.8,2360.1 L385.7,2360.1 L387.7,2360.1 L389.7,2360.0 L391.7,2360.0 L393.7,2360.0 L395.7,2360.0 L397.7,2360.0 L399.7,2360.0 L401.7,2360.0 L403.7,2359.9 L405.7,2359.9 L407.7,2359.9 L409.7,2359.9 L411.7,2359.9 L413.7,2359.9 L415.7,2359.8 L417.7,2359.8 L419.7,2359.8 L421.7,2359.8 L423.7,2359.8 L425.7,2359.7 L427.7,2359.7 L429.7,2359.7 L431.7,2359.7 L433.7,2359.7 L435.7,2359.6 L437.7,2359.6 L439.7,2359.6 L441.7,2359.6 L443.7,2359.5 L445.7,2359.5 L447.7,2359.5 L449.6,2359.5 L451.6,2359.4 L453.6,2359.4 L455.6,2359.4 L457.6,2359.4 L459.6,2359.3 L461.6,2359.3 L463.6,2359.3 L465.6,2359.2 L467.6,2359.2 L469.6,2359.2 L471.6,2359.1 L473.6,2359.1 L475.6,2359.1 L477.6,2359.0 L479.6,2359.0 L481.6,2359.0 L483.6,2358.9 L485.6,2358.9 L487.6,2358.8 L489.6,2358.8 L491.6,2358.7 L493.6,2358.7 L495.6,2358.7 L497.6,2358.6 L499.6,2358.6 L501.6,2358.5 L503.6,2358.5 L505.6,2358.4 L507.6,2358.4 L509.6,2358.3 L511.6,2358.2 L513.6,2358.2 L515.5,2358.1 L517.5,2358.1 L519.5,2358.0 L521.5,2357.9 L523.5,2357.9 L525.5,2357.8 L527.5,2357.7 L529.5,2357.6 L531.5,2357.6 L533.5,2357.5 L535.5,2357.4 L537.5,2357.3 L539.5,2357.2 L541.5,2357.1 L543.5,2357.0 L545.5,2356.9 L547.5,2356.8 L549.5,2356.7 L551.5,2356.6 L553.5,2356.5 L555.5,2356.4 L557.5,2356.3 L559.5,2356.1 L561.5,2356.0 L563.5,2355.8 L565.5,2355.7 L567.5,2355.5 L569.5,2355.4 L571.5,2355.2 L573.5,2355.0 L575.5,2354.8 L577.5,2354.6 L579.5,2354.4 L581.4,2354.1 L583.4,2353.9 L585.4,2353.6 L587.4,2353.3 L589.4,2353.0 L591.4,2352.7 L593.4,2352.4 L595.4,2352.0 L597.4,2351.6 L599.4,2351.2 L601.4,2350.8 L603.4,2350.3 L605.4,2349.8 L607.4,2349.3 L609.4,2348.7 L611.4,2348.1 L613.4,2347.5 L615.4,2346.8 L617.4,2346.1 L619.4,2345.3 L621.4,2344.5 L623.4,2343.6 L625.4,2342.7 L627.4,2341.8 L629.4,2340.7 L631.4,2339.6 L633.4,2338.5 L635.4,2337.3 L637.4,2336.0 L639.4,2334.6 L641.4,2333.2 L643.4,2331.7 L645.3,2330.1 L647.3,2328.5 L649.3,2326.8 L651.3,2325.0 L653.3,2323.1 L655.3,2321.1 L657.3,2319.1 L659.3,2316.9 L661.3,2314.7 L663.3,2312.4 L665.3,2310.0 L667.3,2307.6 L669.3,2305.0 L671.3,2302.4 L673.3,2299.7 L675.3,2297.0 L677.3,2294.1 L679.3,2291.2 L681.3,2288.3 L683.3,2285.3 L685.3,2282.2 L687.3,2279.1 L689.3,2275.9 L691.3,2272.7 L693.3,2269.5 L695.3,2266.3 L697.3,2263.1 L699.3,2259.8 L701.3,2256.6 L703.3,2253.4 L705.3,2250.2 L707.3,2247.1 L709.3,2244.0 L711.2,2241.0 L713.2,2238.1 L715.2,2235.3 L717.2,2232.6 L719.2,2230.0 L721.2,2227.6 L723.2,2225.3 L725.2,2223.3 L727.2,2221.4 L729.2,2219.7 L731.2,2218.2 L733.2,2217.0 L735.2,2216.0 L737.2,2215.2 L739.2,2214.7 L741.2,2214.4 L743.2,2214.4 L745.2,2214.7 L747.2,2215.2 L749.2,2216.0 L751.2,2217.0 L753.2,2218.3 L755.2,2219.8 L757.2,2221.5 L759.2,2223.4 L761.2,2225.5 L763.2,2227.7 L765.2,2230.2 L767.2,2232.7 L769.2,2235.4 L771.2,2238.3 L773.2,2241.2 L775.1,2244.2 L777.1,2247.3 L779.1,2250.4 L781.1,2253.6 L783.1,2256.8 L785.1,2260.1 L787.1,2263.3 L789.1,2266.6 L791.1,2269.8 L793.1,2273.0 L795.1,2276.2 L797.1,2279.4 L799.1,2282.5 L801.1,2285.6 L803.1,2288.6 L805.1,2291.6 L807.1,2294.5 L809.1,2297.4 L811.1,2300.1 L813.1,2302.8 L815.1,2305.5 L817.1,2308.0 L819.1,2310.5 L821.1,2312.9 L823.1,2315.2 L825.1,2317.4 L827.1,2319.5 L829.1,2321.6 L831.1,2323.6 L833.1,2325.5 L835.1,2327.3 L837.1,2329.0 L839.1,2330.7 L841.0,2332.3 L843.0,2333.8 L845.0,2335.2 L847.0,2336.6 L849.0,2337.9 L851.0,2339.1 L853.0,2340.3 L855.0,2341.4 L857.0,2342.4 L859.0,2343.4 L861.0,2344.3 L863.0,2345.2 L865.0,2346.0 L867.0,2346.8 L869.0,2347.6 L871.0,2348.2 L873.0,2348.9 L875.0,2349.5 L877.0,2350.1 L879.0,2350.6 L881.0,2351.1 L883.0,2351.6 L885.0,2352.1 L887.0,2352.5 L889.0,2352.9 L891.0,2353.2 L893.0,2353.6 L895.0,2353.9 L897.0,2354.2 L899.0,2354.5 L901.0,2354.8 L903.0,2355.1 L904.9,2355.3 L906.9,2355.6 L908.9,2355.8 L910.9,2356.0 L912.9,2356.2 L914.9,2356.4 L916.9,2356.6 L918.9,2356.7 L920.9,2356.9 L922.9,2357.0 L924.9,2357.2 L926.9,2357.3 L928.9,2357.5 L930.9,2357.6 L932.9,2357.7 L934.9,2357.9 L936.9,2358.0 L938.9,2358.1 L940.9,2358.2 L942.9,2358.3 L944.9,2358.4 L946.9,2358.5 L948.9,2358.6 L950.9,2358.7 L952.9,2358.8 L954.9,2358.9 L956.9,2359.0 L958.9,2359.1 L960.9,2359.1 L962.9,2359.2 L964.9,2359.3 L966.9,2359.4 L968.9,2359.4 L970.8,2359.5 L972.8,2359.6 L974.8,2359.7 L976.8,2359.7 L978.8,2359.8 L980.8,2359.8 L982.8,2359.9 L984.8,2360.0 L986.8,2360.0 L988.8,2360.1 L990.8,2360.1 L992.8,2360.2 L994.8,2360.3 L996.8,2360.3 L998.8,2360.4 L1000.8,2360.4 L1002.8,2360.5 L1004.8,2360.5 L1006.8,2360.6 L1008.8,2360.6 L1010.8,2360.7 L1012.8,2360.7 L1014.8,2360.8 L1016.8,2360.8 L1018.8,2360.8 L1020.8,2360.9 L1022.8,2360.9 L1024.8,2361.0 L1026.8,2361.0 L1028.8,2361.1 L1030.8,2361.1 L1032.8,2361.1 L1034.8,2361.2 L1036.7,2361.2 L1038.7,2361.2 L1040.7,2361.3 L1042.7,2361.3 L1044.7,2361.4 L1046.7,2361.4 L1048.7,2361.4 L1050.7,2361.5 L1052.7,2361.5 L1054.7,2361.5 L1056.7,2361.6 L1058.7,2361.6 L1060.7,2361.6 L1062.7,2361.7 L1064.7,2361.7 L1066.7,2361.7 L1068.7,2361.7 L1070.7,2361.8 L1072.7,2361.8 L1074.7,2361.8 L1076.7,2361.9 L1078.7,2361.9 L1080.7,2361.9 L1082.7,2361.9 L1084.7,2362.0 L1086.7,2362.0 L1088.7,2362.0 L1090.7,2362.0 L1092.7,2362.1 L1094.7,2362.1 L1096.7,2362.1 L1098.7,2362.1 L1100.6,2362.2 L1102.6,2362.2 L1104.6,2362.2 L1106.6,2362.2 L1108.6,2362.3 L1110.6,2362.3 L1112.6,2362.3 L1114.6,2362.3 L1116.6,2362.4 L1118.6,2362.4 L1120.6,2362.4 L1122.6,2362.4 L1124.6,2362.4 L1126.6,2362.5 L1128.6,2362.5 L1130.6,2362.5 L1132.6,2362.5 L1132.6,2363.9Z" fill="url(#g13)" fill-opacity="0.88"/>
<path d="M127.4,2361.0 L127.4,2357.7 L129.4,2357.6 L131.4,2357.6 L133.4,2357.6 L135.4,2357.5 L137.4,2357.5 L139.4,2357.4 L141.4,2357.4 L143.4,2357.4 L145.4,2357.3 L147.4,2357.3 L149.4,2357.2 L151.4,2357.2 L153.4,2357.1 L155.4,2357.1 L157.4,2357.0 L159.4,2357.0 L161.4,2356.9 L163.4,2356.9 L165.4,2356.8 L167.4,2356.8 L169.4,2356.7 L171.4,2356.7 L173.4,2356.6 L175.4,2356.5 L177.4,2356.5 L179.4,2356.4 L181.4,2356.4 L183.4,2356.3 L185.4,2356.2 L187.4,2356.1 L189.4,2356.1 L191.4,2356.0 L193.4,2355.9 L195.4,2355.9 L197.4,2355.8 L199.4,2355.7 L201.4,2355.6 L203.4,2355.5 L205.4,2355.4 L207.4,2355.4 L209.4,2355.3 L211.4,2355.2 L213.4,2355.1 L215.4,2355.0 L217.4,2354.9 L219.4,2354.8 L221.4,2354.7 L223.4,2354.6 L225.4,2354.4 L227.4,2354.3 L229.4,2354.2 L231.4,2354.1 L233.4,2354.0 L235.4,2353.8 L237.4,2353.7 L239.3,2353.5 L241.3,2353.4 L243.3,2353.3 L245.3,2353.1 L247.3,2352.9 L249.3,2352.8 L251.3,2352.6 L253.3,2352.4 L255.3,2352.3 L257.3,2352.1 L259.3,2351.9 L261.3,2351.7 L263.3,2351.5 L265.3,2351.2 L267.3,2351.0 L269.3,2350.8 L271.3,2350.5 L273.3,2350.3 L275.3,2350.0 L277.3,2349.7 L279.3,2349.4 L281.3,2349.1 L283.3,2348.7 L285.3,2348.4 L287.3,2348.0 L289.3,2347.6 L291.3,2347.1 L293.3,2346.7 L295.3,2346.2 L297.3,2345.7 L299.3,2345.1 L301.3,2344.5 L303.3,2343.9 L305.3,2343.2 L307.3,2342.5 L309.3,2341.7 L311.3,2340.9 L313.3,2340.0 L315.3,2339.0 L317.3,2338.0 L319.3,2336.9 L321.3,2335.7 L323.3,2334.4 L325.3,2333.0 L327.3,2331.5 L329.3,2330.0 L331.3,2328.3 L333.3,2326.5 L335.3,2324.6 L337.3,2322.5 L339.3,2320.3 L341.3,2318.0 L343.3,2315.5 L345.3,2312.9 L347.3,2310.1 L349.3,2307.1 L351.3,2304.0 L353.3,2300.6 L355.3,2297.1 L357.3,2293.5 L359.3,2289.6 L361.3,2285.5 L363.3,2281.2 L365.3,2276.8 L367.3,2272.1 L369.3,2267.3 L371.3,2262.2 L373.3,2257.0 L375.3,2251.5 L377.3,2245.9 L379.3,2240.1 L381.3,2234.1 L383.3,2228.0 L385.3,2221.7 L387.3,2215.3 L389.3,2208.7 L391.3,2202.1 L393.3,2195.3 L395.3,2188.4 L397.3,2181.6 L399.3,2174.6 L401.3,2167.7 L403.3,2160.8 L405.3,2153.9 L407.3,2147.1 L409.3,2140.4 L411.3,2133.8 L413.3,2127.5 L415.3,2121.3 L417.3,2115.4 L419.3,2109.8 L421.3,2104.6 L423.3,2099.7 L425.3,2095.2 L427.3,2091.2 L429.3,2087.7 L431.3,2084.7 L433.3,2082.3 L435.3,2080.5 L437.3,2079.2 L439.3,2078.6 L441.3,2078.6 L443.3,2079.2 L445.3,2080.4 L447.3,2082.3 L449.3,2084.7 L451.3,2087.6 L453.3,2091.1 L455.3,2095.1 L457.3,2099.6 L459.2,2104.5 L461.2,2109.7 L463.2,2115.3 L465.2,2121.2 L467.2,2127.4 L469.2,2133.7 L471.2,2140.3 L473.2,2147.0 L475.2,2153.8 L477.2,2160.7 L479.2,2167.6 L481.2,2174.6 L483.2,2181.5 L485.2,2188.4 L487.2,2195.3 L489.2,2202.1 L491.2,2208.7 L493.2,2215.3 L495.2,2221.8 L497.2,2228.1 L499.2,2234.2 L501.2,2240.2 L503.2,2246.0 L505.2,2251.7 L507.2,2257.1 L509.2,2262.4 L511.2,2267.5 L513.2,2272.3 L515.2,2277.0 L517.2,2281.5 L519.2,2285.8 L521.2,2289.9 L523.2,2293.8 L525.2,2297.5 L527.2,2301.0 L529.2,2304.3 L531.2,2307.5 L533.2,2310.5 L535.2,2313.3 L537.2,2316.0 L539.2,2318.5 L541.2,2320.8 L543.2,2323.0 L545.2,2325.1 L547.2,2327.0 L549.2,2328.9 L551.2,2330.6 L553.2,2332.1 L555.2,2333.6 L557.2,2335.0 L559.2,2336.3 L561.2,2337.5 L563.2,2338.6 L565.2,2339.7 L567.2,2340.7 L569.2,2341.6 L571.2,2342.4 L573.2,2343.2 L575.2,2344.0 L577.2,2344.7 L579.2,2345.3 L581.2,2345.9 L583.2,2346.5 L585.2,2347.0 L587.2,2347.5 L589.2,2348.0 L591.2,2348.4 L593.2,2348.9 L595.2,2349.2 L597.2,2349.6 L599.2,2350.0 L601.2,2350.3 L603.2,2350.6 L605.2,2350.9 L607.2,2351.2 L609.2,2351.5 L611.2,2351.8 L613.2,2352.0 L615.2,2352.3 L617.2,2352.5 L619.2,2352.7 L621.2,2352.9 L623.2,2353.1 L625.2,2353.3 L627.2,2353.5 L629.2,2353.7 L631.2,2353.9 L633.2,2354.1 L635.2,2354.2 L637.2,2354.4 L639.2,2354.6 L641.2,2354.7 L643.2,2354.9 L645.2,2355.0 L647.2,2355.2 L649.2,2355.3 L651.2,2355.4 L653.2,2355.6 L655.2,2355.7 L657.2,2355.8 L659.2,2355.9 L661.2,2356.1 L663.2,2356.2 L665.2,2356.3 L667.2,2356.4 L669.2,2356.5 L671.2,2356.6 L673.2,2356.7 L675.2,2356.8 L677.2,2356.9 L679.1,2357.0 L681.1,2357.1 L683.1,2357.2 L685.1,2357.3 L687.1,2357.4 L689.1,2357.5 L691.1,2357.5 L693.1,2357.6 L695.1,2357.7 L697.1,2357.8 L699.1,2357.9 L701.1,2357.9 L703.1,2358.0 L705.1,2358.1 L707.1,2358.2 L709.1,2358.2 L711.1,2358.3 L713.1,2358.4 L715.1,2358.4 L717.1,2358.5 L719.1,2358.6 L721.1,2358.6 L723.1,2358.7 L725.1,2358.7 L727.1,2358.8 L729.1,2358.9 L731.1,2358.9 L733.1,2359.0 L735.1,2359.0 L737.1,2359.1 L739.1,2359.1 L741.1,2359.2 L743.1,2359.2 L745.1,2359.3 L747.1,2359.3 L749.1,2359.4 L751.1,2359.4 L753.1,2359.5 L755.1,2359.5 L757.1,2359.6 L759.1,2359.6 L761.1,2359.7 L763.1,2359.7 L765.1,2359.8 L767.1,2359.8 L769.1,2359.8 L771.1,2359.9 L773.1,2359.9 L775.1,2360.0 L777.1,2360.0 L779.1,2360.0 L781.1,2360.1 L783.1,2360.1 L785.1,2360.2 L787.1,2360.2 L789.1,2360.2 L789.1,2362.9Z" fill="url(#g14)" fill-opacity="0.95"/>
<path d="M127.4,2362.0 L1153.0,2365.0" stroke="#3ea6f2" stroke-width="2.5"/>
<path d="M127.4,2354.1 L129.4,2354.0 L131.4,2354.0 L133.4,2354.0 L135.4,2353.9 L137.4,2353.9 L139.4,2353.8 L141.4,2353.8 L143.4,2353.7 L145.4,2353.7 L147.4,2353.7 L149.4,2353.6 L151.4,2353.6 L153.4,2353.5 L155.4,2353.4 L157.4,2353.4 L159.4,2353.3 L161.5,2353.3 L163.5,2353.2 L165.5,2353.2 L167.5,2353.1 L169.5,2353.0 L171.5,2353.0 L173.5,2352.9 L175.5,2352.9 L177.5,2352.8 L179.5,2352.7 L181.5,2352.7 L183.5,2352.6 L185.5,2352.5 L187.5,2352.4 L189.5,2352.4 L191.5,2352.3 L193.5,2352.2 L195.5,2352.1 L197.5,2352.0 L199.5,2351.9 L201.5,2351.9 L203.5,2351.8 L205.5,2351.7 L207.5,2351.6 L209.5,2351.5 L211.5,2351.4 L213.5,2351.3 L215.5,2351.2 L217.5,2351.1 L219.5,2351.0 L221.5,2350.8 L223.6,2350.7 L225.6,2350.6 L227.6,2350.5 L229.6,2350.4 L231.6,2350.2 L233.6,2350.1 L235.6,2350.0 L237.6,2349.8 L239.6,2349.7 L241.6,2349.5 L243.6,2349.4 L245.6,2349.2 L247.6,2349.0 L249.6,2348.9 L251.6,2348.7 L253.6,2348.5 L255.6,2348.3 L257.6,2348.1 L259.6,2347.9 L261.6,2347.7 L263.6,2347.5 L265.6,2347.3 L267.6,2347.0 L269.6,2346.8 L271.6,2346.5 L273.6,2346.2 L275.6,2345.9 L277.6,2345.6 L279.6,2345.3 L281.6,2345.0 L283.6,2344.6 L285.6,2344.3 L287.6,2343.9 L289.7,2343.4 L291.7,2343.0 L293.7,2342.5 L295.7,2342.0 L297.7,2341.5 L299.7,2340.9 L301.7,2340.3 L303.7,2339.6 L305.7,2338.9 L307.7,2338.2 L309.7,2337.4 L311.7,2336.5 L313.7,2335.6 L315.7,2334.6 L317.7,2333.6 L319.7,2332.4 L321.7,2331.2 L323.7,2329.9 L325.7,2328.5 L327.7,2327.0 L329.7,2325.4 L331.7,2323.6 L333.7,2321.8 L335.7,2319.8 L337.7,2317.7 L339.7,2315.5 L341.7,2313.1 L343.7,2310.6 L345.7,2307.9 L347.7,2305.0 L349.7,2302.0 L351.8,2298.8 L353.8,2295.4 L355.8,2291.9 L357.8,2288.1 L359.8,2284.2 L361.8,2280.0 L363.8,2275.7 L365.8,2271.2 L367.8,2266.4 L369.8,2261.5 L371.8,2256.4 L373.8,2251.0 L375.8,2245.5 L377.8,2239.8 L379.8,2234.0 L381.8,2227.9 L383.8,2221.7 L385.8,2215.4 L387.8,2208.9 L389.8,2202.2 L391.8,2195.5 L393.8,2188.7 L395.8,2181.8 L397.8,2174.9 L399.8,2167.9 L401.8,2160.9 L403.8,2154.0 L405.8,2147.1 L407.8,2140.3 L409.8,2133.6 L411.8,2127.0 L413.8,2120.7 L415.9,2114.6 L417.9,2108.7 L419.9,2103.2 L421.9,2098.0 L423.9,2093.2 L425.9,2088.8 L427.9,2085.0 L429.9,2081.6 L431.9,2078.7 L433.9,2076.4 L435.9,2074.8 L437.9,2073.7 L439.9,2073.2 L441.9,2073.4 L443.9,2074.1 L445.9,2075.5 L447.9,2077.5 L449.9,2080.1 L451.9,2083.2 L453.9,2086.9 L455.9,2091.0 L457.9,2095.6 L459.9,2100.5 L461.9,2105.9 L463.9,2111.6 L465.9,2117.5 L467.9,2123.7 L469.9,2130.1 L471.9,2136.7 L473.9,2143.4 L475.9,2150.2 L477.9,2157.1 L479.9,2164.0 L482.0,2171.0 L484.0,2177.9 L486.0,2184.7 L488.0,2191.5 L490.0,2198.2 L492.0,2204.8 L494.0,2211.3 L496.0,2217.7 L498.0,2223.9 L500.0,2229.9 L502.0,2235.8 L504.0,2241.5 L506.0,2247.1 L508.0,2252.4 L510.0,2257.5 L512.0,2262.5 L514.0,2267.2 L516.0,2271.8 L518.0,2276.1 L520.0,2280.3 L522.0,2284.2 L524.0,2288.0 L526.0,2291.5 L528.0,2294.9 L530.0,2298.1 L532.0,2301.1 L534.0,2303.9 L536.0,2306.6 L538.0,2309.1 L540.0,2311.5 L542.0,2313.7 L544.0,2315.7 L546.1,2317.6 L548.1,2319.4 L550.1,2321.1 L552.1,2322.6 L554.1,2324.0 L556.1,2325.3 L558.1,2326.6 L560.1,2327.7 L562.1,2328.7 L564.1,2329.6 L566.1,2330.5 L568.1,2331.3 L570.1,2332.0 L572.1,2332.6 L574.1,2333.2 L576.1,2333.7 L578.1,2334.2 L580.1,2334.6 L582.1,2334.9 L584.1,2335.2 L586.1,2335.4 L588.1,2335.6 L590.1,2335.8 L592.1,2335.9 L594.1,2335.9 L596.1,2335.9 L598.1,2335.9 L600.1,2335.8 L602.1,2335.7 L604.1,2335.5 L606.1,2335.3 L608.1,2335.0 L610.2,2334.7 L612.2,2334.4 L614.2,2334.0 L616.2,2333.5 L618.2,2333.0 L620.2,2332.4 L622.2,2331.8 L624.2,2331.1 L626.2,2330.3 L628.2,2329.5 L630.2,2328.6 L632.2,2327.7 L634.2,2326.7 L636.2,2325.6 L638.2,2324.4 L640.2,2323.2 L642.2,2321.9 L644.2,2320.5 L646.2,2319.0 L648.2,2317.5 L650.2,2315.8 L652.2,2314.1 L654.2,2312.3 L656.2,2310.4 L658.2,2308.4 L660.2,2306.4 L662.2,2304.2 L664.2,2302.0 L666.2,2299.7 L668.2,2297.3 L670.2,2294.8 L672.2,2292.2 L674.3,2289.6 L676.3,2286.9 L678.3,2284.1 L680.3,2281.3 L682.3,2278.3 L684.3,2275.4 L686.3,2272.4 L688.3,2269.3 L690.3,2266.2 L692.3,2263.1 L694.3,2259.9 L696.3,2256.7 L698.3,2253.6 L700.3,2250.4 L702.3,2247.2 L704.3,2244.1 L706.3,2241.0 L708.3,2238.0 L710.3,2235.0 L712.3,2232.1 L714.3,2229.3 L716.3,2226.6 L718.3,2224.0 L720.3,2221.6 L722.3,2219.3 L724.3,2217.1 L726.3,2215.2 L728.3,2213.5 L730.3,2212.0 L732.3,2210.7 L734.3,2209.6 L736.3,2208.8 L738.4,2208.2 L740.4,2207.9 L742.4,2207.8 L744.4,2208.0 L746.4,2208.5 L748.4,2209.2 L750.4,2210.2 L752.4,2211.4 L754.4,2212.8 L756.4,2214.5 L758.4,2216.4 L760.4,2218.4 L762.4,2220.7 L764.4,2223.1 L766.4,2225.7 L768.4,2228.4 L770.4,2231.2 L772.4,2234.1 L774.4,2237.1 L776.4,2240.2 L778.4,2243.4 L780.4,2246.6 L782.4,2249.9 L784.4,2253.1 L786.4,2256.4 L788.4,2259.7 L790.4,2263.0 L792.4,2266.3 L794.4,2269.5 L796.4,2272.7 L798.4,2275.9 L800.4,2279.1 L802.5,2282.1 L804.5,2285.2 L806.5,2288.1 L808.5,2291.0 L810.5,2293.9 L812.5,2296.6 L814.5,2299.3 L816.5,2301.9 L818.5,2304.4 L820.5,2306.9 L822.5,2309.2 L824.5,2311.5 L826.5,2313.7 L828.5,2315.8 L830.5,2317.9 L832.5,2319.8 L834.5,2321.7 L836.5,2323.5 L838.5,2325.2 L840.5,2326.8 L842.5,2328.4 L844.5,2329.8 L846.5,2331.2 L848.5,2332.6 L850.5,2333.8 L852.5,2335.1 L854.5,2336.2 L856.5,2337.3 L858.5,2338.3 L860.5,2339.2 L862.5,2340.2 L864.5,2341.0 L866.6,2341.8 L868.6,2342.6 L870.6,2343.3 L872.6,2344.0 L874.6,2344.6 L876.6,2345.2 L878.6,2345.8 L880.6,2346.3 L882.6,2346.8 L884.6,2347.3 L886.6,2347.7 L888.6,2348.1 L890.6,2348.5 L892.6,2348.9 L894.6,2349.3 L896.6,2349.6 L898.6,2349.9 L900.6,2350.2 L902.6,2350.5 L904.6,2350.7 L906.6,2351.0 L908.6,2351.2 L910.6,2351.4 L912.6,2351.7 L914.6,2351.9 L916.6,2352.1 L918.6,2352.2 L920.6,2352.4 L922.6,2352.6 L924.6,2352.8 L926.6,2352.9 L928.6,2353.1 L930.7,2353.2 L932.7,2353.4 L934.7,2353.5 L936.7,2353.6 L938.7,2353.7 L940.7,2353.9 L942.7,2354.0 L944.7,2354.1 L946.7,2354.2 L948.7,2354.3 L950.7,2354.4 L952.7,2354.5 L954.7,2354.6 L956.7,2354.7 L958.7,2354.8 L960.7,2354.9 L962.7,2355.0 L964.7,2355.1 L966.7,2355.2 L968.7,2355.2 L970.7,2355.3 L972.7,2355.4 L974.7,2355.5 L976.7,2355.6 L978.7,2355.6 L980.7,2355.7 L982.7,2355.8 L984.7,2355.8 L986.7,2355.9 L988.7,2356.0 L990.7,2356.0 L992.7,2356.1 L994.8,2356.2 L996.8,2356.2 L998.8,2356.3 L1000.8,2356.4 L1002.8,2356.4 L1004.8,2356.5 L1006.8,2356.5 L1008.8,2356.6 L1010.8,2356.6 L1012.8,2356.7 L1014.8,2356.7 L1016.8,2356.8 L1018.8,2356.8 L1020.8,2356.9 L1022.8,2356.9 L1024.8,2357.0 L1026.8,2357.0 L1028.8,2357.1 L1030.8,2357.1 L1032.8,2357.2 L1034.8,2357.2 L1036.8,2357.3 L1038.8,2357.3 L1040.8,2357.4 L1042.8,2357.4 L1044.8,2357.4 L1046.8,2357.5 L1048.8,2357.5 L1050.8,2357.6 L1052.8,2357.6 L1054.8,2357.6 L1056.8,2357.7 L1058.9,2357.7 L1060.9,2357.8 L1062.9,2357.8 L1064.9,2357.8 L1066.9,2357.9 L1068.9,2357.9 L1070.9,2357.9 L1072.9,2358.0 L1074.9,2358.0 L1076.9,2358.0 L1078.9,2358.1 L1080.9,2358.1 L1082.9,2358.1 L1084.9,2358.2 L1086.9,2358.2 L1088.9,2358.2 L1090.9,2358.3 L1092.9,2358.3 L1094.9,2358.3 L1096.9,2358.3 L1098.9,2358.4 L1100.9,2358.4 L1102.9,2358.4 L1104.9,2358.5 L1106.9,2358.5 L1108.9,2358.5 L1110.9,2358.5 L1112.9,2358.6 L1114.9,2358.6 L1116.9,2358.6 L1118.9,2358.6 L1121.0,2358.7 L1123.0,2358.7 L1125.0,2358.7 L1127.0,2358.8 L1129.0,2358.8 L1131.0,2358.8 L1133.0,2358.8 L1135.0,2358.8 L1137.0,2358.9 L1139.0,2358.9 L1141.0,2358.9 L1143.0,2358.9 L1145.0,2359.0 L1147.0,2359.0 L1149.0,2359.0 L1151.0,2359.0 L1153.0,2359.1" fill="none" stroke="#4aaef5" stroke-width="2.2" stroke-linejoin="round"/>
<path d="M126.5,2355.3a2.9,2.9 0 1,0 5.8,0a2.9,2.9 0 1,0 -5.8,0M130.7,2352.7a2.9,2.9 0 1,0 5.8,0a2.9,2.9 0 1,0 -5.8,0M136.2,2353.7a2.9,2.9 0 1,0 5.8,0a2.9,2.9 0 1,0 -5.8,0M140.5,2355.1a2.9,2.9 0 1,0 5.8,0a2.9,2.9 0 1,0 -5.8,0M145.5,2355.1a2.9,2.9 0 1,0 5.8,0a2.9,2.9 0 1,0 -5.8,0M148.8,2353.1a2.9,2.9 0 1,0 5.8,0a2.9,2.9 0 1,0 -5.8,0M154.6,2354.7a2.9,2.9 0 1,0 5.8,0a2.9,2.9 0 1,0 -5.8,0M158.1,2351.9a2.9,2.9 0 1,0 5.8,0a2.9,2.9 0 1,0 -5.8,0M162.9,2351.6a2.9,2.9 0 1,0 5.8,0a2.9,2.9 0 1,0 -5.8,0M167.7,2354.2a2.9,2.9 0 1,0 5.8,0a2.9,2.9 0 1,0 -5.8,0M172.6,2352.7a2.9,2.9 0 1,0 5.8,0a2.9,2.9 0 1,0 -5.8,0M176.5,2352.3a2.9,2.9 0 1,0 5.8,0a2.9,2.9 0 1,0 -5.8,0M182.5,2353.3a2.9,2.9 0 1,0 5.8,0a2.9,2.9 0 1,0 -5.8,0M186.2,2352.3a2.9,2.9 0 1,0 5.8,0a2.9,2.9 0 1,0 -5.8,0M191.4,2353.2a2.9,2.9 0 1,0 5.8,0a2.9,2.9 0 1,0 -5.8,0M195.0,2352.7a2.9,2.9 0 1,0 5.8,0a2.9,2.9 0 1,0 -5.8,0M199.9,2351.9a2.9,2.9 0 1,0 5.8,0a2.9,2.9 0 1,0 -5.8,0M204.3,2351.1a2.9,2.9 0 1,0 5.8,0a2.9,2.9 0 1,0 -5.8,0M209.1,2350.9a2.9,2.9 0 1,0 5.8,0a2.9,2.9 0 1,0 -5.8,0M213.2,2350.0a2.9,2.9 0 1,0 5.8,0a2.9,2.9 0 1,0 -5.8,0M218.6,2349.1a2.9,2.9 0 1,0 5.8,0a2.9,2.9 0 1,0 -5.8,0M222.6,2351.5a2.9,2.9 0 1,0 5.8,0a2.9,2.9 0 1,0 -5.8,0M227.4,2349.6a2.9,2.9 0 1,0 5.8,0a2.9,2.9 0 1,0 -5.8,0M231.9,2351.3a2.9,2.9 0 1,0 5.8,0a2.9,2.9 0 1,0 -5.8,0M236.3,2350.2a2.9,2.9 0 1,0 5.8,0a2.9,2.9 0 1,0 -5.8,0M242.1,2348.1a2.9,2.9 0 1,0 5.8,0a2.9,2.9 0 1,0 -5.8,0M246.0,2350.1a2.9,2.9 0 1,0 5.8,0a2.9,2.9 0 1,0 -5.8,0M250.9,2348.0a2.9,2.9 0 1,0 5.8,0a2.9,2.9 0 1,0 -5.8,0M254.6,2347.9a2.9,2.9 0 1,0 5.8,0a2.9,2.9 0 1,0 -5.8,0M259.7,2348.4a2.9,2.9 0 1,0 5.8,0a2.9,2.9 0 1,0 -5.8,0M264.2,2346.7a2.9,2.9 0 1,0 5.8,0a2.9,2.9 0 1,0 -5.8,0M269.4,2347.7a2.9,2.9 0 1,0 5.8,0a2.9,2.9 0 1,0 -5.8,0M273.5,2345.4a2.9,2.9 0 1,0 5.8,0a2.9,2.9 0 1,0 -5.8,0M278.5,2346.7a2.9,2.9 0 1,0 5.8,0a2.9,2.9 0 1,0 -5.8,0M282.5,2346.2a2.9,2.9 0 1,0 5.8,0a2.9,2.9 0 1,0 -5.8,0M287.9,2342.7a2.9,2.9 0 1,0 5.8,0a2.9,2.9 0 1,0 -5.8,0M292.4,2341.4a2.9,2.9 0 1,0 5.8,0a2.9,2.9 0 1,0 -5.8,0M296.1,2342.1a2.9,2.9 0 1,0 5.8,0a2.9,2.9 0 1,0 -5.8,0M301.2,2339.6a2.9,2.9 0 1,0 5.8,0a2.9,2.9 0 1,0 -5.8,0M306.0,2339.3a2.9,2.9 0 1,0 5.8,0a2.9,2.9 0 1,0 -5.8,0M311.0,2333.6a2.9,2.9 0 1,0 5.8,0a2.9,2.9 0 1,0 -5.8,0M315.3,2333.1a2.9,2.9 0 1,0 5.8,0a2.9,2.9 0 1,0 -5.8,0M319.7,2332.0a2.9,2.9 0 1,0 5.8,0a2.9,2.9 0 1,0 -5.8,0M324.2,2327.3a2.9,2.9 0 1,0 5.8,0a2.9,2.9 0 1,0 -5.8,0M329.6,2322.7a2.9,2.9 0 1,0 5.8,0a2.9,2.9 0 1,0 -5.8,0M333.6,2319.1a2.9,2.9 0 1,0 5.8,0a2.9,2.9 0 1,0 -5.8,0M338.7,2314.0a2.9,2.9 0 1,0 5.8,0a2.9,2.9 0 1,0 -5.8,0M343.2,2307.0a2.9,2.9 0 1,0 5.8,0a2.9,2.9 0 1,0 -5.8,0M346.7,2303.0a2.9,2.9 0 1,0 5.8,0a2.9,2.9 0 1,0 -5.8,0M352.1,2294.4a2.9,2.9 0 1,0 5.8,0a2.9,2.9 0 1,0 -5.8,0M357.0,2282.3a2.9,2.9 0 1,0 5.8,0a2.9,2.9 0 1,0 -5.8,0M360.7,2274.3a2.9,2.9 0 1,0 5.8,0a2.9,2.9 0 1,0 -5.8,0M366.3,2261.3a2.9,2.9 0 1,0 5.8,0a2.9,2.9 0 1,0 -5.8,0M369.7,2255.1a2.9,2.9 0 1,0 5.8,0a2.9,2.9 0 1,0 -5.8,0M375.1,2237.5a2.9,2.9 0 1,0 5.8,0a2.9,2.9 0 1,0 -5.8,0M379.9,2225.7a2.9,2.9 0 1,0 5.8,0a2.9,2.9 0 1,0 -5.8,0M384.2,2209.5a2.9,2.9 0 1,0 5.8,0a2.9,2.9 0 1,0 -5.8,0M389.1,2194.5a2.9,2.9 0 1,0 5.8,0a2.9,2.9 0 1,0 -5.8,0M393.5,2181.7a2.9,2.9 0 1,0 5.8,0a2.9,2.9 0 1,0 -5.8,0M398.5,2163.9a2.9,2.9 0 1,0 5.8,0a2.9,2.9 0 1,0 -5.8,0M402.0,2149.5a2.9,2.9 0 1,0 5.8,0a2.9,2.9 0 1,0 -5.8,0M407.2,2130.6a2.9,2.9 0 1,0 5.8,0a2.9,2.9 0 1,0 -5.8,0M412.6,2114.7a2.9,2.9 0 1,0 5.8,0a2.9,2.9 0 1,0 -5.8,0M416.0,2105.0a2.9,2.9 0 1,0 5.8,0a2.9,2.9 0 1,0 -5.8,0M420.6,2095.4a2.9,2.9 0 1,0 5.8,0a2.9,2.9 0 1,0 -5.8,0M425.7,2083.7a2.9,2.9 0 1,0 5.8,0a2.9,2.9 0 1,0 -5.8,0M430.1,2075.6a2.9,2.9 0 1,0 5.8,0a2.9,2.9 0 1,0 -5.8,0M434.5,2075.3a2.9,2.9 0 1,0 5.8,0a2.9,2.9 0 1,0 -5.8,0M439.9,2075.1a2.9,2.9 0 1,0 5.8,0a2.9,2.9 0 1,0 -5.8,0M443.6,2074.9a2.9,2.9 0 1,0 5.8,0a2.9,2.9 0 1,0 -5.8,0M447.9,2081.6a2.9,2.9 0 1,0 5.8,0a2.9,2.9 0 1,0 -5.8,0M453.0,2090.9a2.9,2.9 0 1,0 5.8,0a2.9,2.9 0 1,0 -5.8,0M457.8,2102.9a2.9,2.9 0 1,0 5.8,0a2.9,2.9 0 1,0 -5.8,0M462.2,2116.3a2.9,2.9 0 1,0 5.8,0a2.9,2.9 0 1,0 -5.8,0M466.6,2130.3a2.9,2.9 0 1,0 5.8,0a2.9,2.9 0 1,0 -5.8,0M471.7,2144.0a2.9,2.9 0 1,0 5.8,0a2.9,2.9 0 1,0 -5.8,0M475.9,2160.3a2.9,2.9 0 1,0 5.8,0a2.9,2.9 0 1,0 -5.8,0M480.7,2176.9a2.9,2.9 0 1,0 5.8,0a2.9,2.9 0 1,0 -5.8,0M485.2,2190.9a2.9,2.9 0 1,0 5.8,0a2.9,2.9 0 1,0 -5.8,0M490.5,2208.7a2.9,2.9 0 1,0 5.8,0a2.9,2.9 0 1,0 -5.8,0M495.0,2224.8a2.9,2.9 0 1,0 5.8,0a2.9,2.9 0 1,0 -5.8,0M499.4,2236.5a2.9,2.9 0 1,0 5.8,0a2.9,2.9 0 1,0 -5.8,0M504.5,2250.7a2.9,2.9 0 1,0 5.8,0a2.9,2.9 0 1,0 -5.8,0M509.1,2260.6a2.9,2.9 0 1,0 5.8,0a2.9,2.9 0 1,0 -5.8,0M512.9,2272.0a2.9,2.9 0 1,0 5.8,0a2.9,2.9 0 1,0 -5.8,0M516.9,2281.4a2.9,2.9 0 1,0 5.8,0a2.9,2.9 0 1,0 -5.8,0M521.6,2289.2a2.9,2.9 0 1,0 5.8,0a2.9,2.9 0 1,0 -5.8,0M526.3,2298.6a2.9,2.9 0 1,0 5.8,0a2.9,2.9 0 1,0 -5.8,0M531.6,2305.7a2.9,2.9 0 1,0 5.8,0a2.9,2.9 0 1,0 -5.8,0M536.1,2310.9a2.9,2.9 0 1,0 5.8,0a2.9,2.9 0 1,0 -5.8,0M540.9,2314.7a2.9,2.9 0 1,0 5.8,0a2.9,2.9 0 1,0 -5.8,0M544.8,2320.5a2.9,2.9 0 1,0 5.8,0a2.9,2.9 0 1,0 -5.8,0M549.3,2324.4a2.9,2.9 0 1,0 5.8,0a2.9,2.9 0 1,0 -5.8,0M554.0,2324.3a2.9,2.9 0 1,0 5.8,0a2.9,2.9 0 1,0 -5.8,0M558.4,2329.5a2.9,2.9 0 1,0 5.8,0a2.9,2.9 0 1,0 -5.8,0M564.4,2330.6a2.9,2.9 0 1,0 5.8,0a2.9,2.9 0 1,0 -5.8,0M568.5,2331.4a2.9,2.9 0 1,0 5.8,0a2.9,2.9 0 1,0 -5.8,0M573.5,2334.5a2.9,2.9 0 1,0 5.8,0a2.9,2.9 0 1,0 -5.8,0M576.9,2332.7a2.9,2.9 0 1,0 5.8,0a2.9,2.9 0 1,0 -5.8,0M582.4,2333.5a2.9,2.9 0 1,0 5.8,0a2.9,2.9 0 1,0 -5.8,0M587.2,2335.0a2.9,2.9 0 1,0 5.8,0a2.9,2.9 0 1,0 -5.8,0M590.9,2336.3a2.9,2.9 0 1,0 5.8,0a2.9,2.9 0 1,0 -5.8,0M595.6,2336.1a2.9,2.9 0 1,0 5.8,0a2.9,2.9 0 1,0 -5.8,0M599.9,2337.3a2.9,2.9 0 1,0 5.8,0a2.9,2.9 0 1,0 -5.8,0M604.8,2336.5a2.9,2.9 0 1,0 5.8,0a2.9,2.9 0 1,0 -5.8,0M609.1,2335.6a2.9,2.9 0 1,0 5.8,0a2.9,2.9 0 1,0 -5.8,0M615.1,2332.6a2.9,2.9 0 1,0 5.8,0a2.9,2.9 0 1,0 -5.8,0M618.1,2331.6a2.9,2.9 0 1,0 5.8,0a2.9,2.9 0 1,0 -5.8,0M623.7,2329.0a2.9,2.9 0 1,0 5.8,0a2.9,2.9 0 1,0 -5.8,0M628.2,2326.6a2.9,2.9 0 1,0 5.8,0a2.9,2.9 0 1,0 -5.8,0M632.6,2326.9a2.9,2.9 0 1,0 5.8,0a2.9,2.9 0 1,0 -5.8,0M637.2,2324.0a2.9,2.9 0 1,0 5.8,0a2.9,2.9 0 1,0 -5.8,0M641.3,2321.8a2.9,2.9 0 1,0 5.8,0a2.9,2.9 0 1,0 -5.8,0M645.9,2318.7a2.9,2.9 0 1,0 5.8,0a2.9,2.9 0 1,0 -5.8,0M651.9,2313.5a2.9,2.9 0 1,0 5.8,0a2.9,2.9 0 1,0 -5.8,0M655.7,2307.2a2.9,2.9 0 1,0 5.8,0a2.9,2.9 0 1,0 -5.8,0M660.1,2304.4a2.9,2.9 0 1,0 5.8,0a2.9,2.9 0 1,0 -5.8,0M664.9,2299.5a2.9,2.9 0 1,0 5.8,0a2.9,2.9 0 1,0 -5.8,0M668.9,2292.8a2.9,2.9 0 1,0 5.8,0a2.9,2.9 0 1,0 -5.8,0M674.7,2285.4a2.9,2.9 0 1,0 5.8,0a2.9,2.9 0 1,0 -5.8,0M678.8,2277.6a2.9,2.9 0 1,0 5.8,0a2.9,2.9 0 1,0 -5.8,0M682.7,2272.4a2.9,2.9 0 1,0 5.8,0a2.9,2.9 0 1,0 -5.8,0M688.5,2265.7a2.9,2.9 0 1,0 5.8,0a2.9,2.9 0 1,0 -5.8,0M692.1,2260.5a2.9,2.9 0 1,0 5.8,0a2.9,2.9 0 1,0 -5.8,0M696.4,2252.4a2.9,2.9 0 1,0 5.8,0a2.9,2.9 0 1,0 -5.8,0M702.5,2241.8a2.9,2.9 0 1,0 5.8,0a2.9,2.9 0 1,0 -5.8,0M707.0,2236.1a2.9,2.9 0 1,0 5.8,0a2.9,2.9 0 1,0 -5.8,0M710.2,2230.3a2.9,2.9 0 1,0 5.8,0a2.9,2.9 0 1,0 -5.8,0M715.5,2222.9a2.9,2.9 0 1,0 5.8,0a2.9,2.9 0 1,0 -5.8,0M720.5,2216.8a2.9,2.9 0 1,0 5.8,0a2.9,2.9 0 1,0 -5.8,0M725.2,2212.9a2.9,2.9 0 1,0 5.8,0a2.9,2.9 0 1,0 -5.8,0M728.6,2211.4a2.9,2.9 0 1,0 5.8,0a2.9,2.9 0 1,0 -5.8,0M733.3,2209.0a2.9,2.9 0 1,0 5.8,0a2.9,2.9 0 1,0 -5.8,0M739.0,2208.2a2.9,2.9 0 1,0 5.8,0a2.9,2.9 0 1,0 -5.8,0M743.1,2206.5a2.9,2.9 0 1,0 5.8,0a2.9,2.9 0 1,0 -5.8,0M747.8,2208.7a2.9,2.9 0 1,0 5.8,0a2.9,2.9 0 1,0 -5.8,0M752.6,2212.2a2.9,2.9 0 1,0 5.8,0a2.9,2.9 0 1,0 -5.8,0M757.1,2217.4a2.9,2.9 0 1,0 5.8,0a2.9,2.9 0 1,0 -5.8,0M761.3,2223.6a2.9,2.9 0 1,0 5.8,0a2.9,2.9 0 1,0 -5.8,0M765.6,2227.2a2.9,2.9 0 1,0 5.8,0a2.9,2.9 0 1,0 -5.8,0M771.5,2236.4a2.9,2.9 0 1,0 5.8,0a2.9,2.9 0 1,0 -5.8,0M775.9,2245.5a2.9,2.9 0 1,0 5.8,0a2.9,2.9 0 1,0 -5.8,0M779.9,2249.1a2.9,2.9 0 1,0 5.8,0a2.9,2.9 0 1,0 -5.8,0M783.9,2258.6a2.9,2.9 0 1,0 5.8,0a2.9,2.9 0 1,0 -5.8,0M788.5,2264.6a2.9,2.9 0 1,0 5.8,0a2.9,2.9 0 1,0 -5.8,0M793.8,2271.7a2.9,2.9 0 1,0 5.8,0a2.9,2.9 0 1,0 -5.8,0M798.3,2278.9a2.9,2.9 0 1,0 5.8,0a2.9,2.9 0 1,0 -5.8,0M803.0,2287.4a2.9,2.9 0 1,0 5.8,0a2.9,2.9 0 1,0 -5.8,0M807.4,2292.4a2.9,2.9 0 1,0 5.8,0a2.9,2.9 0 1,0 -5.8,0M812.0,2298.7a2.9,2.9 0 1,0 5.8,0a2.9,2.9 0 1,0 -5.8,0M816.2,2304.1a2.9,2.9 0 1,0 5.8,0a2.9,2.9 0 1,0 -5.8,0M822.0,2312.0a2.9,2.9 0 1,0 5.8,0a2.9,2.9 0 1,0 -5.8,0M826.6,2314.9a2.9,2.9 0 1,0 5.8,0a2.9,2.9 0 1,0 -5.8,0M831.3,2321.3a2.9,2.9 0 1,0 5.8,0a2.9,2.9 0 1,0 -5.8,0M835.6,2325.5a2.9,2.9 0 1,0 5.8,0a2.9,2.9 0 1,0 -5.8,0M840.1,2327.6a2.9,2.9 0 1,0 5.8,0a2.9,2.9 0 1,0 -5.8,0M844.8,2330.6a2.9,2.9 0 1,0 5.8,0a2.9,2.9 0 1,0 -5.8,0M848.6,2332.6a2.9,2.9 0 1,0 5.8,0a2.9,2.9 0 1,0 -5.8,0M853.4,2337.2a2.9,2.9 0 1,0 5.8,0a2.9,2.9 0 1,0 -5.8,0M857.9,2340.9a2.9,2.9 0 1,0 5.8,0a2.9,2.9 0 1,0 -5.8,0M862.1,2341.5a2.9,2.9 0 1,0 5.8,0a2.9,2.9 0 1,0 -5.8,0M867.0,2343.4a2.9,2.9 0 1,0 5.8,0a2.9,2.9 0 1,0 -5.8,0M872.4,2345.7a2.9,2.9 0 1,0 5.8,0a2.9,2.9 0 1,0 -5.8,0M875.9,2344.8a2.9,2.9 0 1,0 5.8,0a2.9,2.9 0 1,0 -5.8,0M881.4,2349.1a2.9,2.9 0 1,0 5.8,0a2.9,2.9 0 1,0 -5.8,0M885.1,2348.5a2.9,2.9 0 1,0 5.8,0a2.9,2.9 0 1,0 -5.8,0M890.7,2350.3a2.9,2.9 0 1,0 5.8,0a2.9,2.9 0 1,0 -5.8,0M894.7,2351.0a2.9,2.9 0 1,0 5.8,0a2.9,2.9 0 1,0 -5.8,0M899.5,2352.1a2.9,2.9 0 1,0 5.8,0a2.9,2.9 0 1,0 -5.8,0M903.4,2352.7a2.9,2.9 0 1,0 5.8,0a2.9,2.9 0 1,0 -5.8,0M908.7,2351.2a2.9,2.9 0 1,0 5.8,0a2.9,2.9 0 1,0 -5.8,0M912.7,2350.9a2.9,2.9 0 1,0 5.8,0a2.9,2.9 0 1,0 -5.8,0M918.4,2353.2a2.9,2.9 0 1,0 5.8,0a2.9,2.9 0 1,0 -5.8,0M922.1,2352.2a2.9,2.9 0 1,0 5.8,0a2.9,2.9 0 1,0 -5.8,0M926.6,2351.9a2.9,2.9 0 1,0 5.8,0a2.9,2.9 0 1,0 -5.8,0M931.4,2352.8a2.9,2.9 0 1,0 5.8,0a2.9,2.9 0 1,0 -5.8,0M937.2,2355.8a2.9,2.9 0 1,0 5.8,0a2.9,2.9 0 1,0 -5.8,0M941.5,2354.0a2.9,2.9 0 1,0 5.8,0a2.9,2.9 0 1,0 -5.8,0M945.6,2355.4a2.9,2.9 0 1,0 5.8,0a2.9,2.9 0 1,0 -5.8,0M950.9,2355.6a2.9,2.9 0 1,0 5.8,0a2.9,2.9 0 1,0 -5.8,0M955.0,2353.6a2.9,2.9 0 1,0 5.8,0a2.9,2.9 0 1,0 -5.8,0M959.6,2356.4a2.9,2.9 0 1,0 5.8,0a2.9,2.9 0 1,0 -5.8,0M964.5,2353.6a2.9,2.9 0 1,0 5.8,0a2.9,2.9 0 1,0 -5.8,0M969.0,2354.8a2.9,2.9 0 1,0 5.8,0a2.9,2.9 0 1,0 -5.8,0M972.7,2357.4a2.9,2.9 0 1,0 5.8,0a2.9,2.9 0 1,0 -5.8,0M978.1,2356.7a2.9,2.9 0 1,0 5.8,0a2.9,2.9 0 1,0 -5.8,0M981.9,2357.2a2.9,2.9 0 1,0 5.8,0a2.9,2.9 0 1,0 -5.8,0M987.7,2357.7a2.9,2.9 0 1,0 5.8,0a2.9,2.9 0 1,0 -5.8,0M992.0,2357.5a2.9,2.9 0 1,0 5.8,0a2.9,2.9 0 1,0 -5.8,0M996.7,2356.7a2.9,2.9 0 1,0 5.8,0a2.9,2.9 0 1,0 -5.8,0M1000.7,2357.7a2.9,2.9 0 1,0 5.8,0a2.9,2.9 0 1,0 -5.8,0M1005.9,2358.1a2.9,2.9 0 1,0 5.8,0a2.9,2.9 0 1,0 -5.8,0M1009.7,2358.5a2.9,2.9 0 1,0 5.8,0a2.9,2.9 0 1,0 -5.8,0M1014.7,2358.6a2.9,2.9 0 1,0 5.8,0a2.9,2.9 0 1,0 -5.8,0M1018.6,2358.8a2.9,2.9 0 1,0 5.8,0a2.9,2.9 0 1,0 -5.8,0M1024.3,2356.1a2.9,2.9 0 1,0 5.8,0a2.9,2.9 0 1,0 -5.8,0M1029.0,2356.1a2.9,2.9 0 1,0 5.8,0a2.9,2.9 0 1,0 -5.8,0M1032.6,2357.1a2.9,2.9 0 1,0 5.8,0a2.9,2.9 0 1,0 -5.8,0M1037.2,2357.3a2.9,2.9 0 1,0 5.8,0a2.9,2.9 0 1,0 -5.8,0M1042.9,2358.2a2.9,2.9 0 1,0 5.8,0a2.9,2.9 0 1,0 -5.8,0M1047.2,2357.1a2.9,2.9 0 1,0 5.8,0a2.9,2.9 0 1,0 -5.8,0M1051.9,2358.8a2.9,2.9 0 1,0 5.8,0a2.9,2.9 0 1,0 -5.8,0M1056.4,2359.5a2.9,2.9 0 1,0 5.8,0a2.9,2.9 0 1,0 -5.8,0M1061.2,2357.4a2.9,2.9 0 1,0 5.8,0a2.9,2.9 0 1,0 -5.8,0M1064.6,2358.5a2.9,2.9 0 1,0 5.8,0a2.9,2.9 0 1,0 -5.8,0M1070.4,2357.3a2.9,2.9 0 1,0 5.8,0a2.9,2.9 0 1,0 -5.8,0M1074.6,2359.4a2.9,2.9 0 1,0 5.8,0a2.9,2.9 0 1,0 -5.8,0M1079.5,2356.1a2.9,2.9 0 1,0 5.8,0a2.9,2.9 0 1,0 -5.8,0M1083.7,2356.3a2.9,2.9 0 1,0 5.8,0a2.9,2.9 0 1,0 -5.8,0M1087.7,2359.5a2.9,2.9 0 1,0 5.8,0a2.9,2.9 0 1,0 -5.8,0M1092.7,2358.7a2.9,2.9 0 1,0 5.8,0a2.9,2.9 0 1,0 -5.8,0M1097.4,2357.7a2.9,2.9 0 1,0 5.8,0a2.9,2.9 0 1,0 -5.8,0M1101.6,2357.9a2.9,2.9 0 1,0 5.8,0a2.9,2.9 0 1,0 -5.8,0M1107.2,2359.0a2.9,2.9 0 1,0 5.8,0a2.9,2.9 0 1,0 -5.8,0M1111.0,2356.9a2.9,2.9 0 1,0 5.8,0a2.9,2.9 0 1,0 -5.8,0M1115.5,2359.4a2.9,2.9 0 1,0 5.8,0a2.9,2.9 0 1,0 -5.8,0M1120.4,2359.3a2.9,2.9 0 1,0 5.8,0a2.9,2.9 0 1,0 -5.8,0M1125.6,2357.3a2.9,2.9 0 1,0 5.8,0a2.9,2.9 0 1,0 -5.8,0M1130.0,2357.0a2.9,2.9 0 1,0 5.8,0a2.9,2.9 0 1,0 -5.8,0M1134.8,2357.6a2.9,2.9 0 1,0 5.8,0a2.9,2.9 0 1,0 -5.8,0M1138.5,2360.8a2.9,2.9 0 1,0 5.8,0a2.9,2.9 0 1,0 -5.8,0M1143.3,2357.9a2.9,2.9 0 1,0 5.8,0a2.9,2.9 0 1,0 -5.8,0M1148.7,2359.5a2.9,2.9 0 1,0 5.8,0a2.9,2.9 0 1,0 -5.8,0" fill="#fff" fill-opacity="0.5" stroke="#62bcf8" stroke-width="1.3"/>
<path d="M391.8,2803.1 L391.8,2802.3 L393.8,2802.3 L395.8,2802.3 L397.8,2802.3 L399.8,2802.3 L401.8,2802.4 L403.8,2802.4 L405.8,2802.4 L407.8,2802.4 L409.7,2802.4 L411.7,2802.4 L413.7,2802.4 L415.7,2802.4 L417.7,2802.5 L419.7,2802.5 L421.7,2802.5 L423.7,2802.5 L425.7,2802.5 L427.7,2802.5 L429.7,2802.5 L431.7,2802.5 L433.7,2802.5 L435.7,2802.6 L437.7,2802.6 L439.7,2802.6 L441.7,2802.6 L443.7,2802.6 L445.6,2802.6 L447.6,2802.6 L449.6,2802.6 L451.6,2802.6 L453.6,2802.6 L455.6,2802.6 L457.6,2802.7 L459.6,2802.7 L461.6,2802.7 L463.6,2802.7 L465.6,2802.7 L467.6,2802.7 L469.6,2802.7 L471.6,2802.7 L473.6,2802.7 L475.6,2802.7 L477.6,2802.7 L479.6,2802.7 L481.5,2802.7 L483.5,2802.7 L485.5,2802.7 L487.5,2802.7 L489.5,2802.7 L491.5,2802.7 L493.5,2802.7 L495.5,2802.7 L497.5,2802.7 L499.5,2802.7 L501.5,2802.7 L503.5,2802.7 L505.5,2802.7 L507.5,2802.7 L509.5,2802.7 L511.5,2802.7 L513.5,2802.7 L515.4,2802.7 L517.4,2802.7 L519.4,2802.7 L521.4,2802.6 L523.4,2802.6 L525.4,2802.6 L527.4,2802.6 L529.4,2802.6 L531.4,2802.6 L533.4,2802.6 L535.4,2802.6 L537.4,2802.5 L539.4,2802.5 L541.4,2802.5 L543.4,2802.5 L545.4,2802.4 L547.4,2802.4 L549.4,2802.4 L551.3,2802.4 L553.3,2802.3 L555.3,2802.3 L557.3,2802.3 L559.3,2802.2 L561.3,2802.2 L563.3,2802.2 L565.3,2802.1 L567.3,2802.1 L569.3,2802.0 L571.3,2802.0 L573.3,2801.9 L575.3,2801.8 L577.3,2801.8 L579.3,2801.7 L581.3,2801.6 L583.3,2801.5 L585.3,2801.4 L587.2,2801.3 L589.2,2801.2 L591.2,2801.1 L593.2,2801.0 L595.2,2800.9 L597.2,2800.7 L599.2,2800.6 L601.2,2800.4 L603.2,2800.2 L605.2,2800.0 L607.2,2799.8 L609.2,2799.5 L611.2,2799.2 L613.2,2799.0 L615.2,2798.7 L617.2,2798.3 L619.2,2797.9 L621.1,2797.5 L623.1,2797.1 L625.1,2796.6 L627.1,2796.1 L629.1,2795.6 L631.1,2795.0 L633.1,2794.4 L635.1,2793.7 L637.1,2793.0 L639.1,2792.2 L641.1,2791.3 L643.1,2790.4 L645.1,2789.5 L647.1,2788.5 L649.1,2787.4 L651.1,2786.2 L653.1,2785.0 L655.1,2783.7 L657.0,2782.3 L659.0,2780.8 L661.0,2779.3 L663.0,2777.7 L665.0,2776.0 L667.0,2774.2 L669.0,2772.4 L671.0,2770.4 L673.0,2768.4 L675.0,2766.3 L677.0,2764.1 L679.0,2761.9 L681.0,2759.6 L683.0,2757.2 L685.0,2754.7 L687.0,2752.2 L689.0,2749.7 L691.0,2747.0 L692.9,2744.4 L694.9,2741.7 L696.9,2739.0 L698.9,2736.2 L700.9,2733.4 L702.9,2730.7 L704.9,2727.9 L706.9,2725.2 L708.9,2722.5 L710.9,2719.8 L712.9,2717.2 L714.9,2714.7 L716.9,2712.2 L718.9,2709.8 L720.9,2707.6 L722.9,2705.4 L724.9,2703.5 L726.8,2701.6 L728.8,2699.9 L730.8,2698.4 L732.8,2697.1 L734.8,2696.0 L736.8,2695.1 L738.8,2694.5 L740.8,2694.0 L742.8,2693.8 L744.8,2693.8 L746.8,2694.1 L748.8,2694.6 L750.8,2695.3 L752.8,2696.2 L754.8,2697.4 L756.8,2698.7 L758.8,2700.3 L760.8,2702.0 L762.7,2703.9 L764.7,2705.9 L766.7,2708.1 L768.7,2710.4 L770.7,2712.8 L772.7,2715.3 L774.7,2717.9 L776.7,2720.6 L778.7,2723.3 L780.7,2726.1 L782.7,2728.8 L784.7,2731.6 L786.7,2734.4 L788.7,2737.3 L790.7,2740.0 L792.7,2742.8 L794.7,2745.6 L796.6,2748.3 L798.6,2750.9 L800.6,2753.5 L802.6,2756.1 L804.6,2758.6 L806.6,2761.0 L808.6,2763.4 L810.6,2765.7 L812.6,2767.9 L814.6,2770.0 L816.6,2772.1 L818.6,2774.1 L820.6,2776.0 L822.6,2777.8 L824.6,2779.6 L826.6,2781.2 L828.6,2782.8 L830.6,2784.3 L832.5,2785.7 L834.5,2787.1 L836.5,2788.4 L838.5,2789.6 L840.5,2790.7 L842.5,2791.8 L844.5,2792.8 L846.5,2793.7 L848.5,2794.6 L850.5,2795.5 L852.5,2796.2 L854.5,2797.0 L856.5,2797.6 L858.5,2798.3 L860.5,2798.9 L862.5,2799.4 L864.5,2799.9 L866.5,2800.4 L868.4,2800.8 L870.4,2801.3 L872.4,2801.6 L874.4,2802.0 L876.4,2802.3 L878.4,2802.7 L880.4,2802.9 L882.4,2803.2 L884.4,2803.5 L886.4,2803.7 L888.4,2803.9 L890.4,2804.1 L892.4,2804.3 L894.4,2804.5 L896.4,2804.7 L898.4,2804.8 L900.4,2805.0 L902.3,2805.1 L904.3,2805.3 L906.3,2805.4 L908.3,2805.5 L910.3,2805.7 L912.3,2805.8 L914.3,2805.9 L916.3,2806.0 L918.3,2806.1 L920.3,2806.2 L922.3,2806.3 L924.3,2806.4 L926.3,2806.5 L928.3,2806.5 L930.3,2806.6 L932.3,2806.7 L934.3,2806.8 L936.3,2806.9 L938.2,2806.9 L940.2,2807.0 L942.2,2807.1 L944.2,2807.1 L946.2,2807.2 L948.2,2807.3 L950.2,2807.3 L952.2,2807.4 L954.2,2807.5 L956.2,2807.5 L958.2,2807.6 L960.2,2807.7 L962.2,2807.7 L964.2,2807.8 L966.2,2807.8 L968.2,2807.9 L970.2,2807.9 L972.2,2808.0 L974.1,2808.0 L976.1,2808.1 L978.1,2808.2 L980.1,2808.2 L982.1,2808.3 L984.1,2808.3 L986.1,2808.4 L988.1,2808.4 L990.1,2808.5 L992.1,2808.5 L994.1,2808.5 L996.1,2808.6 L998.1,2808.6 L1000.1,2808.7 L1002.1,2808.7 L1004.1,2808.8 L1006.1,2808.8 L1008.0,2808.9 L1010.0,2808.9 L1012.0,2809.0 L1014.0,2809.0 L1016.0,2809.0 L1018.0,2809.1 L1020.0,2809.1 L1022.0,2809.2 L1024.0,2809.2 L1026.0,2809.2 L1028.0,2809.3 L1030.0,2809.3 L1032.0,2809.4 L1034.0,2809.4 L1036.0,2809.4 L1038.0,2809.5 L1040.0,2809.5 L1042.0,2809.6 L1043.9,2809.6 L1045.9,2809.6 L1047.9,2809.7 L1049.9,2809.7 L1051.9,2809.7 L1053.9,2809.8 L1055.9,2809.8 L1057.9,2809.8 L1059.9,2809.9 L1061.9,2809.9 L1063.9,2810.0 L1065.9,2810.0 L1067.9,2810.0 L1069.9,2810.1 L1071.9,2810.1 L1073.9,2810.1 L1075.9,2810.2 L1077.9,2810.2 L1079.8,2810.2 L1081.8,2810.3 L1083.8,2810.3 L1085.8,2810.3 L1087.8,2810.4 L1089.8,2810.4 L1091.8,2810.4 L1093.8,2810.5 L1095.8,2810.5 L1095.8,2811.3Z" fill="url(#g15)" fill-opacity="0.88"/>
<path d="M166.8,2800.5 L166.8,2797.7 L168.8,2797.7 L170.8,2797.7 L172.8,2797.7 L174.8,2797.7 L176.8,2797.7 L178.8,2797.6 L180.8,2797.6 L182.8,2797.6 L184.8,2797.6 L186.8,2797.5 L188.8,2797.5 L190.7,2797.5 L192.7,2797.5 L194.7,2797.4 L196.7,2797.4 L198.7,2797.4 L200.7,2797.3 L202.7,2797.3 L204.7,2797.3 L206.7,2797.2 L208.7,2797.2 L210.7,2797.2 L212.7,2797.1 L214.7,2797.1 L216.7,2797.0 L218.7,2797.0 L220.7,2797.0 L222.7,2796.9 L224.7,2796.9 L226.7,2796.8 L228.7,2796.7 L230.7,2796.7 L232.7,2796.6 L234.7,2796.6 L236.6,2796.5 L238.6,2796.4 L240.6,2796.4 L242.6,2796.3 L244.6,2796.2 L246.6,2796.2 L248.6,2796.1 L250.6,2796.0 L252.6,2795.9 L254.6,2795.8 L256.6,2795.7 L258.6,2795.6 L260.6,2795.5 L262.6,2795.4 L264.6,2795.3 L266.6,2795.2 L268.6,2795.1 L270.6,2795.0 L272.6,2794.9 L274.6,2794.7 L276.6,2794.6 L278.6,2794.4 L280.6,2794.3 L282.6,2794.1 L284.5,2794.0 L286.5,2793.8 L288.5,2793.6 L290.5,2793.5 L292.5,2793.3 L294.5,2793.1 L296.5,2792.9 L298.5,2792.6 L300.5,2792.4 L302.5,2792.1 L304.5,2791.9 L306.5,2791.6 L308.5,2791.3 L310.5,2791.0 L312.5,2790.6 L314.5,2790.2 L316.5,2789.8 L318.5,2789.4 L320.5,2788.9 L322.5,2788.4 L324.5,2787.8 L326.5,2787.2 L328.5,2786.6 L330.4,2785.8 L332.4,2785.0 L334.4,2784.1 L336.4,2783.1 L338.4,2782.0 L340.4,2780.8 L342.4,2779.5 L344.4,2778.0 L346.4,2776.4 L348.4,2774.7 L350.4,2772.7 L352.4,2770.5 L354.4,2768.2 L356.4,2765.6 L358.4,2762.7 L360.4,2759.6 L362.4,2756.2 L364.4,2752.5 L366.4,2748.5 L368.4,2744.2 L370.4,2739.5 L372.4,2734.4 L374.4,2728.9 L376.3,2723.0 L378.3,2716.7 L380.3,2710.0 L382.3,2702.9 L384.3,2695.3 L386.3,2687.3 L388.3,2678.8 L390.3,2670.0 L392.3,2660.7 L394.3,2651.0 L396.3,2640.9 L398.3,2630.5 L400.3,2619.7 L402.3,2608.6 L404.3,2597.3 L406.3,2585.8 L408.3,2574.1 L410.3,2562.3 L412.3,2550.4 L414.3,2538.6 L416.3,2526.8 L418.3,2515.2 L420.3,2503.9 L422.2,2492.9 L424.2,2482.4 L426.2,2472.3 L428.2,2463.0 L430.2,2454.3 L432.2,2446.4 L434.2,2439.5 L436.2,2433.6 L438.2,2428.8 L440.2,2425.1 L442.2,2422.6 L444.2,2421.4 L446.2,2421.4 L448.2,2422.7 L450.2,2425.2 L452.2,2428.9 L454.2,2433.8 L456.2,2439.8 L458.2,2446.7 L460.2,2454.6 L462.2,2463.3 L464.2,2472.8 L466.2,2482.9 L468.2,2493.5 L470.1,2504.5 L472.1,2515.9 L474.1,2527.5 L476.1,2539.3 L478.1,2551.2 L480.1,2563.1 L482.1,2574.9 L484.1,2586.7 L486.1,2598.3 L488.1,2609.6 L490.1,2620.8 L492.1,2631.6 L494.1,2642.1 L496.1,2652.2 L498.1,2661.9 L500.1,2671.3 L502.1,2680.2 L504.1,2688.7 L506.1,2696.7 L508.1,2704.3 L510.1,2711.5 L512.1,2718.3 L514.1,2724.6 L516.0,2730.5 L518.0,2736.1 L520.0,2741.2 L522.0,2746.0 L524.0,2750.4 L526.0,2754.4 L528.0,2758.2 L530.0,2761.6 L532.0,2764.8 L534.0,2767.7 L536.0,2770.3 L538.0,2772.7 L540.0,2774.9 L542.0,2776.9 L544.0,2778.7 L546.0,2780.4 L548.0,2781.9 L550.0,2783.3 L552.0,2784.5 L554.0,2785.6 L556.0,2786.7 L558.0,2787.6 L560.0,2788.5 L561.9,2789.3 L563.9,2790.0 L565.9,2790.7 L567.9,2791.3 L569.9,2791.8 L571.9,2792.4 L573.9,2792.8 L575.9,2793.3 L577.9,2793.7 L579.9,2794.1 L581.9,2794.5 L583.9,2794.8 L585.9,2795.2 L587.9,2795.5 L589.9,2795.8 L591.9,2796.1 L593.9,2796.3 L595.9,2796.6 L597.9,2796.8 L599.9,2797.1 L601.9,2797.3 L603.9,2797.5 L605.9,2797.7 L607.8,2797.9 L609.8,2798.1 L611.8,2798.3 L613.8,2798.5 L615.8,2798.7 L617.8,2798.9 L619.8,2799.0 L621.8,2799.2 L623.8,2799.4 L625.8,2799.5 L627.8,2799.7 L629.8,2799.8 L631.8,2800.0 L633.8,2800.1 L635.8,2800.3 L637.8,2800.4 L639.8,2800.5 L641.8,2800.7 L643.8,2800.8 L645.8,2800.9 L647.8,2801.0 L649.8,2801.1 L651.8,2801.3 L653.8,2801.4 L655.7,2801.5 L657.7,2801.6 L659.7,2801.7 L661.7,2801.8 L663.7,2801.9 L665.7,2802.0 L667.7,2802.1 L669.7,2802.2 L671.7,2802.3 L673.7,2802.4 L675.7,2802.5 L677.7,2802.5 L679.7,2802.6 L681.7,2802.7 L683.7,2802.8 L685.7,2802.9 L687.7,2803.0 L689.7,2803.0 L691.7,2803.1 L693.7,2803.2 L695.7,2803.3 L697.7,2803.4 L699.7,2803.4 L701.6,2803.5 L703.6,2803.6 L705.6,2803.6 L707.6,2803.7 L709.6,2803.8 L711.6,2803.8 L713.6,2803.9 L715.6,2804.0 L717.6,2804.0 L719.6,2804.1 L721.6,2804.2 L723.6,2804.2 L723.6,2807.0Z" fill="url(#g16)" fill-opacity="0.95"/>
<path d="M127.4,2801.0 L1153.0,2813.0" stroke="#3ea6f2" stroke-width="2.5"/>
<path d="M127.4,2794.6 L129.4,2794.6 L131.4,2794.6 L133.4,2794.6 L135.4,2794.6 L137.4,2794.6 L139.4,2794.6 L141.4,2794.6 L143.4,2794.6 L145.4,2794.6 L147.4,2794.6 L149.4,2794.6 L151.4,2794.5 L153.4,2794.5 L155.4,2794.5 L157.4,2794.5 L159.4,2794.5 L161.5,2794.5 L163.5,2794.5 L165.5,2794.4 L167.5,2794.4 L169.5,2794.4 L171.5,2794.4 L173.5,2794.4 L175.5,2794.4 L177.5,2794.3 L179.5,2794.3 L181.5,2794.3 L183.5,2794.3 L185.5,2794.2 L187.5,2794.2 L189.5,2794.2 L191.5,2794.2 L193.5,2794.1 L195.5,2794.1 L197.5,2794.1 L199.5,2794.0 L201.5,2794.0 L203.5,2794.0 L205.5,2793.9 L207.5,2793.9 L209.5,2793.8 L211.5,2793.8 L213.5,2793.7 L215.5,2793.7 L217.5,2793.7 L219.5,2793.6 L221.5,2793.6 L223.6,2793.5 L225.6,2793.5 L227.6,2793.4 L229.6,2793.3 L231.6,2793.3 L233.6,2793.2 L235.6,2793.1 L237.6,2793.1 L239.6,2793.0 L241.6,2792.9 L243.6,2792.9 L245.6,2792.8 L247.6,2792.7 L249.6,2792.6 L251.6,2792.5 L253.6,2792.4 L255.6,2792.3 L257.6,2792.2 L259.6,2792.1 L261.6,2792.0 L263.6,2791.9 L265.6,2791.8 L267.6,2791.7 L269.6,2791.6 L271.6,2791.5 L273.6,2791.3 L275.6,2791.2 L277.6,2791.0 L279.6,2790.9 L281.6,2790.7 L283.6,2790.6 L285.6,2790.4 L287.6,2790.2 L289.7,2790.1 L291.7,2789.9 L293.7,2789.7 L295.7,2789.4 L297.7,2789.2 L299.7,2789.0 L301.7,2788.7 L303.7,2788.5 L305.7,2788.2 L307.7,2787.9 L309.7,2787.6 L311.7,2787.2 L313.7,2786.8 L315.7,2786.4 L317.7,2786.0 L319.7,2785.6 L321.7,2785.0 L323.7,2784.5 L325.7,2783.9 L327.7,2783.2 L329.7,2782.5 L331.7,2781.7 L333.7,2780.8 L335.7,2779.9 L337.7,2778.8 L339.7,2777.6 L341.7,2776.3 L343.7,2774.9 L345.7,2773.4 L347.7,2771.6 L349.7,2769.7 L351.8,2767.6 L353.8,2765.3 L355.8,2762.8 L357.8,2760.0 L359.8,2756.9 L361.8,2753.6 L363.8,2750.0 L365.8,2746.1 L367.8,2741.8 L369.8,2737.2 L371.8,2732.1 L373.8,2726.8 L375.8,2721.0 L377.8,2714.8 L379.8,2708.1 L381.8,2701.1 L383.8,2693.6 L385.8,2685.7 L387.8,2677.3 L389.8,2668.5 L391.8,2659.2 L393.8,2649.6 L395.8,2639.6 L397.8,2629.2 L399.8,2618.4 L401.8,2607.4 L403.8,2596.1 L405.8,2584.5 L407.8,2572.8 L409.8,2560.9 L411.8,2549.0 L413.8,2537.1 L415.9,2525.3 L417.9,2513.6 L419.9,2502.2 L421.9,2491.1 L423.9,2480.4 L425.9,2470.2 L427.9,2460.6 L429.9,2451.8 L431.9,2443.7 L433.9,2436.6 L435.9,2430.5 L437.9,2425.4 L439.9,2421.5 L441.9,2418.8 L443.9,2417.4 L445.9,2417.2 L447.9,2418.3 L449.9,2420.6 L451.9,2424.2 L453.9,2428.9 L455.9,2434.7 L457.9,2441.6 L459.9,2449.4 L461.9,2458.0 L463.9,2467.4 L465.9,2477.4 L467.9,2488.0 L469.9,2499.0 L471.9,2510.3 L473.9,2522.0 L475.9,2533.8 L477.9,2545.7 L479.9,2557.6 L482.0,2569.5 L484.0,2581.3 L486.0,2592.9 L488.0,2604.3 L490.0,2615.5 L492.0,2626.3 L494.0,2636.8 L496.0,2647.0 L498.0,2656.8 L500.0,2666.1 L502.0,2675.1 L504.0,2683.6 L506.0,2691.7 L508.0,2699.3 L510.0,2706.5 L512.0,2713.3 L514.0,2719.6 L516.0,2725.6 L518.0,2731.1 L520.0,2736.2 L522.0,2740.9 L524.0,2745.3 L526.0,2749.4 L528.0,2753.1 L530.0,2756.5 L532.0,2759.6 L534.0,2762.5 L536.0,2765.1 L538.0,2767.5 L540.0,2769.6 L542.0,2771.6 L544.0,2773.4 L546.1,2775.0 L548.1,2776.5 L550.1,2777.8 L552.1,2779.0 L554.1,2780.0 L556.1,2781.0 L558.1,2781.9 L560.1,2782.7 L562.1,2783.4 L564.1,2784.1 L566.1,2784.7 L568.1,2785.2 L570.1,2785.7 L572.1,2786.1 L574.1,2786.5 L576.1,2786.9 L578.1,2787.2 L580.1,2787.5 L582.1,2787.8 L584.1,2788.0 L586.1,2788.2 L588.1,2788.4 L590.1,2788.6 L592.1,2788.7 L594.1,2788.8 L596.1,2788.9 L598.1,2789.0 L600.1,2789.0 L602.1,2789.1 L604.1,2789.1 L606.1,2789.0 L608.1,2789.0 L610.2,2788.9 L612.2,2788.8 L614.2,2788.7 L616.2,2788.5 L618.2,2788.3 L620.2,2788.1 L622.2,2787.8 L624.2,2787.5 L626.2,2787.1 L628.2,2786.7 L630.2,2786.3 L632.2,2785.8 L634.2,2785.2 L636.2,2784.6 L638.2,2784.0 L640.2,2783.3 L642.2,2782.5 L644.2,2781.7 L646.2,2780.8 L648.2,2779.8 L650.2,2778.8 L652.2,2777.6 L654.2,2776.5 L656.2,2775.2 L658.2,2773.8 L660.2,2772.4 L662.2,2770.9 L664.2,2769.3 L666.2,2767.6 L668.2,2765.9 L670.2,2764.0 L672.2,2762.1 L674.3,2760.1 L676.3,2758.0 L678.3,2755.8 L680.3,2753.6 L682.3,2751.3 L684.3,2748.9 L686.3,2746.5 L688.3,2744.0 L690.3,2741.4 L692.3,2738.8 L694.3,2736.2 L696.3,2733.5 L698.3,2730.8 L700.3,2728.1 L702.3,2725.4 L704.3,2722.6 L706.3,2719.9 L708.3,2717.2 L710.3,2714.6 L712.3,2712.0 L714.3,2709.5 L716.3,2707.0 L718.3,2704.6 L720.3,2702.4 L722.3,2700.2 L724.3,2698.2 L726.3,2696.4 L728.3,2694.7 L730.3,2693.2 L732.3,2691.9 L734.3,2690.7 L736.3,2689.8 L738.4,2689.1 L740.4,2688.7 L742.4,2688.4 L744.4,2688.4 L746.4,2688.7 L748.4,2689.1 L750.4,2689.8 L752.4,2690.8 L754.4,2691.9 L756.4,2693.3 L758.4,2694.8 L760.4,2696.5 L762.4,2698.4 L764.4,2700.5 L766.4,2702.7 L768.4,2705.0 L770.4,2707.4 L772.4,2710.0 L774.4,2712.6 L776.4,2715.3 L778.4,2718.0 L780.4,2720.8 L782.4,2723.6 L784.4,2726.4 L786.4,2729.3 L788.4,2732.1 L790.4,2734.9 L792.4,2737.7 L794.4,2740.5 L796.4,2743.3 L798.4,2746.0 L800.4,2748.6 L802.5,2751.2 L804.5,2753.7 L806.5,2756.2 L808.5,2758.6 L810.5,2760.9 L812.5,2763.2 L814.5,2765.3 L816.5,2767.4 L818.5,2769.4 L820.5,2771.4 L822.5,2773.2 L824.5,2775.0 L826.5,2776.7 L828.5,2778.3 L830.5,2779.8 L832.5,2781.3 L834.5,2782.6 L836.5,2783.9 L838.5,2785.2 L840.5,2786.3 L842.5,2787.4 L844.5,2788.4 L846.5,2789.4 L848.5,2790.3 L850.5,2791.2 L852.5,2792.0 L854.5,2792.7 L856.5,2793.4 L858.5,2794.0 L860.5,2794.6 L862.5,2795.2 L864.5,2795.7 L866.6,2796.2 L868.6,2796.7 L870.6,2797.1 L872.6,2797.5 L874.6,2797.9 L876.6,2798.2 L878.6,2798.5 L880.6,2798.8 L882.6,2799.1 L884.6,2799.4 L886.6,2799.6 L888.6,2799.8 L890.6,2800.1 L892.6,2800.3 L894.6,2800.5 L896.6,2800.6 L898.6,2800.8 L900.6,2801.0 L902.6,2801.1 L904.6,2801.3 L906.6,2801.4 L908.6,2801.5 L910.6,2801.7 L912.6,2801.8 L914.6,2801.9 L916.6,2802.0 L918.6,2802.1 L920.6,2802.2 L922.6,2802.3 L924.6,2802.4 L926.6,2802.5 L928.6,2802.6 L930.7,2802.7 L932.7,2802.8 L934.7,2802.9 L936.7,2803.0 L938.7,2803.1 L940.7,2803.1 L942.7,2803.2 L944.7,2803.3 L946.7,2803.4 L948.7,2803.4 L950.7,2803.5 L952.7,2803.6 L954.7,2803.7 L956.7,2803.7 L958.7,2803.8 L960.7,2803.9 L962.7,2803.9 L964.7,2804.0 L966.7,2804.0 L968.7,2804.1 L970.7,2804.2 L972.7,2804.2 L974.7,2804.3 L976.7,2804.4 L978.7,2804.4 L980.7,2804.5 L982.7,2804.5 L984.7,2804.6 L986.7,2804.6 L988.7,2804.7 L990.7,2804.7 L992.7,2804.8 L994.8,2804.8 L996.8,2804.9 L998.8,2805.0 L1000.8,2805.0 L1002.8,2805.1 L1004.8,2805.1 L1006.8,2805.2 L1008.8,2805.2 L1010.8,2805.2 L1012.8,2805.3 L1014.8,2805.3 L1016.8,2805.4 L1018.8,2805.4 L1020.8,2805.5 L1022.8,2805.5 L1024.8,2805.6 L1026.8,2805.6 L1028.8,2805.7 L1030.8,2805.7 L1032.8,2805.8 L1034.8,2805.8 L1036.8,2805.8 L1038.8,2805.9 L1040.8,2805.9 L1042.8,2806.0 L1044.8,2806.0 L1046.8,2806.0 L1048.8,2806.1 L1050.8,2806.1 L1052.8,2806.2 L1054.8,2806.2 L1056.8,2806.2 L1058.9,2806.3 L1060.9,2806.3 L1062.9,2806.4 L1064.9,2806.4 L1066.9,2806.4 L1068.9,2806.5 L1070.9,2806.5 L1072.9,2806.6 L1074.9,2806.6 L1076.9,2806.6 L1078.9,2806.7 L1080.9,2806.7 L1082.9,2806.7 L1084.9,2806.8 L1086.9,2806.8 L1088.9,2806.9 L1090.9,2806.9 L1092.9,2806.9 L1094.9,2807.0 L1096.9,2807.0 L1098.9,2807.0 L1100.9,2807.1 L1102.9,2807.1 L1104.9,2807.1 L1106.9,2807.2 L1108.9,2807.2 L1110.9,2807.2 L1112.9,2807.3 L1114.9,2807.3 L1116.9,2807.3 L1118.9,2807.4 L1121.0,2807.4 L1123.0,2807.4 L1125.0,2807.5 L1127.0,2807.5 L1129.0,2807.5 L1131.0,2807.6 L1133.0,2807.6 L1135.0,2807.6 L1137.0,2807.7 L1139.0,2807.7 L1141.0,2807.7 L1143.0,2807.8 L1145.0,2807.8 L1147.0,2807.8 L1149.0,2807.9 L1151.0,2807.9 L1153.0,2807.9" fill="none" stroke="#4aaef5" stroke-width="2.2" stroke-linejoin="round"/>
<path d="M127.1,2794.4a2.9,2.9 0 1,0 5.8,0a2.9,2.9 0 1,0 -5.8,0M131.1,2795.7a2.9,2.9 0 1,0 5.8,0a2.9,2.9 0 1,0 -5.8,0M135.7,2795.8a2.9,2.9 0 1,0 5.8,0a2.9,2.9 0 1,0 -5.8,0M139.8,2795.4a2.9,2.9 0 1,0 5.8,0a2.9,2.9 0 1,0 -5.8,0M144.4,2794.6a2.9,2.9 0 1,0 5.8,0a2.9,2.9 0 1,0 -5.8,0M148.7,2793.8a2.9,2.9 0 1,0 5.8,0a2.9,2.9 0 1,0 -5.8,0M154.8,2794.4a2.9,2.9 0 1,0 5.8,0a2.9,2.9 0 1,0 -5.8,0M159.2,2793.9a2.9,2.9 0 1,0 5.8,0a2.9,2.9 0 1,0 -5.8,0M163.1,2793.5a2.9,2.9 0 1,0 5.8,0a2.9,2.9 0 1,0 -5.8,0M168.0,2795.3a2.9,2.9 0 1,0 5.8,0a2.9,2.9 0 1,0 -5.8,0M172.5,2794.1a2.9,2.9 0 1,0 5.8,0a2.9,2.9 0 1,0 -5.8,0M177.8,2795.2a2.9,2.9 0 1,0 5.8,0a2.9,2.9 0 1,0 -5.8,0M182.0,2793.2a2.9,2.9 0 1,0 5.8,0a2.9,2.9 0 1,0 -5.8,0M186.5,2794.0a2.9,2.9 0 1,0 5.8,0a2.9,2.9 0 1,0 -5.8,0M191.7,2793.8a2.9,2.9 0 1,0 5.8,0a2.9,2.9 0 1,0 -5.8,0M195.8,2794.4a2.9,2.9 0 1,0 5.8,0a2.9,2.9 0 1,0 -5.8,0M199.9,2794.0a2.9,2.9 0 1,0 5.8,0a2.9,2.9 0 1,0 -5.8,0M205.0,2794.8a2.9,2.9 0 1,0 5.8,0a2.9,2.9 0 1,0 -5.8,0M209.3,2793.5a2.9,2.9 0 1,0 5.8,0a2.9,2.9 0 1,0 -5.8,0M214.7,2792.6a2.9,2.9 0 1,0 5.8,0a2.9,2.9 0 1,0 -5.8,0M219.1,2794.0a2.9,2.9 0 1,0 5.8,0a2.9,2.9 0 1,0 -5.8,0M223.2,2793.3a2.9,2.9 0 1,0 5.8,0a2.9,2.9 0 1,0 -5.8,0M228.1,2794.2a2.9,2.9 0 1,0 5.8,0a2.9,2.9 0 1,0 -5.8,0M232.7,2793.7a2.9,2.9 0 1,0 5.8,0a2.9,2.9 0 1,0 -5.8,0M236.2,2792.6a2.9,2.9 0 1,0 5.8,0a2.9,2.9 0 1,0 -5.8,0M241.0,2793.9a2.9,2.9 0 1,0 5.8,0a2.9,2.9 0 1,0 -5.8,0M246.8,2791.8a2.9,2.9 0 1,0 5.8,0a2.9,2.9 0 1,0 -5.8,0M250.9,2792.6a2.9,2.9 0 1,0 5.8,0a2.9,2.9 0 1,0 -5.8,0M254.6,2792.0a2.9,2.9 0 1,0 5.8,0a2.9,2.9 0 1,0 -5.8,0M260.3,2792.3a2.9,2.9 0 1,0 5.8,0a2.9,2.9 0 1,0 -5.8,0M264.2,2792.4a2.9,2.9 0 1,0 5.8,0a2.9,2.9 0 1,0 -5.8,0M268.8,2791.6a2.9,2.9 0 1,0 5.8,0a2.9,2.9 0 1,0 -5.8,0M273.6,2792.3a2.9,2.9 0 1,0 5.8,0a2.9,2.9 0 1,0 -5.8,0M278.6,2791.5a2.9,2.9 0 1,0 5.8,0a2.9,2.9 0 1,0 -5.8,0M283.2,2790.1a2.9,2.9 0 1,0 5.8,0a2.9,2.9 0 1,0 -5.8,0M288.3,2790.4a2.9,2.9 0 1,0 5.8,0a2.9,2.9 0 1,0 -5.8,0M292.5,2788.9a2.9,2.9 0 1,0 5.8,0a2.9,2.9 0 1,0 -5.8,0M296.2,2789.2a2.9,2.9 0 1,0 5.8,0a2.9,2.9 0 1,0 -5.8,0M301.9,2789.0a2.9,2.9 0 1,0 5.8,0a2.9,2.9 0 1,0 -5.8,0M305.7,2786.9a2.9,2.9 0 1,0 5.8,0a2.9,2.9 0 1,0 -5.8,0M310.6,2787.8a2.9,2.9 0 1,0 5.8,0a2.9,2.9 0 1,0 -5.8,0M314.6,2786.6a2.9,2.9 0 1,0 5.8,0a2.9,2.9 0 1,0 -5.8,0M319.2,2784.5a2.9,2.9 0 1,0 5.8,0a2.9,2.9 0 1,0 -5.8,0M323.7,2783.1a2.9,2.9 0 1,0 5.8,0a2.9,2.9 0 1,0 -5.8,0M328.8,2782.8a2.9,2.9 0 1,0 5.8,0a2.9,2.9 0 1,0 -5.8,0M334.3,2778.3a2.9,2.9 0 1,0 5.8,0a2.9,2.9 0 1,0 -5.8,0M337.9,2778.0a2.9,2.9 0 1,0 5.8,0a2.9,2.9 0 1,0 -5.8,0M342.3,2773.4a2.9,2.9 0 1,0 5.8,0a2.9,2.9 0 1,0 -5.8,0M347.3,2768.3a2.9,2.9 0 1,0 5.8,0a2.9,2.9 0 1,0 -5.8,0M351.6,2764.1a2.9,2.9 0 1,0 5.8,0a2.9,2.9 0 1,0 -5.8,0M356.4,2758.8a2.9,2.9 0 1,0 5.8,0a2.9,2.9 0 1,0 -5.8,0M360.8,2749.4a2.9,2.9 0 1,0 5.8,0a2.9,2.9 0 1,0 -5.8,0M366.4,2738.1a2.9,2.9 0 1,0 5.8,0a2.9,2.9 0 1,0 -5.8,0M370.9,2726.9a2.9,2.9 0 1,0 5.8,0a2.9,2.9 0 1,0 -5.8,0M375.4,2712.5a2.9,2.9 0 1,0 5.8,0a2.9,2.9 0 1,0 -5.8,0M379.0,2701.2a2.9,2.9 0 1,0 5.8,0a2.9,2.9 0 1,0 -5.8,0M384.2,2680.6a2.9,2.9 0 1,0 5.8,0a2.9,2.9 0 1,0 -5.8,0M389.1,2659.1a2.9,2.9 0 1,0 5.8,0a2.9,2.9 0 1,0 -5.8,0M393.0,2638.6a2.9,2.9 0 1,0 5.8,0a2.9,2.9 0 1,0 -5.8,0M398.7,2608.9a2.9,2.9 0 1,0 5.8,0a2.9,2.9 0 1,0 -5.8,0M402.3,2588.7a2.9,2.9 0 1,0 5.8,0a2.9,2.9 0 1,0 -5.8,0M406.8,2562.3a2.9,2.9 0 1,0 5.8,0a2.9,2.9 0 1,0 -5.8,0M411.1,2537.1a2.9,2.9 0 1,0 5.8,0a2.9,2.9 0 1,0 -5.8,0M416.5,2504.3a2.9,2.9 0 1,0 5.8,0a2.9,2.9 0 1,0 -5.8,0M421.7,2475.9a2.9,2.9 0 1,0 5.8,0a2.9,2.9 0 1,0 -5.8,0M425.2,2458.5a2.9,2.9 0 1,0 5.8,0a2.9,2.9 0 1,0 -5.8,0M430.3,2439.5a2.9,2.9 0 1,0 5.8,0a2.9,2.9 0 1,0 -5.8,0M435.1,2424.9a2.9,2.9 0 1,0 5.8,0a2.9,2.9 0 1,0 -5.8,0M439.9,2417.1a2.9,2.9 0 1,0 5.8,0a2.9,2.9 0 1,0 -5.8,0M443.7,2417.8a2.9,2.9 0 1,0 5.8,0a2.9,2.9 0 1,0 -5.8,0M449.4,2425.3a2.9,2.9 0 1,0 5.8,0a2.9,2.9 0 1,0 -5.8,0M453.5,2437.1a2.9,2.9 0 1,0 5.8,0a2.9,2.9 0 1,0 -5.8,0M457.7,2453.1a2.9,2.9 0 1,0 5.8,0a2.9,2.9 0 1,0 -5.8,0M462.8,2476.0a2.9,2.9 0 1,0 5.8,0a2.9,2.9 0 1,0 -5.8,0M466.9,2498.7a2.9,2.9 0 1,0 5.8,0a2.9,2.9 0 1,0 -5.8,0M471.4,2523.3a2.9,2.9 0 1,0 5.8,0a2.9,2.9 0 1,0 -5.8,0M476.8,2556.4a2.9,2.9 0 1,0 5.8,0a2.9,2.9 0 1,0 -5.8,0M480.9,2580.6a2.9,2.9 0 1,0 5.8,0a2.9,2.9 0 1,0 -5.8,0M486.1,2609.2a2.9,2.9 0 1,0 5.8,0a2.9,2.9 0 1,0 -5.8,0M489.8,2629.1a2.9,2.9 0 1,0 5.8,0a2.9,2.9 0 1,0 -5.8,0M494.5,2654.0a2.9,2.9 0 1,0 5.8,0a2.9,2.9 0 1,0 -5.8,0M499.8,2678.6a2.9,2.9 0 1,0 5.8,0a2.9,2.9 0 1,0 -5.8,0M504.0,2694.9a2.9,2.9 0 1,0 5.8,0a2.9,2.9 0 1,0 -5.8,0M508.6,2711.0a2.9,2.9 0 1,0 5.8,0a2.9,2.9 0 1,0 -5.8,0M513.6,2727.7a2.9,2.9 0 1,0 5.8,0a2.9,2.9 0 1,0 -5.8,0M518.2,2738.0a2.9,2.9 0 1,0 5.8,0a2.9,2.9 0 1,0 -5.8,0M522.5,2748.8a2.9,2.9 0 1,0 5.8,0a2.9,2.9 0 1,0 -5.8,0M526.9,2757.0a2.9,2.9 0 1,0 5.8,0a2.9,2.9 0 1,0 -5.8,0M532.1,2764.4a2.9,2.9 0 1,0 5.8,0a2.9,2.9 0 1,0 -5.8,0M536.6,2769.4a2.9,2.9 0 1,0 5.8,0a2.9,2.9 0 1,0 -5.8,0M541.3,2772.6a2.9,2.9 0 1,0 5.8,0a2.9,2.9 0 1,0 -5.8,0M545.6,2777.2a2.9,2.9 0 1,0 5.8,0a2.9,2.9 0 1,0 -5.8,0M550.0,2778.9a2.9,2.9 0 1,0 5.8,0a2.9,2.9 0 1,0 -5.8,0M553.8,2781.5a2.9,2.9 0 1,0 5.8,0a2.9,2.9 0 1,0 -5.8,0M559.6,2783.0a2.9,2.9 0 1,0 5.8,0a2.9,2.9 0 1,0 -5.8,0M563.2,2784.0a2.9,2.9 0 1,0 5.8,0a2.9,2.9 0 1,0 -5.8,0M567.6,2786.2a2.9,2.9 0 1,0 5.8,0a2.9,2.9 0 1,0 -5.8,0M573.6,2787.7a2.9,2.9 0 1,0 5.8,0a2.9,2.9 0 1,0 -5.8,0M577.3,2788.0a2.9,2.9 0 1,0 5.8,0a2.9,2.9 0 1,0 -5.8,0M581.4,2788.9a2.9,2.9 0 1,0 5.8,0a2.9,2.9 0 1,0 -5.8,0M586.4,2787.3a2.9,2.9 0 1,0 5.8,0a2.9,2.9 0 1,0 -5.8,0M591.5,2788.0a2.9,2.9 0 1,0 5.8,0a2.9,2.9 0 1,0 -5.8,0M595.5,2788.0a2.9,2.9 0 1,0 5.8,0a2.9,2.9 0 1,0 -5.8,0M600.4,2789.2a2.9,2.9 0 1,0 5.8,0a2.9,2.9 0 1,0 -5.8,0M605.6,2787.9a2.9,2.9 0 1,0 5.8,0a2.9,2.9 0 1,0 -5.8,0M610.2,2787.8a2.9,2.9 0 1,0 5.8,0a2.9,2.9 0 1,0 -5.8,0M613.9,2788.8a2.9,2.9 0 1,0 5.8,0a2.9,2.9 0 1,0 -5.8,0M618.6,2787.5a2.9,2.9 0 1,0 5.8,0a2.9,2.9 0 1,0 -5.8,0M623.6,2786.4a2.9,2.9 0 1,0 5.8,0a2.9,2.9 0 1,0 -5.8,0M628.6,2785.3a2.9,2.9 0 1,0 5.8,0a2.9,2.9 0 1,0 -5.8,0M633.2,2785.4a2.9,2.9 0 1,0 5.8,0a2.9,2.9 0 1,0 -5.8,0M637.4,2782.1a2.9,2.9 0 1,0 5.8,0a2.9,2.9 0 1,0 -5.8,0M642.3,2780.1a2.9,2.9 0 1,0 5.8,0a2.9,2.9 0 1,0 -5.8,0M646.5,2779.0a2.9,2.9 0 1,0 5.8,0a2.9,2.9 0 1,0 -5.8,0M650.4,2777.3a2.9,2.9 0 1,0 5.8,0a2.9,2.9 0 1,0 -5.8,0M656.1,2773.5a2.9,2.9 0 1,0 5.8,0a2.9,2.9 0 1,0 -5.8,0M660.1,2770.3a2.9,2.9 0 1,0 5.8,0a2.9,2.9 0 1,0 -5.8,0M665.1,2765.5a2.9,2.9 0 1,0 5.8,0a2.9,2.9 0 1,0 -5.8,0M670.1,2762.6a2.9,2.9 0 1,0 5.8,0a2.9,2.9 0 1,0 -5.8,0M674.6,2757.8a2.9,2.9 0 1,0 5.8,0a2.9,2.9 0 1,0 -5.8,0M678.4,2753.5a2.9,2.9 0 1,0 5.8,0a2.9,2.9 0 1,0 -5.8,0M682.6,2747.3a2.9,2.9 0 1,0 5.8,0a2.9,2.9 0 1,0 -5.8,0M687.3,2741.4a2.9,2.9 0 1,0 5.8,0a2.9,2.9 0 1,0 -5.8,0M692.8,2734.8a2.9,2.9 0 1,0 5.8,0a2.9,2.9 0 1,0 -5.8,0M697.1,2728.2a2.9,2.9 0 1,0 5.8,0a2.9,2.9 0 1,0 -5.8,0M701.2,2722.6a2.9,2.9 0 1,0 5.8,0a2.9,2.9 0 1,0 -5.8,0M706.0,2715.7a2.9,2.9 0 1,0 5.8,0a2.9,2.9 0 1,0 -5.8,0M711.3,2709.6a2.9,2.9 0 1,0 5.8,0a2.9,2.9 0 1,0 -5.8,0M715.4,2703.9a2.9,2.9 0 1,0 5.8,0a2.9,2.9 0 1,0 -5.8,0M720.5,2698.5a2.9,2.9 0 1,0 5.8,0a2.9,2.9 0 1,0 -5.8,0M724.4,2695.7a2.9,2.9 0 1,0 5.8,0a2.9,2.9 0 1,0 -5.8,0M729.7,2692.9a2.9,2.9 0 1,0 5.8,0a2.9,2.9 0 1,0 -5.8,0M734.3,2690.6a2.9,2.9 0 1,0 5.8,0a2.9,2.9 0 1,0 -5.8,0M739.2,2689.0a2.9,2.9 0 1,0 5.8,0a2.9,2.9 0 1,0 -5.8,0M743.5,2687.6a2.9,2.9 0 1,0 5.8,0a2.9,2.9 0 1,0 -5.8,0M747.3,2688.6a2.9,2.9 0 1,0 5.8,0a2.9,2.9 0 1,0 -5.8,0M752.9,2693.4a2.9,2.9 0 1,0 5.8,0a2.9,2.9 0 1,0 -5.8,0M757.2,2695.7a2.9,2.9 0 1,0 5.8,0a2.9,2.9 0 1,0 -5.8,0M761.3,2699.5a2.9,2.9 0 1,0 5.8,0a2.9,2.9 0 1,0 -5.8,0M766.4,2707.2a2.9,2.9 0 1,0 5.8,0a2.9,2.9 0 1,0 -5.8,0M770.4,2710.1a2.9,2.9 0 1,0 5.8,0a2.9,2.9 0 1,0 -5.8,0M774.8,2716.7a2.9,2.9 0 1,0 5.8,0a2.9,2.9 0 1,0 -5.8,0M780.6,2725.8a2.9,2.9 0 1,0 5.8,0a2.9,2.9 0 1,0 -5.8,0M784.5,2729.7a2.9,2.9 0 1,0 5.8,0a2.9,2.9 0 1,0 -5.8,0M788.5,2735.5a2.9,2.9 0 1,0 5.8,0a2.9,2.9 0 1,0 -5.8,0M794.2,2744.1a2.9,2.9 0 1,0 5.8,0a2.9,2.9 0 1,0 -5.8,0M799.1,2751.7a2.9,2.9 0 1,0 5.8,0a2.9,2.9 0 1,0 -5.8,0M803.4,2756.0a2.9,2.9 0 1,0 5.8,0a2.9,2.9 0 1,0 -5.8,0M808.1,2760.6a2.9,2.9 0 1,0 5.8,0a2.9,2.9 0 1,0 -5.8,0M811.5,2765.5a2.9,2.9 0 1,0 5.8,0a2.9,2.9 0 1,0 -5.8,0M816.8,2769.9a2.9,2.9 0 1,0 5.8,0a2.9,2.9 0 1,0 -5.8,0M821.0,2773.3a2.9,2.9 0 1,0 5.8,0a2.9,2.9 0 1,0 -5.8,0M826.6,2779.6a2.9,2.9 0 1,0 5.8,0a2.9,2.9 0 1,0 -5.8,0M831.3,2783.6a2.9,2.9 0 1,0 5.8,0a2.9,2.9 0 1,0 -5.8,0M835.1,2785.4a2.9,2.9 0 1,0 5.8,0a2.9,2.9 0 1,0 -5.8,0M839.6,2788.2a2.9,2.9 0 1,0 5.8,0a2.9,2.9 0 1,0 -5.8,0M844.9,2789.1a2.9,2.9 0 1,0 5.8,0a2.9,2.9 0 1,0 -5.8,0M848.2,2790.7a2.9,2.9 0 1,0 5.8,0a2.9,2.9 0 1,0 -5.8,0M853.7,2793.1a2.9,2.9 0 1,0 5.8,0a2.9,2.9 0 1,0 -5.8,0M857.4,2795.4a2.9,2.9 0 1,0 5.8,0a2.9,2.9 0 1,0 -5.8,0M863.2,2796.0a2.9,2.9 0 1,0 5.8,0a2.9,2.9 0 1,0 -5.8,0M866.7,2797.8a2.9,2.9 0 1,0 5.8,0a2.9,2.9 0 1,0 -5.8,0M872.0,2796.9a2.9,2.9 0 1,0 5.8,0a2.9,2.9 0 1,0 -5.8,0M876.3,2798.9a2.9,2.9 0 1,0 5.8,0a2.9,2.9 0 1,0 -5.8,0M881.8,2799.4a2.9,2.9 0 1,0 5.8,0a2.9,2.9 0 1,0 -5.8,0M886.0,2799.2a2.9,2.9 0 1,0 5.8,0a2.9,2.9 0 1,0 -5.8,0M890.0,2801.3a2.9,2.9 0 1,0 5.8,0a2.9,2.9 0 1,0 -5.8,0M894.8,2799.8a2.9,2.9 0 1,0 5.8,0a2.9,2.9 0 1,0 -5.8,0M899.7,2800.2a2.9,2.9 0 1,0 5.8,0a2.9,2.9 0 1,0 -5.8,0M903.7,2801.3a2.9,2.9 0 1,0 5.8,0a2.9,2.9 0 1,0 -5.8,0M908.9,2802.1a2.9,2.9 0 1,0 5.8,0a2.9,2.9 0 1,0 -5.8,0M913.7,2801.9a2.9,2.9 0 1,0 5.8,0a2.9,2.9 0 1,0 -5.8,0M917.3,2802.8a2.9,2.9 0 1,0 5.8,0a2.9,2.9 0 1,0 -5.8,0M921.9,2802.4a2.9,2.9 0 1,0 5.8,0a2.9,2.9 0 1,0 -5.8,0M927.1,2803.1a2.9,2.9 0 1,0 5.8,0a2.9,2.9 0 1,0 -5.8,0M932.2,2802.3a2.9,2.9 0 1,0 5.8,0a2.9,2.9 0 1,0 -5.8,0M936.7,2803.6a2.9,2.9 0 1,0 5.8,0a2.9,2.9 0 1,0 -5.8,0M941.0,2802.4a2.9,2.9 0 1,0 5.8,0a2.9,2.9 0 1,0 -5.8,0M946.3,2803.7a2.9,2.9 0 1,0 5.8,0a2.9,2.9 0 1,0 -5.8,0M949.5,2802.9a2.9,2.9 0 1,0 5.8,0a2.9,2.9 0 1,0 -5.8,0M955.6,2803.1a2.9,2.9 0 1,0 5.8,0a2.9,2.9 0 1,0 -5.8,0M959.3,2804.6a2.9,2.9 0 1,0 5.8,0a2.9,2.9 0 1,0 -5.8,0M964.5,2804.4a2.9,2.9 0 1,0 5.8,0a2.9,2.9 0 1,0 -5.8,0M969.0,2803.1a2.9,2.9 0 1,0 5.8,0a2.9,2.9 0 1,0 -5.8,0M972.6,2805.5a2.9,2.9 0 1,0 5.8,0a2.9,2.9 0 1,0 -5.8,0M978.3,2803.4a2.9,2.9 0 1,0 5.8,0a2.9,2.9 0 1,0 -5.8,0M981.7,2804.0a2.9,2.9 0 1,0 5.8,0a2.9,2.9 0 1,0 -5.8,0M987.7,2804.1a2.9,2.9 0 1,0 5.8,0a2.9,2.9 0 1,0 -5.8,0M991.9,2805.9a2.9,2.9 0 1,0 5.8,0a2.9,2.9 0 1,0 -5.8,0M996.5,2806.0a2.9,2.9 0 1,0 5.8,0a2.9,2.9 0 1,0 -5.8,0M1000.5,2804.2a2.9,2.9 0 1,0 5.8,0a2.9,2.9 0 1,0 -5.8,0M1004.7,2805.8a2.9,2.9 0 1,0 5.8,0a2.9,2.9 0 1,0 -5.8,0M1009.4,2806.4a2.9,2.9 0 1,0 5.8,0a2.9,2.9 0 1,0 -5.8,0M1015.0,2804.7a2.9,2.9 0 1,0 5.8,0a2.9,2.9 0 1,0 -5.8,0M1019.7,2804.7a2.9,2.9 0 1,0 5.8,0a2.9,2.9 0 1,0 -5.8,0M1023.9,2804.7a2.9,2.9 0 1,0 5.8,0a2.9,2.9 0 1,0 -5.8,0M1028.9,2806.7a2.9,2.9 0 1,0 5.8,0a2.9,2.9 0 1,0 -5.8,0M1033.7,2804.6a2.9,2.9 0 1,0 5.8,0a2.9,2.9 0 1,0 -5.8,0M1038.2,2806.1a2.9,2.9 0 1,0 5.8,0a2.9,2.9 0 1,0 -5.8,0M1042.8,2806.0a2.9,2.9 0 1,0 5.8,0a2.9,2.9 0 1,0 -5.8,0M1047.1,2806.3a2.9,2.9 0 1,0 5.8,0a2.9,2.9 0 1,0 -5.8,0M1051.9,2805.2a2.9,2.9 0 1,0 5.8,0a2.9,2.9 0 1,0 -5.8,0M1055.4,2806.4a2.9,2.9 0 1,0 5.8,0a2.9,2.9 0 1,0 -5.8,0M1060.3,2806.1a2.9,2.9 0 1,0 5.8,0a2.9,2.9 0 1,0 -5.8,0M1064.5,2807.0a2.9,2.9 0 1,0 5.8,0a2.9,2.9 0 1,0 -5.8,0M1069.1,2807.3a2.9,2.9 0 1,0 5.8,0a2.9,2.9 0 1,0 -5.8,0M1075.0,2806.6a2.9,2.9 0 1,0 5.8,0a2.9,2.9 0 1,0 -5.8,0M1078.5,2807.1a2.9,2.9 0 1,0 5.8,0a2.9,2.9 0 1,0 -5.8,0M1083.2,2806.6a2.9,2.9 0 1,0 5.8,0a2.9,2.9 0 1,0 -5.8,0M1087.7,2808.0a2.9,2.9 0 1,0 5.8,0a2.9,2.9 0 1,0 -5.8,0M1093.0,2806.6a2.9,2.9 0 1,0 5.8,0a2.9,2.9 0 1,0 -5.8,0M1096.8,2807.6a2.9,2.9 0 1,0 5.8,0a2.9,2.9 0 1,0 -5.8,0M1102.6,2808.0a2.9,2.9 0 1,0 5.8,0a2.9,2.9 0 1,0 -5.8,0M1106.0,2806.9a2.9,2.9 0 1,0 5.8,0a2.9,2.9 0 1,0 -5.8,0M1111.0,2807.9a2.9,2.9 0 1,0 5.8,0a2.9,2.9 0 1,0 -5.8,0M1115.3,2807.6a2.9,2.9 0 1,0 5.8,0a2.9,2.9 0 1,0 -5.8,0M1121.3,2808.1a2.9,2.9 0 1,0 5.8,0a2.9,2.9 0 1,0 -5.8,0M1124.3,2806.5a2.9,2.9 0 1,0 5.8,0a2.9,2.9 0 1,0 -5.8,0M1129.1,2808.1a2.9,2.9 0 1,0 5.8,0a2.9,2.9 0 1,0 -5.8,0M1134.5,2807.7a2.9,2.9 0 1,0 5.8,0a2.9,2.9 0 1,0 -5.8,0M1138.8,2807.5a2.9,2.9 0 1,0 5.8,0a2.9,2.9 0 1,0 -5.8,0M1143.7,2808.2a2.9,2.9 0 1,0 5.8,0a2.9,2.9 0 1,0 -5.8,0M1148.8,2808.5a2.9,2.9 0 1,0 5.8,0a2.9,2.9 0 1,0 -5.8,0" fill="#fff" fill-opacity="0.5" stroke="#62bcf8" stroke-width="1.3"/>
<path d="M440.3,2054.0V2155.3" stroke="#000" stroke-width="3.5" stroke-dasharray="4.5 7"/>
<path d="M742.2,2173.7V2256.6" stroke="#000" stroke-width="3.5" stroke-dasharray="4.5 7"/>
<path d="M445.2,2388.0V2485.8" stroke="#000" stroke-width="3.5" stroke-dasharray="4.5 7"/>
<path d="M743.8,2649.6V2732.4" stroke="#000" stroke-width="3.5" stroke-dasharray="4.5 7"/>
<text transform="translate(135.8,2076.5) scale(1,1.080)" x="0.0" y="0" font-size="59.5" fill="#000"><tspan>(e)</tspan></text>
<text transform="translate(1060.0,2063.3)" x="0.0" y="0" font-size="46.2" fill="#000"><tspan>C 1s</tspan></text>
<text transform="translate(482.0,2071.3)" x="0.0" y="0" font-size="40.4" fill="#0a22cc"><tspan>N-C=N</tspan></text>
<text transform="translate(495.5,2122.8)" x="0.0" y="0" font-size="40.5" fill="#0a22cc"><tspan>288.33 eV</tspan></text>
<text transform="translate(754.4,2180.0)" x="0.0" y="0" font-size="42.3" fill="#ff0000"><tspan>Sp</tspan><tspan dy="-12.7" font-size="34.7" font-family="Liberation Sans, Arial, sans-serif">2</tspan><tspan dy="12.7"> C-C</tspan></text>
<text transform="translate(780.8,2238.0)" x="0.0" y="0" font-size="41.0" fill="#ff0000"><tspan>284.8 eV</tspan></text>
<text transform="translate(885.2,2324.0)" x="0.0" y="0" font-size="42.4" fill="#000"><tspan font-style="italic">g</tspan><tspan>-C</tspan><tspan dy="10.2" font-size="26.3">3</tspan><tspan dy="-10.2">N</tspan><tspan dy="10.2" font-size="26.3">4</tspan><tspan dy="-10.2">/BiOBr</tspan></text>
<text transform="translate(470.9,2430.6)" x="0.0" y="0" font-size="41.0" fill="#0a22cc"><tspan>N-C=N</tspan></text>
<text transform="translate(482.0,2484.0)" x="0.0" y="0" font-size="40.8" fill="#0a22cc"><tspan>288.28 eV</tspan></text>
<text transform="translate(750.0,2652.7)" x="0.0" y="0" font-size="41.9" fill="#ff0000"><tspan>Sp</tspan><tspan dy="-12.6" font-size="34.3" font-family="Liberation Sans, Arial, sans-serif">2</tspan><tspan dy="12.6"> C-C</tspan></text>
<text transform="translate(786.8,2711.0)" x="0.0" y="0" font-size="41.7" fill="#ff0000"><tspan>284.78 eV</tspan></text>
<text transform="translate(1014.0,2780.0)" x="0.0" y="0" font-size="38.1" fill="#000"><tspan font-style="italic">g</tspan><tspan>-C</tspan><tspan dy="1.5" font-size="30.5" font-family="Liberation Sans, Arial, sans-serif">3</tspan><tspan dy="-1.5">N</tspan><tspan dy="1.5" font-size="30.5" font-family="Liberation Sans, Arial, sans-serif">4</tspan></text>
<path d="M1639.6,2347.5 L1639.6,2346.2 L1641.6,2346.3 L1643.6,2346.4 L1645.6,2346.4 L1647.6,2346.5 L1649.6,2346.6 L1651.6,2346.7 L1653.6,2346.7 L1655.6,2346.8 L1657.6,2346.9 L1659.6,2346.9 L1661.5,2347.0 L1663.5,2347.1 L1665.5,2347.1 L1667.5,2347.2 L1669.5,2347.3 L1671.5,2347.3 L1673.5,2347.4 L1675.5,2347.5 L1677.5,2347.5 L1679.5,2347.6 L1681.5,2347.7 L1683.5,2347.7 L1685.5,2347.8 L1687.5,2347.9 L1689.5,2347.9 L1691.5,2348.0 L1693.5,2348.0 L1695.5,2348.1 L1697.5,2348.2 L1699.5,2348.2 L1701.4,2348.3 L1703.4,2348.3 L1705.4,2348.4 L1707.4,2348.5 L1709.4,2348.5 L1711.4,2348.6 L1713.4,2348.6 L1715.4,2348.7 L1717.4,2348.7 L1719.4,2348.8 L1721.4,2348.8 L1723.4,2348.9 L1725.4,2348.9 L1727.4,2349.0 L1729.4,2349.0 L1731.4,2349.1 L1733.4,2349.1 L1735.4,2349.2 L1737.4,2349.2 L1739.4,2349.3 L1741.3,2349.3 L1743.3,2349.4 L1745.3,2349.4 L1747.3,2349.4 L1749.3,2349.5 L1751.3,2349.5 L1753.3,2349.6 L1755.3,2349.6 L1757.3,2349.6 L1759.3,2349.6 L1761.3,2349.7 L1763.3,2349.7 L1765.3,2349.7 L1767.3,2349.8 L1769.3,2349.8 L1771.3,2349.8 L1773.3,2349.8 L1775.3,2349.8 L1777.3,2349.8 L1779.3,2349.9 L1781.2,2349.9 L1783.2,2349.9 L1785.2,2349.9 L1787.2,2349.9 L1789.2,2349.8 L1791.2,2349.8 L1793.2,2349.8 L1795.2,2349.8 L1797.2,2349.8 L1799.2,2349.7 L1801.2,2349.7 L1803.2,2349.6 L1805.2,2349.6 L1807.2,2349.5 L1809.2,2349.4 L1811.2,2349.3 L1813.2,2349.2 L1815.2,2349.1 L1817.2,2348.9 L1819.2,2348.8 L1821.2,2348.6 L1823.1,2348.4 L1825.1,2348.1 L1827.1,2347.9 L1829.1,2347.6 L1831.1,2347.2 L1833.1,2346.8 L1835.1,2346.4 L1837.1,2345.9 L1839.1,2345.4 L1841.1,2344.8 L1843.1,2344.2 L1845.1,2343.4 L1847.1,2342.6 L1849.1,2341.8 L1851.1,2340.8 L1853.1,2339.7 L1855.1,2338.5 L1857.1,2337.2 L1859.1,2335.8 L1861.1,2334.2 L1863.0,2332.5 L1865.0,2330.7 L1867.0,2328.7 L1869.0,2326.5 L1871.0,2324.2 L1873.0,2321.7 L1875.0,2319.0 L1877.0,2316.0 L1879.0,2312.9 L1881.0,2309.6 L1883.0,2306.1 L1885.0,2302.3 L1887.0,2298.3 L1889.0,2294.1 L1891.0,2289.6 L1893.0,2284.9 L1895.0,2280.0 L1897.0,2274.9 L1899.0,2269.5 L1901.0,2264.0 L1902.9,2258.2 L1904.9,2252.2 L1906.9,2246.0 L1908.9,2239.7 L1910.9,2233.2 L1912.9,2226.5 L1914.9,2219.7 L1916.9,2212.9 L1918.9,2205.9 L1920.9,2198.9 L1922.9,2191.9 L1924.9,2184.9 L1926.9,2177.9 L1928.9,2171.0 L1930.9,2164.2 L1932.9,2157.5 L1934.9,2151.0 L1936.9,2144.8 L1938.9,2138.8 L1940.9,2133.1 L1942.8,2127.7 L1944.8,2122.7 L1946.8,2118.1 L1948.8,2113.9 L1950.8,2110.3 L1952.8,2107.2 L1954.8,2104.6 L1956.8,2102.5 L1958.8,2101.1 L1960.8,2100.3 L1962.8,2100.0 L1964.8,2100.4 L1966.8,2101.4 L1968.8,2103.1 L1970.8,2105.3 L1972.8,2108.0 L1974.8,2111.3 L1976.8,2115.2 L1978.8,2119.5 L1980.8,2124.2 L1982.8,2129.4 L1984.7,2135.0 L1986.7,2140.9 L1988.7,2147.0 L1990.7,2153.5 L1992.7,2160.1 L1994.7,2167.0 L1996.7,2173.9 L1998.7,2181.0 L2000.7,2188.2 L2002.7,2195.4 L2004.7,2202.6 L2006.7,2209.7 L2008.7,2216.9 L2010.7,2223.9 L2012.7,2230.8 L2014.7,2237.7 L2016.7,2244.3 L2018.7,2250.9 L2020.7,2257.2 L2022.7,2263.4 L2024.6,2269.3 L2026.6,2275.1 L2028.6,2280.6 L2030.6,2285.9 L2032.6,2291.0 L2034.6,2295.9 L2036.6,2300.5 L2038.6,2304.9 L2040.6,2309.1 L2042.6,2313.0 L2044.6,2316.7 L2046.6,2320.2 L2048.6,2323.5 L2050.6,2326.6 L2052.6,2329.5 L2054.6,2332.2 L2056.6,2334.7 L2058.6,2337.0 L2060.6,2339.2 L2062.6,2341.2 L2064.5,2343.1 L2066.5,2344.8 L2068.5,2346.4 L2070.5,2347.9 L2072.5,2349.2 L2074.5,2350.5 L2076.5,2351.7 L2078.5,2352.7 L2080.5,2353.7 L2082.5,2354.6 L2084.5,2355.4 L2086.5,2356.2 L2088.5,2356.9 L2090.5,2357.5 L2092.5,2358.1 L2094.5,2358.7 L2096.5,2359.2 L2098.5,2359.7 L2100.5,2360.1 L2102.5,2360.5 L2104.4,2360.9 L2106.4,2361.3 L2108.4,2361.6 L2110.4,2361.9 L2112.4,2362.2 L2114.4,2362.5 L2116.4,2362.8 L2118.4,2363.0 L2120.4,2363.3 L2122.4,2363.5 L2124.4,2363.7 L2126.4,2364.0 L2128.4,2364.2 L2130.4,2364.4 L2132.4,2364.6 L2134.4,2364.8 L2136.4,2365.0 L2138.4,2365.1 L2140.4,2365.3 L2142.4,2365.5 L2144.4,2365.7 L2146.3,2365.8 L2148.3,2366.0 L2150.3,2366.2 L2152.3,2366.3 L2154.3,2366.5 L2156.3,2366.6 L2158.3,2366.8 L2160.3,2366.9 L2162.3,2367.1 L2164.3,2367.2 L2166.3,2367.4 L2168.3,2367.5 L2170.3,2367.6 L2172.3,2367.8 L2174.3,2367.9 L2176.3,2368.1 L2178.3,2368.2 L2180.3,2368.3 L2182.3,2368.5 L2184.3,2368.6 L2186.2,2368.7 L2188.2,2368.9 L2190.2,2369.0 L2192.2,2369.1 L2194.2,2369.2 L2196.2,2369.4 L2198.2,2369.5 L2200.2,2369.6 L2202.2,2369.7 L2204.2,2369.9 L2206.2,2370.0 L2208.2,2370.1 L2210.2,2370.2 L2212.2,2370.3 L2214.2,2370.5 L2216.2,2370.6 L2218.2,2370.7 L2220.2,2370.8 L2222.2,2370.9 L2224.2,2371.0 L2226.1,2371.1 L2228.1,2371.3 L2230.1,2371.4 L2232.1,2371.5 L2234.1,2371.6 L2236.1,2371.7 L2238.1,2371.8 L2240.1,2371.9 L2242.1,2372.0 L2244.1,2372.2 L2246.1,2372.3 L2248.1,2372.4 L2250.1,2372.5 L2252.1,2372.6 L2254.1,2372.7 L2256.1,2372.8 L2258.1,2372.9 L2260.1,2373.0 L2262.1,2373.1 L2264.1,2373.2 L2266.0,2373.3 L2268.0,2373.4 L2270.0,2373.5 L2272.0,2373.6 L2274.0,2373.7 L2276.0,2373.8 L2278.0,2374.0 L2280.0,2374.1 L2282.0,2374.2 L2284.0,2374.3 L2286.0,2374.4 L2286.0,2375.6Z" fill="url(#g17)" fill-opacity="0.95"/>
<path d="M1553.7,2343.7 L1553.7,2343.2 L1555.7,2343.3 L1557.7,2343.4 L1559.7,2343.4 L1561.7,2343.5 L1563.7,2343.6 L1565.7,2343.7 L1567.7,2343.8 L1569.7,2343.8 L1571.7,2343.9 L1573.7,2344.0 L1575.6,2344.1 L1577.6,2344.2 L1579.6,2344.2 L1581.6,2344.3 L1583.6,2344.4 L1585.6,2344.5 L1587.6,2344.6 L1589.6,2344.6 L1591.6,2344.7 L1593.6,2344.8 L1595.6,2344.9 L1597.6,2344.9 L1599.6,2345.0 L1601.6,2345.1 L1603.6,2345.2 L1605.6,2345.2 L1607.6,2345.3 L1609.6,2345.4 L1611.6,2345.5 L1613.6,2345.5 L1615.5,2345.6 L1617.5,2345.7 L1619.5,2345.8 L1621.5,2345.8 L1623.5,2345.9 L1625.5,2346.0 L1627.5,2346.1 L1629.5,2346.1 L1631.5,2346.2 L1633.5,2346.3 L1635.5,2346.4 L1637.5,2346.4 L1639.5,2346.5 L1641.5,2346.6 L1643.5,2346.6 L1645.5,2346.7 L1647.5,2346.8 L1649.5,2346.9 L1651.5,2346.9 L1653.5,2347.0 L1655.4,2347.1 L1657.4,2347.1 L1659.4,2347.2 L1661.4,2347.3 L1663.4,2347.3 L1665.4,2347.4 L1667.4,2347.5 L1669.4,2347.5 L1671.4,2347.6 L1673.4,2347.6 L1675.4,2347.7 L1677.4,2347.8 L1679.4,2347.8 L1681.4,2347.9 L1683.4,2347.9 L1685.4,2348.0 L1687.4,2348.1 L1689.4,2348.1 L1691.4,2348.2 L1693.4,2348.2 L1695.3,2348.3 L1697.3,2348.3 L1699.3,2348.4 L1701.3,2348.4 L1703.3,2348.5 L1705.3,2348.5 L1707.3,2348.6 L1709.3,2348.6 L1711.3,2348.6 L1713.3,2348.7 L1715.3,2348.7 L1717.3,2348.7 L1719.3,2348.8 L1721.3,2348.8 L1723.3,2348.8 L1725.3,2348.8 L1727.3,2348.8 L1729.3,2348.8 L1731.3,2348.8 L1733.3,2348.8 L1735.3,2348.7 L1737.2,2348.7 L1739.2,2348.6 L1741.2,2348.6 L1743.2,2348.5 L1745.2,2348.4 L1747.2,2348.3 L1749.2,2348.1 L1751.2,2348.0 L1753.2,2347.8 L1755.2,2347.6 L1757.2,2347.4 L1759.2,2347.1 L1761.2,2346.8 L1763.2,2346.5 L1765.2,2346.1 L1767.2,2345.7 L1769.2,2345.3 L1771.2,2344.7 L1773.2,2344.2 L1775.2,2343.6 L1777.1,2342.9 L1779.1,2342.2 L1781.1,2341.4 L1783.1,2340.5 L1785.1,2339.5 L1787.1,2338.5 L1789.1,2337.4 L1791.1,2336.2 L1793.1,2334.9 L1795.1,2333.5 L1797.1,2332.1 L1799.1,2330.5 L1801.1,2328.8 L1803.1,2327.1 L1805.1,2325.2 L1807.1,2323.3 L1809.1,2321.2 L1811.1,2319.1 L1813.1,2316.8 L1815.1,2314.5 L1817.0,2312.0 L1819.0,2309.5 L1821.0,2306.9 L1823.0,2304.3 L1825.0,2301.5 L1827.0,2298.7 L1829.0,2295.9 L1831.0,2293.0 L1833.0,2290.1 L1835.0,2287.1 L1837.0,2284.1 L1839.0,2281.2 L1841.0,2278.3 L1843.0,2275.3 L1845.0,2272.5 L1847.0,2269.7 L1849.0,2267.0 L1851.0,2264.3 L1853.0,2261.8 L1855.0,2259.4 L1856.9,2257.1 L1858.9,2255.1 L1860.9,2253.1 L1862.9,2251.4 L1864.9,2249.9 L1866.9,2248.6 L1868.9,2247.5 L1870.9,2246.7 L1872.9,2246.2 L1874.9,2245.8 L1876.9,2245.8 L1878.9,2246.0 L1880.9,2246.5 L1882.9,2247.2 L1884.9,2248.2 L1886.9,2249.5 L1888.9,2250.9 L1890.9,2252.6 L1892.9,2254.5 L1894.9,2256.6 L1896.9,2258.9 L1898.8,2261.3 L1900.8,2263.9 L1902.8,2266.6 L1904.8,2269.4 L1906.8,2272.3 L1908.8,2275.3 L1910.8,2278.3 L1912.8,2281.4 L1914.8,2284.5 L1916.8,2287.6 L1918.8,2290.8 L1920.8,2293.9 L1922.8,2297.0 L1924.8,2300.0 L1926.8,2303.1 L1928.8,2306.0 L1930.8,2308.9 L1932.8,2311.8 L1934.8,2314.6 L1936.8,2317.2 L1938.7,2319.9 L1940.7,2322.4 L1942.7,2324.8 L1944.7,2327.1 L1946.7,2329.3 L1948.7,2331.5 L1950.7,2333.5 L1952.7,2335.4 L1954.7,2337.3 L1956.7,2339.0 L1958.7,2340.6 L1960.7,2342.2 L1962.7,2343.6 L1964.7,2345.0 L1966.7,2346.3 L1968.7,2347.5 L1970.7,2348.6 L1972.7,2349.7 L1974.7,2350.7 L1976.7,2351.6 L1978.6,2352.4 L1980.6,2353.2 L1982.6,2354.0 L1984.6,2354.6 L1986.6,2355.3 L1988.6,2355.9 L1990.6,2356.4 L1992.6,2356.9 L1994.6,2357.4 L1996.6,2357.8 L1998.6,2358.2 L2000.6,2358.6 L2002.6,2358.9 L2004.6,2359.3 L2006.6,2359.6 L2008.6,2359.9 L2010.6,2360.1 L2012.6,2360.4 L2014.6,2360.6 L2016.6,2360.8 L2018.5,2361.1 L2020.5,2361.3 L2022.5,2361.5 L2024.5,2361.6 L2026.5,2361.8 L2028.5,2362.0 L2030.5,2362.2 L2032.5,2362.3 L2034.5,2362.5 L2036.5,2362.6 L2038.5,2362.8 L2040.5,2362.9 L2042.5,2363.1 L2044.5,2363.2 L2046.5,2363.3 L2048.5,2363.5 L2050.5,2363.6 L2052.5,2363.7 L2054.5,2363.8 L2056.5,2364.0 L2058.5,2364.1 L2060.4,2364.2 L2062.4,2364.3 L2064.4,2364.4 L2066.4,2364.6 L2068.4,2364.7 L2070.4,2364.8 L2072.4,2364.9 L2074.4,2365.0 L2076.4,2365.1 L2078.4,2365.2 L2080.4,2365.4 L2082.4,2365.5 L2084.4,2365.6 L2086.4,2365.7 L2088.4,2365.8 L2090.4,2365.9 L2092.4,2366.0 L2094.4,2366.1 L2096.4,2366.2 L2098.4,2366.3 L2100.3,2366.4 L2102.3,2366.5 L2104.3,2366.6 L2106.3,2366.8 L2108.3,2366.9 L2110.3,2367.0 L2112.3,2367.1 L2114.3,2367.2 L2116.3,2367.3 L2118.3,2367.4 L2120.3,2367.5 L2122.3,2367.6 L2124.3,2367.7 L2126.3,2367.8 L2128.3,2367.9 L2130.3,2368.0 L2132.3,2368.1 L2134.3,2368.2 L2136.3,2368.3 L2138.3,2368.4 L2140.2,2368.5 L2142.2,2368.6 L2144.2,2368.7 L2146.2,2368.8 L2148.2,2368.9 L2150.2,2369.0 L2152.2,2369.1 L2154.2,2369.2 L2156.2,2369.2 L2158.2,2369.3 L2160.2,2369.4 L2162.2,2369.5 L2164.2,2369.6 L2166.2,2369.7 L2168.2,2369.8 L2170.2,2369.9 L2172.2,2370.0 L2174.2,2370.1 L2176.2,2370.2 L2178.2,2370.3 L2180.1,2370.4 L2182.1,2370.5 L2184.1,2370.6 L2186.1,2370.7 L2188.1,2370.8 L2190.1,2370.9 L2192.1,2371.0 L2194.1,2371.1 L2196.1,2371.1 L2198.1,2371.2 L2200.1,2371.3 L2200.1,2371.9Z" fill="url(#g18)" fill-opacity="0.88"/>
<path d="M1310.0,2333.1 L1310.0,2332.6 L1312.0,2332.7 L1314.0,2332.7 L1316.0,2332.8 L1318.0,2332.9 L1320.0,2333.0 L1322.0,2333.1 L1324.0,2333.1 L1326.0,2333.2 L1328.0,2333.3 L1330.0,2333.4 L1332.0,2333.5 L1334.0,2333.6 L1336.0,2333.6 L1338.0,2333.7 L1340.0,2333.8 L1341.9,2333.9 L1343.9,2334.0 L1345.9,2334.0 L1347.9,2334.1 L1349.9,2334.2 L1351.9,2334.3 L1353.9,2334.4 L1355.9,2334.4 L1357.9,2334.5 L1359.9,2334.6 L1361.9,2334.7 L1363.9,2334.8 L1365.9,2334.8 L1367.9,2334.9 L1369.9,2335.0 L1371.9,2335.1 L1373.9,2335.2 L1375.9,2335.2 L1377.9,2335.3 L1379.9,2335.4 L1381.9,2335.5 L1383.9,2335.6 L1385.9,2335.6 L1387.9,2335.7 L1389.9,2335.8 L1391.9,2335.9 L1393.9,2335.9 L1395.9,2336.0 L1397.9,2336.1 L1399.9,2336.2 L1401.8,2336.3 L1403.8,2336.3 L1405.8,2336.4 L1407.8,2336.5 L1409.8,2336.6 L1411.8,2336.6 L1413.8,2336.7 L1415.8,2336.8 L1417.8,2336.9 L1419.8,2337.0 L1421.8,2337.0 L1423.8,2337.1 L1425.8,2337.2 L1427.8,2337.3 L1429.8,2337.3 L1431.8,2337.4 L1433.8,2337.5 L1435.8,2337.6 L1437.8,2337.6 L1439.8,2337.7 L1441.8,2337.8 L1443.8,2337.9 L1445.8,2337.9 L1447.8,2338.0 L1449.8,2338.1 L1451.8,2338.1 L1453.8,2338.2 L1455.8,2338.3 L1457.8,2338.4 L1459.8,2338.4 L1461.8,2338.5 L1463.7,2338.6 L1465.7,2338.6 L1467.7,2338.7 L1469.7,2338.8 L1471.7,2338.8 L1473.7,2338.9 L1475.7,2339.0 L1477.7,2339.0 L1479.7,2339.1 L1481.7,2339.2 L1483.7,2339.2 L1485.7,2339.3 L1487.7,2339.4 L1489.7,2339.4 L1491.7,2339.5 L1493.7,2339.6 L1495.7,2339.6 L1497.7,2339.7 L1499.7,2339.7 L1501.7,2339.8 L1503.7,2339.8 L1505.7,2339.9 L1507.7,2339.9 L1509.7,2340.0 L1511.7,2340.0 L1513.7,2340.1 L1515.7,2340.1 L1517.7,2340.2 L1519.7,2340.2 L1521.7,2340.2 L1523.7,2340.3 L1525.6,2340.3 L1527.6,2340.3 L1529.6,2340.4 L1531.6,2340.4 L1533.6,2340.4 L1535.6,2340.4 L1537.6,2340.4 L1539.6,2340.4 L1541.6,2340.4 L1543.6,2340.4 L1545.6,2340.4 L1547.6,2340.4 L1549.6,2340.4 L1551.6,2340.3 L1553.6,2340.3 L1555.6,2340.3 L1557.6,2340.2 L1559.6,2340.2 L1561.6,2340.1 L1563.6,2340.0 L1565.6,2339.9 L1567.6,2339.9 L1569.6,2339.7 L1571.6,2339.6 L1573.6,2339.5 L1575.6,2339.4 L1577.6,2339.2 L1579.6,2339.1 L1581.6,2338.9 L1583.6,2338.7 L1585.5,2338.5 L1587.5,2338.3 L1589.5,2338.0 L1591.5,2337.8 L1593.5,2337.5 L1595.5,2337.2 L1597.5,2336.9 L1599.5,2336.6 L1601.5,2336.3 L1603.5,2335.9 L1605.5,2335.5 L1607.5,2335.1 L1609.5,2334.7 L1611.5,2334.2 L1613.5,2333.8 L1615.5,2333.3 L1617.5,2332.7 L1619.5,2332.2 L1621.5,2331.6 L1623.5,2331.0 L1625.5,2330.4 L1627.5,2329.8 L1629.5,2329.1 L1631.5,2328.4 L1633.5,2327.7 L1635.5,2326.9 L1637.5,2326.1 L1639.5,2325.3 L1641.5,2324.5 L1643.5,2323.6 L1645.5,2322.7 L1647.4,2321.8 L1649.4,2320.9 L1651.4,2319.9 L1653.4,2318.9 L1655.4,2317.9 L1657.4,2316.8 L1659.4,2315.7 L1661.4,2314.6 L1663.4,2313.5 L1665.4,2312.4 L1667.4,2311.2 L1669.4,2310.0 L1671.4,2308.8 L1673.4,2307.6 L1675.4,2306.4 L1677.4,2305.1 L1679.4,2303.9 L1681.4,2302.6 L1683.4,2301.3 L1685.4,2300.0 L1687.4,2298.7 L1689.4,2297.5 L1691.4,2296.2 L1693.4,2294.9 L1695.4,2293.6 L1697.4,2292.3 L1699.4,2291.0 L1701.4,2289.7 L1703.4,2288.4 L1705.4,2287.2 L1707.4,2286.0 L1709.3,2284.8 L1711.3,2283.6 L1713.3,2282.4 L1715.3,2281.3 L1717.3,2280.2 L1719.3,2279.1 L1721.3,2278.1 L1723.3,2277.1 L1725.3,2276.2 L1727.3,2275.3 L1729.3,2274.4 L1731.3,2273.6 L1733.3,2272.9 L1735.3,2272.2 L1737.3,2271.6 L1739.3,2271.0 L1741.3,2270.5 L1743.3,2270.0 L1745.3,2269.7 L1747.3,2269.4 L1749.3,2269.1 L1751.3,2269.0 L1753.3,2268.9 L1755.3,2268.8 L1757.3,2268.9 L1759.3,2269.0 L1761.3,2269.2 L1763.3,2269.5 L1765.3,2269.8 L1767.3,2270.2 L1769.2,2270.7 L1771.2,2271.3 L1773.2,2271.9 L1775.2,2272.6 L1777.2,2273.3 L1779.2,2274.1 L1781.2,2275.0 L1783.2,2275.9 L1785.2,2276.9 L1787.2,2277.9 L1789.2,2279.0 L1791.2,2280.1 L1793.2,2281.3 L1795.2,2282.5 L1797.2,2283.7 L1799.2,2285.0 L1801.2,2286.3 L1803.2,2287.7 L1805.2,2289.0 L1807.2,2290.4 L1809.2,2291.8 L1811.2,2293.2 L1813.2,2294.7 L1815.2,2296.1 L1817.2,2297.6 L1819.2,2299.0 L1821.2,2300.5 L1823.2,2302.0 L1825.2,2303.5 L1827.2,2304.9 L1829.2,2306.4 L1831.1,2307.9 L1833.1,2309.3 L1835.1,2310.8 L1837.1,2312.2 L1839.1,2313.6 L1841.1,2315.0 L1843.1,2316.4 L1845.1,2317.8 L1847.1,2319.1 L1849.1,2320.5 L1851.1,2321.8 L1853.1,2323.1 L1855.1,2324.3 L1857.1,2325.6 L1859.1,2326.8 L1861.1,2328.0 L1863.1,2329.2 L1865.1,2330.3 L1867.1,2331.4 L1869.1,2332.5 L1871.1,2333.6 L1873.1,2334.6 L1875.1,2335.6 L1877.1,2336.6 L1879.1,2337.6 L1881.1,2338.5 L1883.1,2339.4 L1885.1,2340.3 L1887.1,2341.1 L1889.1,2341.9 L1891.0,2342.7 L1893.0,2343.5 L1895.0,2344.2 L1897.0,2345.0 L1899.0,2345.6 L1901.0,2346.3 L1903.0,2347.0 L1905.0,2347.6 L1907.0,2348.2 L1909.0,2348.8 L1911.0,2349.3 L1913.0,2349.9 L1915.0,2350.4 L1917.0,2350.9 L1919.0,2351.3 L1921.0,2351.8 L1923.0,2352.2 L1925.0,2352.7 L1927.0,2353.1 L1929.0,2353.5 L1931.0,2353.8 L1933.0,2354.2 L1935.0,2354.5 L1937.0,2354.9 L1939.0,2355.2 L1941.0,2355.5 L1943.0,2355.8 L1945.0,2356.1 L1947.0,2356.4 L1949.0,2356.6 L1951.0,2356.9 L1952.9,2357.1 L1954.9,2357.4 L1956.9,2357.6 L1958.9,2357.8 L1960.9,2358.0 L1962.9,2358.3 L1964.9,2358.5 L1966.9,2358.7 L1968.9,2358.8 L1970.9,2359.0 L1972.9,2359.2 L1974.9,2359.4 L1976.9,2359.5 L1978.9,2359.7 L1980.9,2359.9 L1982.9,2360.0 L1984.9,2360.2 L1986.9,2360.3 L1988.9,2360.5 L1990.9,2360.6 L1992.9,2360.8 L1994.9,2360.9 L1996.9,2361.0 L1998.9,2361.2 L2000.9,2361.3 L2002.9,2361.4 L2004.9,2361.5 L2006.9,2361.7 L2008.9,2361.8 L2010.9,2361.9 L2012.9,2362.0 L2014.8,2362.1 L2016.8,2362.3 L2018.8,2362.4 L2020.8,2362.5 L2022.8,2362.6 L2024.8,2362.7 L2026.8,2362.8 L2028.8,2362.9 L2030.8,2363.1 L2032.8,2363.2 L2034.8,2363.3 L2036.8,2363.4 L2038.8,2363.5 L2040.8,2363.6 L2042.8,2363.7 L2044.8,2363.8 L2046.8,2363.9 L2048.8,2364.0 L2050.8,2364.1 L2052.8,2364.2 L2054.8,2364.3 L2056.8,2364.4 L2058.8,2364.5 L2060.8,2364.6 L2062.8,2364.7 L2064.8,2364.8 L2066.8,2364.9 L2068.8,2365.0 L2070.8,2365.1 L2072.8,2365.2 L2074.7,2365.3 L2076.7,2365.4 L2078.7,2365.5 L2080.7,2365.6 L2082.7,2365.7 L2084.7,2365.8 L2086.7,2365.9 L2088.7,2366.0 L2090.7,2366.1 L2092.7,2366.2 L2094.7,2366.3 L2096.7,2366.4 L2098.7,2366.5 L2100.7,2366.6 L2102.7,2366.7 L2104.7,2366.8 L2106.7,2366.9 L2108.7,2367.0 L2110.7,2367.1 L2112.7,2367.2 L2114.7,2367.3 L2116.7,2367.4 L2118.7,2367.5 L2120.7,2367.6 L2122.7,2367.7 L2124.7,2367.8 L2126.7,2367.9 L2128.7,2368.0 L2130.7,2368.1 L2132.7,2368.2 L2134.7,2368.2 L2136.6,2368.3 L2138.6,2368.4 L2140.6,2368.5 L2142.6,2368.6 L2144.6,2368.7 L2146.6,2368.8 L2148.6,2368.9 L2150.6,2369.0 L2152.6,2369.1 L2154.6,2369.2 L2156.6,2369.3 L2158.6,2369.4 L2160.6,2369.5 L2162.6,2369.6 L2164.6,2369.7 L2166.6,2369.7 L2168.6,2369.8 L2170.6,2369.9 L2172.6,2370.0 L2174.6,2370.1 L2176.6,2370.2 L2178.6,2370.3 L2180.6,2370.4 L2182.6,2370.5 L2184.6,2370.6 L2186.6,2370.7 L2188.6,2370.8 L2190.6,2370.9 L2192.6,2371.0 L2194.6,2371.0 L2196.6,2371.1 L2198.5,2371.2 L2200.5,2371.3 L2202.5,2371.4 L2204.5,2371.5 L2206.5,2371.6 L2208.5,2371.7 L2210.5,2371.8 L2212.5,2371.9 L2214.5,2372.0 L2216.5,2372.1 L2218.5,2372.1 L2220.5,2372.2 L2222.5,2372.3 L2224.5,2372.4 L2226.5,2372.5 L2228.5,2372.6 L2230.5,2372.7 L2232.5,2372.8 L2234.5,2372.9 L2236.5,2373.0 L2238.5,2373.1 L2240.5,2373.1 L2242.5,2373.2 L2244.5,2373.3 L2246.5,2373.4 L2248.5,2373.5 L2250.5,2373.6 L2252.5,2373.7 L2254.5,2373.8 L2256.5,2373.9 L2258.4,2374.0 L2260.4,2374.1 L2262.4,2374.1 L2264.4,2374.2 L2266.4,2374.3 L2268.4,2374.4 L2270.4,2374.5 L2272.4,2374.6 L2274.4,2374.7 L2276.4,2374.8 L2278.4,2374.9 L2280.4,2375.0 L2282.4,2375.0 L2284.4,2375.1 L2286.4,2375.2 L2288.4,2375.3 L2288.4,2375.7Z" fill="url(#g19)" fill-opacity="0.90"/>
<path d="M1310.0,2334.1 L2338.3,2378.9" stroke="#3ea6f2" stroke-width="2.5"/>
<path d="M1310.0,2328.9 L1312.0,2329.0 L1314.0,2329.1 L1316.0,2329.2 L1318.0,2329.2 L1320.0,2329.3 L1322.0,2329.4 L1324.0,2329.5 L1326.0,2329.5 L1328.0,2329.6 L1330.0,2329.7 L1332.0,2329.8 L1334.0,2329.8 L1336.0,2329.9 L1338.0,2330.0 L1340.0,2330.1 L1342.0,2330.1 L1344.0,2330.2 L1346.0,2330.3 L1348.0,2330.4 L1350.0,2330.5 L1352.0,2330.5 L1354.0,2330.6 L1356.0,2330.7 L1358.0,2330.8 L1360.0,2330.8 L1362.0,2330.9 L1364.0,2331.0 L1366.0,2331.1 L1368.0,2331.1 L1370.0,2331.2 L1372.0,2331.3 L1374.0,2331.3 L1376.0,2331.4 L1378.0,2331.5 L1380.0,2331.6 L1382.0,2331.6 L1384.0,2331.7 L1386.0,2331.8 L1388.0,2331.9 L1390.0,2331.9 L1392.0,2332.0 L1394.0,2332.1 L1396.0,2332.1 L1398.0,2332.2 L1400.0,2332.3 L1402.0,2332.4 L1404.0,2332.4 L1406.0,2332.5 L1408.0,2332.6 L1410.0,2332.6 L1412.0,2332.7 L1414.0,2332.8 L1416.0,2332.8 L1418.0,2332.9 L1420.0,2333.0 L1422.0,2333.1 L1424.0,2333.1 L1426.0,2333.2 L1428.0,2333.3 L1430.0,2333.3 L1432.0,2333.4 L1434.0,2333.5 L1436.0,2333.5 L1438.0,2333.6 L1440.0,2333.7 L1442.0,2333.7 L1444.0,2333.8 L1446.0,2333.8 L1448.0,2333.9 L1450.0,2334.0 L1452.0,2334.0 L1454.0,2334.1 L1456.0,2334.2 L1458.0,2334.2 L1460.0,2334.3 L1462.0,2334.3 L1464.0,2334.4 L1466.0,2334.5 L1468.0,2334.5 L1470.0,2334.6 L1472.0,2334.6 L1474.0,2334.7 L1476.0,2334.7 L1478.0,2334.8 L1480.0,2334.9 L1482.1,2334.9 L1484.1,2335.0 L1486.1,2335.0 L1488.1,2335.1 L1490.1,2335.1 L1492.1,2335.2 L1494.1,2335.2 L1496.1,2335.3 L1498.1,2335.3 L1500.1,2335.3 L1502.1,2335.4 L1504.1,2335.4 L1506.1,2335.5 L1508.1,2335.5 L1510.1,2335.5 L1512.1,2335.6 L1514.1,2335.6 L1516.1,2335.6 L1518.1,2335.7 L1520.1,2335.7 L1522.1,2335.7 L1524.1,2335.7 L1526.1,2335.7 L1528.1,2335.7 L1530.1,2335.7 L1532.1,2335.8 L1534.1,2335.8 L1536.1,2335.7 L1538.1,2335.7 L1540.1,2335.7 L1542.1,2335.7 L1544.1,2335.7 L1546.1,2335.7 L1548.1,2335.6 L1550.1,2335.6 L1552.1,2335.5 L1554.1,2335.5 L1556.1,2335.4 L1558.1,2335.3 L1560.1,2335.3 L1562.1,2335.2 L1564.1,2335.1 L1566.1,2335.0 L1568.1,2334.8 L1570.1,2334.7 L1572.1,2334.6 L1574.1,2334.4 L1576.1,2334.3 L1578.1,2334.1 L1580.1,2333.9 L1582.1,2333.7 L1584.1,2333.5 L1586.1,2333.2 L1588.1,2333.0 L1590.1,2332.7 L1592.1,2332.4 L1594.1,2332.1 L1596.1,2331.8 L1598.1,2331.5 L1600.1,2331.1 L1602.1,2330.7 L1604.1,2330.3 L1606.1,2329.9 L1608.1,2329.4 L1610.1,2329.0 L1612.1,2328.5 L1614.1,2328.0 L1616.1,2327.4 L1618.1,2326.9 L1620.1,2326.3 L1622.1,2325.7 L1624.1,2325.0 L1626.1,2324.3 L1628.1,2323.6 L1630.1,2322.9 L1632.1,2322.2 L1634.1,2321.4 L1636.1,2320.6 L1638.1,2319.7 L1640.1,2318.9 L1642.1,2318.0 L1644.1,2317.0 L1646.1,2316.1 L1648.1,2315.1 L1650.1,2314.1 L1652.1,2313.0 L1654.1,2312.0 L1656.1,2310.9 L1658.1,2309.7 L1660.1,2308.6 L1662.1,2307.4 L1664.1,2306.2 L1666.1,2305.0 L1668.1,2303.8 L1670.1,2302.5 L1672.1,2301.2 L1674.1,2299.9 L1676.1,2298.5 L1678.1,2297.2 L1680.1,2295.8 L1682.1,2294.5 L1684.1,2293.1 L1686.1,2291.7 L1688.1,2290.2 L1690.1,2288.8 L1692.1,2287.4 L1694.1,2285.9 L1696.1,2284.5 L1698.1,2283.1 L1700.1,2281.6 L1702.1,2280.2 L1704.1,2278.7 L1706.1,2277.3 L1708.1,2275.9 L1710.1,2274.5 L1712.1,2273.1 L1714.1,2271.7 L1716.1,2270.3 L1718.1,2269.0 L1720.1,2267.7 L1722.1,2266.3 L1724.1,2265.1 L1726.1,2263.8 L1728.1,2262.6 L1730.1,2261.4 L1732.1,2260.2 L1734.1,2259.1 L1736.1,2258.0 L1738.1,2256.9 L1740.1,2255.9 L1742.1,2254.9 L1744.1,2253.9 L1746.1,2253.0 L1748.1,2252.1 L1750.1,2251.3 L1752.1,2250.5 L1754.1,2249.7 L1756.1,2248.9 L1758.1,2248.2 L1760.1,2247.5 L1762.1,2246.8 L1764.1,2246.2 L1766.1,2245.5 L1768.1,2244.9 L1770.1,2244.3 L1772.1,2243.7 L1774.1,2243.0 L1776.1,2242.4 L1778.1,2241.8 L1780.1,2241.1 L1782.1,2240.5 L1784.1,2239.8 L1786.1,2239.1 L1788.1,2238.3 L1790.1,2237.5 L1792.1,2236.6 L1794.1,2235.7 L1796.1,2234.8 L1798.1,2233.8 L1800.1,2232.7 L1802.1,2231.5 L1804.1,2230.3 L1806.1,2229.0 L1808.1,2227.6 L1810.1,2226.2 L1812.1,2224.6 L1814.1,2223.0 L1816.1,2221.3 L1818.1,2219.6 L1820.1,2217.7 L1822.1,2215.8 L1824.2,2213.8 L1826.2,2211.8 L1828.2,2209.7 L1830.2,2207.5 L1832.2,2205.2 L1834.2,2202.9 L1836.2,2200.6 L1838.2,2198.2 L1840.2,2195.7 L1842.2,2193.2 L1844.2,2190.7 L1846.2,2188.2 L1848.2,2185.6 L1850.2,2183.1 L1852.2,2180.5 L1854.2,2177.9 L1856.2,2175.3 L1858.2,2172.8 L1860.2,2170.2 L1862.2,2167.7 L1864.2,2165.2 L1866.2,2162.8 L1868.2,2160.3 L1870.2,2158.0 L1872.2,2155.6 L1874.2,2153.3 L1876.2,2151.0 L1878.2,2148.7 L1880.2,2146.5 L1882.2,2144.2 L1884.2,2142.0 L1886.2,2139.7 L1888.2,2137.4 L1890.2,2135.1 L1892.2,2132.7 L1894.2,2130.3 L1896.2,2127.8 L1898.2,2125.2 L1900.2,2122.5 L1902.2,2119.7 L1904.2,2116.7 L1906.2,2113.7 L1908.2,2110.6 L1910.2,2107.4 L1912.2,2104.0 L1914.2,2100.6 L1916.2,2097.0 L1918.2,2093.4 L1920.2,2089.8 L1922.2,2086.1 L1924.2,2082.3 L1926.2,2078.6 L1928.2,2074.9 L1930.2,2071.3 L1932.2,2067.7 L1934.2,2064.3 L1936.2,2061.0 L1938.2,2057.9 L1940.2,2055.1 L1942.2,2052.5 L1944.2,2050.2 L1946.2,2048.2 L1948.2,2046.6 L1950.2,2045.4 L1952.2,2044.6 L1954.2,2044.3 L1956.2,2044.5 L1958.2,2045.2 L1960.2,2046.4 L1962.2,2048.1 L1964.2,2050.4 L1966.2,2053.3 L1968.2,2056.6 L1970.2,2060.5 L1972.2,2064.9 L1974.2,2069.8 L1976.2,2075.2 L1978.2,2080.9 L1980.2,2087.1 L1982.2,2093.6 L1984.2,2100.5 L1986.2,2107.6 L1988.2,2115.0 L1990.2,2122.6 L1992.2,2130.4 L1994.2,2138.4 L1996.2,2146.4 L1998.2,2154.5 L2000.2,2162.6 L2002.2,2170.7 L2004.2,2178.8 L2006.2,2186.9 L2008.2,2194.8 L2010.2,2202.7 L2012.2,2210.4 L2014.2,2218.0 L2016.2,2225.4 L2018.2,2232.6 L2020.2,2239.6 L2022.2,2246.4 L2024.2,2253.0 L2026.2,2259.3 L2028.2,2265.4 L2030.2,2271.3 L2032.2,2276.9 L2034.2,2282.2 L2036.2,2287.3 L2038.2,2292.1 L2040.2,2296.7 L2042.2,2301.0 L2044.2,2305.1 L2046.2,2309.0 L2048.2,2312.6 L2050.2,2316.0 L2052.2,2319.2 L2054.2,2322.2 L2056.2,2324.9 L2058.2,2327.5 L2060.2,2330.0 L2062.2,2332.2 L2064.2,2334.3 L2066.2,2336.2 L2068.2,2338.0 L2070.2,2339.6 L2072.2,2341.2 L2074.2,2342.6 L2076.2,2343.9 L2078.2,2345.1 L2080.2,2346.2 L2082.2,2347.2 L2084.2,2348.2 L2086.2,2349.0 L2088.2,2349.8 L2090.2,2350.6 L2092.2,2351.3 L2094.2,2351.9 L2096.2,2352.5 L2098.2,2353.1 L2100.2,2353.6 L2102.2,2354.1 L2104.2,2354.5 L2106.2,2354.9 L2108.2,2355.3 L2110.2,2355.7 L2112.2,2356.1 L2114.2,2356.4 L2116.2,2356.7 L2118.2,2357.1 L2120.2,2357.4 L2122.2,2357.6 L2124.2,2357.9 L2126.2,2358.2 L2128.2,2358.4 L2130.2,2358.7 L2132.2,2358.9 L2134.2,2359.1 L2136.2,2359.4 L2138.2,2359.6 L2140.2,2359.8 L2142.2,2360.0 L2144.2,2360.2 L2146.2,2360.4 L2148.2,2360.6 L2150.2,2360.8 L2152.2,2361.0 L2154.2,2361.2 L2156.2,2361.4 L2158.2,2361.6 L2160.2,2361.7 L2162.2,2361.9 L2164.2,2362.1 L2166.2,2362.3 L2168.3,2362.4 L2170.3,2362.6 L2172.3,2362.8 L2174.3,2362.9 L2176.3,2363.1 L2178.3,2363.2 L2180.3,2363.4 L2182.3,2363.6 L2184.3,2363.7 L2186.3,2363.9 L2188.3,2364.0 L2190.3,2364.2 L2192.3,2364.3 L2194.3,2364.5 L2196.3,2364.6 L2198.3,2364.8 L2200.3,2364.9 L2202.3,2365.0 L2204.3,2365.2 L2206.3,2365.3 L2208.3,2365.5 L2210.3,2365.6 L2212.3,2365.7 L2214.3,2365.9 L2216.3,2366.0 L2218.3,2366.1 L2220.3,2366.3 L2222.3,2366.4 L2224.3,2366.5 L2226.3,2366.7 L2228.3,2366.8 L2230.3,2366.9 L2232.3,2367.1 L2234.3,2367.2 L2236.3,2367.3 L2238.3,2367.4 L2240.3,2367.6 L2242.3,2367.7 L2244.3,2367.8 L2246.3,2367.9 L2248.3,2368.1 L2250.3,2368.2 L2252.3,2368.3 L2254.3,2368.4 L2256.3,2368.5 L2258.3,2368.7 L2260.3,2368.8 L2262.3,2368.9 L2264.3,2369.0 L2266.3,2369.1 L2268.3,2369.2 L2270.3,2369.4 L2272.3,2369.5 L2274.3,2369.6 L2276.3,2369.7 L2278.3,2369.8 L2280.3,2369.9 L2282.3,2370.0 L2284.3,2370.2 L2286.3,2370.3 L2288.3,2370.4 L2290.3,2370.5 L2292.3,2370.6 L2294.3,2370.7 L2296.3,2370.8 L2298.3,2370.9 L2300.3,2371.0 L2302.3,2371.2 L2304.3,2371.3 L2306.3,2371.4 L2308.3,2371.5 L2310.3,2371.6 L2312.3,2371.7 L2314.3,2371.8 L2316.3,2371.9 L2318.3,2372.0 L2320.3,2372.1 L2322.3,2372.2 L2324.3,2372.3 L2326.3,2372.4 L2328.3,2372.5 L2330.3,2372.7 L2332.3,2372.8 L2334.3,2372.9 L2336.3,2373.0 L2338.3,2373.1" fill="none" stroke="#4aaef5" stroke-width="2.2" stroke-linejoin="round"/>
<path d="M1309.6,2330.3a2.9,2.9 0 1,0 5.8,0a2.9,2.9 0 1,0 -5.8,0M1314.2,2329.9a2.9,2.9 0 1,0 5.8,0a2.9,2.9 0 1,0 -5.8,0M1317.5,2329.9a2.9,2.9 0 1,0 5.8,0a2.9,2.9 0 1,0 -5.8,0M1323.4,2329.3a2.9,2.9 0 1,0 5.8,0a2.9,2.9 0 1,0 -5.8,0M1328.1,2328.7a2.9,2.9 0 1,0 5.8,0a2.9,2.9 0 1,0 -5.8,0M1332.8,2329.7a2.9,2.9 0 1,0 5.8,0a2.9,2.9 0 1,0 -5.8,0M1337.0,2329.3a2.9,2.9 0 1,0 5.8,0a2.9,2.9 0 1,0 -5.8,0M1340.9,2329.7a2.9,2.9 0 1,0 5.8,0a2.9,2.9 0 1,0 -5.8,0M1345.6,2329.1a2.9,2.9 0 1,0 5.8,0a2.9,2.9 0 1,0 -5.8,0M1350.3,2332.1a2.9,2.9 0 1,0 5.8,0a2.9,2.9 0 1,0 -5.8,0M1355.3,2332.1a2.9,2.9 0 1,0 5.8,0a2.9,2.9 0 1,0 -5.8,0M1360.0,2332.0a2.9,2.9 0 1,0 5.8,0a2.9,2.9 0 1,0 -5.8,0M1365.0,2331.9a2.9,2.9 0 1,0 5.8,0a2.9,2.9 0 1,0 -5.8,0M1368.5,2330.4a2.9,2.9 0 1,0 5.8,0a2.9,2.9 0 1,0 -5.8,0M1373.3,2329.9a2.9,2.9 0 1,0 5.8,0a2.9,2.9 0 1,0 -5.8,0M1377.6,2332.8a2.9,2.9 0 1,0 5.8,0a2.9,2.9 0 1,0 -5.8,0M1383.3,2331.2a2.9,2.9 0 1,0 5.8,0a2.9,2.9 0 1,0 -5.8,0M1387.6,2332.8a2.9,2.9 0 1,0 5.8,0a2.9,2.9 0 1,0 -5.8,0M1392.4,2333.1a2.9,2.9 0 1,0 5.8,0a2.9,2.9 0 1,0 -5.8,0M1396.4,2331.0a2.9,2.9 0 1,0 5.8,0a2.9,2.9 0 1,0 -5.8,0M1401.5,2331.8a2.9,2.9 0 1,0 5.8,0a2.9,2.9 0 1,0 -5.8,0M1405.8,2332.2a2.9,2.9 0 1,0 5.8,0a2.9,2.9 0 1,0 -5.8,0M1410.2,2334.2a2.9,2.9 0 1,0 5.8,0a2.9,2.9 0 1,0 -5.8,0M1414.2,2333.0a2.9,2.9 0 1,0 5.8,0a2.9,2.9 0 1,0 -5.8,0M1419.6,2333.2a2.9,2.9 0 1,0 5.8,0a2.9,2.9 0 1,0 -5.8,0M1424.6,2332.9a2.9,2.9 0 1,0 5.8,0a2.9,2.9 0 1,0 -5.8,0M1429.2,2334.0a2.9,2.9 0 1,0 5.8,0a2.9,2.9 0 1,0 -5.8,0M1433.9,2332.2a2.9,2.9 0 1,0 5.8,0a2.9,2.9 0 1,0 -5.8,0M1437.3,2333.0a2.9,2.9 0 1,0 5.8,0a2.9,2.9 0 1,0 -5.8,0M1443.0,2332.3a2.9,2.9 0 1,0 5.8,0a2.9,2.9 0 1,0 -5.8,0M1446.5,2334.6a2.9,2.9 0 1,0 5.8,0a2.9,2.9 0 1,0 -5.8,0M1452.3,2333.1a2.9,2.9 0 1,0 5.8,0a2.9,2.9 0 1,0 -5.8,0M1456.0,2334.8a2.9,2.9 0 1,0 5.8,0a2.9,2.9 0 1,0 -5.8,0M1461.0,2335.2a2.9,2.9 0 1,0 5.8,0a2.9,2.9 0 1,0 -5.8,0M1465.7,2333.7a2.9,2.9 0 1,0 5.8,0a2.9,2.9 0 1,0 -5.8,0M1469.5,2333.1a2.9,2.9 0 1,0 5.8,0a2.9,2.9 0 1,0 -5.8,0M1474.8,2333.9a2.9,2.9 0 1,0 5.8,0a2.9,2.9 0 1,0 -5.8,0M1478.7,2336.4a2.9,2.9 0 1,0 5.8,0a2.9,2.9 0 1,0 -5.8,0M1483.9,2335.3a2.9,2.9 0 1,0 5.8,0a2.9,2.9 0 1,0 -5.8,0M1488.5,2335.5a2.9,2.9 0 1,0 5.8,0a2.9,2.9 0 1,0 -5.8,0M1493.1,2334.6a2.9,2.9 0 1,0 5.8,0a2.9,2.9 0 1,0 -5.8,0M1496.7,2334.0a2.9,2.9 0 1,0 5.8,0a2.9,2.9 0 1,0 -5.8,0M1501.2,2335.0a2.9,2.9 0 1,0 5.8,0a2.9,2.9 0 1,0 -5.8,0M1506.0,2334.3a2.9,2.9 0 1,0 5.8,0a2.9,2.9 0 1,0 -5.8,0M1511.2,2337.1a2.9,2.9 0 1,0 5.8,0a2.9,2.9 0 1,0 -5.8,0M1516.1,2334.9a2.9,2.9 0 1,0 5.8,0a2.9,2.9 0 1,0 -5.8,0M1520.8,2334.7a2.9,2.9 0 1,0 5.8,0a2.9,2.9 0 1,0 -5.8,0M1524.3,2335.1a2.9,2.9 0 1,0 5.8,0a2.9,2.9 0 1,0 -5.8,0M1529.4,2336.4a2.9,2.9 0 1,0 5.8,0a2.9,2.9 0 1,0 -5.8,0M1534.1,2336.5a2.9,2.9 0 1,0 5.8,0a2.9,2.9 0 1,0 -5.8,0M1538.1,2337.1a2.9,2.9 0 1,0 5.8,0a2.9,2.9 0 1,0 -5.8,0M1543.1,2336.7a2.9,2.9 0 1,0 5.8,0a2.9,2.9 0 1,0 -5.8,0M1547.2,2336.6a2.9,2.9 0 1,0 5.8,0a2.9,2.9 0 1,0 -5.8,0M1552.1,2336.6a2.9,2.9 0 1,0 5.8,0a2.9,2.9 0 1,0 -5.8,0M1557.6,2335.8a2.9,2.9 0 1,0 5.8,0a2.9,2.9 0 1,0 -5.8,0M1561.4,2333.5a2.9,2.9 0 1,0 5.8,0a2.9,2.9 0 1,0 -5.8,0M1565.8,2336.1a2.9,2.9 0 1,0 5.8,0a2.9,2.9 0 1,0 -5.8,0M1570.4,2335.0a2.9,2.9 0 1,0 5.8,0a2.9,2.9 0 1,0 -5.8,0M1575.6,2334.5a2.9,2.9 0 1,0 5.8,0a2.9,2.9 0 1,0 -5.8,0M1579.6,2332.5a2.9,2.9 0 1,0 5.8,0a2.9,2.9 0 1,0 -5.8,0M1584.1,2334.7a2.9,2.9 0 1,0 5.8,0a2.9,2.9 0 1,0 -5.8,0M1589.1,2332.9a2.9,2.9 0 1,0 5.8,0a2.9,2.9 0 1,0 -5.8,0M1594.0,2330.8a2.9,2.9 0 1,0 5.8,0a2.9,2.9 0 1,0 -5.8,0M1597.8,2329.4a2.9,2.9 0 1,0 5.8,0a2.9,2.9 0 1,0 -5.8,0M1603.6,2328.6a2.9,2.9 0 1,0 5.8,0a2.9,2.9 0 1,0 -5.8,0M1608.4,2328.2a2.9,2.9 0 1,0 5.8,0a2.9,2.9 0 1,0 -5.8,0M1612.6,2326.4a2.9,2.9 0 1,0 5.8,0a2.9,2.9 0 1,0 -5.8,0M1617.3,2325.4a2.9,2.9 0 1,0 5.8,0a2.9,2.9 0 1,0 -5.8,0M1621.2,2325.1a2.9,2.9 0 1,0 5.8,0a2.9,2.9 0 1,0 -5.8,0M1625.4,2322.8a2.9,2.9 0 1,0 5.8,0a2.9,2.9 0 1,0 -5.8,0M1631.1,2320.7a2.9,2.9 0 1,0 5.8,0a2.9,2.9 0 1,0 -5.8,0M1635.0,2320.6a2.9,2.9 0 1,0 5.8,0a2.9,2.9 0 1,0 -5.8,0M1639.4,2316.9a2.9,2.9 0 1,0 5.8,0a2.9,2.9 0 1,0 -5.8,0M1644.0,2315.3a2.9,2.9 0 1,0 5.8,0a2.9,2.9 0 1,0 -5.8,0M1648.8,2313.7a2.9,2.9 0 1,0 5.8,0a2.9,2.9 0 1,0 -5.8,0M1653.6,2311.9a2.9,2.9 0 1,0 5.8,0a2.9,2.9 0 1,0 -5.8,0M1657.5,2309.0a2.9,2.9 0 1,0 5.8,0a2.9,2.9 0 1,0 -5.8,0M1663.3,2304.1a2.9,2.9 0 1,0 5.8,0a2.9,2.9 0 1,0 -5.8,0M1666.6,2302.7a2.9,2.9 0 1,0 5.8,0a2.9,2.9 0 1,0 -5.8,0M1671.4,2299.7a2.9,2.9 0 1,0 5.8,0a2.9,2.9 0 1,0 -5.8,0M1676.9,2294.7a2.9,2.9 0 1,0 5.8,0a2.9,2.9 0 1,0 -5.8,0M1680.5,2293.5a2.9,2.9 0 1,0 5.8,0a2.9,2.9 0 1,0 -5.8,0M1685.2,2289.4a2.9,2.9 0 1,0 5.8,0a2.9,2.9 0 1,0 -5.8,0M1690.2,2285.4a2.9,2.9 0 1,0 5.8,0a2.9,2.9 0 1,0 -5.8,0M1694.2,2283.3a2.9,2.9 0 1,0 5.8,0a2.9,2.9 0 1,0 -5.8,0M1699.5,2281.4a2.9,2.9 0 1,0 5.8,0a2.9,2.9 0 1,0 -5.8,0M1704.2,2275.2a2.9,2.9 0 1,0 5.8,0a2.9,2.9 0 1,0 -5.8,0M1708.3,2274.5a2.9,2.9 0 1,0 5.8,0a2.9,2.9 0 1,0 -5.8,0M1713.4,2271.4a2.9,2.9 0 1,0 5.8,0a2.9,2.9 0 1,0 -5.8,0M1718.6,2267.9a2.9,2.9 0 1,0 5.8,0a2.9,2.9 0 1,0 -5.8,0M1721.9,2266.1a2.9,2.9 0 1,0 5.8,0a2.9,2.9 0 1,0 -5.8,0M1727.1,2260.6a2.9,2.9 0 1,0 5.8,0a2.9,2.9 0 1,0 -5.8,0M1731.2,2260.3a2.9,2.9 0 1,0 5.8,0a2.9,2.9 0 1,0 -5.8,0M1735.8,2255.3a2.9,2.9 0 1,0 5.8,0a2.9,2.9 0 1,0 -5.8,0M1740.5,2255.6a2.9,2.9 0 1,0 5.8,0a2.9,2.9 0 1,0 -5.8,0M1745.4,2252.8a2.9,2.9 0 1,0 5.8,0a2.9,2.9 0 1,0 -5.8,0M1749.4,2250.2a2.9,2.9 0 1,0 5.8,0a2.9,2.9 0 1,0 -5.8,0M1754.4,2247.6a2.9,2.9 0 1,0 5.8,0a2.9,2.9 0 1,0 -5.8,0M1759.5,2246.3a2.9,2.9 0 1,0 5.8,0a2.9,2.9 0 1,0 -5.8,0M1763.2,2247.1a2.9,2.9 0 1,0 5.8,0a2.9,2.9 0 1,0 -5.8,0M1768.4,2242.9a2.9,2.9 0 1,0 5.8,0a2.9,2.9 0 1,0 -5.8,0M1772.2,2243.2a2.9,2.9 0 1,0 5.8,0a2.9,2.9 0 1,0 -5.8,0M1777.6,2239.5a2.9,2.9 0 1,0 5.8,0a2.9,2.9 0 1,0 -5.8,0M1782.2,2240.2a2.9,2.9 0 1,0 5.8,0a2.9,2.9 0 1,0 -5.8,0M1786.9,2236.8a2.9,2.9 0 1,0 5.8,0a2.9,2.9 0 1,0 -5.8,0M1791.4,2236.0a2.9,2.9 0 1,0 5.8,0a2.9,2.9 0 1,0 -5.8,0M1796.2,2232.1a2.9,2.9 0 1,0 5.8,0a2.9,2.9 0 1,0 -5.8,0M1801.1,2231.8a2.9,2.9 0 1,0 5.8,0a2.9,2.9 0 1,0 -5.8,0M1805.6,2228.5a2.9,2.9 0 1,0 5.8,0a2.9,2.9 0 1,0 -5.8,0M1809.6,2225.7a2.9,2.9 0 1,0 5.8,0a2.9,2.9 0 1,0 -5.8,0M1813.9,2220.0a2.9,2.9 0 1,0 5.8,0a2.9,2.9 0 1,0 -5.8,0M1819.1,2217.3a2.9,2.9 0 1,0 5.8,0a2.9,2.9 0 1,0 -5.8,0M1822.9,2211.3a2.9,2.9 0 1,0 5.8,0a2.9,2.9 0 1,0 -5.8,0M1827.4,2207.1a2.9,2.9 0 1,0 5.8,0a2.9,2.9 0 1,0 -5.8,0M1832.2,2200.9a2.9,2.9 0 1,0 5.8,0a2.9,2.9 0 1,0 -5.8,0M1837.7,2195.4a2.9,2.9 0 1,0 5.8,0a2.9,2.9 0 1,0 -5.8,0M1842.6,2188.7a2.9,2.9 0 1,0 5.8,0a2.9,2.9 0 1,0 -5.8,0M1846.8,2182.1a2.9,2.9 0 1,0 5.8,0a2.9,2.9 0 1,0 -5.8,0M1851.8,2176.3a2.9,2.9 0 1,0 5.8,0a2.9,2.9 0 1,0 -5.8,0M1855.7,2172.3a2.9,2.9 0 1,0 5.8,0a2.9,2.9 0 1,0 -5.8,0M1861.0,2165.5a2.9,2.9 0 1,0 5.8,0a2.9,2.9 0 1,0 -5.8,0M1865.7,2160.2a2.9,2.9 0 1,0 5.8,0a2.9,2.9 0 1,0 -5.8,0M1869.0,2156.9a2.9,2.9 0 1,0 5.8,0a2.9,2.9 0 1,0 -5.8,0M1873.6,2152.2a2.9,2.9 0 1,0 5.8,0a2.9,2.9 0 1,0 -5.8,0M1878.6,2144.1a2.9,2.9 0 1,0 5.8,0a2.9,2.9 0 1,0 -5.8,0M1884.0,2138.3a2.9,2.9 0 1,0 5.8,0a2.9,2.9 0 1,0 -5.8,0M1887.7,2134.1a2.9,2.9 0 1,0 5.8,0a2.9,2.9 0 1,0 -5.8,0M1892.7,2126.9a2.9,2.9 0 1,0 5.8,0a2.9,2.9 0 1,0 -5.8,0M1896.8,2122.0a2.9,2.9 0 1,0 5.8,0a2.9,2.9 0 1,0 -5.8,0M1902.2,2113.8a2.9,2.9 0 1,0 5.8,0a2.9,2.9 0 1,0 -5.8,0M1906.4,2108.0a2.9,2.9 0 1,0 5.8,0a2.9,2.9 0 1,0 -5.8,0M1910.7,2101.7a2.9,2.9 0 1,0 5.8,0a2.9,2.9 0 1,0 -5.8,0M1915.8,2091.4a2.9,2.9 0 1,0 5.8,0a2.9,2.9 0 1,0 -5.8,0M1919.6,2084.3a2.9,2.9 0 1,0 5.8,0a2.9,2.9 0 1,0 -5.8,0M1925.3,2073.7a2.9,2.9 0 1,0 5.8,0a2.9,2.9 0 1,0 -5.8,0M1928.6,2069.0a2.9,2.9 0 1,0 5.8,0a2.9,2.9 0 1,0 -5.8,0M1933.9,2061.3a2.9,2.9 0 1,0 5.8,0a2.9,2.9 0 1,0 -5.8,0M1937.7,2053.7a2.9,2.9 0 1,0 5.8,0a2.9,2.9 0 1,0 -5.8,0M1942.4,2049.3a2.9,2.9 0 1,0 5.8,0a2.9,2.9 0 1,0 -5.8,0M1947.5,2045.0a2.9,2.9 0 1,0 5.8,0a2.9,2.9 0 1,0 -5.8,0M1952.8,2044.9a2.9,2.9 0 1,0 5.8,0a2.9,2.9 0 1,0 -5.8,0M1957.3,2047.9a2.9,2.9 0 1,0 5.8,0a2.9,2.9 0 1,0 -5.8,0M1961.0,2051.5a2.9,2.9 0 1,0 5.8,0a2.9,2.9 0 1,0 -5.8,0M1965.8,2056.1a2.9,2.9 0 1,0 5.8,0a2.9,2.9 0 1,0 -5.8,0M1971.2,2068.3a2.9,2.9 0 1,0 5.8,0a2.9,2.9 0 1,0 -5.8,0M1974.4,2077.5a2.9,2.9 0 1,0 5.8,0a2.9,2.9 0 1,0 -5.8,0M1979.4,2095.4a2.9,2.9 0 1,0 5.8,0a2.9,2.9 0 1,0 -5.8,0M1984.9,2113.3a2.9,2.9 0 1,0 5.8,0a2.9,2.9 0 1,0 -5.8,0M1989.0,2130.2a2.9,2.9 0 1,0 5.8,0a2.9,2.9 0 1,0 -5.8,0M1994.0,2149.7a2.9,2.9 0 1,0 5.8,0a2.9,2.9 0 1,0 -5.8,0M1998.1,2164.7a2.9,2.9 0 1,0 5.8,0a2.9,2.9 0 1,0 -5.8,0M2002.3,2183.3a2.9,2.9 0 1,0 5.8,0a2.9,2.9 0 1,0 -5.8,0M2007.4,2204.1a2.9,2.9 0 1,0 5.8,0a2.9,2.9 0 1,0 -5.8,0M2012.5,2224.0a2.9,2.9 0 1,0 5.8,0a2.9,2.9 0 1,0 -5.8,0M2016.0,2233.6a2.9,2.9 0 1,0 5.8,0a2.9,2.9 0 1,0 -5.8,0M2021.7,2254.5a2.9,2.9 0 1,0 5.8,0a2.9,2.9 0 1,0 -5.8,0M2025.1,2265.5a2.9,2.9 0 1,0 5.8,0a2.9,2.9 0 1,0 -5.8,0M2029.9,2277.5a2.9,2.9 0 1,0 5.8,0a2.9,2.9 0 1,0 -5.8,0M2034.6,2290.6a2.9,2.9 0 1,0 5.8,0a2.9,2.9 0 1,0 -5.8,0M2039.7,2300.5a2.9,2.9 0 1,0 5.8,0a2.9,2.9 0 1,0 -5.8,0M2044.4,2311.4a2.9,2.9 0 1,0 5.8,0a2.9,2.9 0 1,0 -5.8,0M2048.6,2318.6a2.9,2.9 0 1,0 5.8,0a2.9,2.9 0 1,0 -5.8,0M2053.7,2323.9a2.9,2.9 0 1,0 5.8,0a2.9,2.9 0 1,0 -5.8,0M2057.8,2331.0a2.9,2.9 0 1,0 5.8,0a2.9,2.9 0 1,0 -5.8,0M2062.7,2336.1a2.9,2.9 0 1,0 5.8,0a2.9,2.9 0 1,0 -5.8,0M2066.5,2340.4a2.9,2.9 0 1,0 5.8,0a2.9,2.9 0 1,0 -5.8,0M2072.0,2342.2a2.9,2.9 0 1,0 5.8,0a2.9,2.9 0 1,0 -5.8,0M2076.1,2347.0a2.9,2.9 0 1,0 5.8,0a2.9,2.9 0 1,0 -5.8,0M2080.3,2347.4a2.9,2.9 0 1,0 5.8,0a2.9,2.9 0 1,0 -5.8,0M2086.1,2351.4a2.9,2.9 0 1,0 5.8,0a2.9,2.9 0 1,0 -5.8,0M2089.5,2352.1a2.9,2.9 0 1,0 5.8,0a2.9,2.9 0 1,0 -5.8,0M2094.3,2353.3a2.9,2.9 0 1,0 5.8,0a2.9,2.9 0 1,0 -5.8,0M2099.6,2352.9a2.9,2.9 0 1,0 5.8,0a2.9,2.9 0 1,0 -5.8,0M2103.3,2354.0a2.9,2.9 0 1,0 5.8,0a2.9,2.9 0 1,0 -5.8,0M2108.0,2354.4a2.9,2.9 0 1,0 5.8,0a2.9,2.9 0 1,0 -5.8,0M2112.3,2356.3a2.9,2.9 0 1,0 5.8,0a2.9,2.9 0 1,0 -5.8,0M2117.4,2356.0a2.9,2.9 0 1,0 5.8,0a2.9,2.9 0 1,0 -5.8,0M2122.2,2359.4a2.9,2.9 0 1,0 5.8,0a2.9,2.9 0 1,0 -5.8,0M2126.8,2358.2a2.9,2.9 0 1,0 5.8,0a2.9,2.9 0 1,0 -5.8,0M2131.6,2359.0a2.9,2.9 0 1,0 5.8,0a2.9,2.9 0 1,0 -5.8,0M2135.4,2359.5a2.9,2.9 0 1,0 5.8,0a2.9,2.9 0 1,0 -5.8,0M2139.7,2360.6a2.9,2.9 0 1,0 5.8,0a2.9,2.9 0 1,0 -5.8,0M2144.5,2360.1a2.9,2.9 0 1,0 5.8,0a2.9,2.9 0 1,0 -5.8,0M2150.4,2362.0a2.9,2.9 0 1,0 5.8,0a2.9,2.9 0 1,0 -5.8,0M2154.8,2362.0a2.9,2.9 0 1,0 5.8,0a2.9,2.9 0 1,0 -5.8,0M2159.1,2362.5a2.9,2.9 0 1,0 5.8,0a2.9,2.9 0 1,0 -5.8,0M2164.2,2361.4a2.9,2.9 0 1,0 5.8,0a2.9,2.9 0 1,0 -5.8,0M2168.5,2362.1a2.9,2.9 0 1,0 5.8,0a2.9,2.9 0 1,0 -5.8,0M2172.2,2364.0a2.9,2.9 0 1,0 5.8,0a2.9,2.9 0 1,0 -5.8,0M2177.4,2364.5a2.9,2.9 0 1,0 5.8,0a2.9,2.9 0 1,0 -5.8,0M2182.4,2364.1a2.9,2.9 0 1,0 5.8,0a2.9,2.9 0 1,0 -5.8,0M2185.9,2362.5a2.9,2.9 0 1,0 5.8,0a2.9,2.9 0 1,0 -5.8,0M2191.1,2365.2a2.9,2.9 0 1,0 5.8,0a2.9,2.9 0 1,0 -5.8,0M2195.2,2363.4a2.9,2.9 0 1,0 5.8,0a2.9,2.9 0 1,0 -5.8,0M2199.4,2364.0a2.9,2.9 0 1,0 5.8,0a2.9,2.9 0 1,0 -5.8,0M2205.1,2363.9a2.9,2.9 0 1,0 5.8,0a2.9,2.9 0 1,0 -5.8,0M2208.9,2365.0a2.9,2.9 0 1,0 5.8,0a2.9,2.9 0 1,0 -5.8,0M2214.3,2367.6a2.9,2.9 0 1,0 5.8,0a2.9,2.9 0 1,0 -5.8,0M2217.8,2365.1a2.9,2.9 0 1,0 5.8,0a2.9,2.9 0 1,0 -5.8,0M2223.9,2368.2a2.9,2.9 0 1,0 5.8,0a2.9,2.9 0 1,0 -5.8,0M2227.2,2366.4a2.9,2.9 0 1,0 5.8,0a2.9,2.9 0 1,0 -5.8,0M2232.4,2366.7a2.9,2.9 0 1,0 5.8,0a2.9,2.9 0 1,0 -5.8,0M2236.8,2367.5a2.9,2.9 0 1,0 5.8,0a2.9,2.9 0 1,0 -5.8,0M2241.1,2366.4a2.9,2.9 0 1,0 5.8,0a2.9,2.9 0 1,0 -5.8,0M2245.5,2367.0a2.9,2.9 0 1,0 5.8,0a2.9,2.9 0 1,0 -5.8,0M2250.1,2368.7a2.9,2.9 0 1,0 5.8,0a2.9,2.9 0 1,0 -5.8,0M2255.6,2367.9a2.9,2.9 0 1,0 5.8,0a2.9,2.9 0 1,0 -5.8,0M2260.4,2369.7a2.9,2.9 0 1,0 5.8,0a2.9,2.9 0 1,0 -5.8,0M2264.2,2369.2a2.9,2.9 0 1,0 5.8,0a2.9,2.9 0 1,0 -5.8,0M2268.6,2370.8a2.9,2.9 0 1,0 5.8,0a2.9,2.9 0 1,0 -5.8,0M2273.8,2368.3a2.9,2.9 0 1,0 5.8,0a2.9,2.9 0 1,0 -5.8,0M2277.7,2370.6a2.9,2.9 0 1,0 5.8,0a2.9,2.9 0 1,0 -5.8,0M2282.7,2370.9a2.9,2.9 0 1,0 5.8,0a2.9,2.9 0 1,0 -5.8,0M2287.0,2371.4a2.9,2.9 0 1,0 5.8,0a2.9,2.9 0 1,0 -5.8,0M2292.5,2369.5a2.9,2.9 0 1,0 5.8,0a2.9,2.9 0 1,0 -5.8,0M2296.8,2370.0a2.9,2.9 0 1,0 5.8,0a2.9,2.9 0 1,0 -5.8,0M2301.6,2372.2a2.9,2.9 0 1,0 5.8,0a2.9,2.9 0 1,0 -5.8,0M2306.3,2370.7a2.9,2.9 0 1,0 5.8,0a2.9,2.9 0 1,0 -5.8,0M2309.8,2372.2a2.9,2.9 0 1,0 5.8,0a2.9,2.9 0 1,0 -5.8,0M2315.1,2370.8a2.9,2.9 0 1,0 5.8,0a2.9,2.9 0 1,0 -5.8,0M2319.1,2372.5a2.9,2.9 0 1,0 5.8,0a2.9,2.9 0 1,0 -5.8,0M2323.6,2372.9a2.9,2.9 0 1,0 5.8,0a2.9,2.9 0 1,0 -5.8,0M2328.4,2371.9a2.9,2.9 0 1,0 5.8,0a2.9,2.9 0 1,0 -5.8,0M2333.3,2373.1a2.9,2.9 0 1,0 5.8,0a2.9,2.9 0 1,0 -5.8,0" fill="#fff" fill-opacity="0.5" stroke="#62bcf8" stroke-width="1.3"/>
<path d="M1610.8,2792.2 L1610.8,2790.7 L1612.8,2790.7 L1614.8,2790.7 L1616.8,2790.8 L1618.8,2790.8 L1620.8,2790.8 L1622.8,2790.8 L1624.8,2790.8 L1626.8,2790.8 L1628.7,2790.8 L1630.7,2790.8 L1632.7,2790.8 L1634.7,2790.9 L1636.7,2790.9 L1638.7,2790.9 L1640.7,2790.9 L1642.7,2790.9 L1644.7,2790.9 L1646.7,2790.9 L1648.7,2790.9 L1650.7,2790.9 L1652.7,2790.9 L1654.7,2790.9 L1656.7,2790.9 L1658.7,2790.9 L1660.7,2790.9 L1662.7,2790.9 L1664.6,2791.0 L1666.6,2791.0 L1668.6,2791.0 L1670.6,2791.0 L1672.6,2791.0 L1674.6,2791.0 L1676.6,2791.0 L1678.6,2791.0 L1680.6,2791.0 L1682.6,2791.0 L1684.6,2791.0 L1686.6,2791.0 L1688.6,2790.9 L1690.6,2790.9 L1692.6,2790.9 L1694.6,2790.9 L1696.6,2790.9 L1698.6,2790.9 L1700.5,2790.9 L1702.5,2790.9 L1704.5,2790.9 L1706.5,2790.9 L1708.5,2790.9 L1710.5,2790.9 L1712.5,2790.8 L1714.5,2790.8 L1716.5,2790.8 L1718.5,2790.8 L1720.5,2790.8 L1722.5,2790.8 L1724.5,2790.7 L1726.5,2790.7 L1728.5,2790.7 L1730.5,2790.7 L1732.5,2790.7 L1734.4,2790.6 L1736.4,2790.6 L1738.4,2790.6 L1740.4,2790.5 L1742.4,2790.5 L1744.4,2790.5 L1746.4,2790.4 L1748.4,2790.4 L1750.4,2790.4 L1752.4,2790.3 L1754.4,2790.3 L1756.4,2790.2 L1758.4,2790.2 L1760.4,2790.1 L1762.4,2790.1 L1764.4,2790.0 L1766.4,2790.0 L1768.4,2789.9 L1770.3,2789.8 L1772.3,2789.8 L1774.3,2789.7 L1776.3,2789.6 L1778.3,2789.5 L1780.3,2789.4 L1782.3,2789.3 L1784.3,2789.2 L1786.3,2789.1 L1788.3,2789.0 L1790.3,2788.9 L1792.3,2788.7 L1794.3,2788.6 L1796.3,2788.4 L1798.3,2788.2 L1800.3,2788.0 L1802.3,2787.8 L1804.3,2787.6 L1806.2,2787.4 L1808.2,2787.1 L1810.2,2786.8 L1812.2,2786.5 L1814.2,2786.2 L1816.2,2785.8 L1818.2,2785.4 L1820.2,2784.9 L1822.2,2784.4 L1824.2,2783.9 L1826.2,2783.3 L1828.2,2782.6 L1830.2,2781.9 L1832.2,2781.2 L1834.2,2780.3 L1836.2,2779.4 L1838.2,2778.4 L1840.1,2777.3 L1842.1,2776.1 L1844.1,2774.8 L1846.1,2773.4 L1848.1,2771.9 L1850.1,2770.3 L1852.1,2768.5 L1854.1,2766.6 L1856.1,2764.5 L1858.1,2762.3 L1860.1,2760.0 L1862.1,2757.4 L1864.1,2754.7 L1866.1,2751.8 L1868.1,2748.6 L1870.1,2745.3 L1872.1,2741.8 L1874.1,2738.1 L1876.0,2734.1 L1878.0,2730.0 L1880.0,2725.6 L1882.0,2720.9 L1884.0,2716.1 L1886.0,2711.0 L1888.0,2705.7 L1890.0,2700.2 L1892.0,2694.4 L1894.0,2688.4 L1896.0,2682.2 L1898.0,2675.8 L1900.0,2669.2 L1902.0,2662.4 L1904.0,2655.4 L1906.0,2648.3 L1908.0,2641.0 L1910.0,2633.6 L1911.9,2626.1 L1913.9,2618.5 L1915.9,2610.9 L1917.9,2603.2 L1919.9,2595.5 L1921.9,2587.8 L1923.9,2580.1 L1925.9,2572.6 L1927.9,2565.1 L1929.9,2557.8 L1931.9,2550.6 L1933.9,2543.6 L1935.9,2536.9 L1937.9,2530.5 L1939.9,2524.4 L1941.9,2518.7 L1943.9,2513.3 L1945.8,2508.3 L1947.8,2503.8 L1949.8,2499.8 L1951.8,2496.4 L1953.8,2493.4 L1955.8,2491.0 L1957.8,2489.2 L1959.8,2488.1 L1961.8,2487.5 L1963.8,2487.5 L1965.8,2488.1 L1967.8,2489.4 L1969.8,2491.2 L1971.8,2493.7 L1973.8,2496.7 L1975.8,2500.2 L1977.8,2504.3 L1979.8,2508.8 L1981.7,2513.8 L1983.7,2519.3 L1985.7,2525.1 L1987.7,2531.3 L1989.7,2537.7 L1991.7,2544.5 L1993.7,2551.5 L1995.7,2558.7 L1997.7,2566.1 L1999.7,2573.6 L2001.7,2581.3 L2003.7,2589.0 L2005.7,2596.7 L2007.7,2604.5 L2009.7,2612.3 L2011.7,2620.0 L2013.7,2627.6 L2015.6,2635.2 L2017.6,2642.6 L2019.6,2650.0 L2021.6,2657.2 L2023.6,2664.2 L2025.6,2671.0 L2027.6,2677.7 L2029.6,2684.2 L2031.6,2690.4 L2033.6,2696.5 L2035.6,2702.3 L2037.6,2707.9 L2039.6,2713.3 L2041.6,2718.4 L2043.6,2723.3 L2045.6,2728.0 L2047.6,2732.5 L2049.6,2736.7 L2051.5,2740.7 L2053.5,2744.5 L2055.5,2748.1 L2057.5,2751.4 L2059.5,2754.6 L2061.5,2757.6 L2063.5,2760.4 L2065.5,2763.0 L2067.5,2765.4 L2069.5,2767.7 L2071.5,2769.8 L2073.5,2771.8 L2075.5,2773.6 L2077.5,2775.3 L2079.5,2776.9 L2081.5,2778.4 L2083.5,2779.7 L2085.5,2780.9 L2087.4,2782.1 L2089.4,2783.2 L2091.4,2784.1 L2093.4,2785.0 L2095.4,2785.9 L2097.4,2786.6 L2099.4,2787.3 L2101.4,2788.0 L2103.4,2788.6 L2105.4,2789.1 L2107.4,2789.6 L2109.4,2790.1 L2111.4,2790.6 L2113.4,2791.0 L2115.4,2791.3 L2117.4,2791.7 L2119.4,2792.0 L2121.3,2792.3 L2123.3,2792.6 L2125.3,2792.9 L2127.3,2793.1 L2129.3,2793.3 L2131.3,2793.6 L2133.3,2793.8 L2135.3,2794.0 L2137.3,2794.2 L2139.3,2794.3 L2141.3,2794.5 L2143.3,2794.7 L2145.3,2794.8 L2147.3,2795.0 L2149.3,2795.1 L2151.3,2795.3 L2153.3,2795.4 L2155.3,2795.5 L2157.2,2795.6 L2159.2,2795.8 L2161.2,2795.9 L2163.2,2796.0 L2165.2,2796.1 L2167.2,2796.2 L2169.2,2796.3 L2171.2,2796.4 L2173.2,2796.5 L2175.2,2796.6 L2177.2,2796.7 L2179.2,2796.8 L2181.2,2796.9 L2183.2,2797.0 L2185.2,2797.1 L2187.2,2797.2 L2189.2,2797.3 L2191.2,2797.4 L2193.1,2797.5 L2195.1,2797.6 L2197.1,2797.6 L2199.1,2797.7 L2201.1,2797.8 L2203.1,2797.9 L2205.1,2798.0 L2207.1,2798.0 L2209.1,2798.1 L2211.1,2798.2 L2213.1,2798.3 L2215.1,2798.3 L2217.1,2798.4 L2219.1,2798.5 L2221.1,2798.5 L2223.1,2798.6 L2225.1,2798.7 L2227.0,2798.7 L2229.0,2798.8 L2231.0,2798.9 L2233.0,2798.9 L2235.0,2799.0 L2237.0,2799.1 L2239.0,2799.1 L2241.0,2799.2 L2243.0,2799.2 L2245.0,2799.3 L2247.0,2799.4 L2249.0,2799.4 L2251.0,2799.5 L2253.0,2799.5 L2255.0,2799.6 L2257.0,2799.7 L2259.0,2799.7 L2261.0,2799.8 L2262.9,2799.8 L2264.9,2799.9 L2266.9,2799.9 L2268.9,2800.0 L2270.9,2800.0 L2272.9,2800.1 L2274.9,2800.2 L2276.9,2800.2 L2278.9,2800.3 L2280.9,2800.3 L2282.9,2800.4 L2284.9,2800.4 L2286.9,2800.5 L2288.9,2800.5 L2290.9,2800.6 L2292.9,2800.6 L2294.9,2800.7 L2296.9,2800.7 L2298.8,2800.8 L2300.8,2800.8 L2302.8,2800.9 L2304.8,2800.9 L2306.8,2800.9 L2308.8,2801.0 L2310.8,2801.0 L2312.8,2801.1 L2314.8,2801.1 L2314.8,2802.6Z" fill="url(#g20)" fill-opacity="0.95"/>
<path d="M1420.3,2789.4 L1420.3,2789.0 L1422.3,2789.1 L1424.3,2789.1 L1426.3,2789.1 L1428.3,2789.1 L1430.3,2789.2 L1432.3,2789.2 L1434.3,2789.2 L1436.3,2789.2 L1438.3,2789.3 L1440.3,2789.3 L1442.2,2789.3 L1444.2,2789.3 L1446.2,2789.4 L1448.2,2789.4 L1450.2,2789.4 L1452.2,2789.4 L1454.2,2789.5 L1456.2,2789.5 L1458.2,2789.5 L1460.2,2789.5 L1462.2,2789.6 L1464.2,2789.6 L1466.2,2789.6 L1468.2,2789.6 L1470.2,2789.7 L1472.2,2789.7 L1474.2,2789.7 L1476.2,2789.7 L1478.2,2789.8 L1480.2,2789.8 L1482.2,2789.8 L1484.2,2789.8 L1486.1,2789.9 L1488.1,2789.9 L1490.1,2789.9 L1492.1,2789.9 L1494.1,2790.0 L1496.1,2790.0 L1498.1,2790.0 L1500.1,2790.0 L1502.1,2790.1 L1504.1,2790.1 L1506.1,2790.1 L1508.1,2790.1 L1510.1,2790.2 L1512.1,2790.2 L1514.1,2790.2 L1516.1,2790.2 L1518.1,2790.3 L1520.1,2790.3 L1522.1,2790.3 L1524.1,2790.3 L1526.1,2790.3 L1528.1,2790.4 L1530.0,2790.4 L1532.0,2790.4 L1534.0,2790.4 L1536.0,2790.5 L1538.0,2790.5 L1540.0,2790.5 L1542.0,2790.5 L1544.0,2790.5 L1546.0,2790.6 L1548.0,2790.6 L1550.0,2790.6 L1552.0,2790.6 L1554.0,2790.6 L1556.0,2790.7 L1558.0,2790.7 L1560.0,2790.7 L1562.0,2790.7 L1564.0,2790.7 L1566.0,2790.8 L1568.0,2790.8 L1570.0,2790.8 L1571.9,2790.8 L1573.9,2790.8 L1575.9,2790.9 L1577.9,2790.9 L1579.9,2790.9 L1581.9,2790.9 L1583.9,2790.9 L1585.9,2790.9 L1587.9,2791.0 L1589.9,2791.0 L1591.9,2791.0 L1593.9,2791.0 L1595.9,2791.0 L1597.9,2791.0 L1599.9,2791.1 L1601.9,2791.1 L1603.9,2791.1 L1605.9,2791.1 L1607.9,2791.1 L1609.9,2791.1 L1611.9,2791.1 L1613.9,2791.1 L1615.8,2791.2 L1617.8,2791.2 L1619.8,2791.2 L1621.8,2791.2 L1623.8,2791.2 L1625.8,2791.2 L1627.8,2791.2 L1629.8,2791.2 L1631.8,2791.2 L1633.8,2791.2 L1635.8,2791.2 L1637.8,2791.2 L1639.8,2791.2 L1641.8,2791.2 L1643.8,2791.2 L1645.8,2791.2 L1647.8,2791.2 L1649.8,2791.2 L1651.8,2791.2 L1653.8,2791.2 L1655.8,2791.2 L1657.8,2791.1 L1659.7,2791.1 L1661.7,2791.1 L1663.7,2791.1 L1665.7,2791.0 L1667.7,2791.0 L1669.7,2790.9 L1671.7,2790.9 L1673.7,2790.8 L1675.7,2790.8 L1677.7,2790.7 L1679.7,2790.6 L1681.7,2790.6 L1683.7,2790.5 L1685.7,2790.4 L1687.7,2790.3 L1689.7,2790.2 L1691.7,2790.0 L1693.7,2789.9 L1695.7,2789.8 L1697.7,2789.6 L1699.7,2789.4 L1701.6,2789.2 L1703.6,2789.0 L1705.6,2788.8 L1707.6,2788.6 L1709.6,2788.3 L1711.6,2788.1 L1713.6,2787.8 L1715.6,2787.5 L1717.6,2787.1 L1719.6,2786.8 L1721.6,2786.4 L1723.6,2786.0 L1725.6,2785.6 L1727.6,2785.1 L1729.6,2784.7 L1731.6,2784.1 L1733.6,2783.6 L1735.6,2783.0 L1737.6,2782.4 L1739.6,2781.8 L1741.6,2781.1 L1743.6,2780.4 L1745.5,2779.7 L1747.5,2778.9 L1749.5,2778.1 L1751.5,2777.3 L1753.5,2776.4 L1755.5,2775.5 L1757.5,2774.6 L1759.5,2773.6 L1761.5,2772.6 L1763.5,2771.5 L1765.5,2770.4 L1767.5,2769.3 L1769.5,2768.1 L1771.5,2766.9 L1773.5,2765.7 L1775.5,2764.5 L1777.5,2763.2 L1779.5,2761.9 L1781.5,2760.6 L1783.5,2759.2 L1785.5,2757.8 L1787.5,2756.4 L1789.4,2755.0 L1791.4,2753.6 L1793.4,2752.1 L1795.4,2750.7 L1797.4,2749.2 L1799.4,2747.8 L1801.4,2746.3 L1803.4,2744.9 L1805.4,2743.4 L1807.4,2742.0 L1809.4,2740.6 L1811.4,2739.2 L1813.4,2737.8 L1815.4,2736.5 L1817.4,2735.2 L1819.4,2734.0 L1821.4,2732.8 L1823.4,2731.6 L1825.4,2730.5 L1827.4,2729.4 L1829.4,2728.4 L1831.3,2727.5 L1833.3,2726.7 L1835.3,2725.9 L1837.3,2725.2 L1839.3,2724.6 L1841.3,2724.0 L1843.3,2723.6 L1845.3,2723.3 L1847.3,2723.0 L1849.3,2722.8 L1851.3,2722.8 L1853.3,2722.8 L1855.3,2722.9 L1857.3,2723.1 L1859.3,2723.5 L1861.3,2723.9 L1863.3,2724.4 L1865.3,2725.0 L1867.3,2725.6 L1869.3,2726.4 L1871.3,2727.2 L1873.3,2728.1 L1875.2,2729.1 L1877.2,2730.2 L1879.2,2731.3 L1881.2,2732.4 L1883.2,2733.7 L1885.2,2734.9 L1887.2,2736.3 L1889.2,2737.6 L1891.2,2739.0 L1893.2,2740.4 L1895.2,2741.9 L1897.2,2743.3 L1899.2,2744.8 L1901.2,2746.3 L1903.2,2747.8 L1905.2,2749.3 L1907.2,2750.9 L1909.2,2752.4 L1911.2,2753.9 L1913.2,2755.4 L1915.2,2756.9 L1917.1,2758.3 L1919.1,2759.8 L1921.1,2761.2 L1923.1,2762.6 L1925.1,2764.0 L1927.1,2765.4 L1929.1,2766.7 L1931.1,2768.1 L1933.1,2769.3 L1935.1,2770.6 L1937.1,2771.8 L1939.1,2773.0 L1941.1,2774.1 L1943.1,2775.2 L1945.1,2776.3 L1947.1,2777.4 L1949.1,2778.4 L1951.1,2779.3 L1953.1,2780.3 L1955.1,2781.2 L1957.1,2782.0 L1959.1,2782.9 L1961.0,2783.7 L1963.0,2784.4 L1965.0,2785.1 L1967.0,2785.8 L1969.0,2786.5 L1971.0,2787.1 L1973.0,2787.7 L1975.0,2788.3 L1977.0,2788.8 L1979.0,2789.3 L1981.0,2789.8 L1983.0,2790.3 L1985.0,2790.7 L1987.0,2791.1 L1989.0,2791.5 L1991.0,2791.9 L1993.0,2792.2 L1995.0,2792.6 L1997.0,2792.9 L1999.0,2793.2 L2001.0,2793.4 L2003.0,2793.7 L2004.9,2794.0 L2006.9,2794.2 L2008.9,2794.4 L2010.9,2794.6 L2012.9,2794.8 L2014.9,2795.0 L2016.9,2795.2 L2018.9,2795.3 L2020.9,2795.5 L2022.9,2795.6 L2024.9,2795.8 L2026.9,2795.9 L2028.9,2796.0 L2030.9,2796.1 L2032.9,2796.2 L2034.9,2796.3 L2036.9,2796.4 L2038.9,2796.5 L2040.9,2796.6 L2042.9,2796.7 L2044.9,2796.8 L2046.8,2796.9 L2048.8,2797.0 L2050.8,2797.0 L2052.8,2797.1 L2054.8,2797.2 L2056.8,2797.3 L2058.8,2797.3 L2060.8,2797.4 L2062.8,2797.5 L2064.8,2797.5 L2066.8,2797.6 L2068.8,2797.6 L2070.8,2797.7 L2072.8,2797.7 L2074.8,2797.8 L2076.8,2797.9 L2078.8,2797.9 L2080.8,2798.0 L2082.8,2798.0 L2084.8,2798.1 L2086.8,2798.1 L2088.8,2798.2 L2090.7,2798.2 L2092.7,2798.3 L2094.7,2798.3 L2096.7,2798.3 L2098.7,2798.4 L2100.7,2798.4 L2102.7,2798.5 L2104.7,2798.5 L2106.7,2798.6 L2108.7,2798.6 L2110.7,2798.7 L2112.7,2798.7 L2114.7,2798.7 L2116.7,2798.8 L2118.7,2798.8 L2120.7,2798.9 L2122.7,2798.9 L2124.7,2799.0 L2126.7,2799.0 L2128.7,2799.0 L2130.7,2799.1 L2132.7,2799.1 L2134.6,2799.2 L2136.6,2799.2 L2138.6,2799.2 L2140.6,2799.3 L2142.6,2799.3 L2144.6,2799.4 L2146.6,2799.4 L2148.6,2799.4 L2150.6,2799.5 L2152.6,2799.5 L2154.6,2799.5 L2156.6,2799.6 L2158.6,2799.6 L2160.6,2799.7 L2162.6,2799.7 L2164.6,2799.7 L2166.6,2799.8 L2168.6,2799.8 L2170.6,2799.8 L2172.6,2799.9 L2174.6,2799.9 L2176.5,2800.0 L2178.5,2800.0 L2180.5,2800.0 L2182.5,2800.1 L2184.5,2800.1 L2186.5,2800.1 L2188.5,2800.2 L2190.5,2800.2 L2192.5,2800.2 L2194.5,2800.3 L2196.5,2800.3 L2198.5,2800.4 L2200.5,2800.4 L2202.5,2800.4 L2204.5,2800.5 L2206.5,2800.5 L2208.5,2800.5 L2210.5,2800.6 L2212.5,2800.6 L2214.5,2800.6 L2216.5,2800.7 L2218.5,2800.7 L2220.4,2800.7 L2222.4,2800.8 L2224.4,2800.8 L2226.4,2800.8 L2228.4,2800.9 L2230.4,2800.9 L2232.4,2800.9 L2234.4,2801.0 L2236.4,2801.0 L2238.4,2801.0 L2240.4,2801.1 L2242.4,2801.1 L2244.4,2801.2 L2246.4,2801.2 L2248.4,2801.2 L2250.4,2801.3 L2252.4,2801.3 L2254.4,2801.3 L2256.4,2801.4 L2258.4,2801.4 L2260.4,2801.4 L2262.4,2801.5 L2264.3,2801.5 L2266.3,2801.5 L2268.3,2801.6 L2270.3,2801.6 L2272.3,2801.6 L2274.3,2801.6 L2276.3,2801.7 L2278.3,2801.7 L2280.3,2801.7 L2282.3,2801.8 L2284.3,2801.8 L2284.3,2802.2Z" fill="url(#g21)" fill-opacity="0.88"/>
<path d="M1310.0,2787.7 L1310.0,2787.5 L1312.0,2787.5 L1314.0,2787.5 L1316.0,2787.6 L1318.0,2787.6 L1320.0,2787.6 L1322.0,2787.6 L1324.0,2787.7 L1326.0,2787.7 L1328.0,2787.7 L1330.0,2787.8 L1331.9,2787.8 L1333.9,2787.8 L1335.9,2787.8 L1337.9,2787.9 L1339.9,2787.9 L1341.9,2787.9 L1343.9,2787.9 L1345.9,2788.0 L1347.9,2788.0 L1349.9,2788.0 L1351.9,2788.0 L1353.9,2788.1 L1355.9,2788.1 L1357.9,2788.1 L1359.9,2788.1 L1361.9,2788.2 L1363.9,2788.2 L1365.9,2788.2 L1367.9,2788.3 L1369.9,2788.3 L1371.8,2788.3 L1373.8,2788.3 L1375.8,2788.4 L1377.8,2788.4 L1379.8,2788.4 L1381.8,2788.4 L1383.8,2788.5 L1385.8,2788.5 L1387.8,2788.5 L1389.8,2788.5 L1391.8,2788.6 L1393.8,2788.6 L1395.8,2788.6 L1397.8,2788.6 L1399.8,2788.7 L1401.8,2788.7 L1403.8,2788.7 L1405.8,2788.7 L1407.8,2788.7 L1409.8,2788.8 L1411.8,2788.8 L1413.7,2788.8 L1415.7,2788.8 L1417.7,2788.9 L1419.7,2788.9 L1421.7,2788.9 L1423.7,2788.9 L1425.7,2789.0 L1427.7,2789.0 L1429.7,2789.0 L1431.7,2789.0 L1433.7,2789.1 L1435.7,2789.1 L1437.7,2789.1 L1439.7,2789.1 L1441.7,2789.1 L1443.7,2789.2 L1445.7,2789.2 L1447.7,2789.2 L1449.7,2789.2 L1451.7,2789.2 L1453.6,2789.3 L1455.6,2789.3 L1457.6,2789.3 L1459.6,2789.3 L1461.6,2789.3 L1463.6,2789.4 L1465.6,2789.4 L1467.6,2789.4 L1469.6,2789.4 L1471.6,2789.4 L1473.6,2789.5 L1475.6,2789.5 L1477.6,2789.5 L1479.6,2789.5 L1481.6,2789.5 L1483.6,2789.5 L1485.6,2789.6 L1487.6,2789.6 L1489.6,2789.6 L1491.6,2789.6 L1493.5,2789.6 L1495.5,2789.6 L1497.5,2789.6 L1499.5,2789.7 L1501.5,2789.7 L1503.5,2789.7 L1505.5,2789.7 L1507.5,2789.7 L1509.5,2789.7 L1511.5,2789.7 L1513.5,2789.7 L1515.5,2789.7 L1517.5,2789.7 L1519.5,2789.7 L1521.5,2789.7 L1523.5,2789.7 L1525.5,2789.7 L1527.5,2789.7 L1529.5,2789.7 L1531.5,2789.7 L1533.5,2789.7 L1535.4,2789.6 L1537.4,2789.6 L1539.4,2789.6 L1541.4,2789.5 L1543.4,2789.5 L1545.4,2789.5 L1547.4,2789.4 L1549.4,2789.4 L1551.4,2789.3 L1553.4,2789.2 L1555.4,2789.2 L1557.4,2789.1 L1559.4,2789.0 L1561.4,2788.9 L1563.4,2788.8 L1565.4,2788.7 L1567.4,2788.5 L1569.4,2788.4 L1571.4,2788.3 L1573.4,2788.1 L1575.3,2787.9 L1577.3,2787.7 L1579.3,2787.5 L1581.3,2787.3 L1583.3,2787.0 L1585.3,2786.8 L1587.3,2786.5 L1589.3,2786.2 L1591.3,2785.9 L1593.3,2785.6 L1595.3,2785.2 L1597.3,2784.8 L1599.3,2784.4 L1601.3,2784.0 L1603.3,2783.5 L1605.3,2783.1 L1607.3,2782.6 L1609.3,2782.0 L1611.3,2781.5 L1613.3,2780.9 L1615.2,2780.3 L1617.2,2779.6 L1619.2,2779.0 L1621.2,2778.3 L1623.2,2777.6 L1625.2,2776.8 L1627.2,2776.1 L1629.2,2775.3 L1631.2,2774.4 L1633.2,2773.6 L1635.2,2772.7 L1637.2,2771.8 L1639.2,2770.9 L1641.2,2769.9 L1643.2,2769.0 L1645.2,2768.0 L1647.2,2767.0 L1649.2,2766.0 L1651.2,2764.9 L1653.2,2763.9 L1655.2,2762.9 L1657.1,2761.8 L1659.1,2760.8 L1661.1,2759.7 L1663.1,2758.6 L1665.1,2757.6 L1667.1,2756.6 L1669.1,2755.5 L1671.1,2754.5 L1673.1,2753.5 L1675.1,2752.5 L1677.1,2751.6 L1679.1,2750.7 L1681.1,2749.8 L1683.1,2748.9 L1685.1,2748.1 L1687.1,2747.3 L1689.1,2746.6 L1691.1,2746.0 L1693.1,2745.3 L1695.1,2744.8 L1697.0,2744.3 L1699.0,2743.8 L1701.0,2743.5 L1703.0,2743.2 L1705.0,2742.9 L1707.0,2742.8 L1709.0,2742.7 L1711.0,2742.7 L1713.0,2742.7 L1715.0,2742.9 L1717.0,2743.1 L1719.0,2743.4 L1721.0,2743.7 L1723.0,2744.1 L1725.0,2744.6 L1727.0,2745.1 L1729.0,2745.8 L1731.0,2746.4 L1733.0,2747.1 L1735.0,2747.9 L1737.0,2748.7 L1738.9,2749.6 L1740.9,2750.5 L1742.9,2751.4 L1744.9,2752.4 L1746.9,2753.4 L1748.9,2754.5 L1750.9,2755.5 L1752.9,2756.6 L1754.9,2757.7 L1756.9,2758.8 L1758.9,2759.9 L1760.9,2761.0 L1762.9,2762.1 L1764.9,2763.2 L1766.9,2764.3 L1768.9,2765.4 L1770.9,2766.5 L1772.9,2767.6 L1774.9,2768.7 L1776.9,2769.7 L1778.8,2770.8 L1780.8,2771.8 L1782.8,2772.8 L1784.8,2773.8 L1786.8,2774.8 L1788.8,2775.7 L1790.8,2776.6 L1792.8,2777.5 L1794.8,2778.4 L1796.8,2779.2 L1798.8,2780.0 L1800.8,2780.8 L1802.8,2781.6 L1804.8,2782.3 L1806.8,2783.0 L1808.8,2783.7 L1810.8,2784.3 L1812.8,2784.9 L1814.8,2785.5 L1816.8,2786.1 L1818.8,2786.6 L1820.7,2787.2 L1822.7,2787.6 L1824.7,2788.1 L1826.7,2788.6 L1828.7,2789.0 L1830.7,2789.4 L1832.7,2789.8 L1834.7,2790.1 L1836.7,2790.4 L1838.7,2790.8 L1840.7,2791.1 L1842.7,2791.4 L1844.7,2791.6 L1846.7,2791.9 L1848.7,2792.1 L1850.7,2792.4 L1852.7,2792.6 L1854.7,2792.8 L1856.7,2793.0 L1858.7,2793.1 L1860.6,2793.3 L1862.6,2793.5 L1864.6,2793.6 L1866.6,2793.8 L1868.6,2793.9 L1870.6,2794.0 L1872.6,2794.1 L1874.6,2794.2 L1876.6,2794.4 L1878.6,2794.5 L1880.6,2794.6 L1882.6,2794.6 L1884.6,2794.7 L1886.6,2794.8 L1888.6,2794.9 L1890.6,2795.0 L1892.6,2795.0 L1894.6,2795.1 L1896.6,2795.2 L1898.6,2795.3 L1900.5,2795.3 L1902.5,2795.4 L1904.5,2795.4 L1906.5,2795.5 L1908.5,2795.6 L1910.5,2795.6 L1912.5,2795.7 L1914.5,2795.7 L1916.5,2795.8 L1918.5,2795.8 L1920.5,2795.9 L1922.5,2795.9 L1924.5,2796.0 L1926.5,2796.0 L1928.5,2796.1 L1930.5,2796.1 L1932.5,2796.1 L1934.5,2796.2 L1936.5,2796.2 L1938.5,2796.3 L1940.5,2796.3 L1942.4,2796.4 L1944.4,2796.4 L1946.4,2796.4 L1948.4,2796.5 L1950.4,2796.5 L1952.4,2796.6 L1954.4,2796.6 L1956.4,2796.6 L1958.4,2796.7 L1960.4,2796.7 L1962.4,2796.8 L1964.4,2796.8 L1966.4,2796.8 L1968.4,2796.9 L1970.4,2796.9 L1972.4,2797.0 L1974.4,2797.0 L1976.4,2797.0 L1978.4,2797.1 L1980.4,2797.1 L1982.3,2797.1 L1984.3,2797.2 L1986.3,2797.2 L1988.3,2797.3 L1990.3,2797.3 L1992.3,2797.3 L1994.3,2797.4 L1996.3,2797.4 L1998.3,2797.4 L2000.3,2797.5 L2002.3,2797.5 L2004.3,2797.5 L2006.3,2797.6 L2008.3,2797.6 L2010.3,2797.7 L2012.3,2797.7 L2014.3,2797.7 L2016.3,2797.8 L2018.3,2797.8 L2020.3,2797.8 L2022.2,2797.9 L2024.2,2797.9 L2026.2,2797.9 L2028.2,2798.0 L2030.2,2798.0 L2032.2,2798.0 L2034.2,2798.1 L2036.2,2798.1 L2038.2,2798.1 L2040.2,2798.2 L2042.2,2798.2 L2044.2,2798.2 L2046.2,2798.3 L2048.2,2798.3 L2050.2,2798.3 L2052.2,2798.4 L2054.2,2798.4 L2056.2,2798.4 L2058.2,2798.5 L2060.2,2798.5 L2062.2,2798.5 L2064.1,2798.6 L2066.1,2798.6 L2068.1,2798.6 L2070.1,2798.7 L2072.1,2798.7 L2074.1,2798.7 L2076.1,2798.8 L2078.1,2798.8 L2080.1,2798.8 L2082.1,2798.9 L2084.1,2798.9 L2086.1,2798.9 L2088.1,2799.0 L2090.1,2799.0 L2092.1,2799.0 L2094.1,2799.1 L2096.1,2799.1 L2098.1,2799.1 L2100.1,2799.2 L2102.1,2799.2 L2104.0,2799.2 L2106.0,2799.3 L2108.0,2799.3 L2110.0,2799.3 L2112.0,2799.4 L2114.0,2799.4 L2116.0,2799.4 L2118.0,2799.5 L2120.0,2799.5 L2122.0,2799.5 L2124.0,2799.5 L2124.0,2799.8Z" fill="url(#g22)" fill-opacity="0.90"/>
<path d="M1310.0,2788.7 L2338.3,2804.0" stroke="#3ea6f2" stroke-width="2.5"/>
<path d="M1310.0,2783.7 L1312.0,2783.7 L1314.0,2783.7 L1316.0,2783.8 L1318.0,2783.8 L1320.0,2783.8 L1322.0,2783.8 L1324.0,2783.8 L1326.0,2783.9 L1328.0,2783.9 L1330.0,2783.9 L1332.0,2783.9 L1334.0,2783.9 L1336.0,2784.0 L1338.0,2784.0 L1340.0,2784.0 L1342.0,2784.0 L1344.0,2784.0 L1346.0,2784.1 L1348.0,2784.1 L1350.0,2784.1 L1352.0,2784.1 L1354.0,2784.1 L1356.0,2784.2 L1358.0,2784.2 L1360.0,2784.2 L1362.0,2784.2 L1364.0,2784.2 L1366.0,2784.3 L1368.0,2784.3 L1370.0,2784.3 L1372.0,2784.3 L1374.0,2784.3 L1376.0,2784.4 L1378.0,2784.4 L1380.0,2784.4 L1382.0,2784.4 L1384.0,2784.4 L1386.0,2784.4 L1388.0,2784.5 L1390.0,2784.5 L1392.0,2784.5 L1394.0,2784.5 L1396.0,2784.5 L1398.0,2784.5 L1400.0,2784.6 L1402.0,2784.6 L1404.0,2784.6 L1406.0,2784.6 L1408.0,2784.6 L1410.0,2784.6 L1412.0,2784.6 L1414.0,2784.7 L1416.0,2784.7 L1418.0,2784.7 L1420.0,2784.7 L1422.0,2784.7 L1424.0,2784.7 L1426.0,2784.7 L1428.0,2784.8 L1430.0,2784.8 L1432.0,2784.8 L1434.0,2784.8 L1436.0,2784.8 L1438.0,2784.8 L1440.0,2784.8 L1442.0,2784.8 L1444.0,2784.8 L1446.0,2784.9 L1448.0,2784.9 L1450.0,2784.9 L1452.0,2784.9 L1454.0,2784.9 L1456.0,2784.9 L1458.0,2784.9 L1460.0,2784.9 L1462.0,2784.9 L1464.0,2784.9 L1466.0,2784.9 L1468.0,2784.9 L1470.0,2785.0 L1472.0,2785.0 L1474.0,2785.0 L1476.0,2785.0 L1478.0,2785.0 L1480.0,2785.0 L1482.1,2785.0 L1484.1,2785.0 L1486.1,2785.0 L1488.1,2785.0 L1490.1,2785.0 L1492.1,2785.0 L1494.1,2785.0 L1496.1,2785.0 L1498.1,2785.0 L1500.1,2785.0 L1502.1,2785.0 L1504.1,2784.9 L1506.1,2784.9 L1508.1,2784.9 L1510.1,2784.9 L1512.1,2784.9 L1514.1,2784.9 L1516.1,2784.9 L1518.1,2784.9 L1520.1,2784.8 L1522.1,2784.8 L1524.1,2784.8 L1526.1,2784.8 L1528.1,2784.7 L1530.1,2784.7 L1532.1,2784.7 L1534.1,2784.6 L1536.1,2784.6 L1538.1,2784.5 L1540.1,2784.5 L1542.1,2784.4 L1544.1,2784.4 L1546.1,2784.3 L1548.1,2784.2 L1550.1,2784.1 L1552.1,2784.1 L1554.1,2784.0 L1556.1,2783.9 L1558.1,2783.7 L1560.1,2783.6 L1562.1,2783.5 L1564.1,2783.4 L1566.1,2783.2 L1568.1,2783.0 L1570.1,2782.9 L1572.1,2782.7 L1574.1,2782.5 L1576.1,2782.3 L1578.1,2782.0 L1580.1,2781.8 L1582.1,2781.5 L1584.1,2781.2 L1586.1,2780.9 L1588.1,2780.6 L1590.1,2780.3 L1592.1,2779.9 L1594.1,2779.5 L1596.1,2779.1 L1598.1,2778.7 L1600.1,2778.2 L1602.1,2777.8 L1604.1,2777.3 L1606.1,2776.7 L1608.1,2776.2 L1610.1,2775.6 L1612.1,2775.0 L1614.1,2774.3 L1616.1,2773.7 L1618.1,2773.0 L1620.1,2772.2 L1622.1,2771.5 L1624.1,2770.7 L1626.1,2769.9 L1628.1,2769.0 L1630.1,2768.1 L1632.1,2767.2 L1634.1,2766.3 L1636.1,2765.3 L1638.1,2764.3 L1640.1,2763.3 L1642.1,2762.3 L1644.1,2761.2 L1646.1,2760.2 L1648.1,2759.1 L1650.1,2757.9 L1652.1,2756.8 L1654.1,2755.6 L1656.1,2754.5 L1658.1,2753.3 L1660.1,2752.1 L1662.1,2750.9 L1664.1,2749.7 L1666.1,2748.5 L1668.1,2747.3 L1670.1,2746.1 L1672.1,2744.9 L1674.1,2743.8 L1676.1,2742.6 L1678.1,2741.4 L1680.1,2740.3 L1682.1,2739.2 L1684.1,2738.1 L1686.1,2737.0 L1688.1,2736.0 L1690.1,2735.0 L1692.1,2734.0 L1694.1,2733.1 L1696.1,2732.2 L1698.1,2731.4 L1700.1,2730.5 L1702.1,2729.8 L1704.1,2729.1 L1706.1,2728.4 L1708.1,2727.7 L1710.1,2727.2 L1712.1,2726.6 L1714.1,2726.1 L1716.1,2725.6 L1718.1,2725.2 L1720.1,2724.8 L1722.1,2724.5 L1724.1,2724.2 L1726.1,2723.9 L1728.1,2723.6 L1730.1,2723.4 L1732.1,2723.2 L1734.1,2723.0 L1736.1,2722.8 L1738.1,2722.6 L1740.1,2722.4 L1742.1,2722.2 L1744.1,2722.0 L1746.1,2721.8 L1748.1,2721.6 L1750.1,2721.3 L1752.1,2721.1 L1754.1,2720.8 L1756.1,2720.5 L1758.1,2720.1 L1760.1,2719.7 L1762.1,2719.3 L1764.1,2718.9 L1766.1,2718.4 L1768.1,2717.9 L1770.1,2717.4 L1772.1,2716.8 L1774.1,2716.2 L1776.1,2715.5 L1778.1,2714.8 L1780.1,2714.1 L1782.1,2713.3 L1784.1,2712.6 L1786.1,2711.7 L1788.1,2710.9 L1790.1,2710.0 L1792.1,2709.1 L1794.1,2708.1 L1796.1,2707.2 L1798.1,2706.2 L1800.1,2705.2 L1802.1,2704.2 L1804.1,2703.1 L1806.1,2702.1 L1808.1,2701.0 L1810.1,2699.9 L1812.1,2698.8 L1814.1,2697.7 L1816.1,2696.5 L1818.1,2695.4 L1820.1,2694.2 L1822.1,2693.1 L1824.2,2691.9 L1826.2,2690.7 L1828.2,2689.4 L1830.2,2688.2 L1832.2,2686.9 L1834.2,2685.6 L1836.2,2684.3 L1838.2,2683.0 L1840.2,2681.6 L1842.2,2680.1 L1844.2,2678.7 L1846.2,2677.1 L1848.2,2675.5 L1850.2,2673.9 L1852.2,2672.2 L1854.2,2670.4 L1856.2,2668.5 L1858.2,2666.5 L1860.2,2664.4 L1862.2,2662.2 L1864.2,2659.8 L1866.2,2657.4 L1868.2,2654.8 L1870.2,2652.0 L1872.2,2649.1 L1874.2,2646.0 L1876.2,2642.7 L1878.2,2639.2 L1880.2,2635.6 L1882.2,2631.7 L1884.2,2627.7 L1886.2,2623.4 L1888.2,2619.0 L1890.2,2614.3 L1892.2,2609.4 L1894.2,2604.4 L1896.2,2599.1 L1898.2,2593.7 L1900.2,2588.1 L1902.2,2582.3 L1904.2,2576.3 L1906.2,2570.2 L1908.2,2564.0 L1910.2,2557.7 L1912.2,2551.3 L1914.2,2544.9 L1916.2,2538.4 L1918.2,2531.9 L1920.2,2525.4 L1922.2,2518.9 L1924.2,2512.5 L1926.2,2506.3 L1928.2,2500.1 L1930.2,2494.1 L1932.2,2488.4 L1934.2,2482.8 L1936.2,2477.6 L1938.2,2472.6 L1940.2,2468.0 L1942.2,2463.8 L1944.2,2459.9 L1946.2,2456.5 L1948.2,2453.6 L1950.2,2451.1 L1952.2,2449.2 L1954.2,2447.8 L1956.2,2447.0 L1958.2,2446.8 L1960.2,2447.2 L1962.2,2448.1 L1964.2,2449.7 L1966.2,2451.8 L1968.2,2454.6 L1970.2,2457.9 L1972.2,2461.7 L1974.2,2466.1 L1976.2,2471.0 L1978.2,2476.4 L1980.2,2482.2 L1982.2,2488.5 L1984.2,2495.1 L1986.2,2502.1 L1988.2,2509.4 L1990.2,2516.9 L1992.2,2524.7 L1994.2,2532.7 L1996.2,2540.9 L1998.2,2549.2 L2000.2,2557.5 L2002.2,2566.0 L2004.2,2574.5 L2006.2,2582.9 L2008.2,2591.4 L2010.2,2599.8 L2012.2,2608.1 L2014.2,2616.3 L2016.2,2624.4 L2018.2,2632.3 L2020.2,2640.1 L2022.2,2647.7 L2024.2,2655.2 L2026.2,2662.4 L2028.2,2669.4 L2030.2,2676.2 L2032.2,2682.7 L2034.2,2689.0 L2036.2,2695.1 L2038.2,2700.9 L2040.2,2706.4 L2042.2,2711.8 L2044.2,2716.8 L2046.2,2721.7 L2048.2,2726.3 L2050.2,2730.6 L2052.2,2734.7 L2054.2,2738.6 L2056.2,2742.3 L2058.2,2745.7 L2060.2,2748.9 L2062.2,2752.0 L2064.2,2754.8 L2066.2,2757.5 L2068.2,2760.0 L2070.2,2762.3 L2072.2,2764.4 L2074.2,2766.5 L2076.2,2768.3 L2078.2,2770.0 L2080.2,2771.6 L2082.2,2773.1 L2084.2,2774.5 L2086.2,2775.8 L2088.2,2776.9 L2090.2,2778.0 L2092.2,2779.0 L2094.2,2779.9 L2096.2,2780.8 L2098.2,2781.6 L2100.2,2782.3 L2102.2,2783.0 L2104.2,2783.6 L2106.2,2784.2 L2108.2,2784.7 L2110.2,2785.2 L2112.2,2785.7 L2114.2,2786.1 L2116.2,2786.5 L2118.2,2786.9 L2120.2,2787.2 L2122.2,2787.5 L2124.2,2787.8 L2126.2,2788.1 L2128.2,2788.4 L2130.2,2788.6 L2132.2,2788.9 L2134.2,2789.1 L2136.2,2789.3 L2138.2,2789.5 L2140.2,2789.7 L2142.2,2789.9 L2144.2,2790.1 L2146.2,2790.3 L2148.2,2790.5 L2150.2,2790.6 L2152.2,2790.8 L2154.2,2790.9 L2156.2,2791.1 L2158.2,2791.2 L2160.2,2791.4 L2162.2,2791.5 L2164.2,2791.6 L2166.2,2791.8 L2168.3,2791.9 L2170.3,2792.0 L2172.3,2792.1 L2174.3,2792.3 L2176.3,2792.4 L2178.3,2792.5 L2180.3,2792.6 L2182.3,2792.7 L2184.3,2792.8 L2186.3,2792.9 L2188.3,2793.0 L2190.3,2793.1 L2192.3,2793.2 L2194.3,2793.3 L2196.3,2793.4 L2198.3,2793.5 L2200.3,2793.6 L2202.3,2793.7 L2204.3,2793.8 L2206.3,2793.9 L2208.3,2794.0 L2210.3,2794.1 L2212.3,2794.2 L2214.3,2794.2 L2216.3,2794.3 L2218.3,2794.4 L2220.3,2794.5 L2222.3,2794.6 L2224.3,2794.6 L2226.3,2794.7 L2228.3,2794.8 L2230.3,2794.9 L2232.3,2795.0 L2234.3,2795.0 L2236.3,2795.1 L2238.3,2795.2 L2240.3,2795.2 L2242.3,2795.3 L2244.3,2795.4 L2246.3,2795.5 L2248.3,2795.5 L2250.3,2795.6 L2252.3,2795.7 L2254.3,2795.7 L2256.3,2795.8 L2258.3,2795.9 L2260.3,2795.9 L2262.3,2796.0 L2264.3,2796.0 L2266.3,2796.1 L2268.3,2796.2 L2270.3,2796.2 L2272.3,2796.3 L2274.3,2796.4 L2276.3,2796.4 L2278.3,2796.5 L2280.3,2796.5 L2282.3,2796.6 L2284.3,2796.7 L2286.3,2796.7 L2288.3,2796.8 L2290.3,2796.8 L2292.3,2796.9 L2294.3,2796.9 L2296.3,2797.0 L2298.3,2797.0 L2300.3,2797.1 L2302.3,2797.2 L2304.3,2797.2 L2306.3,2797.3 L2308.3,2797.3 L2310.3,2797.4 L2312.3,2797.4 L2314.3,2797.5 L2316.3,2797.5 L2318.3,2797.6 L2320.3,2797.6 L2322.3,2797.7 L2324.3,2797.7 L2326.3,2797.8 L2328.3,2797.8 L2330.3,2797.9 L2332.3,2797.9 L2334.3,2798.0 L2336.3,2798.0 L2338.3,2798.1" fill="none" stroke="#4aaef5" stroke-width="2.2" stroke-linejoin="round"/>
<path d="M1309.5,2782.6a2.9,2.9 0 1,0 5.8,0a2.9,2.9 0 1,0 -5.8,0M1314.1,2783.1a2.9,2.9 0 1,0 5.8,0a2.9,2.9 0 1,0 -5.8,0M1318.0,2784.1a2.9,2.9 0 1,0 5.8,0a2.9,2.9 0 1,0 -5.8,0M1323.2,2784.1a2.9,2.9 0 1,0 5.8,0a2.9,2.9 0 1,0 -5.8,0M1328.1,2783.2a2.9,2.9 0 1,0 5.8,0a2.9,2.9 0 1,0 -5.8,0M1331.8,2784.3a2.9,2.9 0 1,0 5.8,0a2.9,2.9 0 1,0 -5.8,0M1336.3,2783.2a2.9,2.9 0 1,0 5.8,0a2.9,2.9 0 1,0 -5.8,0M1340.8,2784.7a2.9,2.9 0 1,0 5.8,0a2.9,2.9 0 1,0 -5.8,0M1346.4,2784.6a2.9,2.9 0 1,0 5.8,0a2.9,2.9 0 1,0 -5.8,0M1351.2,2784.9a2.9,2.9 0 1,0 5.8,0a2.9,2.9 0 1,0 -5.8,0M1354.7,2783.7a2.9,2.9 0 1,0 5.8,0a2.9,2.9 0 1,0 -5.8,0M1360.0,2783.2a2.9,2.9 0 1,0 5.8,0a2.9,2.9 0 1,0 -5.8,0M1364.4,2783.3a2.9,2.9 0 1,0 5.8,0a2.9,2.9 0 1,0 -5.8,0M1368.1,2784.3a2.9,2.9 0 1,0 5.8,0a2.9,2.9 0 1,0 -5.8,0M1372.8,2785.4a2.9,2.9 0 1,0 5.8,0a2.9,2.9 0 1,0 -5.8,0M1378.6,2784.3a2.9,2.9 0 1,0 5.8,0a2.9,2.9 0 1,0 -5.8,0M1382.1,2783.5a2.9,2.9 0 1,0 5.8,0a2.9,2.9 0 1,0 -5.8,0M1387.2,2784.5a2.9,2.9 0 1,0 5.8,0a2.9,2.9 0 1,0 -5.8,0M1391.6,2785.0a2.9,2.9 0 1,0 5.8,0a2.9,2.9 0 1,0 -5.8,0M1396.4,2785.2a2.9,2.9 0 1,0 5.8,0a2.9,2.9 0 1,0 -5.8,0M1400.3,2783.5a2.9,2.9 0 1,0 5.8,0a2.9,2.9 0 1,0 -5.8,0M1405.4,2784.6a2.9,2.9 0 1,0 5.8,0a2.9,2.9 0 1,0 -5.8,0M1409.8,2785.1a2.9,2.9 0 1,0 5.8,0a2.9,2.9 0 1,0 -5.8,0M1414.3,2784.2a2.9,2.9 0 1,0 5.8,0a2.9,2.9 0 1,0 -5.8,0M1419.3,2785.2a2.9,2.9 0 1,0 5.8,0a2.9,2.9 0 1,0 -5.8,0M1424.4,2784.4a2.9,2.9 0 1,0 5.8,0a2.9,2.9 0 1,0 -5.8,0M1428.4,2785.8a2.9,2.9 0 1,0 5.8,0a2.9,2.9 0 1,0 -5.8,0M1433.8,2785.1a2.9,2.9 0 1,0 5.8,0a2.9,2.9 0 1,0 -5.8,0M1437.1,2784.7a2.9,2.9 0 1,0 5.8,0a2.9,2.9 0 1,0 -5.8,0M1442.5,2784.3a2.9,2.9 0 1,0 5.8,0a2.9,2.9 0 1,0 -5.8,0M1446.2,2786.0a2.9,2.9 0 1,0 5.8,0a2.9,2.9 0 1,0 -5.8,0M1452.1,2784.0a2.9,2.9 0 1,0 5.8,0a2.9,2.9 0 1,0 -5.8,0M1456.0,2785.2a2.9,2.9 0 1,0 5.8,0a2.9,2.9 0 1,0 -5.8,0M1460.4,2783.9a2.9,2.9 0 1,0 5.8,0a2.9,2.9 0 1,0 -5.8,0M1465.7,2785.6a2.9,2.9 0 1,0 5.8,0a2.9,2.9 0 1,0 -5.8,0M1469.8,2784.0a2.9,2.9 0 1,0 5.8,0a2.9,2.9 0 1,0 -5.8,0M1474.3,2784.0a2.9,2.9 0 1,0 5.8,0a2.9,2.9 0 1,0 -5.8,0M1479.8,2783.9a2.9,2.9 0 1,0 5.8,0a2.9,2.9 0 1,0 -5.8,0M1483.3,2785.6a2.9,2.9 0 1,0 5.8,0a2.9,2.9 0 1,0 -5.8,0M1487.7,2784.0a2.9,2.9 0 1,0 5.8,0a2.9,2.9 0 1,0 -5.8,0M1492.1,2784.2a2.9,2.9 0 1,0 5.8,0a2.9,2.9 0 1,0 -5.8,0M1497.5,2785.8a2.9,2.9 0 1,0 5.8,0a2.9,2.9 0 1,0 -5.8,0M1501.5,2784.2a2.9,2.9 0 1,0 5.8,0a2.9,2.9 0 1,0 -5.8,0M1507.0,2784.7a2.9,2.9 0 1,0 5.8,0a2.9,2.9 0 1,0 -5.8,0M1510.9,2784.0a2.9,2.9 0 1,0 5.8,0a2.9,2.9 0 1,0 -5.8,0M1515.4,2786.0a2.9,2.9 0 1,0 5.8,0a2.9,2.9 0 1,0 -5.8,0M1519.8,2784.2a2.9,2.9 0 1,0 5.8,0a2.9,2.9 0 1,0 -5.8,0M1525.4,2785.7a2.9,2.9 0 1,0 5.8,0a2.9,2.9 0 1,0 -5.8,0M1530.2,2784.6a2.9,2.9 0 1,0 5.8,0a2.9,2.9 0 1,0 -5.8,0M1534.9,2784.8a2.9,2.9 0 1,0 5.8,0a2.9,2.9 0 1,0 -5.8,0M1538.4,2784.4a2.9,2.9 0 1,0 5.8,0a2.9,2.9 0 1,0 -5.8,0M1543.7,2784.8a2.9,2.9 0 1,0 5.8,0a2.9,2.9 0 1,0 -5.8,0M1547.4,2783.4a2.9,2.9 0 1,0 5.8,0a2.9,2.9 0 1,0 -5.8,0M1553.3,2782.9a2.9,2.9 0 1,0 5.8,0a2.9,2.9 0 1,0 -5.8,0M1557.6,2783.2a2.9,2.9 0 1,0 5.8,0a2.9,2.9 0 1,0 -5.8,0M1561.3,2782.8a2.9,2.9 0 1,0 5.8,0a2.9,2.9 0 1,0 -5.8,0M1566.3,2784.1a2.9,2.9 0 1,0 5.8,0a2.9,2.9 0 1,0 -5.8,0M1570.4,2783.4a2.9,2.9 0 1,0 5.8,0a2.9,2.9 0 1,0 -5.8,0M1575.2,2781.2a2.9,2.9 0 1,0 5.8,0a2.9,2.9 0 1,0 -5.8,0M1580.5,2781.0a2.9,2.9 0 1,0 5.8,0a2.9,2.9 0 1,0 -5.8,0M1584.2,2780.6a2.9,2.9 0 1,0 5.8,0a2.9,2.9 0 1,0 -5.8,0M1589.8,2780.7a2.9,2.9 0 1,0 5.8,0a2.9,2.9 0 1,0 -5.8,0M1594.0,2777.8a2.9,2.9 0 1,0 5.8,0a2.9,2.9 0 1,0 -5.8,0M1598.9,2778.1a2.9,2.9 0 1,0 5.8,0a2.9,2.9 0 1,0 -5.8,0M1603.7,2777.7a2.9,2.9 0 1,0 5.8,0a2.9,2.9 0 1,0 -5.8,0M1607.4,2776.4a2.9,2.9 0 1,0 5.8,0a2.9,2.9 0 1,0 -5.8,0M1612.8,2773.2a2.9,2.9 0 1,0 5.8,0a2.9,2.9 0 1,0 -5.8,0M1616.6,2772.1a2.9,2.9 0 1,0 5.8,0a2.9,2.9 0 1,0 -5.8,0M1621.2,2770.4a2.9,2.9 0 1,0 5.8,0a2.9,2.9 0 1,0 -5.8,0M1625.4,2768.3a2.9,2.9 0 1,0 5.8,0a2.9,2.9 0 1,0 -5.8,0M1631.3,2766.0a2.9,2.9 0 1,0 5.8,0a2.9,2.9 0 1,0 -5.8,0M1635.4,2765.2a2.9,2.9 0 1,0 5.8,0a2.9,2.9 0 1,0 -5.8,0M1640.2,2761.1a2.9,2.9 0 1,0 5.8,0a2.9,2.9 0 1,0 -5.8,0M1645.1,2759.8a2.9,2.9 0 1,0 5.8,0a2.9,2.9 0 1,0 -5.8,0M1649.8,2757.0a2.9,2.9 0 1,0 5.8,0a2.9,2.9 0 1,0 -5.8,0M1654.0,2754.8a2.9,2.9 0 1,0 5.8,0a2.9,2.9 0 1,0 -5.8,0M1657.8,2752.1a2.9,2.9 0 1,0 5.8,0a2.9,2.9 0 1,0 -5.8,0M1662.6,2749.7a2.9,2.9 0 1,0 5.8,0a2.9,2.9 0 1,0 -5.8,0M1666.8,2746.5a2.9,2.9 0 1,0 5.8,0a2.9,2.9 0 1,0 -5.8,0M1671.7,2744.2a2.9,2.9 0 1,0 5.8,0a2.9,2.9 0 1,0 -5.8,0M1676.3,2741.6a2.9,2.9 0 1,0 5.8,0a2.9,2.9 0 1,0 -5.8,0M1681.7,2738.7a2.9,2.9 0 1,0 5.8,0a2.9,2.9 0 1,0 -5.8,0M1685.2,2737.1a2.9,2.9 0 1,0 5.8,0a2.9,2.9 0 1,0 -5.8,0M1690.7,2733.7a2.9,2.9 0 1,0 5.8,0a2.9,2.9 0 1,0 -5.8,0M1695.2,2730.3a2.9,2.9 0 1,0 5.8,0a2.9,2.9 0 1,0 -5.8,0M1700.1,2729.6a2.9,2.9 0 1,0 5.8,0a2.9,2.9 0 1,0 -5.8,0M1704.1,2727.7a2.9,2.9 0 1,0 5.8,0a2.9,2.9 0 1,0 -5.8,0M1709.2,2727.3a2.9,2.9 0 1,0 5.8,0a2.9,2.9 0 1,0 -5.8,0M1713.9,2724.8a2.9,2.9 0 1,0 5.8,0a2.9,2.9 0 1,0 -5.8,0M1717.6,2724.2a2.9,2.9 0 1,0 5.8,0a2.9,2.9 0 1,0 -5.8,0M1721.9,2723.7a2.9,2.9 0 1,0 5.8,0a2.9,2.9 0 1,0 -5.8,0M1726.3,2724.2a2.9,2.9 0 1,0 5.8,0a2.9,2.9 0 1,0 -5.8,0M1731.2,2721.9a2.9,2.9 0 1,0 5.8,0a2.9,2.9 0 1,0 -5.8,0M1735.6,2723.1a2.9,2.9 0 1,0 5.8,0a2.9,2.9 0 1,0 -5.8,0M1740.4,2722.0a2.9,2.9 0 1,0 5.8,0a2.9,2.9 0 1,0 -5.8,0M1745.3,2722.3a2.9,2.9 0 1,0 5.8,0a2.9,2.9 0 1,0 -5.8,0M1750.8,2720.4a2.9,2.9 0 1,0 5.8,0a2.9,2.9 0 1,0 -5.8,0M1754.9,2721.1a2.9,2.9 0 1,0 5.8,0a2.9,2.9 0 1,0 -5.8,0M1759.2,2720.3a2.9,2.9 0 1,0 5.8,0a2.9,2.9 0 1,0 -5.8,0M1764.2,2717.7a2.9,2.9 0 1,0 5.8,0a2.9,2.9 0 1,0 -5.8,0M1769.0,2717.0a2.9,2.9 0 1,0 5.8,0a2.9,2.9 0 1,0 -5.8,0M1772.4,2716.0a2.9,2.9 0 1,0 5.8,0a2.9,2.9 0 1,0 -5.8,0M1778.1,2713.8a2.9,2.9 0 1,0 5.8,0a2.9,2.9 0 1,0 -5.8,0M1782.2,2712.0a2.9,2.9 0 1,0 5.8,0a2.9,2.9 0 1,0 -5.8,0M1787.4,2710.3a2.9,2.9 0 1,0 5.8,0a2.9,2.9 0 1,0 -5.8,0M1790.9,2708.0a2.9,2.9 0 1,0 5.8,0a2.9,2.9 0 1,0 -5.8,0M1795.8,2707.0a2.9,2.9 0 1,0 5.8,0a2.9,2.9 0 1,0 -5.8,0M1800.9,2702.4a2.9,2.9 0 1,0 5.8,0a2.9,2.9 0 1,0 -5.8,0M1805.8,2699.6a2.9,2.9 0 1,0 5.8,0a2.9,2.9 0 1,0 -5.8,0M1809.9,2698.3a2.9,2.9 0 1,0 5.8,0a2.9,2.9 0 1,0 -5.8,0M1814.7,2695.5a2.9,2.9 0 1,0 5.8,0a2.9,2.9 0 1,0 -5.8,0M1818.3,2693.7a2.9,2.9 0 1,0 5.8,0a2.9,2.9 0 1,0 -5.8,0M1824.1,2690.9a2.9,2.9 0 1,0 5.8,0a2.9,2.9 0 1,0 -5.8,0M1827.9,2687.1a2.9,2.9 0 1,0 5.8,0a2.9,2.9 0 1,0 -5.8,0M1833.1,2685.1a2.9,2.9 0 1,0 5.8,0a2.9,2.9 0 1,0 -5.8,0M1836.9,2682.8a2.9,2.9 0 1,0 5.8,0a2.9,2.9 0 1,0 -5.8,0M1842.7,2677.4a2.9,2.9 0 1,0 5.8,0a2.9,2.9 0 1,0 -5.8,0M1846.3,2675.2a2.9,2.9 0 1,0 5.8,0a2.9,2.9 0 1,0 -5.8,0M1851.8,2669.2a2.9,2.9 0 1,0 5.8,0a2.9,2.9 0 1,0 -5.8,0M1855.4,2665.9a2.9,2.9 0 1,0 5.8,0a2.9,2.9 0 1,0 -5.8,0M1860.7,2659.8a2.9,2.9 0 1,0 5.8,0a2.9,2.9 0 1,0 -5.8,0M1865.0,2655.2a2.9,2.9 0 1,0 5.8,0a2.9,2.9 0 1,0 -5.8,0M1869.7,2647.5a2.9,2.9 0 1,0 5.8,0a2.9,2.9 0 1,0 -5.8,0M1874.8,2641.2a2.9,2.9 0 1,0 5.8,0a2.9,2.9 0 1,0 -5.8,0M1878.8,2633.4a2.9,2.9 0 1,0 5.8,0a2.9,2.9 0 1,0 -5.8,0M1882.8,2625.5a2.9,2.9 0 1,0 5.8,0a2.9,2.9 0 1,0 -5.8,0M1887.9,2613.3a2.9,2.9 0 1,0 5.8,0a2.9,2.9 0 1,0 -5.8,0M1893.0,2599.4a2.9,2.9 0 1,0 5.8,0a2.9,2.9 0 1,0 -5.8,0M1897.7,2586.1a2.9,2.9 0 1,0 5.8,0a2.9,2.9 0 1,0 -5.8,0M1900.9,2577.5a2.9,2.9 0 1,0 5.8,0a2.9,2.9 0 1,0 -5.8,0M1906.9,2560.0a2.9,2.9 0 1,0 5.8,0a2.9,2.9 0 1,0 -5.8,0M1911.5,2544.0a2.9,2.9 0 1,0 5.8,0a2.9,2.9 0 1,0 -5.8,0M1916.1,2529.3a2.9,2.9 0 1,0 5.8,0a2.9,2.9 0 1,0 -5.8,0M1919.4,2518.7a2.9,2.9 0 1,0 5.8,0a2.9,2.9 0 1,0 -5.8,0M1925.1,2500.5a2.9,2.9 0 1,0 5.8,0a2.9,2.9 0 1,0 -5.8,0M1929.4,2487.6a2.9,2.9 0 1,0 5.8,0a2.9,2.9 0 1,0 -5.8,0M1933.4,2477.0a2.9,2.9 0 1,0 5.8,0a2.9,2.9 0 1,0 -5.8,0M1938.4,2465.5a2.9,2.9 0 1,0 5.8,0a2.9,2.9 0 1,0 -5.8,0M1942.3,2456.9a2.9,2.9 0 1,0 5.8,0a2.9,2.9 0 1,0 -5.8,0M1947.3,2451.6a2.9,2.9 0 1,0 5.8,0a2.9,2.9 0 1,0 -5.8,0M1952.6,2446.6a2.9,2.9 0 1,0 5.8,0a2.9,2.9 0 1,0 -5.8,0M1956.4,2447.0a2.9,2.9 0 1,0 5.8,0a2.9,2.9 0 1,0 -5.8,0M1960.8,2449.5a2.9,2.9 0 1,0 5.8,0a2.9,2.9 0 1,0 -5.8,0M1966.6,2455.9a2.9,2.9 0 1,0 5.8,0a2.9,2.9 0 1,0 -5.8,0M1970.7,2465.2a2.9,2.9 0 1,0 5.8,0a2.9,2.9 0 1,0 -5.8,0M1975.5,2477.6a2.9,2.9 0 1,0 5.8,0a2.9,2.9 0 1,0 -5.8,0M1980.1,2490.4a2.9,2.9 0 1,0 5.8,0a2.9,2.9 0 1,0 -5.8,0M1984.9,2508.8a2.9,2.9 0 1,0 5.8,0a2.9,2.9 0 1,0 -5.8,0M1988.2,2521.4a2.9,2.9 0 1,0 5.8,0a2.9,2.9 0 1,0 -5.8,0M1993.4,2540.3a2.9,2.9 0 1,0 5.8,0a2.9,2.9 0 1,0 -5.8,0M1997.4,2558.7a2.9,2.9 0 1,0 5.8,0a2.9,2.9 0 1,0 -5.8,0M2003.0,2580.7a2.9,2.9 0 1,0 5.8,0a2.9,2.9 0 1,0 -5.8,0M2007.2,2599.7a2.9,2.9 0 1,0 5.8,0a2.9,2.9 0 1,0 -5.8,0M2012.7,2621.4a2.9,2.9 0 1,0 5.8,0a2.9,2.9 0 1,0 -5.8,0M2016.9,2637.9a2.9,2.9 0 1,0 5.8,0a2.9,2.9 0 1,0 -5.8,0M2020.6,2651.7a2.9,2.9 0 1,0 5.8,0a2.9,2.9 0 1,0 -5.8,0M2025.5,2670.3a2.9,2.9 0 1,0 5.8,0a2.9,2.9 0 1,0 -5.8,0M2029.9,2683.9a2.9,2.9 0 1,0 5.8,0a2.9,2.9 0 1,0 -5.8,0M2034.4,2697.2a2.9,2.9 0 1,0 5.8,0a2.9,2.9 0 1,0 -5.8,0M2038.9,2710.3a2.9,2.9 0 1,0 5.8,0a2.9,2.9 0 1,0 -5.8,0M2044.0,2722.6a2.9,2.9 0 1,0 5.8,0a2.9,2.9 0 1,0 -5.8,0M2048.6,2733.1a2.9,2.9 0 1,0 5.8,0a2.9,2.9 0 1,0 -5.8,0M2054.0,2743.4a2.9,2.9 0 1,0 5.8,0a2.9,2.9 0 1,0 -5.8,0M2058.5,2750.7a2.9,2.9 0 1,0 5.8,0a2.9,2.9 0 1,0 -5.8,0M2061.9,2755.9a2.9,2.9 0 1,0 5.8,0a2.9,2.9 0 1,0 -5.8,0M2066.4,2760.5a2.9,2.9 0 1,0 5.8,0a2.9,2.9 0 1,0 -5.8,0M2070.9,2766.5a2.9,2.9 0 1,0 5.8,0a2.9,2.9 0 1,0 -5.8,0M2076.9,2771.1a2.9,2.9 0 1,0 5.8,0a2.9,2.9 0 1,0 -5.8,0M2080.5,2773.8a2.9,2.9 0 1,0 5.8,0a2.9,2.9 0 1,0 -5.8,0M2085.1,2777.3a2.9,2.9 0 1,0 5.8,0a2.9,2.9 0 1,0 -5.8,0M2089.8,2778.4a2.9,2.9 0 1,0 5.8,0a2.9,2.9 0 1,0 -5.8,0M2095.1,2781.7a2.9,2.9 0 1,0 5.8,0a2.9,2.9 0 1,0 -5.8,0M2098.4,2783.5a2.9,2.9 0 1,0 5.8,0a2.9,2.9 0 1,0 -5.8,0M2104.1,2784.0a2.9,2.9 0 1,0 5.8,0a2.9,2.9 0 1,0 -5.8,0M2108.5,2786.5a2.9,2.9 0 1,0 5.8,0a2.9,2.9 0 1,0 -5.8,0M2112.8,2786.2a2.9,2.9 0 1,0 5.8,0a2.9,2.9 0 1,0 -5.8,0M2117.2,2787.3a2.9,2.9 0 1,0 5.8,0a2.9,2.9 0 1,0 -5.8,0M2122.4,2788.5a2.9,2.9 0 1,0 5.8,0a2.9,2.9 0 1,0 -5.8,0M2127.4,2787.8a2.9,2.9 0 1,0 5.8,0a2.9,2.9 0 1,0 -5.8,0M2131.1,2789.9a2.9,2.9 0 1,0 5.8,0a2.9,2.9 0 1,0 -5.8,0M2136.4,2789.9a2.9,2.9 0 1,0 5.8,0a2.9,2.9 0 1,0 -5.8,0M2140.8,2789.7a2.9,2.9 0 1,0 5.8,0a2.9,2.9 0 1,0 -5.8,0M2145.8,2790.6a2.9,2.9 0 1,0 5.8,0a2.9,2.9 0 1,0 -5.8,0M2149.5,2790.0a2.9,2.9 0 1,0 5.8,0a2.9,2.9 0 1,0 -5.8,0M2153.6,2792.1a2.9,2.9 0 1,0 5.8,0a2.9,2.9 0 1,0 -5.8,0M2159.3,2790.4a2.9,2.9 0 1,0 5.8,0a2.9,2.9 0 1,0 -5.8,0M2163.2,2791.7a2.9,2.9 0 1,0 5.8,0a2.9,2.9 0 1,0 -5.8,0M2168.0,2791.7a2.9,2.9 0 1,0 5.8,0a2.9,2.9 0 1,0 -5.8,0M2173.3,2792.0a2.9,2.9 0 1,0 5.8,0a2.9,2.9 0 1,0 -5.8,0M2177.3,2793.6a2.9,2.9 0 1,0 5.8,0a2.9,2.9 0 1,0 -5.8,0M2182.0,2792.8a2.9,2.9 0 1,0 5.8,0a2.9,2.9 0 1,0 -5.8,0M2186.1,2792.8a2.9,2.9 0 1,0 5.8,0a2.9,2.9 0 1,0 -5.8,0M2191.2,2794.0a2.9,2.9 0 1,0 5.8,0a2.9,2.9 0 1,0 -5.8,0M2195.2,2793.2a2.9,2.9 0 1,0 5.8,0a2.9,2.9 0 1,0 -5.8,0M2200.0,2793.4a2.9,2.9 0 1,0 5.8,0a2.9,2.9 0 1,0 -5.8,0M2205.4,2794.1a2.9,2.9 0 1,0 5.8,0a2.9,2.9 0 1,0 -5.8,0M2209.0,2793.7a2.9,2.9 0 1,0 5.8,0a2.9,2.9 0 1,0 -5.8,0M2214.5,2793.6a2.9,2.9 0 1,0 5.8,0a2.9,2.9 0 1,0 -5.8,0M2218.9,2793.4a2.9,2.9 0 1,0 5.8,0a2.9,2.9 0 1,0 -5.8,0M2222.7,2793.6a2.9,2.9 0 1,0 5.8,0a2.9,2.9 0 1,0 -5.8,0M2228.2,2794.1a2.9,2.9 0 1,0 5.8,0a2.9,2.9 0 1,0 -5.8,0M2231.9,2794.0a2.9,2.9 0 1,0 5.8,0a2.9,2.9 0 1,0 -5.8,0M2236.6,2795.8a2.9,2.9 0 1,0 5.8,0a2.9,2.9 0 1,0 -5.8,0M2241.9,2796.4a2.9,2.9 0 1,0 5.8,0a2.9,2.9 0 1,0 -5.8,0M2246.8,2795.7a2.9,2.9 0 1,0 5.8,0a2.9,2.9 0 1,0 -5.8,0M2251.4,2794.7a2.9,2.9 0 1,0 5.8,0a2.9,2.9 0 1,0 -5.8,0M2256.0,2795.7a2.9,2.9 0 1,0 5.8,0a2.9,2.9 0 1,0 -5.8,0M2259.4,2796.6a2.9,2.9 0 1,0 5.8,0a2.9,2.9 0 1,0 -5.8,0M2265.1,2795.9a2.9,2.9 0 1,0 5.8,0a2.9,2.9 0 1,0 -5.8,0M2268.4,2797.2a2.9,2.9 0 1,0 5.8,0a2.9,2.9 0 1,0 -5.8,0M2274.1,2796.7a2.9,2.9 0 1,0 5.8,0a2.9,2.9 0 1,0 -5.8,0M2279.0,2795.5a2.9,2.9 0 1,0 5.8,0a2.9,2.9 0 1,0 -5.8,0M2282.2,2795.8a2.9,2.9 0 1,0 5.8,0a2.9,2.9 0 1,0 -5.8,0M2286.7,2797.3a2.9,2.9 0 1,0 5.8,0a2.9,2.9 0 1,0 -5.8,0M2292.3,2796.0a2.9,2.9 0 1,0 5.8,0a2.9,2.9 0 1,0 -5.8,0M2296.1,2796.3a2.9,2.9 0 1,0 5.8,0a2.9,2.9 0 1,0 -5.8,0M2301.4,2797.6a2.9,2.9 0 1,0 5.8,0a2.9,2.9 0 1,0 -5.8,0M2306.6,2797.0a2.9,2.9 0 1,0 5.8,0a2.9,2.9 0 1,0 -5.8,0M2311.2,2797.3a2.9,2.9 0 1,0 5.8,0a2.9,2.9 0 1,0 -5.8,0M2314.9,2797.0a2.9,2.9 0 1,0 5.8,0a2.9,2.9 0 1,0 -5.8,0M2319.2,2798.8a2.9,2.9 0 1,0 5.8,0a2.9,2.9 0 1,0 -5.8,0M2325.0,2798.3a2.9,2.9 0 1,0 5.8,0a2.9,2.9 0 1,0 -5.8,0M2328.3,2797.1a2.9,2.9 0 1,0 5.8,0a2.9,2.9 0 1,0 -5.8,0M2332.8,2797.6a2.9,2.9 0 1,0 5.8,0a2.9,2.9 0 1,0 -5.8,0" fill="#fff" fill-opacity="0.5" stroke="#62bcf8" stroke-width="1.3"/>
<path d="M1962.8,2041.8V2149.2" stroke="#000" stroke-width="4.0" stroke-dasharray="7.8 5.2"/>
<path d="M1876.9,2201.4V2293.4" stroke="#000" stroke-width="4.0" stroke-dasharray="7.8 5.2"/>
<path d="M1757.2,2227.0V2308.7" stroke="#000" stroke-width="4.0" stroke-dasharray="7.8 5.2"/>
<path d="M1962.8,2439.2V2545.3" stroke="#000" stroke-width="4.0" stroke-dasharray="7.8 5.2"/>
<path d="M1846.2,2677.2V2763.0" stroke="#000" stroke-width="4.0" stroke-dasharray="7.8 5.2"/>
<path d="M1711.0,2695.7V2778.5" stroke="#000" stroke-width="4.0" stroke-dasharray="7.8 5.2"/>
<text transform="translate(1316.4,2067.3) scale(1,1.080)" x="0.0" y="0" font-size="56.7" fill="#000"><tspan>(f)</tspan></text>
<text transform="translate(2242.0,2061.5)" x="0.0" y="0" font-size="45.1" fill="#000"><tspan>N 1s</tspan></text>
<text transform="translate(2024.2,2115.5)" x="0.0" y="0" font-size="41.0" fill="#0a22cc"><tspan>C-N=C</tspan></text>
<text transform="translate(2015.0,2176.8)" x="0.0" y="0" font-size="40.5" fill="#0a22cc"><tspan>398.64 eV</tspan></text>
<text transform="translate(1750.1,2128.6)" x="0.0" y="0" font-size="40.9" fill="#ff0000"><tspan font-weight="normal" stroke="#ff0000" stroke-width="0.9">N-(C)</tspan><tspan dy="7.8" font-weight="normal" stroke="#ff0000" stroke-width="0.9">3</tspan></text>
<text transform="translate(1685.4,2175.6)" x="0.0" y="0" font-size="40.1" fill="#ff0000"><tspan>399.50 eV</tspan></text>
<text transform="translate(1585.3,2219.8)" x="0.0" y="0" font-size="40.4" fill="#6a14b0"><tspan>C-N-H</tspan></text>
<text transform="translate(1565.0,2257.8)" x="0.0" y="0" font-size="39.5" fill="#6a14b0"><tspan>400.67 eV</tspan></text>
<text transform="translate(1312.3,2318.0)" x="0.0" y="0" font-size="41.4" fill="#000"><tspan font-style="italic">g</tspan><tspan>-C</tspan><tspan dy="9.9" font-size="25.6">3</tspan><tspan dy="-9.9">N</tspan><tspan dy="9.9" font-size="25.6">4</tspan><tspan dy="-9.9">/BiOBr</tspan></text>
<text transform="translate(2016.8,2493.2)" x="0.0" y="0" font-size="39.4" fill="#0a22cc"><tspan>C-N=C</tspan></text>
<text transform="translate(2016.8,2553.3)" x="0.0" y="0" font-size="40.1" fill="#0a22cc"><tspan>398.65 eV</tspan></text>
<text transform="translate(1743.0,2573.0)" x="0.0" y="0" font-size="41.0" fill="#ff0000"><tspan font-weight="normal" stroke="#ff0000" stroke-width="0.9">N-(C)</tspan><tspan dy="7.8" font-weight="normal" stroke="#ff0000" stroke-width="0.9">3</tspan></text>
<text transform="translate(1705.0,2620.8)" x="0.0" y="0" font-size="39.8" fill="#ff0000"><tspan>399.80 eV</tspan></text>
<text transform="translate(1583.5,2660.0)" x="0.0" y="0" font-size="39.5" fill="#6a14b0"><tspan>C-N-H</tspan></text>
<text transform="translate(1534.4,2708.0)" x="0.0" y="0" font-size="40.8" fill="#6a14b0"><tspan>401.11 eV</tspan></text>
<text transform="translate(1313.5,2766.2)" x="0.0" y="0" font-size="43.2" fill="#000"><tspan font-style="italic">g</tspan><tspan>-C</tspan><tspan dy="1.7" font-size="34.6" font-family="Liberation Sans, Arial, sans-serif">3</tspan><tspan dy="-1.7">N</tspan><tspan dy="1.7" font-size="34.6" font-family="Liberation Sans, Arial, sans-serif">4</tspan></text>
<rect x="129.0" y="19.3" width="1035.0" height="830.7" fill="none" stroke="#000" stroke-width="5"/>
<path d="M301.5,850.0V833.0M474.0,850.0V833.0M646.5,850.0V833.0M819.0,850.0V833.0M991.5,850.0V833.0M215.2,850.0V841.0M387.8,850.0V841.0M560.2,850.0V841.0M732.8,850.0V841.0M905.2,850.0V841.0M1077.8,850.0V841.0" stroke="#000" stroke-width="4.5" fill="none"/>
<text transform="translate(129.0,909.0) scale(1,1.050)" x="-53.0" y="0" font-size="53.0" fill="#000"><tspan>1200</tspan></text>
<text transform="translate(301.5,909.0) scale(1,1.050)" x="-53.0" y="0" font-size="53.0" fill="#000"><tspan>1000</tspan></text>
<text transform="translate(474.0,909.0) scale(1,1.050)" x="-39.8" y="0" font-size="53.0" fill="#000"><tspan>800</tspan></text>
<text transform="translate(646.5,909.0) scale(1,1.050)" x="-39.8" y="0" font-size="53.0" fill="#000"><tspan>600</tspan></text>
<text transform="translate(819.0,909.0) scale(1,1.050)" x="-39.8" y="0" font-size="53.0" fill="#000"><tspan>400</tspan></text>
<text transform="translate(991.5,909.0) scale(1,1.050)" x="-39.8" y="0" font-size="53.0" fill="#000"><tspan>200</tspan></text>
<text transform="translate(1164.0,909.0) scale(1,1.050)" x="-13.2" y="0" font-size="53.0" fill="#000"><tspan>0</tspan></text>
<rect x="1298.0" y="21.5" width="1032.5" height="828.5" fill="none" stroke="#000" stroke-width="5"/>
<path d="M1401.2,850.0V833.0M1607.8,850.0V833.0M1814.2,850.0V833.0M2020.8,850.0V833.0M2227.2,850.0V833.0M1504.5,850.0V841.0M1711.0,850.0V841.0M1917.5,850.0V841.0M2124.0,850.0V841.0" stroke="#000" stroke-width="4.5" fill="none"/>
<text transform="translate(1401.2,911.0) scale(1,1.050)" x="-39.8" y="0" font-size="53.0" fill="#000"><tspan>166</tspan></text>
<text transform="translate(1607.8,911.0) scale(1,1.050)" x="-39.8" y="0" font-size="53.0" fill="#000"><tspan>164</tspan></text>
<text transform="translate(1814.2,911.0) scale(1,1.050)" x="-39.8" y="0" font-size="53.0" fill="#000"><tspan>162</tspan></text>
<text transform="translate(2020.8,911.0) scale(1,1.050)" x="-39.8" y="0" font-size="53.0" fill="#000"><tspan>160</tspan></text>
<text transform="translate(2227.2,911.0) scale(1,1.050)" x="-39.8" y="0" font-size="53.0" fill="#000"><tspan>158</tspan></text>
<rect x="129.3" y="1017.5" width="1032.0" height="828.5" fill="none" stroke="#000" stroke-width="5"/>
<path d="M335.7,1846.0V1829.0M542.1,1846.0V1829.0M748.5,1846.0V1829.0M954.9,1846.0V1829.0M232.5,1846.0V1837.0M438.9,1846.0V1837.0M645.3,1846.0V1837.0M851.7,1846.0V1837.0M1058.1,1846.0V1837.0" stroke="#000" stroke-width="4.5" fill="none"/>
<text transform="translate(129.3,1904.5) scale(1,1.050)" x="-26.5" y="0" font-size="53.0" fill="#000"><tspan>74</tspan></text>
<text transform="translate(335.7,1904.5) scale(1,1.050)" x="-26.5" y="0" font-size="53.0" fill="#000"><tspan>72</tspan></text>
<text transform="translate(542.1,1904.5) scale(1,1.050)" x="-26.5" y="0" font-size="53.0" fill="#000"><tspan>70</tspan></text>
<text transform="translate(748.5,1904.5) scale(1,1.050)" x="-26.5" y="0" font-size="53.0" fill="#000"><tspan>68</tspan></text>
<text transform="translate(954.9,1904.5) scale(1,1.050)" x="-26.5" y="0" font-size="53.0" fill="#000"><tspan>66</tspan></text>
<text transform="translate(1161.3,1904.5) scale(1,1.050)" x="-26.5" y="0" font-size="53.0" fill="#000"><tspan>64</tspan></text>
<rect x="1297.6" y="1015.4" width="1032.7" height="836.0" fill="none" stroke="#000" stroke-width="5"/>
<path d="M1641.8,1851.4V1834.4M1986.1,1851.4V1834.4M1412.4,1851.4V1842.4M1527.1,1851.4V1842.4M1756.6,1851.4V1842.4M1871.3,1851.4V1842.4M2100.8,1851.4V1842.4M2215.5,1851.4V1842.4" stroke="#000" stroke-width="4.5" fill="none"/>
<text transform="translate(1297.6,1910.0) scale(1,1.050)" x="-39.8" y="0" font-size="53.0" fill="#000"><tspan>540</tspan></text>
<text transform="translate(1641.8,1910.0) scale(1,1.050)" x="-39.8" y="0" font-size="53.0" fill="#000"><tspan>535</tspan></text>
<text transform="translate(1986.1,1910.0) scale(1,1.050)" x="-39.8" y="0" font-size="53.0" fill="#000"><tspan>530</tspan></text>
<text transform="translate(2330.3,1910.0) scale(1,1.050)" x="-39.8" y="0" font-size="53.0" fill="#000"><tspan>525</tspan></text>
<rect x="124.4" y="2014.0" width="1031.6" height="830.0" fill="none" stroke="#000" stroke-width="5"/>
<path d="M296.3,2844.0V2827.0M468.3,2844.0V2827.0M640.2,2844.0V2827.0M812.1,2844.0V2827.0M984.1,2844.0V2827.0M210.4,2844.0V2835.0M382.3,2844.0V2835.0M554.2,2844.0V2835.0M726.2,2844.0V2835.0M898.1,2844.0V2835.0M1070.0,2844.0V2835.0" stroke="#000" stroke-width="4.5" fill="none"/>
<text transform="translate(124.4,2904.0) scale(1,1.050)" x="-39.8" y="0" font-size="53.0" fill="#000"><tspan>292</tspan></text>
<text transform="translate(296.3,2904.0) scale(1,1.050)" x="-39.8" y="0" font-size="53.0" fill="#000"><tspan>290</tspan></text>
<text transform="translate(468.3,2904.0) scale(1,1.050)" x="-39.8" y="0" font-size="53.0" fill="#000"><tspan>288</tspan></text>
<text transform="translate(640.2,2904.0) scale(1,1.050)" x="-39.8" y="0" font-size="53.0" fill="#000"><tspan>286</tspan></text>
<text transform="translate(812.1,2904.0) scale(1,1.050)" x="-39.8" y="0" font-size="53.0" fill="#000"><tspan>284</tspan></text>
<text transform="translate(984.1,2904.0) scale(1,1.050)" x="-39.8" y="0" font-size="53.0" fill="#000"><tspan>282</tspan></text>
<text transform="translate(1156.0,2904.0) scale(1,1.050)" x="-39.8" y="0" font-size="53.0" fill="#000"><tspan>280</tspan></text>
<rect x="1307.0" y="2014.7" width="1034.3" height="828.3" fill="none" stroke="#000" stroke-width="5"/>
<path d="M1410.4,2843.0V2826.0M1617.3,2843.0V2826.0M1824.2,2843.0V2826.0M2031.0,2843.0V2826.0M2237.9,2843.0V2826.0M1513.9,2843.0V2834.0M1720.7,2843.0V2834.0M1927.6,2843.0V2834.0M2134.4,2843.0V2834.0" stroke="#000" stroke-width="4.5" fill="none"/>
<text transform="translate(1410.4,2904.0) scale(1,1.050)" x="-39.8" y="0" font-size="53.0" fill="#000"><tspan>404</tspan></text>
<text transform="translate(1617.3,2904.0) scale(1,1.050)" x="-39.8" y="0" font-size="53.0" fill="#000"><tspan>402</tspan></text>
<text transform="translate(1824.2,2904.0) scale(1,1.050)" x="-39.8" y="0" font-size="53.0" fill="#000"><tspan>400</tspan></text>
<text transform="translate(2031.0,2904.0) scale(1,1.050)" x="-39.8" y="0" font-size="53.0" fill="#000"><tspan>398</tspan></text>
<text transform="translate(2237.9,2904.0) scale(1,1.050)" x="-39.8" y="0" font-size="53.0" fill="#000"><tspan>396</tspan></text>
<text transform="translate(646.8,989.6)" x="-303.5" y="0" font-size="70.5" fill="#000"><tspan>Binding energy (eV)</tspan></text>
<text transform="translate(1813.9,983.8)" x="-303.5" y="0" font-size="70.5" fill="#000"><tspan>Binding energy (eV)</tspan></text>
<text transform="translate(645.8,1985.5)" x="-303.5" y="0" font-size="70.5" fill="#000"><tspan>Binding energy (eV)</tspan></text>
<text transform="translate(1814.9,1981.8)" x="-303.5" y="0" font-size="70.5" fill="#000"><tspan>Binding energy (eV)</tspan></text>
<text transform="translate(641.6,2973.8)" x="-303.5" y="0" font-size="70.5" fill="#000"><tspan>Binding energy (eV)</tspan></text>
<text transform="translate(1821.0,2975.0)" x="-303.5" y="0" font-size="70.5" fill="#000"><tspan>Binding energy (eV)</tspan></text>
<text transform="translate(87.3,434.2) rotate(-90)" x="-219.4" y="0" font-size="70.2" fill="#000"><tspan>Intensity (a.u.)</tspan></text>
<text transform="translate(1256.2,435.3) rotate(-90)" x="-219.4" y="0" font-size="70.2" fill="#000"><tspan>Intensity (a.u.)</tspan></text>
<text transform="translate(87.8,1432.5) rotate(-90)" x="-219.4" y="0" font-size="70.2" fill="#000"><tspan>Intensity (a.u.)</tspan></text>
<text transform="translate(1255.0,1432.5) rotate(-90)" x="-219.4" y="0" font-size="70.2" fill="#000"><tspan>Intensity (a.u.)</tspan></text>
<text transform="translate(82.2,2428.4) rotate(-90)" x="-219.4" y="0" font-size="70.2" fill="#000"><tspan>Intensity (a.u.)</tspan></text>
<text transform="translate(1263.8,2429.5) rotate(-90)" x="-219.4" y="0" font-size="70.2" fill="#000"><tspan>Intensity (a.u.)</tspan></text></svg></body></html>
